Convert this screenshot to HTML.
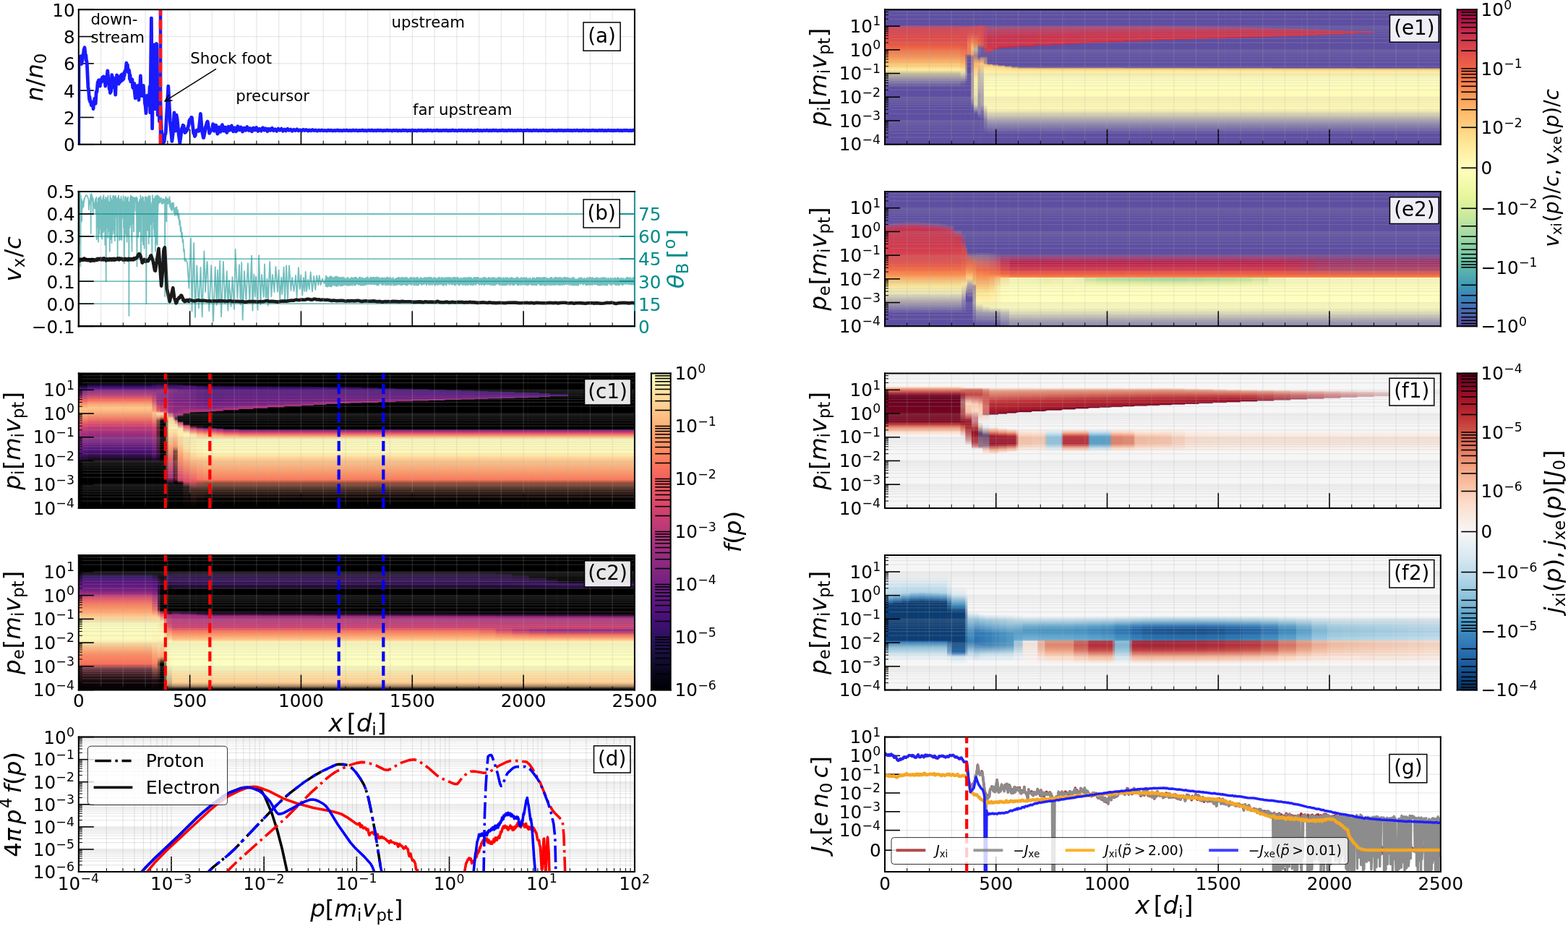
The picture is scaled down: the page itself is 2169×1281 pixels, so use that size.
<!DOCTYPE html>
<html><head><meta charset="utf-8"><title>figure</title>
<style>html,body{margin:0;padding:0;background:#fff;width:2169px;height:1281px;overflow:hidden}svg{display:block}</style>
</head><body>
<svg xmlns="http://www.w3.org/2000/svg" xmlns:xlink="http://www.w3.org/1999/xlink" width="2169" height="1281" viewBox="0 0 2169 1281"><defs><style>.s0{stroke:#000000}.s1{fill:none;stroke:#b0b0b0;stroke-opacity:0.2;stroke-width:1.3;stroke-linecap:square}.s2{stroke:#000000;stroke-width:1.6}.s3{fill:none;stroke:#b0b0b0;stroke-opacity:0.3;stroke-width:1.2;stroke-linecap:square}.s4{font-size:24.7px;font-family:'DejaVu Sans', 'Liberation Sans', sans-serif}.s5{font-size:17.29px;font-family:'DejaVu Sans', 'Liberation Sans', sans-serif}.s6{fill:none;stroke:#000000;stroke-width:2;stroke-linejoin:miter;stroke-linecap:square}.s7{font-style:oblique;font-size:32.5px;font-family:'DejaVu Sans', 'Liberation Sans', sans-serif}.s8{font-size:22.75px;font-family:'DejaVu Sans', 'Liberation Sans', sans-serif}.s9{font-size:32.5px;font-family:'DejaVu Sans', 'Liberation Sans', sans-serif}.s10{font-size:18.8px;font-family:'DejaVu Sans', 'Liberation Sans', sans-serif}.s11{fill:#ffffff}.s12{font-size:24.7px;font-family:'DejaVu Sans', 'Liberation Sans', sans-serif;text-anchor:end}.s13{font-size:24.7px;font-family:'DejaVu Sans', 'Liberation Sans', sans-serif;text-anchor:middle}.s14{fill:#ffffff;fill-opacity:0.9;stroke:#000000;stroke-width:1.5;stroke-linejoin:miter}.s15{font-size:27.8px;font-family:'DejaVu Sans', 'Liberation Sans', sans-serif;text-anchor:middle}.s16{font-size:13.16px;font-family:'DejaVu Sans', 'Liberation Sans', sans-serif}.s17{font-size:28px;font-family:'DejaVu Sans', 'Liberation Sans', sans-serif}.s18{font-size:21.3px;font-family:'DejaVu Sans', 'Liberation Sans', sans-serif;text-anchor:start}.s19{fill:none;stroke:#008b8b;stroke-opacity:0.75;stroke-width:1.3;stroke-linecap:square}.s20{fill:#008b8b;stroke:#008b8b;stroke-width:1.6}.s21{font-size:24.7px;font-family:'DejaVu Sans', 'Liberation Sans', sans-serif;text-anchor:start;fill:#008b8b}.s22{font-style:oblique;font-size:28px;font-family:'DejaVu Sans', 'Liberation Sans', sans-serif}.s23{font-style:oblique;font-size:18.8px;font-family:'DejaVu Sans', 'Liberation Sans', sans-serif}.s24{fill:none;stroke-dasharray:13.86,5.88;stroke-dashoffset:0;stroke:#ff0000;stroke-width:4.2}.s25{fill:none;stroke-dasharray:13.86,5.88;stroke-dashoffset:0;stroke:#0000ff;stroke-width:4.2}.s26{font-style:oblique;font-size:33.5px;font-family:'DejaVu Sans', 'Liberation Sans', sans-serif}.s27{font-size:33.5px;font-family:'DejaVu Sans', 'Liberation Sans', sans-serif}.s28{font-size:19.6px;font-family:'DejaVu Sans', 'Liberation Sans', sans-serif}.s29{fill:none;stroke:#000000;stroke-width:1.5;stroke-linecap:round}.s30{font-size:22.75px;font-family:'DejaVu Sans', 'Liberation Sans', sans-serif;fill:#008b8b}.s31{font-size:32.5px;font-family:'DejaVu Sans', 'Liberation Sans', sans-serif;fill:#008b8b}.s32{font-size:23.45px;font-family:'DejaVu Sans', 'Liberation Sans', sans-serif}.s33{fill:none;stroke:#ff0000;stroke-width:3.6;stroke-linecap:square}.s34{fill:none;stroke:#0000ff;stroke-width:3.6;stroke-linecap:square}.s35{fill:#ffffff;opacity:0.8;stroke:#000000;stroke-linejoin:miter}.s36{font-size:25.1px;font-family:'DejaVu Sans', 'Liberation Sans', sans-serif;text-anchor:start}</style><style type="text/css">*{stroke-linejoin: round; stroke-linecap: butt}</style></defs><path d="M 0 1281 
L 2169 1281 
L 2169 0 
L 0 0 
z
" class="s11"/><path d="M 108.8 199.7 
L 877.9 199.7 
L 877.9 13.3 
L 108.8 13.3 
z
" class="s11"/><path d="M 108.8 199.7 
L 108.8 13.3 
" class="s3"/><defs><path id="k0" d="M 0 0 
L 0 -21 
" class="s2"/></defs><use xlink:href="#k0" x="108.8" y="199.7" class="s2"/><path d="M 262.6 199.7 
L 262.6 13.3 
" class="s3"/><use xlink:href="#k0" x="262.62" y="199.7" class="s2"/><path d="M 416.4 199.7 
L 416.4 13.3 
" class="s3"/><use xlink:href="#k0" x="416.44" y="199.7" class="s2"/><path d="M 570.3 199.7 
L 570.3 13.3 
" class="s3"/><use xlink:href="#k0" x="570.26" y="199.7" class="s2"/><path d="M 724.1 199.7 
L 724.1 13.3 
" class="s3"/><use xlink:href="#k0" x="724.08" y="199.7" class="s2"/><path d="M 877.9 199.7 
L 877.9 13.3 
" class="s3"/><use xlink:href="#k0" x="877.9" y="199.7" class="s2"/><path d="M 139.6 199.7 
L 139.6 13.3 
" class="s3"/><defs><path id="k1" d="M 0 0 
L 0 -5 
" class="s0"/></defs><use xlink:href="#k1" x="139.564" y="199.7" class="s0"/><path d="M 170.3 199.7 
L 170.3 13.3 
" class="s3"/><use xlink:href="#k1" x="170.328" y="199.7" class="s0"/><path d="M 201.1 199.7 
L 201.1 13.3 
" class="s3"/><use xlink:href="#k1" x="201.092" y="199.7" class="s0"/><path d="M 231.9 199.7 
L 231.9 13.3 
" class="s3"/><use xlink:href="#k1" x="231.856" y="199.7" class="s0"/><path d="M 293.4 199.7 
L 293.4 13.3 
" class="s3"/><use xlink:href="#k1" x="293.384" y="199.7" class="s0"/><path d="M 324.1 199.7 
L 324.1 13.3 
" class="s3"/><use xlink:href="#k1" x="324.148" y="199.7" class="s0"/><path d="M 354.9 199.7 
L 354.9 13.3 
" class="s3"/><use xlink:href="#k1" x="354.912" y="199.7" class="s0"/><path d="M 385.7 199.7 
L 385.7 13.3 
" class="s3"/><use xlink:href="#k1" x="385.676" y="199.7" class="s0"/><path d="M 447.2 199.7 
L 447.2 13.3 
" class="s3"/><use xlink:href="#k1" x="447.204" y="199.7" class="s0"/><path d="M 478 199.7 
L 478 13.3 
" class="s3"/><use xlink:href="#k1" x="477.968" y="199.7" class="s0"/><path d="M 508.7 199.7 
L 508.7 13.3 
" class="s3"/><use xlink:href="#k1" x="508.732" y="199.7" class="s0"/><path d="M 539.5 199.7 
L 539.5 13.3 
" class="s3"/><use xlink:href="#k1" x="539.496" y="199.7" class="s0"/><path d="M 601 199.7 
L 601 13.3 
" class="s3"/><use xlink:href="#k1" x="601.024" y="199.7" class="s0"/><path d="M 631.8 199.7 
L 631.8 13.3 
" class="s3"/><use xlink:href="#k1" x="631.788" y="199.7" class="s0"/><path d="M 662.6 199.7 
L 662.6 13.3 
" class="s3"/><use xlink:href="#k1" x="662.552" y="199.7" class="s0"/><path d="M 693.3 199.7 
L 693.3 13.3 
" class="s3"/><use xlink:href="#k1" x="693.316" y="199.7" class="s0"/><path d="M 754.8 199.7 
L 754.8 13.3 
" class="s3"/><use xlink:href="#k1" x="754.844" y="199.7" class="s0"/><path d="M 785.6 199.7 
L 785.6 13.3 
" class="s3"/><use xlink:href="#k1" x="785.608" y="199.7" class="s0"/><path d="M 816.4 199.7 
L 816.4 13.3 
" class="s3"/><use xlink:href="#k1" x="816.372" y="199.7" class="s0"/><path d="M 847.1 199.7 
L 847.1 13.3 
" class="s3"/><use xlink:href="#k1" x="847.136" y="199.7" class="s0"/><path d="M 108.8 199.7 
L 877.9 199.7 
" class="s3"/><defs><path id="k2" d="M 0 0 
L 21 0 
" class="s2"/></defs><use xlink:href="#k2" x="108.8" y="199.7" class="s2"/><text class="s12" x="103.7" y="209.08407">0</text><path d="M 108.8 162.4 
L 877.9 162.4 
" class="s3"/><use xlink:href="#k2" x="108.8" y="162.42" class="s2"/><text class="s12" x="103.7" y="171.80407">2</text><path d="M 108.8 125.1 
L 877.9 125.1 
" class="s3"/><use xlink:href="#k2" x="108.8" y="125.14" class="s2"/><text class="s12" x="103.7" y="134.52407">4</text><path d="M 108.8 87.9 
L 877.9 87.9 
" class="s3"/><use xlink:href="#k2" x="108.8" y="87.86" class="s2"/><text class="s12" x="103.7" y="97.24407">6</text><path d="M 108.8 50.6 
L 877.9 50.6 
" class="s3"/><use xlink:href="#k2" x="108.8" y="50.58" class="s2"/><text class="s12" x="103.7" y="59.96407">8</text><path d="M 108.8 13.3 
L 877.9 13.3 
" class="s3"/><use xlink:href="#k2" x="108.8" y="13.3" class="s2"/><text class="s12" x="103.7" y="22.68407">10</text><g transform="translate(59.510266 140.3) rotate(-90)"><text><tspan x="0" y="-0.9375" class="s7">n</tspan><tspan x="31.547852" y="-0.9375" class="s7">n</tspan><tspan x="20.598145" y="-0.9375" class="s9">/</tspan><tspan x="52.145996" y="4.476562" class="s8">0</tspan></text></g><path d="M108.8 199.7l.2-112.1 .6 1.2 .6-7.5 .4 .8 .5-3.9 .2 1.4 .6-1.9 .8 10.8 .2-1.6 .2 1 .6-6.4 .4 2.4 .4-7.3 .5-.7 .2 1 .8-7.9 .6-2.1 .2 .5 .2-1.7 1.2 10.3 .7 .6 .6 7.8 .2-.3 .2 .3 .4 3.5 1.6 33.4 .5 1.1 1.2 15.5 .4-3.9 .6 6.7 .2-2.4 1.7 7.3 .4-3.8 .6 2.7 .2-1.3 .2 1.3 .2-1.6 1 7.7 .6-9.3 .5-1.4 .2 1.9 .4-5.2 .2-.3 .4 .4 .8 6.6 1-16.1 .4-1.2 .2 1.5 .3-.9 1-12.3 .2 2.7 .2-3.8 .4 2.3 .6-4.7 .6 6.7 .7-2.6 .6 4.3 .6-8.9 .8 3.7 .6-2.9 .4 1.8 .4-4.9 .5 2.2 .2-3.4 .8 4.7 .6-5.7 .2 2.2 .2-.9 .2 .9 .2-1.1 .4 6 .6-1.1 .7 7.2 1.4-12.9 .4 3.7 1.2-11.9 1.3 13.9 .2-1.5 .4 .4 .4 11.3 .4 1.8 .2-2.2 .2 .4 .6 6.6 .4-4.6 .7 2.6 1.2-22.9 .8 6.6 .2-.3 .2 .8 .2-.9 .2 .9 .2-3.3 1.3 13.3 .6-1.5 .2 2.5 .2-1 .2 1.1 .6 9.3 .8-16.7 .2-1 .3 1.6 .6-11.1 .4 1.6 .4-.6 .2 .5 .6 6.7 .2-2.6 .8 6.5 .7-8 .6 5 .4 .5 .2-4.7 .2 1.6 .4-.3 .2-4 .6-2.3 .6 8 .7-8.9 1.2 7.4 .6-4.5 .4 3.2 .6-8.2 .4 3.7 .7-5.6 .2-.7 .2 .9 .2-1.7 .2 1.2 .2-.8 .2 .6 1-11.4 .8 5.9 .7-3.1 .4 6.9 .6 3 .2-.6 .2 .4 .2-2.5 .2 .6 .2-.9 .6 3.7 .4 8.8 .6-5.5 .7 9 .6-2.6 1 2.8 .6-3.1 .8 11.1 .5-.4 .4-5.3 .6 7.6 .6-7.5 .4 11 1 9.5 .6-13 .3 .8 .2-.7 .2 .3 .2-1.8 .6 0 .6-2.8 .8 11.8 .2-1.6 .4 1.4 .7 8 1.2-21.1 .2 .5 .2-.8 .2 1.7 .6-13.6 .6 15.3 .9 3.3 .6 9 1-10.4 .8-3.8 .6 10.1 .7 5.1 .2-1.4 .6 10.5 .8 4 .8 10 .6-12.2 1.3-12.3 .6 8.3 .2 .8 .2-.9 .8 4.7 .2-4.8 .4-2.8 .2 .5 .6-18 .7 35.8 1.6-130.7 1.2 152.8 .9-77.1 1 42.4 .8-81.2 1 88.7 1.9-90 .2 .9 .2-1.1 .4 3.8 1.2 94.8 1.3-45.3 1 54.2 1-33.2 1.7 43.9 1.8 18.4 .4-1 .2 .9 .4-.5 .7 .3 .4-.8 1-8.7 .8-2.3 .4-3.6 3.5-62.2 2.5 48.7 2.6 27.5 1.3-10.1 1.8-29.4 1.7 25.2 1.4-21.9 1 5.2 2.1 21.8 1.6 11.6 2.7-19.9 1.2-2.6 .4-2 .9 .5 .4 3.9 1.4 5.8 .8-1.2 .2 .6 .9-4.3 .8 2.2 .4-1.7 .4-.7 .2 .5 .6-3.6 1-2.7 .7-5.7 .4 .2 .6-1.8 .2 .5 1-.8 .6-2.5 .2 .5 .5-.5 .2 .9 2.2 20.8 .6-.6 1.1 5 .8-1.3 1-6.5 .4 .4 .6-1 .7 .5 .4-1.1 .6 .5 .2-.4 .8 1.7 2.5-24.1 2.2 24.7 1.7 8.4 .4 .1 2-9.7 .6-5.4 .7-.7 .8-4.1 .2 .5 .4-1.9 .2-.5 .4 .3 .2-1 2.5 16.3 2.2-5 1.1 0 .2 .8 .2-.5 1.2-8 1.9 9.6 .4-.3 1.6-7.6 .3 .1 2 11.7 .4-.1 .4-1.5 1.5-7.6 1.6 5.7 .4 .6 .4-.6 1.9-9 2 8.4 .4 .2 .4-.8 1.1-4.3 .4-.1 2 7.5 .7-1.5 1.6-6.9 2 5 .3-.2 2-6 2.3 8 2-5.1 1.5 4.3 .4 .7 .4-.2 2-6.9 2.3 5.1 2-3.9 2.3 6.2 1.9-5 .4 .1 1.6 3.2 .4-.1 1.9-4.9 2.4 5.2 1.9-3.1 2.4 4.3 1.9-4.9 .8 .4 1.6 2.7 1.9-3.6 2.3 5 2-3.2 2.3 2.9 1.6-3.6 .8-.8 1.9 3.5 1.6-2.2 .8-.1 1.9 3.8 2-3.4 .7 .2 1.6 2 1.6-2.8 .7-.5 2 3.5 2.3-2 2 2.7 2.3-3.3 2 2.1 2.3-2.1 2 3.1 2.3-2.1 1.9 1.8 2.4-2.7 1.9 2.2 2.4-1.4 1.9 2.3 2.4-2.1 1.9 1.4 2.4-1.8 1.9 2 2.3-1.1 2 1.4 2.3-1.8 2.4 1.2 1.9-1.1 2.4 1.7 1.9-1.2 2.4 .9 1.9-1.3 2 1.1 2.3-.6 2.3 1.1 2-1.1 2.3 .7 2-.8 2.3 1 2-.6 2.3 .7 2.3-1 2 .7 2.3-.6 2 .9 2.3-.7 2 .5 2.3-.8 2 .8 2.3-.5 1.9 .7 2-.8 2.3 .5 2-.7 2.3 .9 2.4-.6 1.9 .6 2.4-.9 1.9 .7 2.3-.6 2.4 .9 1.9-.7 2.4 .4 1.9-.7 2 .8 2.3-.5 2 .7 2.3-.9 2.3 .6 2-.7 1.9 .9 2.4-.6 2.3 .6 2-.9 2.3 .7 2-.5 2.3 .8 1.9-.7 2.4 .4 1.9-.7 2.4 .8 1.9-.5 2.4 .7 1.9-.9 2.4 .6 2.3-.6 1.9 .9 2-.7 2.3 .6 2.4-.9 1.9 .7 2.4-.5 1.9 .8 2-.7 2.3 .4 2.3-.7 2 .8 2.3-.5 2 .7 2.3-.9 2 .6 2.3-.6 2.3 .9 2-.7 2.3 .5 2-.8 1.9 .7 2.4-.5 1.9 .8 2.4-.8 1.9 .5 2.4-.7 2.3 .9 1.9-.6 2.4 .6 1.9-.8 2.4 .6 1.9-.6 2.4 .9 1.9-.7 2.4 .5 1.9-.8 2.3 .8 2-.5 2.3 .7 2-.8 2.3 .5 2-.7 2.3 .9 2-.6 2.3 .6 2.3-.8 2 .6 2.3-.5 2 .8 2.3-.7 2 .5 2.3-.8 2 .8 2.3-.5 1.9 .7 2.4-.8 1.9 .5 2.4-.6 2.3 .8 2-.6 1.9 .6 2.4-.9 1.9 .7 2.3-.5 2 .8 2.3-.7 2.4 .4 1.9-.7 2 .8 2.3-.5 2 .6 2.3-.8 2.3 .6 2-.6 2.3 .8 2-.6 2.3 .5 2-.7 2.3 .6 2-.5 2.3 .8 1.9-.7 2.4 .4 1.9-.7 2.4 .8 1.9-.5 2.4 .6 2.3-.8 2 .6 2.3-.5 1.9 .7 2.4-.6 1.9 .5 2.4-.7 1.9 .6 2.4-.4 1.9 .7 2-.7 2.3 .4 2.3-.6 2 .7 2.3-.4 2 .5 2.3-.8 2 .5 2.3-.4 2.3 .7 2-.6 2.3 .4 2-.6 1.9 .6 2.4-.4 1.9 .6 2.4-.7 1.9 .5 2.4-.6 2.3 .8 1.9-.5 2.4 .4 1.9-.7 2.4 .6 1.9-.5 2.4 .7 1.9-.6 2.3 .4 2-.6 2.3 .6 2-.4 2.3 .6 2-.7 2.3 .5 2-.6 2.3 .8 2-.5 2.3 .4 2.3-.7 2 .6 2.3-.4 2 .6 1.9-.6 2.4 .4 2.3-.6 2 .7 2.3-.5 1.9 .6 2.4-.7 1.9 .4 2.4-.4 2.3 .7 2-.5 2.3 .4 2-.7 1.9 .6" clip-path="url(#k6)" style="fill: none; stroke: #1a1aff; stroke-width: 4.8; stroke-linecap: square"/><path d="M 222 199.7 
L 222 13.3 
" clip-path="url(#k6)" style="fill: none; stroke: #1a1aff; stroke-width: 4.5; stroke-linecap: square"/><path d="M 222 199.7 
L 222 13.3 
" clip-path="url(#k6)" style="fill: none; stroke-dasharray: 14.4,5.4; stroke-dashoffset: 0; stroke: #ff1a1a; stroke-width: 4.5"/><path d="M 108.8 199.7 
L 108.8 13.3 
" class="s6"/><path d="M 877.9 199.7 
L 877.9 13.3 
" class="s6"/><path d="M 108.8 199.7 
L 877.9 199.7 
" class="s6"/><path d="M 108.8 13.3 
L 877.9 13.3 
" class="s6"/><path d="M 298.5 95.6 
Q 262.6 118.2 228.2 139.9 
" class="s29"/><path d="M 238 138.9 
L 228.2 139.9 
L 233.3 131.5 
" class="s29"/><text class="s18" x="263.3" y="88.1">Shock foot</text><path d="M 807 70.2 
L 858.1 70.2 
L 858.1 30.9 
L 807 30.9 
z
" clip-path="url(#k6)" class="s14"/><text class="s15" x="832.6" y="58.671063">(a)</text><path d="M 108.8 451.3 
L 877.9 451.3 
" clip-path="url(#k7)" class="s19"/><defs><path id="k3" d="M 0 0 
L -21 0 
" style="stroke: #008b8b; stroke-width: 1.6"/></defs><use xlink:href="#k3" x="877.9" y="451.3" class="s20"/><text class="s21" x="883" y="460.68407">0</text><path d="M 108.8 420.2 
L 877.9 420.2 
" clip-path="url(#k7)" class="s19"/><use xlink:href="#k3" x="877.9" y="420.233333" class="s20"/><text class="s21" x="883" y="429.617404">15</text><path d="M 108.8 389.2 
L 877.9 389.2 
" clip-path="url(#k7)" class="s19"/><use xlink:href="#k3" x="877.9" y="389.166667" class="s20"/><text class="s21" x="883" y="398.550737">30</text><path d="M 108.8 358.1 
L 877.9 358.1 
" clip-path="url(#k7)" class="s19"/><use xlink:href="#k3" x="877.9" y="358.1" class="s20"/><text class="s21" x="883" y="367.48407">45</text><path d="M 108.8 327 
L 877.9 327 
" clip-path="url(#k7)" class="s19"/><use xlink:href="#k3" x="877.9" y="327.033333" class="s20"/><text class="s21" x="883" y="336.417404">60</text><path d="M 108.8 296 
L 877.9 296 
" clip-path="url(#k7)" class="s19"/><use xlink:href="#k3" x="877.9" y="295.966667" class="s20"/><text class="s21" x="883" y="305.350737">75</text><g style="fill: #008b8b" transform="translate(946.625672 399.2125) rotate(-90)"><text><tspan x="0" y="-0.428125" style="font-style: oblique; font-size: 32.5px; font-family: 'DejaVu Sans', 'Liberation Sans', sans-serif; fill: #008b8b">θ</tspan><tspan x="19.884033" y="4.985937" class="s30">B</tspan><tspan x="54.665535" y="-13.060938" class="s30">o</tspan><tspan x="41.670272" y="-0.428125" class="s31">[</tspan><tspan x="69.486702" y="-0.428125" class="s31">]</tspan></text></g><path d="M108.8 273.8l.2-4.6 .4 6 .2-3.8 .2 66 .2-65.4 .2-5 .2 8.5 .1-7.6 .2 3.4 .2-4.5 .2 4 .2 97.7 .4-97.8 .8 12.3 .4-6.8 .2 30.1 .4-28.5 .3 6.8 .4-5 .2 8.2 .2-8 .4 6.8 .2-7.7 .4 6.8 .6-10.3 .2 4.1 .2-3.5 1.5-4.5 1.2-1.4 1.3 .7 2 5.2 .2 14.2 .2-9.4 .1 4.6 .2-6.8 .4 4.1 .2-4.8 .2 3 .2-1 .2 1.1 1-12.1 .2 54 .2-51.3 .4-3.8 .1 4.5 .6-.1 .2 3.7 .2-5.2 .6 8.5 .2-2.7 .2 .9 .2 18.6 .2-21.9 .7 11 .4-2.9 .6 1.8 .2 4.3 .2-5.5 .2 5.6 .2-8.9 .2 2.6 .2-1 .4-5.8 .2 5.4 .3-2.2 .2 16.8 .5-22.5 .4 58.5 .5-49.4 .2 33 .5-34.1 .2 12.7 .2-13.5 .3 13 .2-18.5 .2 60.3 .3-43.9 .2 32.8 .2-49.8 .5 49.6 .2-50.6 .5 43.3 .2-34.1 .5 21.2 .7-31.9 .2 55.6 .2-52.6 .7 14.2 .3-6.2 .4 48.1 .3-53.5 .4 22.7 .7-27.3 .2 49.2 .3-43.4 .4-8 .3 48.9 .7-43 .2 32.7 .5-30.3 .2 60.2 .2-58.7 .5 54.7 .2-61.7 .5 116.2 .2-91.2 .5-18.7 .2 25.1 .5-30.4 .2 41 .2-39.4 .7 53.2 .3-57.8 .2 25.7 .4-18.2 .3 9.4 .2-8.8 .2 4.4 .3 36.8 .2-22.7 .2 8.7 .3 41.4 .2-65.3 .2 37 .3-48.9 .4 9.6 .5 50.7 .5-56.3 .4 6.3 .2 55.4 .5-47.7 .5 35.7 .2-46.4 .2 4.6 .3-11.5 .4 47.7 .3-40.3 .2-7.4 .2 4.2 .5 47.8 .4-50.5 .7 60.6 .5-61.9 .2 28.7 .3-28.9 .2 19.9 .2-18.2 .5 9.3 .2-7.3 .5 52.4 .2-37.4 .2-9.5 .3 8.4 .2-13 .2 82.6 .5-85.3 .5 15.9 .4-18.3 .3 10.7 .2-7.3 .2 4.4 .5 54.1 .4-56.1 .3 4.3 .2-4.7 .2 31.6 .3-31.3 .7 55.1 .2-59.4 .2 17.3 .3-14.3 .2 57.2 .2-50 .5 .1 .2 16.6 .2-20.2 .3 23.2 1.1-30.6 .3 44.1 .4-36.1 .5 85.2 .5-65.6 .2 24.2 .5-50.1 .4 35.5 .5-36.2 .4 53.3 .3-43.8 .2 6.6 .2-13.1 .5 59.7 .2-59.9 .3-.7 .2 .6 .2 40.9 .5-43.2 .4 54.6 .3-43.2 .4-4.5 .3 157.4 .2-156.6 .9 34.8 .5-41.7 .5 13.4 .2-16.4 .2 40.5 .2-31.4 .3 2.6 .2-10.3 .2 6.3 .3 55.2 .2-25.1 .2 39.6 .7-75.5 .5 36.5 .2-30.5 .3 4.5 .4-9.6 .5 47.2 .2-36.3 .5-2.2 .2 9.8 .2-18.1 .7 3 .5-3.1 .5 6.4 .2-4.3 .2 18.5 .5-21.4 .7 95.9 .4-94 .3 7.1 .2 .9 .2-.8 .3 31.8 .2-21.9 .2 36.2 .3-40.7 .2 10.5 .2-17.8 .3 31.8 .2-33.1 .2 7.4 .2 34.5 .3-43.9 .4 41.4 .7-47.5 .3 13.4 .2-10.1 .2 90.6 .3-80.6 .4-8.4 .5 19.3 .2-14.1 .2 6.5 .5-14.9 .2 61.7 .3-51.9 .4 56.7 .3-65.4 .2 44.1 .2-39.9 .3 34.5 .4-32.1 .3 63.8 .2-60.1 .2 17.3 .2-19.1 .3 44.8 .2-54.4 .2 9.9 .3-8.6 .2 41.4 .2-35 .3 23.7 .2-30.9 .2 147.6 .3-146.2 .2-.9 .2 1.6 .3 27.4 .2-19.6 .5-1.8 .2 37.9 .2-42.9 .2 31.3 .3-34 .2 8.9 .2-11 .3 66.5 .2-59.1 .5 34.4 .4-37.5 .3 7.8 .2-11.8 .2 56.3 .3-56.1 .4 27.2 .2-15.2 .5-3 .5 30.2 .4-25.8 .5 73.3 .7-87.9 .5 36.6 .2-25.5 .4-6.6 .3 26 .2-20.7 .2 36.8 .3-36.2 .4 45.5 .3-51.7 .4 7.4 .3 30.7 .2-41.3 .2 76.5 .5-74.7 .2 65.5 .5-53.9 .4 22.2 .3-36.2 .4 65.5 .3-42.8 .2 45.7 .5-68.8 .2 23.9 .5-22.8 .2 10.3 .5-9.7 .3 9 .7-8.2 .5 7.5 .5-4.8 .2 2 .2-2.8 .5 4 .7-4.7 .3 7.8 .2-4.5 .2 2.4 .7-2.6 .5 4.8 .5-6.6 .5 5.7 .9-5.2 .2 3 .3-2.4 .5 2.4 .2 131.2 .2-130.4 .1-2.3 .2 3.4 .4-1.3 .3-7.2 .5 8.4 .2-2.6 .2 28.4 .3-29 .5-2.6 .2 6.3 .2-3.7 .3 .1 .2-1.9 .3 4.3 .2-3.6 .2 6.1 .3-6.7 .7 3.4 .4-1.8 .1 2.9 .2-8 .5 5.3 0 8.6 .6-8.2 .9 11.7 .7-7.8 .6 9.9 .9-11.3 .6 8.7 .9-7.8 .6 12.8 .6-5.4 .3 .1 .6 9.4 .6-9.9 .3-1.1 .6 8.6 .6-9.6 .9 12 .6-7.8 1 12.3 .6-6.7 .9 15.3 .6-6.2 .9 15.2 .6-6.2 .9 14.1 .6-6.5 .6 12.6 .3 1.4 .6-3.9 .6 15.1 .3 1.6 .3-3.5 .3 .2 .6 15.2 .4 .9 0-3.1 .5 .3 2.5 4.6 .4 2.4 2.1 33.2 2.6-68.9 1.5 101 2.7-94.5 1.8 102.7 2.3-71.6 2.6 59.1 2.7-56.5 2.1 68.5 2.7-90.9 1.7 56.4 2.1-39.2 .4-2.8 .4 4.6 1.4 46.6 .9 17.1 2.9-63 2.9 77.4 2.6-75.3 2 52.6 1.4-48.2 1.4 44.4 1.7-57.4 1.9 77.3 2.8-76.2 2.3 58.5 2.6-45.1 1.5 54.4 1.5-42 2.8 36.4 1.9-40.8 2.5 44.6 1.6-83 2.8 68 2.6-46.6 1.7 55.4 1.5-58.7 1.4 79.6 2.4-67.4 2.3 40.6 2.6-51.6 2.5 54.4 2.7-64.9 1.3 76 1.9-50.1 1.5 30.8 1.1-26.1 .2-1.9 .4 3.1 2 43.3 1.6-75.5 2.4 67.9 1.5-41.3 2.7 31 1.3-45.3 1.5 43.6 .3 3.1 .3-1.7 1.4-24.7 1.2 36.7 2.5-60.3 2.2 48.1 1.6-30.4 2.5 24.3 1.9-35.4 2.5 34.8 1.7-30 1.7 40.5 1.9-30.4 1.2 23.4 2.2-37.7 1.5 47.2 2-49.2 1.9 48.6 2-48.5 2.5 34.5 1.7-18.2 2.4 19.2 2.4-22.1 1.6 30.2 2.4-41 1.4 27.7 .3 2 .3-1.3 1.4-18.2 1.9 28 1.6-24.2 1.5 18.9 1.3-27.2 1.4 27.2 2-16.3 1.7 13.6 1.9-23.9 2.3 27 2.2-21.3 2.1 18.9 1.8-19.7 2.2 13.1 1.4-13.3 1.9 13.3 2.3-8.8 2.4 6.4 1.8-5.2 .2-1.8 .3 11.2 .3-14.7 .4 11.7 .3-10.9 .3 13.5 .4-10.1 .3 11.1 .3-13.2 .3 10.1 .4-7.9 .3 10.3 .3-11.7 .4 10.4 .3-9.7 .3 10.1 .3-11 .4 11.8 .3-13 .3 12.6 .4-10.7 .3 7.6 .3-10.4 .4 14.4 .3-13.3 .3 13.2 .3-13.4 .4 11.9 .3-10.6 .3 9.4 .4-9.7 .3 9.1 .3-8.8 .3 10 .4-8.2 .3 7.7 .3-8.8 .4 9.8 .3-12 .3 11.8 .3-11.1 .4 11.1 .3-9.3 .3 8.3 .4-10.8 .3 13.1 .3-10.3 .4 6.4 .3-9.5 .3 12.9 .3-11.4 .4 11.2 .3-11.1 .3 11.4 .4-10 .3 8.1 .3-9.8 .3 8.9 .4-9 .3 9.1 .3-9 .4 11.1 .3-10 .3 10.7 .3-11.4 .4 10.4 .3-8 .3 5.5 .4-8.1 .3 11.2 .3-10.9 .4 10.7 .3-8.5 .3 8.4 .3-11.4 .4 10.4 .3-8.7 .3 8.9 .4-8.2 .3 8 .3-9.6 .3 9.1 .4-7.5 .3 5.6 .3-5.3 .4 8.2 .3-8.3 .3 5.6 .3-5.7 .4 7.3 .3-8.5 .3 9.7 .4-10.6 .3 11 .3-11.1 .4 9.3 .3-6.7 .3 8.4 .3-8.7 .4 7.5 .3-7.7 .3 8.4 .4-8.1 .3 6.7 .3-6.8 .3 8.4 .4-9.8 .3 9 .3-7.9 .4 6.3 .3-8.2 .3 10.2 .3-9.8 .4 10.6 .3-10 .3 7.2 .4-7.4 .3 7.8 .3-7.4 .4 8 .3-8.2 .3 9.8 .3-10.7 .4 8.9 .3-8.9 .3 10.5 .4-10.3 .3 9.2 .3-9.7 .3 9.5 .4-6.7 .3 5.9 .3-7.8 .4 8.2 .3-7.4 .3 7.5 .4-6.7 .3 5.6 .3-5.1 .3 7.1 .4-8.1 .3 7.4 .3-9.5 .4 10.1 .3-9.7 .3 10.1 .3-10.6 .4 8.2 .3-6.2 .3 9.3 .4-9.6 .3 9.6 .3-8.6 .3 5.5 .4-7.9 .3 9.1 .3-7.8 .4 9.6 .3-8.6 .3 8.7 .4-9.3 .3 6.8 .3-6.3 .3 7.3 .4-8.1 .3 9.3 .3-7.8 .4 4.9 .3-5.3 .3 7.3 .3-9.4 .4 8.9 .3-8.4 .3 9 .4-6.9 .3 5.5 .3-8.9 .3 9.2 .4-9 .3 9.6 .3-7.1 .4 5.4 .3-5.4 .3 6.5 .4-7.3 .3 7.7 .3-8 .3 8.1 .4-6.4 .3 5.7 .3-8.9 .4 8.1 .3-7.3 .3 8.8 .3-8.7 .4 8.2 .3-7 .3 7.7 .4-9.6 .3 8.9 .3-6 .3 5 .4-7.8 .3 8.8 .3-6.1 .4 7 .3-9.6 .3 9.6 .4-7.2 .3 6.6 .3-7 .3 5.6 .4-8 .3 9.6 .3-6.7 .4 8.1 .3-11 .3 10.8 .3-8.3 .4 6.1 .3-7 .3 8.4 .4-9.7 .3 11 .3-11.1 .3 8.9 .4-7.8 .3 7.1 .3-6.8 .4 6.6 .3-5.2 .3 5.4 .4-6.1 .3 6.7 .3-8.1 .3 7.3 .4-5.2 .3 7.2 .3-9.2 .4 9.4 .3-9.5 .3 9.4 .3-8.8 .4 9 .3-7.4 .3 5.6 .4-7.9 .3 7.8 .3-7.1 .3 7.4 .4-7 .3 8.9 .3-9.7 .4 8.4 .3-7.1 .3 8.3 .4-9.6 .3 8.4 .3-9.1 .3 9.9 .4-10.3 .3 10.2 .3-9.9 .4 9.6 .3-9 .3 10 .3-7.8 .4 6.5 .3-8.3 .3 6.9 .4-7.5 .3 9.7 .3-10.2 .3 9 .4-7.4 .3 9.3 .3-9.1 .4 8.8 .3-8.9 .3 7.2 .4-6.7 .3 6.3 .3-6.8 .3 6.6 .4-8 .3 10.8 .3-8.3 .4 5.1 .3-4.7 .3 7.8 .3-8.1 .4 7.2 .3-8 .3 6.3 .4-6.1 .3 7.8 .3-7 .4 7.6 .3-9.5 .3 7.4 .3-6.1 .4 7.5 .3-9 .3 7.8 .4-6.8 .3 7.3 .3-9.2 .3 9.5 .4-9.3 .3 9.7 .3-8.8 .4 8.2 .3-8.6 .3 8.6 .3-8.7 .4 7.7 .3-6.3 .3 8.7 .4-9 .3 8.8 .3-10.6 .4 9.7 .3-6.9 .3 7.6 .3-9.5 .4 7.9 .3-8.6 .3 9.2 .4-6.4 .3 5 .3-5.6 .3 7.4 .4-9.4 .3 7.7 .3-5 .4 6.8 .3-8.1 .3 7.5 .3-8.9 .4 10.5 .3-11 .3 10.5 .4-7.2 .3 5.1 .3-7.1 .4 9.8 .3-8.1 .3 6.6 .3-7.7 .4 7.3 .3-6.8 .3 6.4 .4-6.3 .3 5.7 .3-6.8 .3 8 .4-8.6 .3 9.2 .3-10 .4 9 .3-8.7 .3 8.9 .3-8.2 .4 9.6 .3-8.7 .3 7.5 .4-8.3 .3 7.1 .3-6.7 .4 6.7 .3-5.7 .3 7.5 .3-10 .4 11.3 .3-8.9 .3 5.9 .4-6.8 .3 7.9 .3-7.4 .3 8.5 .4-9.6 .3 8.9 .3-8.6 .4 8.6 .3-8.8 .3 10 .3-10.9 .4 11.1 .3-10.8 .3 7.8 .4-6.5 .3 8.8 .3-8.2 .4 7.6 .3-6.8 .3 5.4 .3-6.6 .4 6.2 .3-6.3 .3 6.8 .4-8.3 .3 8.6 .3-6.9 .3 8.6 .4-9.2 .3 6.6 .3-5.5 .4 7.4 .3-7.3 .3 6.1 .3-7.5 .4 8.3 .3-7.1 .3 7.3 .4-8.6 .3 6.9 .3-5.6 .4 6.5 .3-8.6 .3 7.7 .3-5.9 .4 6.4 .3-7.6 .3 9.7 .4-7.5 .3 7.7 .3-9.9 .3 7.7 .4-8.4 .3 8.6 .3-8.2 .4 7.5 .3-6.4 .3 7.9 .3-9.4 .4 10.5 .3-9.3 .3 6.6 .4-6.2 .3 7.3 .3-9.2 .4 10.3 .3-8.3 .3 7.2 .3-8.4 .4 7.5 .3-7.7 .3 9.6 .4-8.3 .3 8.5 .3-8.4 .3 6.4 .4-6.4 .3 6.1 .3-5 .4 6.3 .3-8.8 .3 8 .4-6.9 .3 9.6 .3-10.7 .3 10.4 .4-9.9 .3 8.8 .3-8.5 .4 8.6 .3-8.2 .3 7.4 .3-6.6 .4 5.6 .3-6.1 .3 8.5 .4-9.1 .3 7 .3-7.9 .3 7.5 .4-7.9 .3 9.9 .3-8.6 .4 7.8 .3-8.7 .3 7.4 .4-4.7 .3 6.4 .3-7.3 .3 6.9 .4-7.7 .3 6.5 .3-8 .4 10.1 .3-7.1 .3 7.3 .3-8.8 .4 8.7 .3-9.4 .3 10.4 .4-8.3 .3 8.3 .3-9.5 .3 6.8 .4-6.5 .3 7.1 .3-8.8 .4 9.3 .3-6.5 .3 7.2 .4-8.7 .3 9 .3-7.5 .3 7.7 .4-10.5 .3 7.6 .3-6.2 .4 6.5 .3-6.7 .3 6.6 .3-7.8 .4 8.1 .3-7.4 .3 9 .4-7.8 .3 6.4 .3-8.4 .3 7.8 .4-5.6 .3 6.5 .3-7.6 .4 7.8 .3-6.2 .3 6.9 .4-8.9 .3 9.3 .3-8.6 .3 7.3 .4-5.6 .3 6.3 .3-8.4 .4 8.1 .3-9.2 .3 8.4 .3-7.9 .4 9.7 .3-10 .3 10.7 .4-8.5 .3 8.4 .3-9 .3 8.2 .4-10 .3 9.7 .3-8.5 .4 6.8 .3-6.8 .3 7.3 .4-6.6 .3 7.1 .3-9.1 .3 10 .4-9.1 .3 7.5 .3-6.1 .4 8.5 .3-7.9 .3 8.1 .3-9.1 .4 7.2 .3-7.5 .3 7.7 .4-7.6 .3 7.6 .3-8.4 .3 7.9 .4-6 .3 6.5 .3-6.3 .4 6.3 .3-7.7 .3 8.9 .4-7.6 .3 6.3 .3-8.5 .3 8.3 .4-8.5 .3 9.7 .3-7 .4 5.9 .3-8.4 .3 8.9 .3-8.6 .4 10.2 .3-10.2 .3 8.7 .4-9.2 .3 8.8 .3-6 .3 5.4 .4-7.4 .3 9.7 .3-9.7 .4 7.5 .3-8.8 .3 9.2 .4-6.7 .3 7.2 .3-7.5 .3 6 .4-7.3 .3 9.2 .3-10.1 .4 8.3 .3-8.1 .3 10.3 .3-8 .4 6.9 .3-8.2 .3 7.7 .4-5.9 .3 7.6 .3-7.8 .3 6.7 .4-7.7 .3 9.1 .3-9.5 .4 7.8 .3-9.2 .3 9 .4-8.1 .3 7.7 .3-7.8 .3 9.5 .4-9.8 .3 8.9 .3-6.8 .4 7.3 .3-9.6 .3 8.6 .3-5.6 .4 5.1 .3-8.2 .3 7.6 .4-4.7 .3 5 .3-7.8 .4 8.8 .3-8.1 .3 9.2 .3-8.3 .4 8.4 .3-8.5 .3 7.8 .4-7.3 .3 5.5 .3-6.5 .3 7.4 .4-6.3 .3 8.4 .3-8.7 .4 6.1 .3-7 .3 8.4 .3-6.5 .4 5.9 .3-7.7 .3 7.4 .4-8.7 .3 10.5 .3-8.9 .4 9.3 .3-7.7 .3 5.4 .3-8.3 .4 9.2 .3-6.7 .3 6.9 .4-8.8 .3 8.9 .3-6.6 .3 4.7 .4-5.9 .3 5.9 .3-4.9 .4 7 .3-8.1 .3 6.2 .3-7.7 .4 8.6 .3-8.6 .3 9.4 .4-8.6 .3 8 .3-8.1 .4 7.5 .3-6.1 .3 8.2 .3-8.1 .4 6.5 .3-8.3 .3 8.1 .4-6.8 .3 8.8 .3-8.3 .3 6 .4-8.2 .3 8.3 .3-6.5 .4 8.6 .3-8.5 .3 8.8 .3-10.5 .4 10 .3-8 .3 5.9 .4-7.7 .3 9.8 .3-8 .4 5.9 .3-6 .3 5.8 .3-6.4 .4 7.6 .3-8.3 .3 6.8 .4-5.3 .3 5.5 .3-5.8 .3 6 .4-8.2 .3 8.8 .3-6.1 .4 7.1 .3-9.9 .3 10.4 .3-9.3 .4 7.9 .3-7.1 .3 6.8 .4-8.2 .3 9.9 .3-8.8 .4 9 .3-9.5 .3 8.9 .3-7.7 .4 6.2 .3-6 .3 8.2 .4-10.1 .3 10.1 .3-10.2 .3 9.9 .4-8.6 .3 8.5 .3-7.6 .4 7.2 .3-6.8 .3 7.8 .3-10.6 .4 7.9 .3-7.5 .3 9.7 .4-7.3 .3 6.5 .3-7.8 .4 8 .3-9.5 .3 9.8 .3-7.6 .4 7 .3-8.1 .3 6.3 .4-4.9 .3 6.1 .3-6.3 .3 5.9 .4-7.5 .3 9.9 .3-9.2 .4 8.1 .3-9.1 .3 9.2 .3-8.9 .4 6.7 .3-7.4 .3 7.9 .4-5.6 .3 6.8 .3-8.1 .4 8.9 .3-7.9 .3 8.5 .3-9.7 .4 9.4 .3-8.8 .3 6.2 .4-4.7 .3 6.6 .3-8 .3 7.4 .4-7 .3 6.1 .3-6.6 .4 6.8 .3-8.2 .3 8 .4-8.3 .3 10.6 .3-8.6 .3 8.3 .4-9 .3 7.9 .3-8.7 .4 10 .3-7.9 .3 8.1 .3-7.6 .4 4.6 .3-6.1 .3 7.1 .4-6.9 .3 7.5 .3-7.6 .3 9 .4-10.5 .3 8.6 .3-6.5 .4 7.6 .3-7.3 .3 6.4 .4-8.1 .3 6.8 .3-7 .3 9.4 .4-8.1 .3 6.5 .3-7 .4 7.2 .3-8.2 .3 9.1 .3-7.4 .4 8.2 .3-9.2 .3 6.9 .4-6.2 .3 7.4 .3-9.2 .3 8.6 .4-6.9 .3 9.1 .3-9.1 .4 8.6 .3-7.5 .3 6.1 .4-6.4 .3 8 .3-9.2 .3 7 .4-5.5 .3 6.2 .3-6.2 .4 6.4 .3-8.5 .3 7.9 .3-6 .4 6.2 .3-6.2 .3 7.8 .4-7.6 .3 7.2 .3-8 .3 8 .4-9.4 .3 7.4 .3-7.4 .4 10.1 .3-9.4 .3 8.4 .4-7.6 .3 6.1 .3-7.5 .3 9.6 .4-7.8 .3 5.5 .3-6 .4 7.7 .3-7.8 .3 8.9 .3-10.3 .4 10.1 .3-9.4 .3 8.9 .4-10.1 .3 7.7 .3-6.4 .3 6.9 .4-7.7 .3 7.8 .3-7.6 .4 8 .3-7.7 .3 8.8 .4-9.7 .3 10.4 .3-8.8 .3 8.2 .4-7.3 .3 5.3 .3-7.1 .4 9.8 .3-9.9 .3 8.6 .3-8.2 .4 8.9 .3-8.7 .3 7.5 .4-8.5 .3 8.5 .3-8.6 .3 10 .4-9.7 .3 9.8 .3-10.4 .4 10.9 .3-9.3 .3 7.3 .4-8.1 .3 10.1 .3-9.7 .3 6.6 .4-4.7 .3 6.1 .3-8.5 .4 9.9 .3-8.6 .3 7.4 .3-7.8 .4 6.4 .3-4.7 .3 6.1 .4-7.8 .3 8.9 .3-7.8 .3 7.8 .4-8.1 .3 7.1 .3-8.6 .4 7.2 .3-8 .3 10.7 .4-10.7 .3 7.6 .3-6.6 .3 8.8 .4-9.5 .3 7.9 .3-5.4 .4 7.4 .3-7.9 .3 5.5 .3-4.9 .4 6.8 .3-8.3 .3 8.6 .4-9.5 .3 7.1 .3-7.5 .4 10.4 .3-10.4 .3 10 .3-8.2 .4 6.5 .3-8.2 .3 8.8 .4-7.4 .3 8.3 .3-9 .3 9 .4-8.8 .3 8.1 .3-8.6 .4 8.3 .3-6.6 .3 8.3 .3-10.2 .4 9.5 .3-7.3 .3 5.1 .4-7.6 .3 10.6 .3-8.4 .4 7.3 .3-6.5 .3 5.8 .3-8 .4 7.9 .3-8.3 .3 10.1 .4-7.9 .3 7.1 .3-7.9 .3 6.2 .4-6.1 .3 7.1 .3-8.9 .4 9.9 .3-6.9 .3 4.5 .3-7.8 .4 9.5 .3-8.2 .3 7.5 .4-8.3 .3 9 .3-8.2 .4 7.2 .3-7.8 .3 7.7 .3-5.6 .4 6.8 .3-9.1 .3 8.1 .4-6.3 .3 5.8 .3-6.8 .3 8.9 .4-7.3 .3 6.5 .3-7.9 .4 6.5 .3-6.5 .3 7.1 .3-6 .4 8.3 .3-7.9 .3 5.8 .4-7.6 .3 7.8 .3-5.8 .4 7.3 .3-8 .3 6.5 .3-8.7 .4 10.5 .3-10.5 .3 8.7 .4-8.2 .3 9.6 .3-7.8 .3 8.2 .4-7.9 .3 6.9 .3-7.3 .4 5.9 .3-5.6 .3 7.9 .3-7.8 .4 7.7 .3-7.9 .3 6 .4-6.1 .3 8.3 .3-7.9 .4 7.5 .3-8.2 .3 8.5 .3-10 .4 7.7 .3-6.9 .3 6.6 .4-6.3 .3 5.8 .3-6.7 .3 8.6 .4-7.2 .3 5.3 .3-7.5 .4 7.9 .3-5.9 .3 5.5 .3-5.7 .4 7 .3-7.5 .3 7.2 .4-6.2 .3 7.7 .3-7.8 .4 6.3 .3-7 .3 6.8 .3-7.6 .4 7 .3-5.7 .3 6.8 .4-6.6 .3 8 .3-8.3 .3 6.9 .4-7.2 .3 8.6 .3-7.8 .4 7.8 .3-10.2 .3 8.3 .3-5.8 .4 7.5 .3-7.9 .3 6.1 .4-5.4 .3 6.7 .3-9.5 .4 10.3 .3-9.1 .3 7.7 .3-9 .4 9.7 .3-9.6 .3 9.7 .4-8.9 .3 8.9 .3-7 .3 5.6 .4-5.4 .3 7.6 .3-10.7 .4 9.6 .3-6.8 .3 5.3 .3-6.3 .4 7.1 .3-6.2 .3 5.2 .4-6.7 .3 9 .3-7.1 .4 5.6 .3-6.4 .3 7.1 .3-8.1 .4 7.7 .3-8.5 .3 8.4 .4-6.6 .3 7.8 .3-9.6 .3 10 .4-7.8 .3 5.6 .3-6.5 .4 9 .3-9.5 .3 8.4 .4-7.5 .3 8.7 .3-8.2 .3 6.8 .4-8.4 .3 9.2 .3-9.7 .4 8.3 .3-6.5 .3 8.4 .3-9.3 .4 7.1 .3-5.8 .3 7.5 .4-9.8 .3 9 .3-7.5 .3 7.8 .4-9.7 .3 9.4 .3-8.8 .4 9.8 .3-9.7 .3 8.4 .4-6.5 .3 7.2 .3-9.3 .3 10.2 .4-8 .3 5.2 .3-6.8 .4 9.1 .3-7.3 .3 6.6 .3-7.2 .4 8.5 .3-8.8 .3 5.8 .4-7.1 .3 7.8 .3-6.7 .3 6.2 .4-5.9 .3 5.9 .3-5.6 .4 7 .3-7.2 .3 7.5 .4-9.4 .3 9.1 .3-6.3 .3 7.6 .4-8.1 .3 6.1 .3-7.2 .4 8 .3-7.4 .3 6.9 .3-7.8 .4 7.8 .3-6.7 .3 6.6 .4-6.9 .3 6.5 .3-7.3 .3 8 .4-7.3 .3 7.9 .3-9.2 .4 9 .3-7.5 .3 8.5 .4-7.7 .3 7.2 .3-8.3 .3 7 .4-8.3 .3 9.2 .3-9.7 .4 10.4 .3-7.6 .3 6.4 .3-8.5 .4 7.1 .3-6.4 .3 9.4 .4-8.4 .3 5.5 .3-5.6 .3 6.3 .4-6.3 .3 6.6 .3-8.4 .4 8.7 .3-7.9 .3 6.6 .4-4.9 .3 7.6 .3-8.5 .3 8.5 .4-8.5 .3 7.5 .3-8.5 .4 6.7 .3-4.8 .3 6 .3-6.2 .4 5.7 .3-5.9 .3 5.9 .4-6.8 .3 6.8 .3-6.4 .3 7 .4-8.1 .3 6.7 .3-7.7 .4 8.9 .3-8.7 .3 7.3 .4-4.5 .3 4.8 .3-7.5 .3 8.6 .4-8.4 .3 9.3 .3-6.9 .4 5.8 .3-6.6 .3 6.9 .3-8.2 .4 7 .3-7.6 .3 8.9 .4-7.1 .3 7.8 .3-7.5 .3 7.5 .4-7.9 .3 7.2 .3-6.5 .4 5.6 .3-7.8 .3 9 .4-7.6 .3 8.2 .3-9.7 .3 7.7 .4-8 .3 7.6" clip-path="url(#k7)" style="fill: none; stroke: #008b8b; stroke-opacity: 0.55; stroke-width: 1.8; stroke-linecap: square"/><path d="M 108.8 451.3 
L 108.8 264.9 
" class="s6"/><path d="M 877.9 451.3 
L 877.9 264.9 
" style="fill: none; stroke: #008b8b; stroke-width: 2; stroke-linejoin: miter; stroke-linecap: square"/><path d="M 108.8 451.3 
L 877.9 451.3 
" class="s6"/><path d="M 108.8 264.9 
L 877.9 264.9 
" class="s6"/><path d="M108.8 360.4l.7-1.8 1.1 2.1 .6-1.5 .2 .5 .7-.8 .4 .8 .5-.4 .9 .3 1.1-1.4 .8 1.3 .7-2 1.3 1.9 .7-.5 .2 .8 .7-.8 .2 .8 .9-.6 .4 1.1 .9-.8 .9 .6 .2-1 1.3 1.6 .9-1.2 .4 1.7 .7-1.1 .4 .2 .7-1.4 .6 1.7 1.6-1.2 .9 1.3 .2-1.1 .4-.1 .2 .4 .3-.3 .6 .4 .5-.4 .6 .3 .9-1.5 .7 1.3 .6-1.8 .5 1.4 .6-1 1.3 .7 .9-1.1 .2 1.1 .3 .2 .4-.9 .7 1.3 .6-1.6 1.1 .7 .7-1 .6 1.8 .9-2 .9 1.7 .7-.5 .8 1.7 1.4-2.1 .9 .4 .8 1.3 1.6-1.7 .6 1.3 .9-.5 .5 .4 .6-1.2 .7 1.4 .9-1.3 .2 .8 .9-.8 .6 1.2 .2-1.3 .5-.3 .6 1.7 .7-1.4 1.5 1 1.8-1.7 .4 1.2 .9-.8 .7 1.5 .6-2 .7 1.4 .7-1.1 .6 .7 .9-.5 .7 .5 .4-.6 .4 1.3 .7-.7 .4 1.4 1.1-1.4 .7 .5 .7-.9 .4 1.5 1.1-1.1 .9 .8 .2-.6 .7 .6 .4-.2 .2 .7 .7-1.7 1.1 1.3 .6-1.2 1.4 1.3 .8-1.1 1.1 .8 .7-.7 .7 1 .8-2 1.1 1.3 1.6-1.7 .6 .4 .9-.7 .7-1.2 .4-.1 .9-3 1.5-1.3 .7 2 .4 .3 .3-.6 3 10.8 1.1-3.3 .7 .3 .9-1.8 1.3 3 1.3-1.8 .9 1.1 .4 .1 .7-.9 .7 .7 1.1-2.8 .4 .3 1.8-4.6 .2 .6 .6-1 2.5 7.6 2.4 12.7 .9 .9 4.6-31 3.7 51.9 1.8-20.5 1.3-27.8 .5-2.7 1.1-2.3 3 57 2.5 12.6 1.3 5.3 4.6-19 1.8 13.4 2.4 7.8 .9-1 1.5-4.6 .9-.5 .6-1.6 .7 .6 .4-1.4 1.1-.6 .7-1.7 .4 .9 .7-.3 .7 2 .6 .7 .7 3.4 .9-.5 1.1 2.4 1.1-1.5 .4 .9 1.3-1.3 .9 .9 .9-.9 1.3 1.6 1.1-2.2 4.2 1.4 2.5 .3 4.9-1.2 3.7 .8 4.9-.2 3.7 .7 3.7-.3 2.5 .6 3.7-.6 3.7 .4 3.7-.5 11.1 .7 3.7-.7 2.5 .8 8.6-.2 1.2 .5 4.9-.1 3.7 .8 5-.8 8.6 0 3.7 .5 3.7-.6 3.7 .2 4.9-1.2 3.7 1 3.7-.3 8.6 .9 5-1 7.4 0 6.1-1.1 2.5 .2 3.7-1.1 3.7 .7 3.7-.8 4.9 .3 2.5-.9 2.4-.2 3.7 1 2.5-.3 1.2-.8 2.5 .1 1.2 .8 3.7-.2 1.3 .7 3.7-.4 2.4 .4 3.7-.2 6.2 1.3 2.4-.6 3.7 .6 8.7-.4 4.9 1 2.5-.6 2.4 .3 3.7-.4 2.5 .4 4.9-.5 2.5 .1 1.2 .6 2.5 .3 4.9-.6 4.9 .5 7.4-.4 3.7 .9 3.7-.4 3.7 .9 3.7-.8 1.3 .4 3.7-.4 1.2 .5 4.9-.6 8.6 .5 5-.5 1.2 .4 8.6 0 5 .6 8.6-.5 4.9 .7 2.5-.8 3.7 .5 3.7-.3 4.9 .4 2.5-.1 1.2-.8 1.2-.1 2.5 1 4.9 .3 5-.6 3.7 .9 3.7-.7 4.9 .5 3.7-.6 2.4 .3 2.5-.3 3.7 .8 1.2-.5 3.7 .3 1.3-.5 2.4 .1 1.3 .4 2.4-.2 6.2 .8 7.4-.6 6.2 .7 2.4-.8 3.7 .7 6.2 .2 3.7-.4 8.6 .6 2.5-.5 11.1-.2 6.1 .7 9.9-.6 3.7 .5 2.4-.5 3.7 .7 3.7-.7 7.4 .6 6.2 0 3.7-.6 6.2 .5 2.4-.5 3.7 .7 4.9-.6 5 0 4.9 .7 3.7-.6 3.7 .9 2.5-.5 6.1-.2 7.4 .7 2.5-.6 6.1-.2 2.5 .6 3.7-.5 6.2 .6 4.9-.2 3.7-.8 3.7 .3 2.5-.4 6.1 1.5 4.9-1 6.2-.4 7.4 .7 3.7-.6 3.7 .5" clip-path="url(#k7)" style="fill: none; stroke: #1a1a1a; stroke-width: 4.6; stroke-linecap: square"/><path d="M 108.8 702.9 
L 877.9 702.9 
L 877.9 516.5 
L 108.8 516.5 
z
" class="s11"/><g id="HEAT_c1"><defs><linearGradient id="g1" gradientUnits="userSpaceOnUse" x1="0" y1="516.50" x2="0" y2="702.90"><stop offset="-0" stop-color="#000000"/><stop offset=".081" stop-color="#000000"/><stop offset=".095" stop-color="#0e0b2b"/><stop offset=".112" stop-color="#440f76"/><stop offset=".137" stop-color="#7c2382"/><stop offset=".168" stop-color="#b73779"/><stop offset=".2" stop-color="#ef5d5e"/><stop offset=".235" stop-color="#fe9f6d"/><stop offset=".263" stop-color="#fec68a"/><stop offset=".291" stop-color="#feb77e"/><stop offset=".33" stop-color="#fc8c63"/><stop offset=".37" stop-color="#ea5661"/><stop offset=".414" stop-color="#bf3a77"/><stop offset=".484" stop-color="#8c2981"/><stop offset=".581" stop-color="#51127c"/><stop offset=".633" stop-color="#2a0d3a"/><stop offset=".668" stop-color="#000000"/><stop offset="1" stop-color="#000000"/></linearGradient><linearGradient id="g2" gradientUnits="userSpaceOnUse" x1="0" y1="516.50" x2="0" y2="702.90"><stop offset="-0" stop-color="#000000"/><stop offset=".07" stop-color="#000000"/><stop offset=".084" stop-color="#0e0b2b"/><stop offset=".102" stop-color="#440f76"/><stop offset=".126" stop-color="#7c2382"/><stop offset=".158" stop-color="#b73779"/><stop offset=".189" stop-color="#ef5d5e"/><stop offset=".224" stop-color="#fe9f6d"/><stop offset=".252" stop-color="#fec68a"/><stop offset=".281" stop-color="#feb77e"/><stop offset=".319" stop-color="#fc8c63"/><stop offset=".36" stop-color="#ea5661"/><stop offset=".403" stop-color="#bf3a77"/><stop offset=".474" stop-color="#8c2981"/><stop offset=".57" stop-color="#51127c"/><stop offset=".623" stop-color="#2a0d3a"/><stop offset=".658" stop-color="#000000"/><stop offset="1" stop-color="#000000"/></linearGradient><linearGradient id="g3" gradientUnits="userSpaceOnUse" x1="0" y1="516.50" x2="0" y2="702.90"><stop offset="-0" stop-color="#000000"/><stop offset=".07" stop-color="#000000"/><stop offset=".088" stop-color="#2a0d55"/><stop offset=".102" stop-color="#4a1375"/><stop offset=".14" stop-color="#912b7f"/><stop offset=".189" stop-color="#c5456f"/><stop offset=".21" stop-color="#cd5a73"/><stop offset=".252" stop-color="#ed9178"/><stop offset=".272" stop-color="#fb966f"/><stop offset=".298" stop-color="#fdca92"/><stop offset=".333" stop-color="#fa9870"/><stop offset=".36" stop-color="#ee726b"/><stop offset=".403" stop-color="#ce426f"/><stop offset=".509" stop-color="#8c2880"/><stop offset=".57" stop-color="#671b7e"/><stop offset=".614" stop-color="#4a1462"/><stop offset=".658" stop-color="#08020b"/><stop offset=".667" stop-color="#000000"/><stop offset="1" stop-color="#000000"/></linearGradient><linearGradient id="g4" gradientUnits="userSpaceOnUse" x1="0" y1="516.50" x2="0" y2="702.90"><stop offset="-0" stop-color="#000000"/><stop offset=".07" stop-color="#000000"/><stop offset=".088" stop-color="#301062"/><stop offset=".123" stop-color="#7b237e"/><stop offset=".14" stop-color="#8a2881"/><stop offset=".21" stop-color="#9b2e7f"/><stop offset=".272" stop-color="#e65b64"/><stop offset=".281" stop-color="#eb7270"/><stop offset=".298" stop-color="#fcf0b2"/><stop offset=".324" stop-color="#fda776"/><stop offset=".351" stop-color="#7b4e3c"/><stop offset=".403" stop-color="#6f2534"/><stop offset=".509" stop-color="#51183f"/><stop offset=".614" stop-color="#320d40"/><stop offset=".667" stop-color="#000000"/><stop offset="1" stop-color="#000000"/></linearGradient><linearGradient id="g5" gradientUnits="userSpaceOnUse" x1="0" y1="516.50" x2="0" y2="702.90"><stop offset="-0" stop-color="#000000"/><stop offset=".07" stop-color="#000000"/><stop offset=".088" stop-color="#251255"/><stop offset=".123" stop-color="#842681"/><stop offset=".21" stop-color="#942c80"/><stop offset=".281" stop-color="#de4968"/><stop offset=".298" stop-color="#fcf0b2"/><stop offset=".324" stop-color="#fc8961"/><stop offset=".351" stop-color="#000000"/><stop offset="1" stop-color="#000000"/></linearGradient><linearGradient id="g6" gradientUnits="userSpaceOnUse" x1="0" y1="516.50" x2="0" y2="702.90"><stop offset="-0" stop-color="#000000"/><stop offset=".07" stop-color="#000000"/><stop offset=".074" stop-color="#040209"/><stop offset=".088" stop-color="#251255"/><stop offset=".123" stop-color="#802581"/><stop offset=".21" stop-color="#902a81"/><stop offset=".281" stop-color="#c83f71"/><stop offset=".289" stop-color="#d26a83"/><stop offset=".298" stop-color="#ebbc9e"/><stop offset=".307" stop-color="#fdd399"/><stop offset=".324" stop-color="#fcb380"/><stop offset=".351" stop-color="#7e7253"/><stop offset=".403" stop-color="#7e7859"/><stop offset=".561" stop-color="#7f5036"/><stop offset=".772" stop-color="#5b1b3d"/><stop offset=".825" stop-color="#000000"/><stop offset="1" stop-color="#000000"/></linearGradient><linearGradient id="g7" gradientUnits="userSpaceOnUse" x1="0" y1="516.50" x2="0" y2="702.90"><stop offset="-0" stop-color="#000000"/><stop offset=".074" stop-color="#000000"/><stop offset=".088" stop-color="#251255"/><stop offset=".123" stop-color="#792281"/><stop offset=".21" stop-color="#882881"/><stop offset=".289" stop-color="#a8327c"/><stop offset=".307" stop-color="#ce848d"/><stop offset=".316" stop-color="#cf858d"/><stop offset=".333" stop-color="#fed799"/><stop offset=".403" stop-color="#fcf0b2"/><stop offset=".526" stop-color="#feb47d"/><stop offset=".561" stop-color="#f99c72"/><stop offset=".649" stop-color="#df5f6d"/><stop offset=".772" stop-color="#ac337c"/><stop offset=".825" stop-color="#000000"/><stop offset="1" stop-color="#000000"/></linearGradient><linearGradient id="g8" gradientUnits="userSpaceOnUse" x1="0" y1="516.50" x2="0" y2="702.90"><stop offset="-0" stop-color="#000000"/><stop offset=".074" stop-color="#000000"/><stop offset=".088" stop-color="#251255"/><stop offset=".123" stop-color="#722081"/><stop offset=".21" stop-color="#802581"/><stop offset=".316" stop-color="#9e2f7f"/><stop offset=".333" stop-color="#cf7f88"/><stop offset=".337" stop-color="#d08089"/><stop offset=".351" stop-color="#fed89a"/><stop offset=".403" stop-color="#fcf0b2"/><stop offset=".544" stop-color="#f88c6b"/><stop offset=".579" stop-color="#78443a"/><stop offset=".649" stop-color="#6f2534"/><stop offset=".772" stop-color="#51183f"/><stop offset=".825" stop-color="#000000"/><stop offset="1" stop-color="#000000"/></linearGradient><linearGradient id="g9" gradientUnits="userSpaceOnUse" x1="0" y1="516.50" x2="0" y2="702.90"><stop offset="-0" stop-color="#000000"/><stop offset=".074" stop-color="#000000"/><stop offset=".088" stop-color="#251255"/><stop offset=".123" stop-color="#701f81"/><stop offset=".21" stop-color="#7c2382"/><stop offset=".316" stop-color="#9e2f7f"/><stop offset=".33" stop-color="#50183f"/><stop offset=".337" stop-color="#51183f"/><stop offset=".345" stop-color="#6d4d48"/><stop offset=".351" stop-color="#b67d72"/><stop offset=".354" stop-color="#da888b"/><stop offset=".386" stop-color="#fdecae"/><stop offset=".403" stop-color="#fceeb0"/><stop offset=".509" stop-color="#fbb082"/><stop offset=".544" stop-color="#fa9670"/><stop offset=".579" stop-color="#7e533b"/><stop offset=".632" stop-color="#7e4431"/><stop offset=".789" stop-color="#651f39"/><stop offset=".807" stop-color="#000000"/><stop offset="1" stop-color="#000000"/></linearGradient><linearGradient id="g10" gradientUnits="userSpaceOnUse" x1="0" y1="516.50" x2="0" y2="702.90"><stop offset="-0" stop-color="#000000"/><stop offset=".079" stop-color="#000000"/><stop offset=".092" stop-color="#3d1269"/><stop offset=".14" stop-color="#701f81"/><stop offset=".228" stop-color="#802581"/><stop offset=".307" stop-color="#a7327d"/><stop offset=".321" stop-color="#000000"/><stop offset=".355" stop-color="#000000"/><stop offset=".366" stop-color="#ca4071"/><stop offset=".412" stop-color="#fcf2b4"/><stop offset=".526" stop-color="#fed496"/><stop offset=".64" stop-color="#fc8f65"/><stop offset=".794" stop-color="#d4446d"/><stop offset=".816" stop-color="#000000"/><stop offset="1" stop-color="#000000"/></linearGradient><linearGradient id="g11" gradientUnits="userSpaceOnUse" x1="0" y1="516.50" x2="0" y2="702.90"><stop offset="-0" stop-color="#000000"/><stop offset=".084" stop-color="#000000"/><stop offset=".096" stop-color="#54137d"/><stop offset=".158" stop-color="#701f81"/><stop offset=".245" stop-color="#842681"/><stop offset=".293" stop-color="#b2357b"/><stop offset=".302" stop-color="#000000"/><stop offset=".375" stop-color="#000000"/><stop offset=".392" stop-color="#de4968"/><stop offset=".447" stop-color="#fcf4b6"/><stop offset=".561" stop-color="#fde0a2"/><stop offset=".667" stop-color="#fd9b6a"/><stop offset=".803" stop-color="#e14c66"/><stop offset=".842" stop-color="#20110d"/><stop offset="1" stop-color="#000000"/></linearGradient><linearGradient id="g12" gradientUnits="userSpaceOnUse" x1="0" y1="516.50" x2="0" y2="702.90"><stop offset="-0" stop-color="#000000"/><stop offset=".084" stop-color="#000000"/><stop offset=".088" stop-color="#12041b"/><stop offset=".096" stop-color="#48116e"/><stop offset=".103" stop-color="#52137b"/><stop offset=".158" stop-color="#6a1d80"/><stop offset=".245" stop-color="#812581"/><stop offset=".257" stop-color="#8c2980"/><stop offset=".274" stop-color="#a8327c"/><stop offset=".284" stop-color="#af347b"/><stop offset=".288" stop-color="#89295b"/><stop offset=".291" stop-color="#000000"/><stop offset=".386" stop-color="#000000"/><stop offset=".4" stop-color="#6f2534"/><stop offset=".407" stop-color="#bf3e68"/><stop offset=".409" stop-color="#c64471"/><stop offset=".426" stop-color="#e57a80"/><stop offset=".456" stop-color="#fde3a7"/><stop offset=".491" stop-color="#fcf3b5"/><stop offset=".579" stop-color="#fdebac"/><stop offset=".684" stop-color="#fea571"/><stop offset=".789" stop-color="#ec6263"/><stop offset=".807" stop-color="#d7525c"/><stop offset=".816" stop-color="#b9484f"/><stop offset=".86" stop-color="#40221a"/><stop offset=".947" stop-color="#120a07"/><stop offset="1" stop-color="#000000"/></linearGradient><linearGradient id="g13" gradientUnits="userSpaceOnUse" x1="0" y1="516.50" x2="0" y2="702.90"><stop offset="-0" stop-color="#000000"/><stop offset=".084" stop-color="#000000"/><stop offset=".088" stop-color="#060109"/><stop offset=".096" stop-color="#310b50"/><stop offset=".103" stop-color="#491178"/><stop offset=".257" stop-color="#822581"/><stop offset=".274" stop-color="#ab337c"/><stop offset=".284" stop-color="#a8327d"/><stop offset=".288" stop-color="#2e0e1e"/><stop offset=".291" stop-color="#000000"/><stop offset=".386" stop-color="#000000"/><stop offset=".4" stop-color="#250c11"/><stop offset=".409" stop-color="#952e7c"/><stop offset=".426" stop-color="#db5773"/><stop offset=".453" stop-color="#fdb882"/><stop offset=".491" stop-color="#fcfabc"/><stop offset=".596" stop-color="#fceeb0"/><stop offset=".632" stop-color="#fecc90"/><stop offset=".737" stop-color="#fa9068"/><stop offset=".789" stop-color="#f5725f"/><stop offset=".807" stop-color="#bc574b"/><stop offset=".816" stop-color="#9a493e"/><stop offset=".86" stop-color="#40221a"/><stop offset=".947" stop-color="#060302"/><stop offset="1" stop-color="#000000"/></linearGradient><linearGradient id="g14" gradientUnits="userSpaceOnUse" x1="0" y1="516.50" x2="0" y2="702.90"><stop offset="-0" stop-color="#000000"/><stop offset=".088" stop-color="#000000"/><stop offset=".103" stop-color="#440f76"/><stop offset=".257" stop-color="#7c2382"/><stop offset=".274" stop-color="#ad347c"/><stop offset=".284" stop-color="#a5317e"/><stop offset=".288" stop-color="#000000"/><stop offset=".4" stop-color="#000000"/><stop offset=".409" stop-color="#7c2382"/><stop offset=".426" stop-color="#d6456c"/><stop offset=".453" stop-color="#fea973"/><stop offset=".491" stop-color="#fcfdbf"/><stop offset=".596" stop-color="#fcf4b6"/><stop offset=".632" stop-color="#fecf92"/><stop offset=".684" stop-color="#feb77e"/><stop offset=".737" stop-color="#fd9668"/><stop offset=".789" stop-color="#f9795d"/><stop offset=".816" stop-color="#8a4a35"/><stop offset=".86" stop-color="#40221a"/><stop offset=".912" stop-color="#150a08"/><stop offset=".947" stop-color="#000000"/><stop offset="1" stop-color="#000000"/></linearGradient><linearGradient id="g15" gradientUnits="userSpaceOnUse" x1="0" y1="516.50" x2="0" y2="702.90"><stop offset="-0" stop-color="#000000"/><stop offset=".088" stop-color="#000000"/><stop offset=".103" stop-color="#440f76"/><stop offset=".255" stop-color="#7c2382"/><stop offset=".272" stop-color="#ad347c"/><stop offset=".282" stop-color="#a5317e"/><stop offset=".285" stop-color="#000000"/><stop offset=".402" stop-color="#000000"/><stop offset=".411" stop-color="#7c2382"/><stop offset=".428" stop-color="#d6456c"/><stop offset=".454" stop-color="#fea973"/><stop offset=".491" stop-color="#fcfdbf"/><stop offset=".596" stop-color="#fcf4b6"/><stop offset=".632" stop-color="#fecf92"/><stop offset=".684" stop-color="#feb77e"/><stop offset=".737" stop-color="#fd9668"/><stop offset=".789" stop-color="#f9795d"/><stop offset=".816" stop-color="#8a4a35"/><stop offset=".86" stop-color="#40221a"/><stop offset=".912" stop-color="#150a08"/><stop offset=".947" stop-color="#000000"/><stop offset="1" stop-color="#000000"/></linearGradient><linearGradient id="g16" gradientUnits="userSpaceOnUse" x1="0" y1="516.50" x2="0" y2="702.90"><stop offset="-0" stop-color="#000000"/><stop offset=".088" stop-color="#000000"/><stop offset=".104" stop-color="#440f76"/><stop offset=".251" stop-color="#7b2382"/><stop offset=".268" stop-color="#ad347c"/><stop offset=".278" stop-color="#a5317e"/><stop offset=".281" stop-color="#000000"/><stop offset=".406" stop-color="#000000"/><stop offset=".414" stop-color="#7c2382"/><stop offset=".432" stop-color="#d6456c"/><stop offset=".458" stop-color="#fea973"/><stop offset=".482" stop-color="#fdebac"/><stop offset=".491" stop-color="#fcfdbf"/><stop offset=".596" stop-color="#fcf4b6"/><stop offset=".632" stop-color="#fecf92"/><stop offset=".684" stop-color="#feb77e"/><stop offset=".737" stop-color="#fd9668"/><stop offset=".789" stop-color="#f9795d"/><stop offset=".816" stop-color="#8a4a35"/><stop offset=".86" stop-color="#40221a"/><stop offset=".912" stop-color="#150a08"/><stop offset=".947" stop-color="#000000"/><stop offset="1" stop-color="#000000"/></linearGradient><linearGradient id="g17" gradientUnits="userSpaceOnUse" x1="0" y1="516.50" x2="0" y2="702.90"><stop offset="-0" stop-color="#000000"/><stop offset=".089" stop-color="#000000"/><stop offset=".104" stop-color="#430f75"/><stop offset=".18" stop-color="#641a80"/><stop offset=".246" stop-color="#7b2382"/><stop offset=".262" stop-color="#ac337c"/><stop offset=".271" stop-color="#a4317e"/><stop offset=".275" stop-color="#000000"/><stop offset=".411" stop-color="#000000"/><stop offset=".42" stop-color="#7c2382"/><stop offset=".437" stop-color="#d6456c"/><stop offset=".463" stop-color="#fea973"/><stop offset=".482" stop-color="#fdebac"/><stop offset=".491" stop-color="#fcfdbf"/><stop offset=".596" stop-color="#fcf4b6"/><stop offset=".632" stop-color="#fecf92"/><stop offset=".684" stop-color="#feb77e"/><stop offset=".737" stop-color="#fd9668"/><stop offset=".789" stop-color="#f9795d"/><stop offset=".816" stop-color="#8a4a35"/><stop offset=".86" stop-color="#40221a"/><stop offset=".912" stop-color="#150a08"/><stop offset=".947" stop-color="#000000"/><stop offset="1" stop-color="#000000"/></linearGradient><linearGradient id="g18" gradientUnits="userSpaceOnUse" x1="0" y1="516.50" x2="0" y2="702.90"><stop offset="-0" stop-color="#000000"/><stop offset=".091" stop-color="#000000"/><stop offset=".104" stop-color="#420f75"/><stop offset=".177" stop-color="#631980"/><stop offset=".239" stop-color="#7a2382"/><stop offset=".255" stop-color="#ab337c"/><stop offset=".263" stop-color="#a3307e"/><stop offset=".267" stop-color="#000000"/><stop offset=".414" stop-color="#000000"/><stop offset=".423" stop-color="#7c2382"/><stop offset=".44" stop-color="#d6456c"/><stop offset=".467" stop-color="#fea973"/><stop offset=".482" stop-color="#fdebac"/><stop offset=".491" stop-color="#fcfdbf"/><stop offset=".596" stop-color="#fcf4b6"/><stop offset=".632" stop-color="#fecf92"/><stop offset=".684" stop-color="#feb77e"/><stop offset=".737" stop-color="#fd9668"/><stop offset=".789" stop-color="#f9795d"/><stop offset=".816" stop-color="#8a4a35"/><stop offset=".86" stop-color="#40221a"/><stop offset=".912" stop-color="#150a08"/><stop offset=".947" stop-color="#000000"/><stop offset="1" stop-color="#000000"/></linearGradient><linearGradient id="g19" gradientUnits="userSpaceOnUse" x1="0" y1="516.50" x2="0" y2="702.90"><stop offset="-0" stop-color="#000000"/><stop offset=".092" stop-color="#000000"/><stop offset=".105" stop-color="#420f75"/><stop offset=".174" stop-color="#621980"/><stop offset=".234" stop-color="#7a2282"/><stop offset=".249" stop-color="#aa337d"/><stop offset=".257" stop-color="#a2307e"/><stop offset=".261" stop-color="#000000"/><stop offset=".414" stop-color="#000000"/><stop offset=".423" stop-color="#7c2382"/><stop offset=".44" stop-color="#d6456c"/><stop offset=".467" stop-color="#fea973"/><stop offset=".482" stop-color="#fdebac"/><stop offset=".491" stop-color="#fcfdbf"/><stop offset=".596" stop-color="#fcf4b6"/><stop offset=".632" stop-color="#fecf92"/><stop offset=".684" stop-color="#feb77e"/><stop offset=".737" stop-color="#fd9668"/><stop offset=".789" stop-color="#f9795d"/><stop offset=".816" stop-color="#8a4a35"/><stop offset=".86" stop-color="#40221a"/><stop offset=".912" stop-color="#150a08"/><stop offset=".947" stop-color="#000000"/><stop offset="1" stop-color="#000000"/></linearGradient><linearGradient id="g20" gradientUnits="userSpaceOnUse" x1="0" y1="516.50" x2="0" y2="702.90"><stop offset="-0" stop-color="#000000"/><stop offset=".093" stop-color="#000000"/><stop offset=".105" stop-color="#420f74"/><stop offset=".172" stop-color="#621980"/><stop offset=".228" stop-color="#792282"/><stop offset=".242" stop-color="#a9327d"/><stop offset=".25" stop-color="#a1307e"/><stop offset=".254" stop-color="#000000"/><stop offset=".414" stop-color="#000000"/><stop offset=".423" stop-color="#7c2382"/><stop offset=".44" stop-color="#d6456c"/><stop offset=".467" stop-color="#fea973"/><stop offset=".482" stop-color="#fdebac"/><stop offset=".491" stop-color="#fcfdbf"/><stop offset=".596" stop-color="#fcf4b6"/><stop offset=".632" stop-color="#fecf92"/><stop offset=".684" stop-color="#feb77e"/><stop offset=".737" stop-color="#fd9668"/><stop offset=".789" stop-color="#f9795d"/><stop offset=".816" stop-color="#8a4a35"/><stop offset=".86" stop-color="#40221a"/><stop offset=".912" stop-color="#150a08"/><stop offset=".947" stop-color="#000000"/><stop offset="1" stop-color="#000000"/></linearGradient><linearGradient id="g21" gradientUnits="userSpaceOnUse" x1="0" y1="516.50" x2="0" y2="702.90"><stop offset="-0" stop-color="#000000"/><stop offset=".094" stop-color="#000000"/><stop offset=".106" stop-color="#410f74"/><stop offset=".169" stop-color="#611880"/><stop offset=".222" stop-color="#782281"/><stop offset=".235" stop-color="#a8327d"/><stop offset=".243" stop-color="#a0307f"/><stop offset=".246" stop-color="#000000"/><stop offset=".414" stop-color="#000000"/><stop offset=".423" stop-color="#7c2382"/><stop offset=".44" stop-color="#d6456c"/><stop offset=".467" stop-color="#fea973"/><stop offset=".482" stop-color="#fdebac"/><stop offset=".491" stop-color="#fcfdbf"/><stop offset=".596" stop-color="#fcf4b6"/><stop offset=".632" stop-color="#fecf92"/><stop offset=".684" stop-color="#feb77e"/><stop offset=".737" stop-color="#fd9668"/><stop offset=".789" stop-color="#f9795d"/><stop offset=".816" stop-color="#8a4a35"/><stop offset=".86" stop-color="#40221a"/><stop offset=".912" stop-color="#150a08"/><stop offset=".947" stop-color="#000000"/><stop offset="1" stop-color="#000000"/></linearGradient><linearGradient id="g22" gradientUnits="userSpaceOnUse" x1="0" y1="516.50" x2="0" y2="702.90"><stop offset="-0" stop-color="#000000"/><stop offset=".095" stop-color="#000000"/><stop offset=".107" stop-color="#400f74"/><stop offset=".166" stop-color="#60187f"/><stop offset=".217" stop-color="#772281"/><stop offset=".23" stop-color="#a7327d"/><stop offset=".237" stop-color="#9f2f7f"/><stop offset=".24" stop-color="#000000"/><stop offset=".414" stop-color="#000000"/><stop offset=".423" stop-color="#7c2382"/><stop offset=".44" stop-color="#d6456c"/><stop offset=".467" stop-color="#fea973"/><stop offset=".482" stop-color="#fdebac"/><stop offset=".491" stop-color="#fcfdbf"/><stop offset=".596" stop-color="#fcf4b6"/><stop offset=".632" stop-color="#fecf92"/><stop offset=".684" stop-color="#feb77e"/><stop offset=".737" stop-color="#fd9668"/><stop offset=".789" stop-color="#f9795d"/><stop offset=".816" stop-color="#8a4a35"/><stop offset=".86" stop-color="#40221a"/><stop offset=".912" stop-color="#150a08"/><stop offset=".947" stop-color="#000000"/><stop offset="1" stop-color="#000000"/></linearGradient><linearGradient id="g23" gradientUnits="userSpaceOnUse" x1="0" y1="516.50" x2="0" y2="702.90"><stop offset="-0" stop-color="#000000"/><stop offset=".097" stop-color="#000000"/><stop offset=".107" stop-color="#400f74"/><stop offset=".164" stop-color="#60187f"/><stop offset=".212" stop-color="#772181"/><stop offset=".224" stop-color="#a6317d"/><stop offset=".231" stop-color="#9e2f7f"/><stop offset=".234" stop-color="#000000"/><stop offset=".414" stop-color="#000000"/><stop offset=".423" stop-color="#7c2382"/><stop offset=".44" stop-color="#d6456c"/><stop offset=".467" stop-color="#fea973"/><stop offset=".482" stop-color="#fdebac"/><stop offset=".491" stop-color="#fcfdbf"/><stop offset=".596" stop-color="#fcf4b6"/><stop offset=".632" stop-color="#fecf92"/><stop offset=".684" stop-color="#feb77e"/><stop offset=".737" stop-color="#fd9668"/><stop offset=".789" stop-color="#f9795d"/><stop offset=".816" stop-color="#8a4a35"/><stop offset=".86" stop-color="#40221a"/><stop offset=".912" stop-color="#150a08"/><stop offset=".947" stop-color="#000000"/><stop offset="1" stop-color="#000000"/></linearGradient><linearGradient id="g24" gradientUnits="userSpaceOnUse" x1="0" y1="516.50" x2="0" y2="702.90"><stop offset="-0" stop-color="#000000"/><stop offset=".098" stop-color="#000000"/><stop offset=".108" stop-color="#400f74"/><stop offset=".161" stop-color="#5f187f"/><stop offset=".208" stop-color="#762181"/><stop offset=".219" stop-color="#a5317e"/><stop offset=".225" stop-color="#9d2f7f"/><stop offset=".229" stop-color="#000000"/><stop offset=".414" stop-color="#000000"/><stop offset=".423" stop-color="#7c2382"/><stop offset=".44" stop-color="#d6456c"/><stop offset=".467" stop-color="#fea973"/><stop offset=".482" stop-color="#fdebac"/><stop offset=".491" stop-color="#fcfdbf"/><stop offset=".596" stop-color="#fcf4b6"/><stop offset=".632" stop-color="#fecf92"/><stop offset=".684" stop-color="#feb77e"/><stop offset=".737" stop-color="#fd9668"/><stop offset=".789" stop-color="#f9795d"/><stop offset=".816" stop-color="#8a4a35"/><stop offset=".86" stop-color="#40221a"/><stop offset=".912" stop-color="#150a08"/><stop offset=".947" stop-color="#000000"/><stop offset="1" stop-color="#000000"/></linearGradient><linearGradient id="g25" gradientUnits="userSpaceOnUse" x1="0" y1="516.50" x2="0" y2="702.90"><stop offset="-0" stop-color="#000000"/><stop offset=".098" stop-color="#000000"/><stop offset=".108" stop-color="#400f73"/><stop offset=".16" stop-color="#5f187f"/><stop offset=".204" stop-color="#762181"/><stop offset=".215" stop-color="#a4317e"/><stop offset=".221" stop-color="#9c2e7f"/><stop offset=".225" stop-color="#000000"/><stop offset=".414" stop-color="#000000"/><stop offset=".423" stop-color="#7c2382"/><stop offset=".44" stop-color="#d6456c"/><stop offset=".467" stop-color="#fea973"/><stop offset=".482" stop-color="#fdebac"/><stop offset=".491" stop-color="#fcfdbf"/><stop offset=".596" stop-color="#fcf4b6"/><stop offset=".632" stop-color="#fecf92"/><stop offset=".684" stop-color="#feb77e"/><stop offset=".737" stop-color="#fd9668"/><stop offset=".789" stop-color="#f9795d"/><stop offset=".816" stop-color="#8a4a35"/><stop offset=".86" stop-color="#40221a"/><stop offset=".912" stop-color="#150a08"/><stop offset=".947" stop-color="#000000"/><stop offset="1" stop-color="#000000"/></linearGradient><linearGradient id="g26" gradientUnits="userSpaceOnUse" x1="0" y1="516.50" x2="0" y2="702.90"><stop offset="-0" stop-color="#000000"/><stop offset=".099" stop-color="#000000"/><stop offset=".109" stop-color="#3f0f73"/><stop offset=".159" stop-color="#5f187f"/><stop offset=".201" stop-color="#752181"/><stop offset=".212" stop-color="#a3317e"/><stop offset=".218" stop-color="#9c2e7f"/><stop offset=".222" stop-color="#000000"/><stop offset=".414" stop-color="#000000"/><stop offset=".423" stop-color="#7c2382"/><stop offset=".44" stop-color="#d6456c"/><stop offset=".467" stop-color="#fea973"/><stop offset=".482" stop-color="#fdebac"/><stop offset=".491" stop-color="#fcfdbf"/><stop offset=".596" stop-color="#fcf4b6"/><stop offset=".632" stop-color="#fecf92"/><stop offset=".684" stop-color="#feb77e"/><stop offset=".737" stop-color="#fd9668"/><stop offset=".789" stop-color="#f9795d"/><stop offset=".816" stop-color="#8a4a35"/><stop offset=".86" stop-color="#40221a"/><stop offset=".912" stop-color="#150a08"/><stop offset=".947" stop-color="#000000"/><stop offset="1" stop-color="#000000"/></linearGradient><linearGradient id="g27" gradientUnits="userSpaceOnUse" x1="0" y1="516.50" x2="0" y2="702.90"><stop offset="-0" stop-color="#000000"/><stop offset=".102" stop-color="#000000"/><stop offset=".111" stop-color="#3e0f72"/><stop offset=".158" stop-color="#5e177f"/><stop offset=".199" stop-color="#742081"/><stop offset=".209" stop-color="#a2307e"/><stop offset=".215" stop-color="#9c2e7f"/><stop offset=".218" stop-color="#000000"/><stop offset=".414" stop-color="#000000"/><stop offset=".423" stop-color="#7c2382"/><stop offset=".44" stop-color="#d6456c"/><stop offset=".467" stop-color="#fea973"/><stop offset=".482" stop-color="#fdebac"/><stop offset=".491" stop-color="#fcfdbf"/><stop offset=".596" stop-color="#fcf4b6"/><stop offset=".632" stop-color="#fecf92"/><stop offset=".684" stop-color="#feb77e"/><stop offset=".737" stop-color="#fd9668"/><stop offset=".789" stop-color="#f9795d"/><stop offset=".816" stop-color="#8a4a35"/><stop offset=".86" stop-color="#40221a"/><stop offset=".912" stop-color="#150a08"/><stop offset=".947" stop-color="#000000"/><stop offset="1" stop-color="#000000"/></linearGradient><linearGradient id="g28" gradientUnits="userSpaceOnUse" x1="0" y1="516.50" x2="0" y2="702.90"><stop offset="-0" stop-color="#000000"/><stop offset=".106" stop-color="#000000"/><stop offset=".114" stop-color="#3e0f72"/><stop offset=".158" stop-color="#5d177f"/><stop offset=".196" stop-color="#742081"/><stop offset=".205" stop-color="#a1307e"/><stop offset=".211" stop-color="#9b2e7f"/><stop offset=".214" stop-color="#000000"/><stop offset=".414" stop-color="#000000"/><stop offset=".423" stop-color="#7c2382"/><stop offset=".44" stop-color="#d6456c"/><stop offset=".467" stop-color="#fea973"/><stop offset=".482" stop-color="#fdebac"/><stop offset=".491" stop-color="#fcfdbf"/><stop offset=".596" stop-color="#fcf4b6"/><stop offset=".632" stop-color="#fecf92"/><stop offset=".684" stop-color="#feb77e"/><stop offset=".737" stop-color="#fd9668"/><stop offset=".789" stop-color="#f9795d"/><stop offset=".816" stop-color="#8a4a35"/><stop offset=".86" stop-color="#40221a"/><stop offset=".912" stop-color="#150a08"/><stop offset=".947" stop-color="#000000"/><stop offset="1" stop-color="#000000"/></linearGradient><linearGradient id="g29" gradientUnits="userSpaceOnUse" x1="0" y1="516.50" x2="0" y2="702.90"><stop offset="-0" stop-color="#000000"/><stop offset=".11" stop-color="#000000"/><stop offset=".118" stop-color="#3d0f71"/><stop offset=".158" stop-color="#5c177f"/><stop offset=".193" stop-color="#732081"/><stop offset=".202" stop-color="#a0307e"/><stop offset=".207" stop-color="#9a2d80"/><stop offset=".21" stop-color="#000000"/><stop offset=".414" stop-color="#000000"/><stop offset=".423" stop-color="#7c2382"/><stop offset=".44" stop-color="#d6456c"/><stop offset=".467" stop-color="#fea973"/><stop offset=".482" stop-color="#fdebac"/><stop offset=".491" stop-color="#fcfdbf"/><stop offset=".596" stop-color="#fcf4b6"/><stop offset=".632" stop-color="#fecf92"/><stop offset=".684" stop-color="#feb77e"/><stop offset=".737" stop-color="#fd9668"/><stop offset=".789" stop-color="#f9795d"/><stop offset=".816" stop-color="#8a4a35"/><stop offset=".86" stop-color="#40221a"/><stop offset=".912" stop-color="#150a08"/><stop offset=".947" stop-color="#000000"/><stop offset="1" stop-color="#000000"/></linearGradient><linearGradient id="g30" gradientUnits="userSpaceOnUse" x1="0" y1="516.50" x2="0" y2="702.90"><stop offset="-0" stop-color="#000000"/><stop offset=".114" stop-color="#000000"/><stop offset=".121" stop-color="#3d0f71"/><stop offset=".158" stop-color="#5c167f"/><stop offset=".19" stop-color="#732081"/><stop offset=".198" stop-color="#9f2f7f"/><stop offset=".202" stop-color="#992d80"/><stop offset=".206" stop-color="#000000"/><stop offset=".414" stop-color="#000000"/><stop offset=".423" stop-color="#7c2382"/><stop offset=".44" stop-color="#d6456c"/><stop offset=".467" stop-color="#fea973"/><stop offset=".482" stop-color="#fdebac"/><stop offset=".491" stop-color="#fcfdbf"/><stop offset=".596" stop-color="#fcf4b6"/><stop offset=".632" stop-color="#fecf92"/><stop offset=".684" stop-color="#feb77e"/><stop offset=".737" stop-color="#fd9668"/><stop offset=".789" stop-color="#f9795d"/><stop offset=".816" stop-color="#8a4a35"/><stop offset=".86" stop-color="#40221a"/><stop offset=".912" stop-color="#150a08"/><stop offset=".947" stop-color="#000000"/><stop offset="1" stop-color="#000000"/></linearGradient><linearGradient id="g31" gradientUnits="userSpaceOnUse" x1="0" y1="516.50" x2="0" y2="702.90"><stop offset="-0" stop-color="#000000"/><stop offset=".118" stop-color="#000000"/><stop offset=".125" stop-color="#3c0f70"/><stop offset=".158" stop-color="#5b167f"/><stop offset=".187" stop-color="#721f81"/><stop offset=".195" stop-color="#9f2f7f"/><stop offset=".199" stop-color="#982d80"/><stop offset=".202" stop-color="#000000"/><stop offset=".414" stop-color="#000000"/><stop offset=".423" stop-color="#7c2382"/><stop offset=".44" stop-color="#d6456c"/><stop offset=".467" stop-color="#fea973"/><stop offset=".482" stop-color="#fdebac"/><stop offset=".491" stop-color="#fcfdbf"/><stop offset=".596" stop-color="#fcf4b6"/><stop offset=".632" stop-color="#fecf92"/><stop offset=".684" stop-color="#feb77e"/><stop offset=".737" stop-color="#fd9668"/><stop offset=".789" stop-color="#f9795d"/><stop offset=".816" stop-color="#8a4a35"/><stop offset=".86" stop-color="#40221a"/><stop offset=".912" stop-color="#150a08"/><stop offset=".947" stop-color="#000000"/><stop offset="1" stop-color="#000000"/></linearGradient><linearGradient id="g32" gradientUnits="userSpaceOnUse" x1="0" y1="516.50" x2="0" y2="702.90"><stop offset="-0" stop-color="#000000"/><stop offset=".122" stop-color="#000000"/><stop offset=".128" stop-color="#3b0f70"/><stop offset=".159" stop-color="#5a167e"/><stop offset=".185" stop-color="#701f81"/><stop offset=".191" stop-color="#9e2f7f"/><stop offset=".195" stop-color="#972c80"/><stop offset=".198" stop-color="#000000"/><stop offset=".414" stop-color="#000000"/><stop offset=".423" stop-color="#7c2382"/><stop offset=".44" stop-color="#d6456c"/><stop offset=".467" stop-color="#fea973"/><stop offset=".482" stop-color="#fdebac"/><stop offset=".491" stop-color="#fcfdbf"/><stop offset=".596" stop-color="#fcf4b6"/><stop offset=".632" stop-color="#fecf92"/><stop offset=".684" stop-color="#feb77e"/><stop offset=".737" stop-color="#fd9668"/><stop offset=".789" stop-color="#f9795d"/><stop offset=".816" stop-color="#8a4a35"/><stop offset=".86" stop-color="#40221a"/><stop offset=".912" stop-color="#150a08"/><stop offset=".947" stop-color="#000000"/><stop offset="1" stop-color="#000000"/></linearGradient><linearGradient id="g33" gradientUnits="userSpaceOnUse" x1="0" y1="516.50" x2="0" y2="702.90"><stop offset="-0" stop-color="#000000"/><stop offset=".126" stop-color="#000000"/><stop offset=".131" stop-color="#3b0f70"/><stop offset=".159" stop-color="#5a167e"/><stop offset=".182" stop-color="#701f81"/><stop offset=".188" stop-color="#9e2f7f"/><stop offset=".191" stop-color="#952c80"/><stop offset=".195" stop-color="#000000"/><stop offset=".414" stop-color="#000000"/><stop offset=".423" stop-color="#7c2382"/><stop offset=".44" stop-color="#d6456c"/><stop offset=".467" stop-color="#fea973"/><stop offset=".482" stop-color="#fdebac"/><stop offset=".491" stop-color="#fcfdbf"/><stop offset=".596" stop-color="#fcf4b6"/><stop offset=".632" stop-color="#fecf92"/><stop offset=".684" stop-color="#feb77e"/><stop offset=".737" stop-color="#fd9668"/><stop offset=".789" stop-color="#f9795d"/><stop offset=".816" stop-color="#8a4a35"/><stop offset=".86" stop-color="#40221a"/><stop offset=".912" stop-color="#150a08"/><stop offset=".947" stop-color="#000000"/><stop offset="1" stop-color="#000000"/></linearGradient><linearGradient id="g34" gradientUnits="userSpaceOnUse" x1="0" y1="516.50" x2="0" y2="702.90"><stop offset="-0" stop-color="#000000"/><stop offset=".129" stop-color="#000000"/><stop offset=".134" stop-color="#3b0f70"/><stop offset=".159" stop-color="#59157e"/><stop offset=".18" stop-color="#6f1e81"/><stop offset=".186" stop-color="#9c2e7f"/><stop offset=".189" stop-color="#942c80"/><stop offset=".192" stop-color="#000000"/><stop offset=".414" stop-color="#000000"/><stop offset=".423" stop-color="#7c2382"/><stop offset=".44" stop-color="#d6456c"/><stop offset=".467" stop-color="#fea973"/><stop offset=".482" stop-color="#fdebac"/><stop offset=".491" stop-color="#fcfdbf"/><stop offset=".596" stop-color="#fcf4b6"/><stop offset=".632" stop-color="#fecf92"/><stop offset=".684" stop-color="#feb77e"/><stop offset=".737" stop-color="#fd9668"/><stop offset=".789" stop-color="#f9795d"/><stop offset=".816" stop-color="#8a4a35"/><stop offset=".86" stop-color="#40221a"/><stop offset=".912" stop-color="#150a08"/><stop offset=".947" stop-color="#000000"/><stop offset="1" stop-color="#000000"/></linearGradient><linearGradient id="g35" gradientUnits="userSpaceOnUse" x1="0" y1="516.50" x2="0" y2="702.90"><stop offset="-0" stop-color="#000000"/><stop offset=".132" stop-color="#000000"/><stop offset=".137" stop-color="#3b0f70"/><stop offset=".159" stop-color="#59157e"/><stop offset=".178" stop-color="#6f1e81"/><stop offset=".183" stop-color="#9b2e7f"/><stop offset=".186" stop-color="#932b80"/><stop offset=".189" stop-color="#000000"/><stop offset=".414" stop-color="#000000"/><stop offset=".423" stop-color="#7c2382"/><stop offset=".44" stop-color="#d6456c"/><stop offset=".467" stop-color="#fea973"/><stop offset=".482" stop-color="#fdebac"/><stop offset=".491" stop-color="#fcfdbf"/><stop offset=".596" stop-color="#fcf4b6"/><stop offset=".632" stop-color="#fecf92"/><stop offset=".684" stop-color="#feb77e"/><stop offset=".737" stop-color="#fd9668"/><stop offset=".789" stop-color="#f9795d"/><stop offset=".816" stop-color="#8a4a35"/><stop offset=".86" stop-color="#40221a"/><stop offset=".912" stop-color="#150a08"/><stop offset=".947" stop-color="#000000"/><stop offset="1" stop-color="#000000"/></linearGradient><linearGradient id="g36" gradientUnits="userSpaceOnUse" x1="0" y1="516.50" x2="0" y2="702.90"><stop offset="-0" stop-color="#000000"/><stop offset=".135" stop-color="#000000"/><stop offset=".139" stop-color="#3a0f6f"/><stop offset=".159" stop-color="#58157e"/><stop offset=".176" stop-color="#6e1e81"/><stop offset=".181" stop-color="#9a2d80"/><stop offset=".183" stop-color="#922b80"/><stop offset=".187" stop-color="#000000"/><stop offset=".414" stop-color="#000000"/><stop offset=".423" stop-color="#7c2382"/><stop offset=".44" stop-color="#d6456c"/><stop offset=".467" stop-color="#fea973"/><stop offset=".482" stop-color="#fdebac"/><stop offset=".491" stop-color="#fcfdbf"/><stop offset=".596" stop-color="#fcf4b6"/><stop offset=".632" stop-color="#fecf92"/><stop offset=".684" stop-color="#feb77e"/><stop offset=".737" stop-color="#fd9668"/><stop offset=".789" stop-color="#f9795d"/><stop offset=".816" stop-color="#8a4a35"/><stop offset=".86" stop-color="#40221a"/><stop offset=".912" stop-color="#150a08"/><stop offset=".947" stop-color="#000000"/><stop offset="1" stop-color="#000000"/></linearGradient><linearGradient id="g37" gradientUnits="userSpaceOnUse" x1="0" y1="516.50" x2="0" y2="702.90"><stop offset="-0" stop-color="#000000"/><stop offset=".139" stop-color="#000000"/><stop offset=".142" stop-color="#39106d"/><stop offset=".159" stop-color="#56147d"/><stop offset=".174" stop-color="#6c1d81"/><stop offset=".178" stop-color="#972d80"/><stop offset=".18" stop-color="#8f2a81"/><stop offset=".184" stop-color="#000000"/><stop offset=".414" stop-color="#000000"/><stop offset=".423" stop-color="#7c2382"/><stop offset=".44" stop-color="#d6456c"/><stop offset=".467" stop-color="#fea973"/><stop offset=".482" stop-color="#fdebac"/><stop offset=".491" stop-color="#fcfdbf"/><stop offset=".596" stop-color="#fcf4b6"/><stop offset=".632" stop-color="#fecf92"/><stop offset=".684" stop-color="#feb77e"/><stop offset=".737" stop-color="#fd9668"/><stop offset=".789" stop-color="#f9795d"/><stop offset=".816" stop-color="#8a4a35"/><stop offset=".86" stop-color="#40221a"/><stop offset=".912" stop-color="#150a08"/><stop offset=".947" stop-color="#000000"/><stop offset="1" stop-color="#000000"/></linearGradient><linearGradient id="g38" gradientUnits="userSpaceOnUse" x1="0" y1="516.50" x2="0" y2="702.90"><stop offset="-0" stop-color="#000000"/><stop offset=".143" stop-color="#000000"/><stop offset=".145" stop-color="#35106a"/><stop offset=".16" stop-color="#52137c"/><stop offset=".172" stop-color="#671b80"/><stop offset=".175" stop-color="#912b80"/><stop offset=".177" stop-color="#892881"/><stop offset=".18" stop-color="#000000"/><stop offset=".414" stop-color="#000000"/><stop offset=".423" stop-color="#7c2382"/><stop offset=".44" stop-color="#d6456c"/><stop offset=".467" stop-color="#fea973"/><stop offset=".482" stop-color="#fdebac"/><stop offset=".491" stop-color="#fcfdbf"/><stop offset=".596" stop-color="#fcf4b6"/><stop offset=".632" stop-color="#fecf92"/><stop offset=".684" stop-color="#feb77e"/><stop offset=".737" stop-color="#fd9668"/><stop offset=".789" stop-color="#f9795d"/><stop offset=".816" stop-color="#8a4a35"/><stop offset=".86" stop-color="#40221a"/><stop offset=".912" stop-color="#150a08"/><stop offset=".947" stop-color="#000000"/><stop offset="1" stop-color="#000000"/></linearGradient><linearGradient id="g39" gradientUnits="userSpaceOnUse" x1="0" y1="516.50" x2="0" y2="702.90"><stop offset="-0" stop-color="#000000"/><stop offset=".148" stop-color="#000000"/><stop offset=".149" stop-color="#301164"/><stop offset=".16" stop-color="#4c117a"/><stop offset=".169" stop-color="#60187f"/><stop offset=".171" stop-color="#862781"/><stop offset=".172" stop-color="#802581"/><stop offset=".176" stop-color="#000000"/><stop offset=".414" stop-color="#000000"/><stop offset=".423" stop-color="#7c2382"/><stop offset=".44" stop-color="#d6456c"/><stop offset=".467" stop-color="#fea973"/><stop offset=".482" stop-color="#fdebac"/><stop offset=".491" stop-color="#fcfdbf"/><stop offset=".596" stop-color="#fcf4b6"/><stop offset=".632" stop-color="#fecf92"/><stop offset=".684" stop-color="#feb77e"/><stop offset=".737" stop-color="#fd9668"/><stop offset=".789" stop-color="#f9795d"/><stop offset=".816" stop-color="#8a4a35"/><stop offset=".86" stop-color="#40221a"/><stop offset=".912" stop-color="#150a08"/><stop offset=".947" stop-color="#000000"/><stop offset="1" stop-color="#000000"/></linearGradient><linearGradient id="g40" gradientUnits="userSpaceOnUse" x1="0" y1="516.50" x2="0" y2="702.90"><stop offset="-0" stop-color="#000000"/><stop offset=".154" stop-color="#000000"/><stop offset=".155" stop-color="#261155"/><stop offset=".16" stop-color="#3e1070"/><stop offset=".165" stop-color="#4f137a"/><stop offset=".166" stop-color="#701e80"/><stop offset=".167" stop-color="#6b1c80"/><stop offset=".17" stop-color="#000000"/><stop offset=".414" stop-color="#000000"/><stop offset=".423" stop-color="#7c2382"/><stop offset=".44" stop-color="#d6456c"/><stop offset=".467" stop-color="#fea973"/><stop offset=".482" stop-color="#fdebac"/><stop offset=".491" stop-color="#fcfdbf"/><stop offset=".596" stop-color="#fcf4b6"/><stop offset=".632" stop-color="#fecf92"/><stop offset=".684" stop-color="#feb77e"/><stop offset=".737" stop-color="#fd9668"/><stop offset=".789" stop-color="#f9795d"/><stop offset=".816" stop-color="#8a4a35"/><stop offset=".86" stop-color="#40221a"/><stop offset=".912" stop-color="#150a08"/><stop offset=".947" stop-color="#000000"/><stop offset="1" stop-color="#000000"/></linearGradient><linearGradient id="g41" gradientUnits="userSpaceOnUse" x1="0" y1="516.50" x2="0" y2="702.90"><stop offset="-0" stop-color="#000000"/><stop offset=".159" stop-color="#000000"/><stop offset=".16" stop-color="#0f0825"/><stop offset=".162" stop-color="#21083a"/><stop offset=".162" stop-color="#2f0c40"/><stop offset=".166" stop-color="#000000"/><stop offset=".414" stop-color="#000000"/><stop offset=".423" stop-color="#7c2382"/><stop offset=".44" stop-color="#d6456c"/><stop offset=".467" stop-color="#fea973"/><stop offset=".482" stop-color="#fdebac"/><stop offset=".491" stop-color="#fcfdbf"/><stop offset=".596" stop-color="#fcf4b6"/><stop offset=".632" stop-color="#fecf92"/><stop offset=".684" stop-color="#feb77e"/><stop offset=".737" stop-color="#fd9668"/><stop offset=".789" stop-color="#f9795d"/><stop offset=".816" stop-color="#8a4a35"/><stop offset=".86" stop-color="#40221a"/><stop offset=".912" stop-color="#150a08"/><stop offset=".947" stop-color="#000000"/><stop offset="1" stop-color="#000000"/></linearGradient><linearGradient id="g42" gradientUnits="userSpaceOnUse" x1="0" y1="516.50" x2="0" y2="702.90"><stop offset="-0" stop-color="#000000"/><stop offset=".414" stop-color="#000000"/><stop offset=".423" stop-color="#7c2382"/><stop offset=".44" stop-color="#d6456c"/><stop offset=".467" stop-color="#fea973"/><stop offset=".482" stop-color="#fdebac"/><stop offset=".491" stop-color="#fcfdbf"/><stop offset=".596" stop-color="#fcf4b6"/><stop offset=".632" stop-color="#fecf92"/><stop offset=".684" stop-color="#feb77e"/><stop offset=".737" stop-color="#fd9668"/><stop offset=".789" stop-color="#f9795d"/><stop offset=".816" stop-color="#8a4a35"/><stop offset=".86" stop-color="#40221a"/><stop offset=".912" stop-color="#150a08"/><stop offset=".947" stop-color="#000000"/><stop offset="1" stop-color="#000000"/></linearGradient></defs><rect x="108.80" y="516.50" width="12.91" height="186.40" fill="url(#g1)"/><rect x="121.11" y="516.50" width="89.82" height="186.40" fill="url(#g2)"/><rect x="210.32" y="516.50" width="6.75" height="186.40" fill="url(#g3)"/><rect x="216.47" y="516.50" width="5.52" height="186.40" fill="url(#g4)"/><rect x="221.40" y="516.50" width="8.60" height="186.40" fill="url(#g5)"/><rect x="229.39" y="516.50" width="3.68" height="186.40" fill="url(#g6)"/><rect x="232.47" y="516.50" width="7.68" height="186.40" fill="url(#g7)"/><rect x="239.55" y="516.50" width="2.75" height="186.40" fill="url(#g8)"/><rect x="241.70" y="516.50" width="4.60" height="186.40" fill="url(#g9)"/><rect x="245.70" y="516.50" width="8.29" height="186.40" fill="url(#g10)"/><rect x="253.39" y="516.50" width="9.83" height="186.40" fill="url(#g11)"/><rect x="262.62" y="516.50" width="9.83" height="186.40" fill="url(#g12)"/><rect x="271.85" y="516.50" width="9.83" height="186.40" fill="url(#g13)"/><rect x="281.08" y="516.50" width="9.83" height="186.40" fill="url(#g14)"/><rect x="290.31" y="516.50" width="9.83" height="186.40" fill="url(#g15)"/><rect x="299.54" y="516.50" width="9.83" height="186.40" fill="url(#g16)"/><rect x="308.77" y="516.50" width="22.13" height="186.40" fill="url(#g17)"/><rect x="330.30" y="516.50" width="20.60" height="186.40" fill="url(#g18)"/><rect x="350.30" y="516.50" width="20.60" height="186.40" fill="url(#g19)"/><rect x="370.29" y="516.50" width="23.67" height="186.40" fill="url(#g20)"/><rect x="393.37" y="516.50" width="23.67" height="186.40" fill="url(#g21)"/><rect x="416.44" y="516.50" width="18.03" height="186.40" fill="url(#g22)"/><rect x="433.87" y="516.50" width="18.03" height="186.40" fill="url(#g23)"/><rect x="451.31" y="516.50" width="18.03" height="186.40" fill="url(#g24)"/><rect x="468.74" y="516.50" width="16.29" height="186.40" fill="url(#g25)"/><rect x="484.43" y="516.50" width="16.29" height="186.40" fill="url(#g26)"/><rect x="500.12" y="516.50" width="23.98" height="186.40" fill="url(#g27)"/><rect x="523.50" y="516.50" width="23.98" height="186.40" fill="url(#g28)"/><rect x="546.88" y="516.50" width="23.98" height="186.40" fill="url(#g29)"/><rect x="570.26" y="516.50" width="23.16" height="186.40" fill="url(#g30)"/><rect x="592.82" y="516.50" width="23.16" height="186.40" fill="url(#g31)"/><rect x="615.38" y="516.50" width="23.16" height="186.40" fill="url(#g32)"/><rect x="637.94" y="516.50" width="19.06" height="186.40" fill="url(#g33)"/><rect x="656.40" y="516.50" width="19.06" height="186.40" fill="url(#g34)"/><rect x="674.86" y="516.50" width="19.06" height="186.40" fill="url(#g35)"/><rect x="693.32" y="516.50" width="19.06" height="186.40" fill="url(#g36)"/><rect x="711.77" y="516.50" width="19.06" height="186.40" fill="url(#g37)"/><rect x="730.23" y="516.50" width="15.98" height="186.40" fill="url(#g38)"/><rect x="745.61" y="516.50" width="15.98" height="186.40" fill="url(#g39)"/><rect x="761.00" y="516.50" width="25.21" height="186.40" fill="url(#g40)"/><rect x="785.61" y="516.50" width="19.06" height="186.40" fill="url(#g41)"/><rect x="804.07" y="516.50" width="73.83" height="186.40" fill="url(#g42)"/></g><path d="M 108.8 702.9 
L 108.8 516.5 
" class="s1"/><use xlink:href="#k0" x="108.8" y="702.9" class="s2"/><path d="M 262.6 702.9 
L 262.6 516.5 
" class="s1"/><use xlink:href="#k0" x="262.62" y="702.9" class="s2"/><path d="M 416.4 702.9 
L 416.4 516.5 
" class="s1"/><use xlink:href="#k0" x="416.44" y="702.9" class="s2"/><path d="M 570.3 702.9 
L 570.3 516.5 
" class="s1"/><use xlink:href="#k0" x="570.26" y="702.9" class="s2"/><path d="M 724.1 702.9 
L 724.1 516.5 
" class="s1"/><use xlink:href="#k0" x="724.08" y="702.9" class="s2"/><path d="M 877.9 702.9 
L 877.9 516.5 
" class="s1"/><use xlink:href="#k0" x="877.9" y="702.9" class="s2"/><path d="M 139.6 702.9 
L 139.6 516.5 
" class="s1"/><use xlink:href="#k1" x="139.564" y="702.9" class="s0"/><path d="M 170.3 702.9 
L 170.3 516.5 
" class="s1"/><use xlink:href="#k1" x="170.328" y="702.9" class="s0"/><path d="M 201.1 702.9 
L 201.1 516.5 
" class="s1"/><use xlink:href="#k1" x="201.092" y="702.9" class="s0"/><path d="M 231.9 702.9 
L 231.9 516.5 
" class="s1"/><use xlink:href="#k1" x="231.856" y="702.9" class="s0"/><path d="M 293.4 702.9 
L 293.4 516.5 
" class="s1"/><use xlink:href="#k1" x="293.384" y="702.9" class="s0"/><path d="M 324.1 702.9 
L 324.1 516.5 
" class="s1"/><use xlink:href="#k1" x="324.148" y="702.9" class="s0"/><path d="M 354.9 702.9 
L 354.9 516.5 
" class="s1"/><use xlink:href="#k1" x="354.912" y="702.9" class="s0"/><path d="M 385.7 702.9 
L 385.7 516.5 
" class="s1"/><use xlink:href="#k1" x="385.676" y="702.9" class="s0"/><path d="M 447.2 702.9 
L 447.2 516.5 
" class="s1"/><use xlink:href="#k1" x="447.204" y="702.9" class="s0"/><path d="M 478 702.9 
L 478 516.5 
" class="s1"/><use xlink:href="#k1" x="477.968" y="702.9" class="s0"/><path d="M 508.7 702.9 
L 508.7 516.5 
" class="s1"/><use xlink:href="#k1" x="508.732" y="702.9" class="s0"/><path d="M 539.5 702.9 
L 539.5 516.5 
" class="s1"/><use xlink:href="#k1" x="539.496" y="702.9" class="s0"/><path d="M 601 702.9 
L 601 516.5 
" class="s1"/><use xlink:href="#k1" x="601.024" y="702.9" class="s0"/><path d="M 631.8 702.9 
L 631.8 516.5 
" class="s1"/><use xlink:href="#k1" x="631.788" y="702.9" class="s0"/><path d="M 662.6 702.9 
L 662.6 516.5 
" class="s1"/><use xlink:href="#k1" x="662.552" y="702.9" class="s0"/><path d="M 693.3 702.9 
L 693.3 516.5 
" class="s1"/><use xlink:href="#k1" x="693.316" y="702.9" class="s0"/><path d="M 754.8 702.9 
L 754.8 516.5 
" class="s1"/><use xlink:href="#k1" x="754.844" y="702.9" class="s0"/><path d="M 785.6 702.9 
L 785.6 516.5 
" class="s1"/><use xlink:href="#k1" x="785.608" y="702.9" class="s0"/><path d="M 816.4 702.9 
L 816.4 516.5 
" class="s1"/><use xlink:href="#k1" x="816.372" y="702.9" class="s0"/><path d="M 847.1 702.9 
L 847.1 516.5 
" class="s1"/><use xlink:href="#k1" x="847.136" y="702.9" class="s0"/><path d="M 108.8 702.9 
L 877.9 702.9 
" class="s1"/><use xlink:href="#k2" x="108.8" y="702.9" class="s2"/><g transform="translate(45.655 712.28407)"><text><tspan x="0" y="-0.676563" class="s4">1</tspan><tspan x="15.746704" y="-0.676563" class="s4">0</tspan><tspan x="31.732666" y="-10.246875" class="s5">−</tspan><tspan x="46.249121" y="-10.246875" class="s5">4</tspan></text></g><path d="M 108.8 670.2 
L 877.9 670.2 
" class="s1"/><use xlink:href="#k2" x="108.8" y="670.192335" class="s2"/><g transform="translate(45.655 679.576406)"><text><tspan x="0" y="-0.435938" class="s4">1</tspan><tspan x="15.746704" y="-0.435938" class="s4">0</tspan><tspan x="31.732666" y="-10.00625" class="s5">−</tspan><tspan x="46.249121" y="-10.00625" class="s5">3</tspan></text></g><path d="M 108.8 637.5 
L 877.9 637.5 
" class="s1"/><use xlink:href="#k2" x="108.8" y="637.484671" class="s2"/><g transform="translate(45.655 646.868741)"><text><tspan x="0" y="-0.435938" class="s4">1</tspan><tspan x="15.746704" y="-0.435938" class="s4">0</tspan><tspan x="31.732666" y="-10.00625" class="s5">−</tspan><tspan x="46.249121" y="-10.00625" class="s5">2</tspan></text></g><path d="M 108.8 604.8 
L 877.9 604.8 
" class="s1"/><use xlink:href="#k2" x="108.8" y="604.777006" class="s2"/><g transform="translate(45.655 614.161076)"><text><tspan x="0" y="-0.676563" class="s4">1</tspan><tspan x="15.746704" y="-0.676563" class="s4">0</tspan><tspan x="31.732666" y="-10.246875" class="s5">−</tspan><tspan x="46.249121" y="-10.246875" class="s5">1</tspan></text></g><path d="M 108.8 572.1 
L 877.9 572.1 
" class="s1"/><use xlink:href="#k2" x="108.8" y="572.069341" class="s2"/><g transform="translate(60.228 581.453412)"><text><tspan x="0" y="-0.435938" class="s4">1</tspan><tspan x="15.746704" y="-0.435938" class="s4">0</tspan><tspan x="31.732666" y="-10.00625" class="s5">0</tspan></text></g><path d="M 108.8 539.4 
L 877.9 539.4 
" class="s1"/><use xlink:href="#k2" x="108.8" y="539.361677" class="s2"/><g transform="translate(60.228 548.745747)"><text><tspan x="0" y="-0.676563" class="s4">1</tspan><tspan x="15.746704" y="-0.676563" class="s4">0</tspan><tspan x="31.732666" y="-10.246875" class="s5">1</tspan></text></g><path d="M 108.8 693.1 
L 877.9 693.1 
" class="s1"/><defs><path id="k4" d="M 0 0 
L 5 0 
" class="s0"/></defs><use xlink:href="#k4" x="108.8" y="693.054012" class="s0"/><path d="M 108.8 687.3 
L 877.9 687.3 
" class="s1"/><use xlink:href="#k4" x="108.8" y="687.294478" class="s0"/><path d="M 108.8 683.2 
L 877.9 683.2 
" class="s1"/><use xlink:href="#k4" x="108.8" y="683.208024" class="s0"/><path d="M 108.8 680 
L 877.9 680 
" class="s1"/><use xlink:href="#k4" x="108.8" y="680.038323" class="s0"/><path d="M 108.8 677.4 
L 877.9 677.4 
" class="s1"/><use xlink:href="#k4" x="108.8" y="677.44849" class="s0"/><path d="M 108.8 675.3 
L 877.9 675.3 
" class="s1"/><use xlink:href="#k4" x="108.8" y="675.258817" class="s0"/><path d="M 108.8 673.4 
L 877.9 673.4 
" class="s1"/><use xlink:href="#k4" x="108.8" y="673.362036" class="s0"/><path d="M 108.8 671.7 
L 877.9 671.7 
" class="s1"/><use xlink:href="#k4" x="108.8" y="671.688956" class="s0"/><path d="M 108.8 660.3 
L 877.9 660.3 
" class="s1"/><use xlink:href="#k4" x="108.8" y="660.346347" class="s0"/><path d="M 108.8 654.6 
L 877.9 654.6 
" class="s1"/><use xlink:href="#k4" x="108.8" y="654.586813" class="s0"/><path d="M 108.8 650.5 
L 877.9 650.5 
" class="s1"/><use xlink:href="#k4" x="108.8" y="650.500359" class="s0"/><path d="M 108.8 647.3 
L 877.9 647.3 
" class="s1"/><use xlink:href="#k4" x="108.8" y="647.330659" class="s0"/><path d="M 108.8 644.7 
L 877.9 644.7 
" class="s1"/><use xlink:href="#k4" x="108.8" y="644.740825" class="s0"/><path d="M 108.8 642.6 
L 877.9 642.6 
" class="s1"/><use xlink:href="#k4" x="108.8" y="642.551152" class="s0"/><path d="M 108.8 640.7 
L 877.9 640.7 
" class="s1"/><use xlink:href="#k4" x="108.8" y="640.654371" class="s0"/><path d="M 108.8 639 
L 877.9 639 
" class="s1"/><use xlink:href="#k4" x="108.8" y="638.981291" class="s0"/><path d="M 108.8 627.6 
L 877.9 627.6 
" class="s1"/><use xlink:href="#k4" x="108.8" y="627.638682" class="s0"/><path d="M 108.8 621.9 
L 877.9 621.9 
" class="s1"/><use xlink:href="#k4" x="108.8" y="621.879149" class="s0"/><path d="M 108.8 617.8 
L 877.9 617.8 
" class="s1"/><use xlink:href="#k4" x="108.8" y="617.792694" class="s0"/><path d="M 108.8 614.6 
L 877.9 614.6 
" class="s1"/><use xlink:href="#k4" x="108.8" y="614.622994" class="s0"/><path d="M 108.8 612 
L 877.9 612 
" class="s1"/><use xlink:href="#k4" x="108.8" y="612.03316" class="s0"/><path d="M 108.8 609.8 
L 877.9 609.8 
" class="s1"/><use xlink:href="#k4" x="108.8" y="609.843487" class="s0"/><path d="M 108.8 607.9 
L 877.9 607.9 
" class="s1"/><use xlink:href="#k4" x="108.8" y="607.946706" class="s0"/><path d="M 108.8 606.3 
L 877.9 606.3 
" class="s1"/><use xlink:href="#k4" x="108.8" y="606.273627" class="s0"/><path d="M 108.8 594.9 
L 877.9 594.9 
" class="s1"/><use xlink:href="#k4" x="108.8" y="594.931018" class="s0"/><path d="M 108.8 589.2 
L 877.9 589.2 
" class="s1"/><use xlink:href="#k4" x="108.8" y="589.171484" class="s0"/><path d="M 108.8 585.1 
L 877.9 585.1 
" class="s1"/><use xlink:href="#k4" x="108.8" y="585.08503" class="s0"/><path d="M 108.8 581.9 
L 877.9 581.9 
" class="s1"/><use xlink:href="#k4" x="108.8" y="581.915329" class="s0"/><path d="M 108.8 579.3 
L 877.9 579.3 
" class="s1"/><use xlink:href="#k4" x="108.8" y="579.325496" class="s0"/><path d="M 108.8 577.1 
L 877.9 577.1 
" class="s1"/><use xlink:href="#k4" x="108.8" y="577.135823" class="s0"/><path d="M 108.8 575.2 
L 877.9 575.2 
" class="s1"/><use xlink:href="#k4" x="108.8" y="575.239041" class="s0"/><path d="M 108.8 573.6 
L 877.9 573.6 
" class="s1"/><use xlink:href="#k4" x="108.8" y="573.565962" class="s0"/><path d="M 108.8 562.2 
L 877.9 562.2 
" class="s1"/><use xlink:href="#k4" x="108.8" y="562.223353" class="s0"/><path d="M 108.8 556.5 
L 877.9 556.5 
" class="s1"/><use xlink:href="#k4" x="108.8" y="556.463819" class="s0"/><path d="M 108.8 552.4 
L 877.9 552.4 
" class="s1"/><use xlink:href="#k4" x="108.8" y="552.377365" class="s0"/><path d="M 108.8 549.2 
L 877.9 549.2 
" class="s1"/><use xlink:href="#k4" x="108.8" y="549.207665" class="s0"/><path d="M 108.8 546.6 
L 877.9 546.6 
" class="s1"/><use xlink:href="#k4" x="108.8" y="546.617831" class="s0"/><path d="M 108.8 544.4 
L 877.9 544.4 
" class="s1"/><use xlink:href="#k4" x="108.8" y="544.428158" class="s0"/><path d="M 108.8 542.5 
L 877.9 542.5 
" class="s1"/><use xlink:href="#k4" x="108.8" y="542.531377" class="s0"/><path d="M 108.8 540.9 
L 877.9 540.9 
" class="s1"/><use xlink:href="#k4" x="108.8" y="540.858297" class="s0"/><path d="M 108.8 529.5 
L 877.9 529.5 
" class="s1"/><use xlink:href="#k4" x="108.8" y="529.515688" class="s0"/><path d="M 108.8 523.8 
L 877.9 523.8 
" class="s1"/><use xlink:href="#k4" x="108.8" y="523.756155" class="s0"/><path d="M 108.8 519.7 
L 877.9 519.7 
" class="s1"/><use xlink:href="#k4" x="108.8" y="519.6697" class="s0"/><path d="M 108.8 516.5 
L 877.9 516.5 
" class="s1"/><use xlink:href="#k4" x="108.8" y="516.5" class="s0"/><g transform="translate(28.48 677.625) rotate(-90)"><text><tspan x="0" y="-0.921875" class="s7">p</tspan><tspan x="40.532349" y="-0.921875" class="s7">m</tspan><tspan x="79.414307" y="-0.921875" class="s7">v</tspan><tspan x="20.629883" y="4.492188" class="s8">i</tspan><tspan x="72.191284" y="4.492188" class="s8">i</tspan><tspan x="98.647705" y="4.492188" class="s8">p</tspan><tspan x="113.088623" y="4.492188" class="s8">t</tspan><tspan x="27.852905" y="-0.921875" class="s9">[</tspan><tspan x="122.911011" y="-0.921875" class="s9">]</tspan></text></g><path d="M 108.8 702.9 
L 108.8 516.5 
" class="s6"/><path d="M 877.9 702.9 
L 877.9 516.5 
" class="s6"/><path d="M 108.8 702.9 
L 877.9 702.9 
" class="s6"/><path d="M 108.8 516.5 
L 877.9 516.5 
" class="s6"/><path d="M 228.8 702.9 
L 228.8 516.5 
" clip-path="url(#k8)" class="s24"/><path d="M 290.3 702.9 
L 290.3 516.5 
" clip-path="url(#k8)" class="s24"/><path d="M 468.7 702.9 
L 468.7 516.5 
" clip-path="url(#k8)" class="s25"/><path d="M 530.3 702.9 
L 530.3 516.5 
" clip-path="url(#k8)" class="s25"/><path d="M 808.5 560 
L 872.6 560 
L 872.6 524.6 
L 808.5 524.6 
z
" clip-path="url(#k8)" class="s14"/><text class="s15" x="840.55" y="550.521062">(c1)</text><path d="M 108.8 954.5 
L 877.9 954.5 
L 877.9 768.1 
L 108.8 768.1 
z
" class="s11"/><g id="HEAT_c2"><defs><linearGradient id="g43" gradientUnits="userSpaceOnUse" x1="0" y1="768.10" x2="0" y2="954.50"><stop offset="-0" stop-color="#000000"/><stop offset=".137" stop-color="#000000"/><stop offset=".158" stop-color="#331067"/><stop offset=".202" stop-color="#59157e"/><stop offset=".254" stop-color="#701f81"/><stop offset=".289" stop-color="#a1307e"/><stop offset=".316" stop-color="#de4968"/><stop offset=".36" stop-color="#f9795d"/><stop offset=".421" stop-color="#fea973"/><stop offset=".509" stop-color="#fcfdbf"/><stop offset=".623" stop-color="#fcf9bb"/><stop offset=".649" stop-color="#fde7a9"/><stop offset=".684" stop-color="#febd82"/><stop offset=".737" stop-color="#fc8c63"/><stop offset=".807" stop-color="#f7705c"/><stop offset=".842" stop-color="#6a2a3a"/><stop offset=".903" stop-color="#2a1218"/><stop offset=".956" stop-color="#0c0408"/><stop offset="1" stop-color="#000000"/></linearGradient><linearGradient id="g44" gradientUnits="userSpaceOnUse" x1="0" y1="768.10" x2="0" y2="954.50"><stop offset="-0" stop-color="#000000"/><stop offset=".137" stop-color="#000000"/><stop offset=".149" stop-color="#0f051e"/><stop offset=".158" stop-color="#200a3f"/><stop offset=".193" stop-color="#4a1278"/><stop offset=".254" stop-color="#681b80"/><stop offset=".289" stop-color="#8a277f"/><stop offset=".316" stop-color="#af3774"/><stop offset=".403" stop-color="#ed726b"/><stop offset=".456" stop-color="#fece91"/><stop offset=".509" stop-color="#fcfdbf"/><stop offset=".623" stop-color="#fcf4b6"/><stop offset=".649" stop-color="#fde9ab"/><stop offset=".737" stop-color="#fca878"/><stop offset=".807" stop-color="#f98263"/><stop offset=".825" stop-color="#d66b56"/><stop offset=".842" stop-color="#a14f48"/><stop offset=".903" stop-color="#442121"/><stop offset=".93" stop-color="#220e14"/><stop offset="1" stop-color="#000000"/></linearGradient><linearGradient id="g45" gradientUnits="userSpaceOnUse" x1="0" y1="768.10" x2="0" y2="954.50"><stop offset="-0" stop-color="#000000"/><stop offset=".149" stop-color="#000000"/><stop offset=".167" stop-color="#0e0318"/><stop offset=".193" stop-color="#2e0c4c"/><stop offset=".21" stop-color="#3b0f59"/><stop offset=".245" stop-color="#2e0c3f"/><stop offset=".351" stop-color="#4a1640"/><stop offset=".403" stop-color="#6f2534"/><stop offset=".43" stop-color="#e66b73"/><stop offset=".456" stop-color="#f7bc90"/><stop offset=".474" stop-color="#fde3a5"/><stop offset=".509" stop-color="#fcf5b7"/><stop offset=".614" stop-color="#fcf6b8"/><stop offset=".684" stop-color="#fdda9f"/><stop offset=".754" stop-color="#fdab79"/><stop offset=".807" stop-color="#7e4a35"/><stop offset=".825" stop-color="#7e4431"/><stop offset=".93" stop-color="#15090c"/><stop offset="1" stop-color="#000000"/></linearGradient><linearGradient id="g46" gradientUnits="userSpaceOnUse" x1="0" y1="768.10" x2="0" y2="954.50"><stop offset="-0" stop-color="#000000"/><stop offset=".167" stop-color="#000000"/><stop offset=".21" stop-color="#2a0d3a"/><stop offset=".245" stop-color="#000000"/><stop offset=".408" stop-color="#000000"/><stop offset=".434" stop-color="#de4968"/><stop offset=".491" stop-color="#fde7a9"/><stop offset=".614" stop-color="#fcfdbf"/><stop offset=".754" stop-color="#fe9f6d"/><stop offset=".807" stop-color="#000000"/><stop offset="1" stop-color="#000000"/></linearGradient><linearGradient id="g47" gradientUnits="userSpaceOnUse" x1="0" y1="768.10" x2="0" y2="954.50"><stop offset="-0" stop-color="#000000"/><stop offset=".131" stop-color="#000000"/><stop offset=".167" stop-color="#1d0a30"/><stop offset=".21" stop-color="#270d3a"/><stop offset=".228" stop-color="#190824"/><stop offset=".245" stop-color="#000000"/><stop offset=".412" stop-color="#000000"/><stop offset=".43" stop-color="#4a1823"/><stop offset=".438" stop-color="#9c3252"/><stop offset=".447" stop-color="#cc4a75"/><stop offset=".509" stop-color="#ed9889"/><stop offset=".579" stop-color="#fdd69b"/><stop offset=".614" stop-color="#fcf1b4"/><stop offset=".632" stop-color="#fcf7ba"/><stop offset=".754" stop-color="#fdcb93"/><stop offset=".807" stop-color="#7e7a5b"/><stop offset=".825" stop-color="#7e7a5b"/><stop offset=".965" stop-color="#453d30"/><stop offset="1" stop-color="#000000"/></linearGradient><linearGradient id="g48" gradientUnits="userSpaceOnUse" x1="0" y1="768.10" x2="0" y2="954.50"><stop offset="-0" stop-color="#000000"/><stop offset=".126" stop-color="#000000"/><stop offset=".135" stop-color="#11061a"/><stop offset=".167" stop-color="#341254"/><stop offset=".19" stop-color="#341256"/><stop offset=".228" stop-color="#210c33"/><stop offset=".245" stop-color="#0e0515"/><stop offset=".254" stop-color="#000000"/><stop offset=".409" stop-color="#000000"/><stop offset=".426" stop-color="#1d0820"/><stop offset=".43" stop-color="#2a0c28"/><stop offset=".44" stop-color="#872863"/><stop offset=".447" stop-color="#ae347b"/><stop offset=".509" stop-color="#d0436e"/><stop offset=".535" stop-color="#dc5a70"/><stop offset=".561" stop-color="#f6866a"/><stop offset=".579" stop-color="#fda071"/><stop offset=".628" stop-color="#fddfa2"/><stop offset=".646" stop-color="#fcfcbf"/><stop offset=".825" stop-color="#fcf8ba"/><stop offset=".842" stop-color="#f5f1b5"/><stop offset=".868" stop-color="#ebdaa2"/><stop offset=".947" stop-color="#cbac7e"/><stop offset=".965" stop-color="#a58a68"/><stop offset=".974" stop-color="#846e54"/><stop offset=".991" stop-color="#1e1914"/><stop offset="1" stop-color="#000000"/></linearGradient><linearGradient id="g49" gradientUnits="userSpaceOnUse" x1="0" y1="768.10" x2="0" y2="954.50"><stop offset="-0" stop-color="#000000"/><stop offset=".126" stop-color="#000000"/><stop offset=".135" stop-color="#1c0a2a"/><stop offset=".19" stop-color="#3a1460"/><stop offset=".245" stop-color="#1c0a2a"/><stop offset=".254" stop-color="#000000"/><stop offset=".41" stop-color="#000000"/><stop offset=".427" stop-color="#3a1040"/><stop offset=".441" stop-color="#a1307e"/><stop offset=".535" stop-color="#cf4070"/><stop offset=".561" stop-color="#f7705c"/><stop offset=".588" stop-color="#fd9668"/><stop offset=".628" stop-color="#fec68a"/><stop offset=".646" stop-color="#fcfdbf"/><stop offset=".842" stop-color="#fcfdbf"/><stop offset=".868" stop-color="#fde7a9"/><stop offset=".947" stop-color="#fecf92"/><stop offset=".974" stop-color="#a08060"/><stop offset=".991" stop-color="#1a1410"/><stop offset="1" stop-color="#000000"/></linearGradient><linearGradient id="g50" gradientUnits="userSpaceOnUse" x1="0" y1="768.10" x2="0" y2="954.50"><stop offset="-0" stop-color="#000000"/><stop offset=".126" stop-color="#000000"/><stop offset=".135" stop-color="#1c0a2a"/><stop offset=".19" stop-color="#3a1460"/><stop offset=".245" stop-color="#1c0a2a"/><stop offset=".254" stop-color="#000000"/><stop offset=".412" stop-color="#000000"/><stop offset=".43" stop-color="#3a1040"/><stop offset=".444" stop-color="#a1307e"/><stop offset=".535" stop-color="#cf4070"/><stop offset=".561" stop-color="#f7705c"/><stop offset=".588" stop-color="#fd9668"/><stop offset=".628" stop-color="#fec68a"/><stop offset=".646" stop-color="#fcfdbf"/><stop offset=".842" stop-color="#fcfdbf"/><stop offset=".868" stop-color="#fde7a9"/><stop offset=".947" stop-color="#fecf92"/><stop offset=".974" stop-color="#a08060"/><stop offset=".991" stop-color="#1a1410"/><stop offset="1" stop-color="#000000"/></linearGradient><linearGradient id="g51" gradientUnits="userSpaceOnUse" x1="0" y1="768.10" x2="0" y2="954.50"><stop offset="-0" stop-color="#000000"/><stop offset=".126" stop-color="#000000"/><stop offset=".135" stop-color="#1c0a2a"/><stop offset=".19" stop-color="#3a1460"/><stop offset=".245" stop-color="#1c0a2a"/><stop offset=".254" stop-color="#000000"/><stop offset=".415" stop-color="#000000"/><stop offset=".432" stop-color="#3a1040"/><stop offset=".446" stop-color="#a1307e"/><stop offset=".535" stop-color="#cf4070"/><stop offset=".561" stop-color="#f7705c"/><stop offset=".588" stop-color="#fd9668"/><stop offset=".628" stop-color="#fec68a"/><stop offset=".646" stop-color="#fcfdbf"/><stop offset=".842" stop-color="#fcfdbf"/><stop offset=".868" stop-color="#fde7a9"/><stop offset=".947" stop-color="#fecf92"/><stop offset=".974" stop-color="#a08060"/><stop offset=".991" stop-color="#1a1410"/><stop offset="1" stop-color="#000000"/></linearGradient><linearGradient id="g52" gradientUnits="userSpaceOnUse" x1="0" y1="768.10" x2="0" y2="954.50"><stop offset="-0" stop-color="#000000"/><stop offset=".126" stop-color="#000000"/><stop offset=".135" stop-color="#1c0a2a"/><stop offset=".19" stop-color="#3a1460"/><stop offset=".245" stop-color="#1c0a2a"/><stop offset=".254" stop-color="#000000"/><stop offset=".417" stop-color="#000000"/><stop offset=".435" stop-color="#3a1040"/><stop offset=".449" stop-color="#a1307e"/><stop offset=".535" stop-color="#cf4070"/><stop offset=".561" stop-color="#f7705c"/><stop offset=".588" stop-color="#fd9668"/><stop offset=".628" stop-color="#fec68a"/><stop offset=".646" stop-color="#fcfdbf"/><stop offset=".842" stop-color="#fcfdbf"/><stop offset=".868" stop-color="#fde7a9"/><stop offset=".947" stop-color="#fecf92"/><stop offset=".974" stop-color="#a08060"/><stop offset=".991" stop-color="#1a1410"/><stop offset="1" stop-color="#000000"/></linearGradient><linearGradient id="g53" gradientUnits="userSpaceOnUse" x1="0" y1="768.10" x2="0" y2="954.50"><stop offset="-0" stop-color="#000000"/><stop offset=".126" stop-color="#000000"/><stop offset=".135" stop-color="#1c0a2a"/><stop offset=".19" stop-color="#3a1460"/><stop offset=".245" stop-color="#1c0a2a"/><stop offset=".254" stop-color="#000000"/><stop offset=".42" stop-color="#000000"/><stop offset=".437" stop-color="#3a1040"/><stop offset=".451" stop-color="#a1307e"/><stop offset=".535" stop-color="#cf4070"/><stop offset=".561" stop-color="#f7705c"/><stop offset=".588" stop-color="#fd9668"/><stop offset=".628" stop-color="#fec68a"/><stop offset=".646" stop-color="#fcfdbf"/><stop offset=".842" stop-color="#fcfdbf"/><stop offset=".868" stop-color="#fde7a9"/><stop offset=".947" stop-color="#fecf92"/><stop offset=".974" stop-color="#a08060"/><stop offset=".991" stop-color="#1a1410"/><stop offset="1" stop-color="#000000"/></linearGradient><linearGradient id="g54" gradientUnits="userSpaceOnUse" x1="0" y1="768.10" x2="0" y2="954.50"><stop offset="-0" stop-color="#000000"/><stop offset=".126" stop-color="#000000"/><stop offset=".135" stop-color="#1c0a2a"/><stop offset=".19" stop-color="#3a1460"/><stop offset=".245" stop-color="#1c0a2a"/><stop offset=".254" stop-color="#000000"/><stop offset=".421" stop-color="#000000"/><stop offset=".439" stop-color="#3a1040"/><stop offset=".453" stop-color="#a1307e"/><stop offset=".535" stop-color="#cf4070"/><stop offset=".561" stop-color="#f7705c"/><stop offset=".588" stop-color="#fd9668"/><stop offset=".628" stop-color="#fec68a"/><stop offset=".646" stop-color="#fcfdbf"/><stop offset=".842" stop-color="#fcfdbf"/><stop offset=".868" stop-color="#fde7a9"/><stop offset=".947" stop-color="#fecf92"/><stop offset=".974" stop-color="#a08060"/><stop offset=".991" stop-color="#1a1410"/><stop offset="1" stop-color="#000000"/></linearGradient><linearGradient id="g55" gradientUnits="userSpaceOnUse" x1="0" y1="768.10" x2="0" y2="954.50"><stop offset="-0" stop-color="#000000"/><stop offset=".126" stop-color="#000000"/><stop offset=".135" stop-color="#1c0a2a"/><stop offset=".19" stop-color="#3a1460"/><stop offset=".245" stop-color="#1c0a2a"/><stop offset=".254" stop-color="#000000"/><stop offset=".421" stop-color="#000000"/><stop offset=".439" stop-color="#3a1040"/><stop offset=".453" stop-color="#a1307e"/><stop offset=".535" stop-color="#cf4070"/><stop offset=".561" stop-color="#f7705c"/><stop offset=".588" stop-color="#fd9668"/><stop offset=".628" stop-color="#fec68a"/><stop offset=".646" stop-color="#fcfdbf"/><stop offset=".842" stop-color="#fcfdbf"/><stop offset=".868" stop-color="#fde7a9"/><stop offset=".947" stop-color="#fecf92"/><stop offset=".974" stop-color="#a08060"/><stop offset=".991" stop-color="#1a1410"/><stop offset="1" stop-color="#000000"/></linearGradient><linearGradient id="g56" gradientUnits="userSpaceOnUse" x1="0" y1="768.10" x2="0" y2="954.50"><stop offset="-0" stop-color="#000000"/><stop offset=".126" stop-color="#000000"/><stop offset=".135" stop-color="#1c0a2a"/><stop offset=".19" stop-color="#3a1460"/><stop offset=".245" stop-color="#1c0a2a"/><stop offset=".254" stop-color="#000000"/><stop offset=".422" stop-color="#000000"/><stop offset=".439" stop-color="#3a1040"/><stop offset=".453" stop-color="#a1307e"/><stop offset=".535" stop-color="#cf4070"/><stop offset=".561" stop-color="#f7705c"/><stop offset=".588" stop-color="#fd9668"/><stop offset=".628" stop-color="#fec68a"/><stop offset=".646" stop-color="#fcfdbf"/><stop offset=".842" stop-color="#fcfdbf"/><stop offset=".868" stop-color="#fde7a9"/><stop offset=".947" stop-color="#fecf92"/><stop offset=".974" stop-color="#a08060"/><stop offset=".991" stop-color="#1a1410"/><stop offset="1" stop-color="#000000"/></linearGradient><linearGradient id="g57" gradientUnits="userSpaceOnUse" x1="0" y1="768.10" x2="0" y2="954.50"><stop offset="-0" stop-color="#000000"/><stop offset=".126" stop-color="#000000"/><stop offset=".135" stop-color="#1c0a2a"/><stop offset=".19" stop-color="#3a1460"/><stop offset=".245" stop-color="#1c0a2a"/><stop offset=".254" stop-color="#000000"/><stop offset=".422" stop-color="#000000"/><stop offset=".44" stop-color="#3a1040"/><stop offset=".454" stop-color="#a1307e"/><stop offset=".535" stop-color="#cf4070"/><stop offset=".561" stop-color="#f7705c"/><stop offset=".588" stop-color="#fd9668"/><stop offset=".628" stop-color="#fec68a"/><stop offset=".646" stop-color="#fcfdbf"/><stop offset=".842" stop-color="#fcfdbf"/><stop offset=".868" stop-color="#fde7a9"/><stop offset=".947" stop-color="#fecf92"/><stop offset=".974" stop-color="#a08060"/><stop offset=".991" stop-color="#1a1410"/><stop offset="1" stop-color="#000000"/></linearGradient><linearGradient id="g58" gradientUnits="userSpaceOnUse" x1="0" y1="768.10" x2="0" y2="954.50"><stop offset="-0" stop-color="#000000"/><stop offset=".126" stop-color="#000000"/><stop offset=".135" stop-color="#1c0a2a"/><stop offset=".19" stop-color="#3a1460"/><stop offset=".245" stop-color="#1c0a2a"/><stop offset=".254" stop-color="#000000"/><stop offset=".423" stop-color="#000000"/><stop offset=".44" stop-color="#3a1040"/><stop offset=".454" stop-color="#a1307e"/><stop offset=".535" stop-color="#cf4070"/><stop offset=".561" stop-color="#f7705c"/><stop offset=".588" stop-color="#fd9668"/><stop offset=".628" stop-color="#fec68a"/><stop offset=".646" stop-color="#fcfdbf"/><stop offset=".842" stop-color="#fcfdbf"/><stop offset=".868" stop-color="#fde7a9"/><stop offset=".947" stop-color="#fecf92"/><stop offset=".974" stop-color="#a08060"/><stop offset=".991" stop-color="#1a1410"/><stop offset="1" stop-color="#000000"/></linearGradient><linearGradient id="g59" gradientUnits="userSpaceOnUse" x1="0" y1="768.10" x2="0" y2="954.50"><stop offset="-0" stop-color="#000000"/><stop offset=".126" stop-color="#000000"/><stop offset=".135" stop-color="#1c0a2a"/><stop offset=".19" stop-color="#3a1460"/><stop offset=".245" stop-color="#1c0a2a"/><stop offset=".254" stop-color="#000000"/><stop offset=".423" stop-color="#000000"/><stop offset=".44" stop-color="#3a1040"/><stop offset=".454" stop-color="#a1307e"/><stop offset=".535" stop-color="#cf4070"/><stop offset=".561" stop-color="#f7705c"/><stop offset=".588" stop-color="#fd9668"/><stop offset=".628" stop-color="#fec68a"/><stop offset=".646" stop-color="#fcfdbf"/><stop offset=".842" stop-color="#fcfdbf"/><stop offset=".868" stop-color="#fde7a9"/><stop offset=".947" stop-color="#fecf92"/><stop offset=".974" stop-color="#a08060"/><stop offset=".991" stop-color="#1a1410"/><stop offset="1" stop-color="#000000"/></linearGradient><linearGradient id="g60" gradientUnits="userSpaceOnUse" x1="0" y1="768.10" x2="0" y2="954.50"><stop offset="-0" stop-color="#000000"/><stop offset=".126" stop-color="#000000"/><stop offset=".135" stop-color="#1c0a2a"/><stop offset=".19" stop-color="#3a1460"/><stop offset=".245" stop-color="#1c0a2a"/><stop offset=".254" stop-color="#000000"/><stop offset=".423" stop-color="#000000"/><stop offset=".441" stop-color="#3a1040"/><stop offset=".455" stop-color="#a1307e"/><stop offset=".535" stop-color="#cf4070"/><stop offset=".561" stop-color="#f7705c"/><stop offset=".588" stop-color="#fd9668"/><stop offset=".628" stop-color="#fec68a"/><stop offset=".646" stop-color="#fcfdbf"/><stop offset=".842" stop-color="#fcfdbf"/><stop offset=".868" stop-color="#fde7a9"/><stop offset=".947" stop-color="#fecf92"/><stop offset=".974" stop-color="#a08060"/><stop offset=".991" stop-color="#1a1410"/><stop offset="1" stop-color="#000000"/></linearGradient><linearGradient id="g61" gradientUnits="userSpaceOnUse" x1="0" y1="768.10" x2="0" y2="954.50"><stop offset="-0" stop-color="#000000"/><stop offset=".126" stop-color="#000000"/><stop offset=".135" stop-color="#1c0a2a"/><stop offset=".19" stop-color="#3a1460"/><stop offset=".245" stop-color="#1c0a2a"/><stop offset=".254" stop-color="#000000"/><stop offset=".424" stop-color="#000000"/><stop offset=".441" stop-color="#3a1040"/><stop offset=".455" stop-color="#a1307e"/><stop offset=".535" stop-color="#cf4070"/><stop offset=".561" stop-color="#f7705c"/><stop offset=".588" stop-color="#fd9668"/><stop offset=".628" stop-color="#fec68a"/><stop offset=".646" stop-color="#fcfdbf"/><stop offset=".842" stop-color="#fcfdbf"/><stop offset=".868" stop-color="#fde7a9"/><stop offset=".947" stop-color="#fecf92"/><stop offset=".974" stop-color="#a08060"/><stop offset=".991" stop-color="#1a1410"/><stop offset="1" stop-color="#000000"/></linearGradient><linearGradient id="g62" gradientUnits="userSpaceOnUse" x1="0" y1="768.10" x2="0" y2="954.50"><stop offset="-0" stop-color="#000000"/><stop offset=".126" stop-color="#000000"/><stop offset=".135" stop-color="#1c0a2a"/><stop offset=".19" stop-color="#3a1460"/><stop offset=".245" stop-color="#1c0a2a"/><stop offset=".254" stop-color="#000000"/><stop offset=".424" stop-color="#000000"/><stop offset=".441" stop-color="#3a1040"/><stop offset=".456" stop-color="#a1307e"/><stop offset=".535" stop-color="#cf4070"/><stop offset=".561" stop-color="#f7705c"/><stop offset=".588" stop-color="#fd9668"/><stop offset=".628" stop-color="#fec68a"/><stop offset=".646" stop-color="#fcfdbf"/><stop offset=".842" stop-color="#fcfdbf"/><stop offset=".868" stop-color="#fde7a9"/><stop offset=".947" stop-color="#fecf92"/><stop offset=".974" stop-color="#a08060"/><stop offset=".991" stop-color="#1a1410"/><stop offset="1" stop-color="#000000"/></linearGradient><linearGradient id="g63" gradientUnits="userSpaceOnUse" x1="0" y1="768.10" x2="0" y2="954.50"><stop offset="-0" stop-color="#000000"/><stop offset=".126" stop-color="#000000"/><stop offset=".135" stop-color="#1c0a2a"/><stop offset=".19" stop-color="#3a1460"/><stop offset=".245" stop-color="#1c0a2a"/><stop offset=".254" stop-color="#000000"/><stop offset=".424" stop-color="#000000"/><stop offset=".442" stop-color="#3a1040"/><stop offset=".456" stop-color="#a1307e"/><stop offset=".535" stop-color="#cf4070"/><stop offset=".561" stop-color="#f7705c"/><stop offset=".588" stop-color="#fd9668"/><stop offset=".628" stop-color="#fec68a"/><stop offset=".646" stop-color="#fcfdbf"/><stop offset=".842" stop-color="#fcfdbf"/><stop offset=".868" stop-color="#fde7a9"/><stop offset=".947" stop-color="#fecf92"/><stop offset=".974" stop-color="#a08060"/><stop offset=".991" stop-color="#1a1410"/><stop offset="1" stop-color="#000000"/></linearGradient><linearGradient id="g64" gradientUnits="userSpaceOnUse" x1="0" y1="768.10" x2="0" y2="954.50"><stop offset="-0" stop-color="#000000"/><stop offset=".126" stop-color="#000000"/><stop offset=".135" stop-color="#1c0a2a"/><stop offset=".19" stop-color="#3a1460"/><stop offset=".245" stop-color="#1c0a2a"/><stop offset=".254" stop-color="#000000"/><stop offset=".425" stop-color="#000000"/><stop offset=".442" stop-color="#3a1040"/><stop offset=".456" stop-color="#a1307e"/><stop offset=".535" stop-color="#cf4070"/><stop offset=".561" stop-color="#f7705c"/><stop offset=".588" stop-color="#fd9668"/><stop offset=".628" stop-color="#fec68a"/><stop offset=".646" stop-color="#fcfdbf"/><stop offset=".842" stop-color="#fcfdbf"/><stop offset=".868" stop-color="#fde7a9"/><stop offset=".947" stop-color="#fecf92"/><stop offset=".974" stop-color="#a08060"/><stop offset=".991" stop-color="#1a1410"/><stop offset="1" stop-color="#000000"/></linearGradient><linearGradient id="g65" gradientUnits="userSpaceOnUse" x1="0" y1="768.10" x2="0" y2="954.50"><stop offset="-0" stop-color="#000000"/><stop offset=".126" stop-color="#000000"/><stop offset=".135" stop-color="#1c0a2a"/><stop offset=".19" stop-color="#3a1460"/><stop offset=".245" stop-color="#1c0a2a"/><stop offset=".254" stop-color="#000000"/><stop offset=".425" stop-color="#000000"/><stop offset=".443" stop-color="#3a1040"/><stop offset=".457" stop-color="#a1307e"/><stop offset=".535" stop-color="#cf4070"/><stop offset=".561" stop-color="#f7705c"/><stop offset=".588" stop-color="#fd9668"/><stop offset=".628" stop-color="#fec68a"/><stop offset=".646" stop-color="#fcfdbf"/><stop offset=".842" stop-color="#fcfdbf"/><stop offset=".868" stop-color="#fde7a9"/><stop offset=".947" stop-color="#fecf92"/><stop offset=".974" stop-color="#a08060"/><stop offset=".991" stop-color="#1a1410"/><stop offset="1" stop-color="#000000"/></linearGradient><linearGradient id="g66" gradientUnits="userSpaceOnUse" x1="0" y1="768.10" x2="0" y2="954.50"><stop offset="-0" stop-color="#000000"/><stop offset=".126" stop-color="#000000"/><stop offset=".135" stop-color="#1c0a2a"/><stop offset=".19" stop-color="#3a1460"/><stop offset=".245" stop-color="#1c0a2a"/><stop offset=".254" stop-color="#000000"/><stop offset=".425" stop-color="#000000"/><stop offset=".443" stop-color="#3a1040"/><stop offset=".457" stop-color="#a1307e"/><stop offset=".535" stop-color="#cf4070"/><stop offset=".561" stop-color="#f7705c"/><stop offset=".588" stop-color="#fd9668"/><stop offset=".628" stop-color="#fec68a"/><stop offset=".646" stop-color="#fcfdbf"/><stop offset=".842" stop-color="#fcfdbf"/><stop offset=".868" stop-color="#fde7a9"/><stop offset=".947" stop-color="#fecf92"/><stop offset=".974" stop-color="#a08060"/><stop offset=".991" stop-color="#1a1410"/><stop offset="1" stop-color="#000000"/></linearGradient><linearGradient id="g67" gradientUnits="userSpaceOnUse" x1="0" y1="768.10" x2="0" y2="954.50"><stop offset="-0" stop-color="#000000"/><stop offset=".126" stop-color="#000000"/><stop offset=".135" stop-color="#1c0a2a"/><stop offset=".19" stop-color="#3a1460"/><stop offset=".245" stop-color="#1c0a2a"/><stop offset=".254" stop-color="#000000"/><stop offset=".426" stop-color="#000000"/><stop offset=".443" stop-color="#3a1040"/><stop offset=".457" stop-color="#a1307e"/><stop offset=".535" stop-color="#cf4070"/><stop offset=".561" stop-color="#f7705c"/><stop offset=".588" stop-color="#fd9668"/><stop offset=".628" stop-color="#fec68a"/><stop offset=".646" stop-color="#fcfdbf"/><stop offset=".842" stop-color="#fcfdbf"/><stop offset=".868" stop-color="#fde7a9"/><stop offset=".947" stop-color="#fecf92"/><stop offset=".974" stop-color="#a08060"/><stop offset=".991" stop-color="#1a1410"/><stop offset="1" stop-color="#000000"/></linearGradient><linearGradient id="g68" gradientUnits="userSpaceOnUse" x1="0" y1="768.10" x2="0" y2="954.50"><stop offset="-0" stop-color="#000000"/><stop offset=".126" stop-color="#000000"/><stop offset=".135" stop-color="#1c0a2a"/><stop offset=".19" stop-color="#3a1460"/><stop offset=".245" stop-color="#1c0a2a"/><stop offset=".254" stop-color="#000000"/><stop offset=".426" stop-color="#000000"/><stop offset=".444" stop-color="#3a1040"/><stop offset=".458" stop-color="#a1307e"/><stop offset=".535" stop-color="#cf4070"/><stop offset=".561" stop-color="#f7705c"/><stop offset=".588" stop-color="#fd9668"/><stop offset=".628" stop-color="#fec68a"/><stop offset=".646" stop-color="#fcfdbf"/><stop offset=".842" stop-color="#fcfdbf"/><stop offset=".868" stop-color="#fde7a9"/><stop offset=".947" stop-color="#fecf92"/><stop offset=".974" stop-color="#a08060"/><stop offset=".991" stop-color="#1a1410"/><stop offset="1" stop-color="#000000"/></linearGradient><linearGradient id="g69" gradientUnits="userSpaceOnUse" x1="0" y1="768.10" x2="0" y2="954.50"><stop offset="-0" stop-color="#000000"/><stop offset=".126" stop-color="#000000"/><stop offset=".135" stop-color="#1c0a2a"/><stop offset=".19" stop-color="#3a1460"/><stop offset=".245" stop-color="#1c0a2a"/><stop offset=".254" stop-color="#000000"/><stop offset=".426" stop-color="#000000"/><stop offset=".444" stop-color="#3a1040"/><stop offset=".458" stop-color="#a1307e"/><stop offset=".535" stop-color="#cf4070"/><stop offset=".561" stop-color="#f7705c"/><stop offset=".588" stop-color="#fd9668"/><stop offset=".628" stop-color="#fec68a"/><stop offset=".646" stop-color="#fcfdbf"/><stop offset=".842" stop-color="#fcfdbf"/><stop offset=".868" stop-color="#fde7a9"/><stop offset=".947" stop-color="#fecf92"/><stop offset=".974" stop-color="#a08060"/><stop offset=".991" stop-color="#1a1410"/><stop offset="1" stop-color="#000000"/></linearGradient><linearGradient id="g70" gradientUnits="userSpaceOnUse" x1="0" y1="768.10" x2="0" y2="954.50"><stop offset="-0" stop-color="#000000"/><stop offset=".129" stop-color="#000000"/><stop offset=".138" stop-color="#1c0a2a"/><stop offset=".192" stop-color="#3a1460"/><stop offset=".245" stop-color="#1c0a2a"/><stop offset=".254" stop-color="#000000"/><stop offset=".427" stop-color="#000000"/><stop offset=".444" stop-color="#3a1040"/><stop offset=".458" stop-color="#a1307e"/><stop offset=".535" stop-color="#cf4070"/><stop offset=".561" stop-color="#e96362"/><stop offset=".588" stop-color="#fc8f65"/><stop offset=".628" stop-color="#fec68a"/><stop offset=".646" stop-color="#fcfdbf"/><stop offset=".842" stop-color="#fcfdbf"/><stop offset=".868" stop-color="#fde7a9"/><stop offset=".947" stop-color="#fecf92"/><stop offset=".974" stop-color="#a08060"/><stop offset=".991" stop-color="#1a1410"/><stop offset="1" stop-color="#000000"/></linearGradient><linearGradient id="g71" gradientUnits="userSpaceOnUse" x1="0" y1="768.10" x2="0" y2="954.50"><stop offset="-0" stop-color="#000000"/><stop offset=".135" stop-color="#000000"/><stop offset=".143" stop-color="#1c0a2a"/><stop offset=".194" stop-color="#3a1460"/><stop offset=".245" stop-color="#1c0a2a"/><stop offset=".254" stop-color="#000000"/><stop offset=".427" stop-color="#000000"/><stop offset=".445" stop-color="#3a1040"/><stop offset=".459" stop-color="#a1307e"/><stop offset=".535" stop-color="#cf4070"/><stop offset=".561" stop-color="#cd4770"/><stop offset=".588" stop-color="#fa8160"/><stop offset=".628" stop-color="#fec68a"/><stop offset=".646" stop-color="#fcfdbf"/><stop offset=".842" stop-color="#fcfdbf"/><stop offset=".868" stop-color="#fde7a9"/><stop offset=".947" stop-color="#fecf92"/><stop offset=".974" stop-color="#a08060"/><stop offset=".991" stop-color="#1a1410"/><stop offset="1" stop-color="#000000"/></linearGradient><linearGradient id="g72" gradientUnits="userSpaceOnUse" x1="0" y1="768.10" x2="0" y2="954.50"><stop offset="-0" stop-color="#000000"/><stop offset=".146" stop-color="#000000"/><stop offset=".154" stop-color="#1c0a2a"/><stop offset=".2" stop-color="#3a1460"/><stop offset=".245" stop-color="#1c0a2a"/><stop offset=".254" stop-color="#000000"/><stop offset=".427" stop-color="#000000"/><stop offset=".445" stop-color="#3a1040"/><stop offset=".459" stop-color="#a1307e"/><stop offset=".535" stop-color="#cf4070"/><stop offset=".561" stop-color="#b23679"/><stop offset=".588" stop-color="#f8755d"/><stop offset=".628" stop-color="#fec68a"/><stop offset=".646" stop-color="#fcfdbf"/><stop offset=".842" stop-color="#fcfdbf"/><stop offset=".868" stop-color="#fde7a9"/><stop offset=".947" stop-color="#fecf92"/><stop offset=".974" stop-color="#a08060"/><stop offset=".991" stop-color="#1a1410"/><stop offset="1" stop-color="#000000"/></linearGradient><linearGradient id="g73" gradientUnits="userSpaceOnUse" x1="0" y1="768.10" x2="0" y2="954.50"><stop offset="-0" stop-color="#000000"/><stop offset=".162" stop-color="#000000"/><stop offset=".171" stop-color="#1c0a2a"/><stop offset=".208" stop-color="#3a1460"/><stop offset=".245" stop-color="#1c0a2a"/><stop offset=".254" stop-color="#000000"/><stop offset=".428" stop-color="#000000"/><stop offset=".445" stop-color="#3a1040"/><stop offset=".459" stop-color="#a1307e"/><stop offset=".535" stop-color="#cf4070"/><stop offset=".561" stop-color="#992d7e"/><stop offset=".588" stop-color="#f56c5c"/><stop offset=".628" stop-color="#fec68a"/><stop offset=".646" stop-color="#fcfdbf"/><stop offset=".842" stop-color="#fcfdbf"/><stop offset=".868" stop-color="#fde7a9"/><stop offset=".947" stop-color="#fecf92"/><stop offset=".974" stop-color="#a08060"/><stop offset=".991" stop-color="#1a1410"/><stop offset="1" stop-color="#000000"/></linearGradient><linearGradient id="g74" gradientUnits="userSpaceOnUse" x1="0" y1="768.10" x2="0" y2="954.50"><stop offset="-0" stop-color="#000000"/><stop offset=".176" stop-color="#000000"/><stop offset=".185" stop-color="#1c0a2a"/><stop offset=".215" stop-color="#3a1460"/><stop offset=".245" stop-color="#1c0a2a"/><stop offset=".254" stop-color="#000000"/><stop offset=".428" stop-color="#000000"/><stop offset=".446" stop-color="#3a1040"/><stop offset=".46" stop-color="#a1307e"/><stop offset=".535" stop-color="#cf4070"/><stop offset=".561" stop-color="#8c2981"/><stop offset=".588" stop-color="#f4675c"/><stop offset=".628" stop-color="#fec68a"/><stop offset=".646" stop-color="#fcfdbf"/><stop offset=".842" stop-color="#fcfdbf"/><stop offset=".868" stop-color="#fde7a9"/><stop offset=".947" stop-color="#fecf92"/><stop offset=".974" stop-color="#a08060"/><stop offset=".991" stop-color="#1a1410"/><stop offset="1" stop-color="#000000"/></linearGradient><linearGradient id="g75" gradientUnits="userSpaceOnUse" x1="0" y1="768.10" x2="0" y2="954.50"><stop offset="-0" stop-color="#000000"/><stop offset=".187" stop-color="#000000"/><stop offset=".196" stop-color="#1c0a2a"/><stop offset=".221" stop-color="#3a1460"/><stop offset=".245" stop-color="#1c0a2a"/><stop offset=".254" stop-color="#000000"/><stop offset=".428" stop-color="#000000"/><stop offset=".446" stop-color="#3a1040"/><stop offset=".46" stop-color="#a1307e"/><stop offset=".535" stop-color="#cf4070"/><stop offset=".561" stop-color="#8c2981"/><stop offset=".588" stop-color="#f4675c"/><stop offset=".628" stop-color="#fec68a"/><stop offset=".646" stop-color="#fcfdbf"/><stop offset=".842" stop-color="#fcfdbf"/><stop offset=".868" stop-color="#fde7a9"/><stop offset=".947" stop-color="#fecf92"/><stop offset=".974" stop-color="#a08060"/><stop offset=".991" stop-color="#1a1410"/><stop offset="1" stop-color="#000000"/></linearGradient><linearGradient id="g76" gradientUnits="userSpaceOnUse" x1="0" y1="768.10" x2="0" y2="954.50"><stop offset="-0" stop-color="#000000"/><stop offset=".193" stop-color="#000000"/><stop offset=".202" stop-color="#1c0a2a"/><stop offset=".223" stop-color="#3a1460"/><stop offset=".244" stop-color="#1c0a2a"/><stop offset=".253" stop-color="#000000"/><stop offset=".428" stop-color="#000000"/><stop offset=".446" stop-color="#3a1040"/><stop offset=".46" stop-color="#a1307e"/><stop offset=".535" stop-color="#cf4070"/><stop offset=".561" stop-color="#8c2981"/><stop offset=".588" stop-color="#f4675c"/><stop offset=".628" stop-color="#fec68a"/><stop offset=".646" stop-color="#fcfdbf"/><stop offset=".842" stop-color="#fcfdbf"/><stop offset=".868" stop-color="#fde7a9"/><stop offset=".947" stop-color="#fecf92"/><stop offset=".974" stop-color="#a08060"/><stop offset=".991" stop-color="#1a1410"/><stop offset="1" stop-color="#000000"/></linearGradient><linearGradient id="g77" gradientUnits="userSpaceOnUse" x1="0" y1="768.10" x2="0" y2="954.50"><stop offset="-0" stop-color="#000000"/><stop offset=".193" stop-color="#000000"/><stop offset=".202" stop-color="#1c0a2a"/><stop offset=".222" stop-color="#3a1460"/><stop offset=".242" stop-color="#1c0a2a"/><stop offset=".251" stop-color="#000000"/><stop offset=".429" stop-color="#000000"/><stop offset=".446" stop-color="#3a1040"/><stop offset=".46" stop-color="#a1307e"/><stop offset=".535" stop-color="#cf4070"/><stop offset=".561" stop-color="#8c2981"/><stop offset=".588" stop-color="#f4675c"/><stop offset=".628" stop-color="#fec68a"/><stop offset=".646" stop-color="#fcfdbf"/><stop offset=".842" stop-color="#fcfdbf"/><stop offset=".868" stop-color="#fde7a9"/><stop offset=".947" stop-color="#fecf92"/><stop offset=".974" stop-color="#a08060"/><stop offset=".991" stop-color="#1a1410"/><stop offset="1" stop-color="#000000"/></linearGradient><linearGradient id="g78" gradientUnits="userSpaceOnUse" x1="0" y1="768.10" x2="0" y2="954.50"><stop offset="-0" stop-color="#000000"/><stop offset=".193" stop-color="#000000"/><stop offset=".202" stop-color="#1c0a2a"/><stop offset=".221" stop-color="#3a1460"/><stop offset=".24" stop-color="#1c0a2a"/><stop offset=".249" stop-color="#000000"/><stop offset=".429" stop-color="#000000"/><stop offset=".447" stop-color="#3a1040"/><stop offset=".461" stop-color="#a1307e"/><stop offset=".535" stop-color="#cf4070"/><stop offset=".561" stop-color="#8c2981"/><stop offset=".588" stop-color="#f4675c"/><stop offset=".628" stop-color="#fec68a"/><stop offset=".646" stop-color="#fcfdbf"/><stop offset=".842" stop-color="#fcfdbf"/><stop offset=".868" stop-color="#fde7a9"/><stop offset=".947" stop-color="#fecf92"/><stop offset=".974" stop-color="#a08060"/><stop offset=".991" stop-color="#1a1410"/><stop offset="1" stop-color="#000000"/></linearGradient><linearGradient id="g79" gradientUnits="userSpaceOnUse" x1="0" y1="768.10" x2="0" y2="954.50"><stop offset="-0" stop-color="#000000"/><stop offset=".193" stop-color="#000000"/><stop offset=".202" stop-color="#1c0a2a"/><stop offset=".22" stop-color="#3a1460"/><stop offset=".238" stop-color="#1c0a2a"/><stop offset=".247" stop-color="#000000"/><stop offset=".43" stop-color="#000000"/><stop offset=".447" stop-color="#3a1040"/><stop offset=".461" stop-color="#a1307e"/><stop offset=".535" stop-color="#cf4070"/><stop offset=".561" stop-color="#8c2981"/><stop offset=".588" stop-color="#f4675c"/><stop offset=".628" stop-color="#fec68a"/><stop offset=".646" stop-color="#fcfdbf"/><stop offset=".842" stop-color="#fcfdbf"/><stop offset=".868" stop-color="#fde7a9"/><stop offset=".947" stop-color="#fecf92"/><stop offset=".974" stop-color="#a08060"/><stop offset=".991" stop-color="#1a1410"/><stop offset="1" stop-color="#000000"/></linearGradient></defs><rect x="108.80" y="768.10" width="102.12" height="186.40" fill="url(#g43)"/><rect x="210.32" y="768.10" width="8.29" height="186.40" fill="url(#g44)"/><rect x="218.01" y="768.10" width="3.98" height="186.40" fill="url(#g45)"/><rect x="221.40" y="768.10" width="6.14" height="186.40" fill="url(#g46)"/><rect x="226.93" y="768.10" width="3.98" height="186.40" fill="url(#g47)"/><rect x="230.32" y="768.10" width="8.29" height="186.40" fill="url(#g48)"/><rect x="238.01" y="768.10" width="11.68" height="186.40" fill="url(#g49)"/><rect x="249.08" y="768.10" width="11.68" height="186.40" fill="url(#g50)"/><rect x="260.16" y="768.10" width="11.68" height="186.40" fill="url(#g51)"/><rect x="271.23" y="768.10" width="11.68" height="186.40" fill="url(#g52)"/><rect x="282.31" y="768.10" width="11.68" height="186.40" fill="url(#g53)"/><rect x="293.38" y="768.10" width="23.67" height="186.40" fill="url(#g54)"/><rect x="316.46" y="768.10" width="23.67" height="186.40" fill="url(#g55)"/><rect x="339.53" y="768.10" width="23.67" height="186.40" fill="url(#g56)"/><rect x="362.60" y="768.10" width="23.67" height="186.40" fill="url(#g57)"/><rect x="385.68" y="768.10" width="25.21" height="186.40" fill="url(#g58)"/><rect x="410.29" y="768.10" width="25.21" height="186.40" fill="url(#g59)"/><rect x="434.90" y="768.10" width="25.21" height="186.40" fill="url(#g60)"/><rect x="459.51" y="768.10" width="25.21" height="186.40" fill="url(#g61)"/><rect x="484.12" y="768.10" width="25.21" height="186.40" fill="url(#g62)"/><rect x="508.73" y="768.10" width="22.57" height="186.40" fill="url(#g63)"/><rect x="530.71" y="768.10" width="22.57" height="186.40" fill="url(#g64)"/><rect x="552.68" y="768.10" width="22.57" height="186.40" fill="url(#g65)"/><rect x="574.65" y="768.10" width="22.57" height="186.40" fill="url(#g66)"/><rect x="596.63" y="768.10" width="22.57" height="186.40" fill="url(#g67)"/><rect x="618.60" y="768.10" width="22.57" height="186.40" fill="url(#g68)"/><rect x="640.58" y="768.10" width="22.57" height="186.40" fill="url(#g69)"/><rect x="662.55" y="768.10" width="23.67" height="186.40" fill="url(#g70)"/><rect x="685.62" y="768.10" width="23.67" height="186.40" fill="url(#g71)"/><rect x="708.70" y="768.10" width="23.67" height="186.40" fill="url(#g72)"/><rect x="731.77" y="768.10" width="23.67" height="186.40" fill="url(#g73)"/><rect x="754.84" y="768.10" width="15.98" height="186.40" fill="url(#g74)"/><rect x="770.23" y="768.10" width="15.98" height="186.40" fill="url(#g75)"/><rect x="785.61" y="768.10" width="23.67" height="186.40" fill="url(#g76)"/><rect x="808.68" y="768.10" width="23.67" height="186.40" fill="url(#g77)"/><rect x="831.75" y="768.10" width="23.67" height="186.40" fill="url(#g78)"/><rect x="854.83" y="768.10" width="23.07" height="186.40" fill="url(#g79)"/></g><path d="M 108.8 954.5 
L 108.8 768.1 
" class="s1"/><use xlink:href="#k0" x="108.8" y="954.5" class="s2"/><text class="s13" x="108.8" y="977.868141">0</text><path d="M 262.6 954.5 
L 262.6 768.1 
" class="s1"/><use xlink:href="#k0" x="262.62" y="954.5" class="s2"/><text class="s13" x="262.62" y="977.868141">500</text><path d="M 416.4 954.5 
L 416.4 768.1 
" class="s1"/><use xlink:href="#k0" x="416.44" y="954.5" class="s2"/><text class="s13" x="416.44" y="977.868141">1000</text><path d="M 570.3 954.5 
L 570.3 768.1 
" class="s1"/><use xlink:href="#k0" x="570.26" y="954.5" class="s2"/><text class="s13" x="570.26" y="977.868141">1500</text><path d="M 724.1 954.5 
L 724.1 768.1 
" class="s1"/><use xlink:href="#k0" x="724.08" y="954.5" class="s2"/><text class="s13" x="724.08" y="977.868141">2000</text><path d="M 877.9 954.5 
L 877.9 768.1 
" class="s1"/><use xlink:href="#k0" x="877.9" y="954.5" class="s2"/><text class="s13" x="877.9" y="977.868141">2500</text><path d="M 139.6 954.5 
L 139.6 768.1 
" class="s1"/><use xlink:href="#k1" x="139.564" y="954.5" class="s0"/><path d="M 170.3 954.5 
L 170.3 768.1 
" class="s1"/><use xlink:href="#k1" x="170.328" y="954.5" class="s0"/><path d="M 201.1 954.5 
L 201.1 768.1 
" class="s1"/><use xlink:href="#k1" x="201.092" y="954.5" class="s0"/><path d="M 231.9 954.5 
L 231.9 768.1 
" class="s1"/><use xlink:href="#k1" x="231.856" y="954.5" class="s0"/><path d="M 293.4 954.5 
L 293.4 768.1 
" class="s1"/><use xlink:href="#k1" x="293.384" y="954.5" class="s0"/><path d="M 324.1 954.5 
L 324.1 768.1 
" class="s1"/><use xlink:href="#k1" x="324.148" y="954.5" class="s0"/><path d="M 354.9 954.5 
L 354.9 768.1 
" class="s1"/><use xlink:href="#k1" x="354.912" y="954.5" class="s0"/><path d="M 385.7 954.5 
L 385.7 768.1 
" class="s1"/><use xlink:href="#k1" x="385.676" y="954.5" class="s0"/><path d="M 447.2 954.5 
L 447.2 768.1 
" class="s1"/><use xlink:href="#k1" x="447.204" y="954.5" class="s0"/><path d="M 478 954.5 
L 478 768.1 
" class="s1"/><use xlink:href="#k1" x="477.968" y="954.5" class="s0"/><path d="M 508.7 954.5 
L 508.7 768.1 
" class="s1"/><use xlink:href="#k1" x="508.732" y="954.5" class="s0"/><path d="M 539.5 954.5 
L 539.5 768.1 
" class="s1"/><use xlink:href="#k1" x="539.496" y="954.5" class="s0"/><path d="M 601 954.5 
L 601 768.1 
" class="s1"/><use xlink:href="#k1" x="601.024" y="954.5" class="s0"/><path d="M 631.8 954.5 
L 631.8 768.1 
" class="s1"/><use xlink:href="#k1" x="631.788" y="954.5" class="s0"/><path d="M 662.6 954.5 
L 662.6 768.1 
" class="s1"/><use xlink:href="#k1" x="662.552" y="954.5" class="s0"/><path d="M 693.3 954.5 
L 693.3 768.1 
" class="s1"/><use xlink:href="#k1" x="693.316" y="954.5" class="s0"/><path d="M 754.8 954.5 
L 754.8 768.1 
" class="s1"/><use xlink:href="#k1" x="754.844" y="954.5" class="s0"/><path d="M 785.6 954.5 
L 785.6 768.1 
" class="s1"/><use xlink:href="#k1" x="785.608" y="954.5" class="s0"/><path d="M 816.4 954.5 
L 816.4 768.1 
" class="s1"/><use xlink:href="#k1" x="816.372" y="954.5" class="s0"/><path d="M 847.1 954.5 
L 847.1 768.1 
" class="s1"/><use xlink:href="#k1" x="847.136" y="954.5" class="s0"/><g transform="translate(454.55 1011.759734)"><text><tspan x="0" y="-0.171875" class="s26">x</tspan><tspan x="38.333727" y="-0.171875" class="s26">d</tspan><tspan x="25.264147" y="-0.171875" class="s27">[</tspan><tspan x="67.043224" y="-0.171875" class="s27">]</tspan><tspan x="59.598375" y="5.40625" class="s32">i</tspan></text></g><path d="M 108.8 954.5 
L 877.9 954.5 
" class="s1"/><use xlink:href="#k2" x="108.8" y="954.5" class="s2"/><g transform="translate(45.655 963.88407)"><text><tspan x="0" y="-0.676563" class="s4">1</tspan><tspan x="15.746704" y="-0.676563" class="s4">0</tspan><tspan x="31.732666" y="-10.246875" class="s5">−</tspan><tspan x="46.249121" y="-10.246875" class="s5">4</tspan></text></g><path d="M 108.8 921.8 
L 877.9 921.8 
" class="s1"/><use xlink:href="#k2" x="108.8" y="921.792335" class="s2"/><g transform="translate(45.655 931.176406)"><text><tspan x="0" y="-0.435938" class="s4">1</tspan><tspan x="15.746704" y="-0.435938" class="s4">0</tspan><tspan x="31.732666" y="-10.00625" class="s5">−</tspan><tspan x="46.249121" y="-10.00625" class="s5">3</tspan></text></g><path d="M 108.8 889.1 
L 877.9 889.1 
" class="s1"/><use xlink:href="#k2" x="108.8" y="889.084671" class="s2"/><g transform="translate(45.655 898.468741)"><text><tspan x="0" y="-0.435938" class="s4">1</tspan><tspan x="15.746704" y="-0.435938" class="s4">0</tspan><tspan x="31.732666" y="-10.00625" class="s5">−</tspan><tspan x="46.249121" y="-10.00625" class="s5">2</tspan></text></g><path d="M 108.8 856.4 
L 877.9 856.4 
" class="s1"/><use xlink:href="#k2" x="108.8" y="856.377006" class="s2"/><g transform="translate(45.655 865.761076)"><text><tspan x="0" y="-0.676563" class="s4">1</tspan><tspan x="15.746704" y="-0.676563" class="s4">0</tspan><tspan x="31.732666" y="-10.246875" class="s5">−</tspan><tspan x="46.249121" y="-10.246875" class="s5">1</tspan></text></g><path d="M 108.8 823.7 
L 877.9 823.7 
" class="s1"/><use xlink:href="#k2" x="108.8" y="823.669341" class="s2"/><g transform="translate(60.228 833.053412)"><text><tspan x="0" y="-0.435938" class="s4">1</tspan><tspan x="15.746704" y="-0.435938" class="s4">0</tspan><tspan x="31.732666" y="-10.00625" class="s5">0</tspan></text></g><path d="M 108.8 791 
L 877.9 791 
" class="s1"/><use xlink:href="#k2" x="108.8" y="790.961677" class="s2"/><g transform="translate(60.228 800.345747)"><text><tspan x="0" y="-0.676563" class="s4">1</tspan><tspan x="15.746704" y="-0.676563" class="s4">0</tspan><tspan x="31.732666" y="-10.246875" class="s5">1</tspan></text></g><path d="M 108.8 944.7 
L 877.9 944.7 
" class="s1"/><use xlink:href="#k4" x="108.8" y="944.654012" class="s0"/><path d="M 108.8 938.9 
L 877.9 938.9 
" class="s1"/><use xlink:href="#k4" x="108.8" y="938.894478" class="s0"/><path d="M 108.8 934.8 
L 877.9 934.8 
" class="s1"/><use xlink:href="#k4" x="108.8" y="934.808024" class="s0"/><path d="M 108.8 931.6 
L 877.9 931.6 
" class="s1"/><use xlink:href="#k4" x="108.8" y="931.638323" class="s0"/><path d="M 108.8 929 
L 877.9 929 
" class="s1"/><use xlink:href="#k4" x="108.8" y="929.04849" class="s0"/><path d="M 108.8 926.9 
L 877.9 926.9 
" class="s1"/><use xlink:href="#k4" x="108.8" y="926.858817" class="s0"/><path d="M 108.8 925 
L 877.9 925 
" class="s1"/><use xlink:href="#k4" x="108.8" y="924.962036" class="s0"/><path d="M 108.8 923.3 
L 877.9 923.3 
" class="s1"/><use xlink:href="#k4" x="108.8" y="923.288956" class="s0"/><path d="M 108.8 911.9 
L 877.9 911.9 
" class="s1"/><use xlink:href="#k4" x="108.8" y="911.946347" class="s0"/><path d="M 108.8 906.2 
L 877.9 906.2 
" class="s1"/><use xlink:href="#k4" x="108.8" y="906.186813" class="s0"/><path d="M 108.8 902.1 
L 877.9 902.1 
" class="s1"/><use xlink:href="#k4" x="108.8" y="902.100359" class="s0"/><path d="M 108.8 898.9 
L 877.9 898.9 
" class="s1"/><use xlink:href="#k4" x="108.8" y="898.930659" class="s0"/><path d="M 108.8 896.3 
L 877.9 896.3 
" class="s1"/><use xlink:href="#k4" x="108.8" y="896.340825" class="s0"/><path d="M 108.8 894.2 
L 877.9 894.2 
" class="s1"/><use xlink:href="#k4" x="108.8" y="894.151152" class="s0"/><path d="M 108.8 892.3 
L 877.9 892.3 
" class="s1"/><use xlink:href="#k4" x="108.8" y="892.254371" class="s0"/><path d="M 108.8 890.6 
L 877.9 890.6 
" class="s1"/><use xlink:href="#k4" x="108.8" y="890.581291" class="s0"/><path d="M 108.8 879.2 
L 877.9 879.2 
" class="s1"/><use xlink:href="#k4" x="108.8" y="879.238682" class="s0"/><path d="M 108.8 873.5 
L 877.9 873.5 
" class="s1"/><use xlink:href="#k4" x="108.8" y="873.479149" class="s0"/><path d="M 108.8 869.4 
L 877.9 869.4 
" class="s1"/><use xlink:href="#k4" x="108.8" y="869.392694" class="s0"/><path d="M 108.8 866.2 
L 877.9 866.2 
" class="s1"/><use xlink:href="#k4" x="108.8" y="866.222994" class="s0"/><path d="M 108.8 863.6 
L 877.9 863.6 
" class="s1"/><use xlink:href="#k4" x="108.8" y="863.63316" class="s0"/><path d="M 108.8 861.4 
L 877.9 861.4 
" class="s1"/><use xlink:href="#k4" x="108.8" y="861.443487" class="s0"/><path d="M 108.8 859.5 
L 877.9 859.5 
" class="s1"/><use xlink:href="#k4" x="108.8" y="859.546706" class="s0"/><path d="M 108.8 857.9 
L 877.9 857.9 
" class="s1"/><use xlink:href="#k4" x="108.8" y="857.873627" class="s0"/><path d="M 108.8 846.5 
L 877.9 846.5 
" class="s1"/><use xlink:href="#k4" x="108.8" y="846.531018" class="s0"/><path d="M 108.8 840.8 
L 877.9 840.8 
" class="s1"/><use xlink:href="#k4" x="108.8" y="840.771484" class="s0"/><path d="M 108.8 836.7 
L 877.9 836.7 
" class="s1"/><use xlink:href="#k4" x="108.8" y="836.68503" class="s0"/><path d="M 108.8 833.5 
L 877.9 833.5 
" class="s1"/><use xlink:href="#k4" x="108.8" y="833.515329" class="s0"/><path d="M 108.8 830.9 
L 877.9 830.9 
" class="s1"/><use xlink:href="#k4" x="108.8" y="830.925496" class="s0"/><path d="M 108.8 828.7 
L 877.9 828.7 
" class="s1"/><use xlink:href="#k4" x="108.8" y="828.735823" class="s0"/><path d="M 108.8 826.8 
L 877.9 826.8 
" class="s1"/><use xlink:href="#k4" x="108.8" y="826.839041" class="s0"/><path d="M 108.8 825.2 
L 877.9 825.2 
" class="s1"/><use xlink:href="#k4" x="108.8" y="825.165962" class="s0"/><path d="M 108.8 813.8 
L 877.9 813.8 
" class="s1"/><use xlink:href="#k4" x="108.8" y="813.823353" class="s0"/><path d="M 108.8 808.1 
L 877.9 808.1 
" class="s1"/><use xlink:href="#k4" x="108.8" y="808.063819" class="s0"/><path d="M 108.8 804 
L 877.9 804 
" class="s1"/><use xlink:href="#k4" x="108.8" y="803.977365" class="s0"/><path d="M 108.8 800.8 
L 877.9 800.8 
" class="s1"/><use xlink:href="#k4" x="108.8" y="800.807665" class="s0"/><path d="M 108.8 798.2 
L 877.9 798.2 
" class="s1"/><use xlink:href="#k4" x="108.8" y="798.217831" class="s0"/><path d="M 108.8 796 
L 877.9 796 
" class="s1"/><use xlink:href="#k4" x="108.8" y="796.028158" class="s0"/><path d="M 108.8 794.1 
L 877.9 794.1 
" class="s1"/><use xlink:href="#k4" x="108.8" y="794.131377" class="s0"/><path d="M 108.8 792.5 
L 877.9 792.5 
" class="s1"/><use xlink:href="#k4" x="108.8" y="792.458297" class="s0"/><path d="M 108.8 781.1 
L 877.9 781.1 
" class="s1"/><use xlink:href="#k4" x="108.8" y="781.115688" class="s0"/><path d="M 108.8 775.4 
L 877.9 775.4 
" class="s1"/><use xlink:href="#k4" x="108.8" y="775.356155" class="s0"/><path d="M 108.8 771.3 
L 877.9 771.3 
" class="s1"/><use xlink:href="#k4" x="108.8" y="771.2697" class="s0"/><path d="M 108.8 768.1 
L 877.9 768.1 
" class="s1"/><use xlink:href="#k4" x="108.8" y="768.1" class="s0"/><g transform="translate(28.48 932.9625) rotate(-90)"><text><tspan x="0" y="-0.921875" class="s7">p</tspan><tspan x="48.208252" y="-0.921875" class="s7">m</tspan><tspan x="87.09021" y="-0.921875" class="s7">v</tspan><tspan x="20.629883" y="4.492188" class="s8">e</tspan><tspan x="79.867188" y="4.492188" class="s8">i</tspan><tspan x="106.323608" y="4.492188" class="s8">p</tspan><tspan x="120.764526" y="4.492188" class="s8">t</tspan><tspan x="35.528809" y="-0.921875" class="s9">[</tspan><tspan x="130.586914" y="-0.921875" class="s9">]</tspan></text></g><path d="M 108.8 954.5 
L 108.8 768.1 
" class="s6"/><path d="M 877.9 954.5 
L 877.9 768.1 
" class="s6"/><path d="M 108.8 954.5 
L 877.9 954.5 
" class="s6"/><path d="M 108.8 768.1 
L 877.9 768.1 
" class="s6"/><path d="M 228.8 954.5 
L 228.8 768.1 
" clip-path="url(#k9)" class="s24"/><path d="M 290.3 954.5 
L 290.3 768.1 
" clip-path="url(#k9)" class="s24"/><path d="M 468.7 954.5 
L 468.7 768.1 
" clip-path="url(#k9)" class="s25"/><path d="M 530.3 954.5 
L 530.3 768.1 
" clip-path="url(#k9)" class="s25"/><path d="M 808.5 812 
L 872.6 812 
L 872.6 775.8 
L 808.5 775.8 
z
" clip-path="url(#k9)" class="s14"/><text class="s15" x="840.55" y="802.071062">(c2)</text><path d="M 1224 199.7 
L 1992.8 199.7 
L 1992.8 13.3 
L 1224 13.3 
z
" class="s11"/><g id="HEAT_e1"><defs><linearGradient id="g80" gradientUnits="userSpaceOnUse" x1="0" y1="13.30" x2="0" y2="199.70"><stop offset="-0" stop-color="#5e4fa2"/><stop offset=".114" stop-color="#5e4fa2"/><stop offset=".126" stop-color="#b04070"/><stop offset=".14" stop-color="#d43d4f"/><stop offset=".254" stop-color="#e45549"/><stop offset=".298" stop-color="#f46d43"/><stop offset=".351" stop-color="#f99355"/><stop offset=".403" stop-color="#fdc372"/><stop offset=".447" stop-color="#feec9f"/><stop offset=".474" stop-color="#c8c09a"/><stop offset=".526" stop-color="#8b83a8"/><stop offset=".579" stop-color="#5e4fa2"/><stop offset="1" stop-color="#5e4fa2"/></linearGradient><linearGradient id="g81" gradientUnits="userSpaceOnUse" x1="0" y1="13.30" x2="0" y2="199.70"><stop offset="-0" stop-color="#5e4fa2"/><stop offset=".114" stop-color="#5e4fa2"/><stop offset=".119" stop-color="#704c97"/><stop offset=".126" stop-color="#a94271"/><stop offset=".131" stop-color="#c93e59"/><stop offset=".14" stop-color="#d53e4f"/><stop offset=".254" stop-color="#e35449"/><stop offset=".298" stop-color="#f06745"/><stop offset=".333" stop-color="#f67a49"/><stop offset=".403" stop-color="#fdb869"/><stop offset=".447" stop-color="#fee195"/><stop offset=".474" stop-color="#e3d8a0"/><stop offset=".544" stop-color="#6d60a4"/><stop offset=".579" stop-color="#5e4fa2"/><stop offset="1" stop-color="#5e4fa2"/></linearGradient><linearGradient id="g82" gradientUnits="userSpaceOnUse" x1="0" y1="13.30" x2="0" y2="199.70"><stop offset="-0" stop-color="#5e4fa2"/><stop offset=".119" stop-color="#5e4fa2"/><stop offset=".131" stop-color="#d43d4f"/><stop offset=".263" stop-color="#e2524a"/><stop offset=".324" stop-color="#f36c43"/><stop offset=".342" stop-color="#aa6274"/><stop offset=".403" stop-color="#ad7e81"/><stop offset=".474" stop-color="#ae9fa4"/><stop offset=".544" stop-color="#5e4fa2"/><stop offset="1" stop-color="#5e4fa2"/></linearGradient><linearGradient id="g83" gradientUnits="userSpaceOnUse" x1="0" y1="13.30" x2="0" y2="199.70"><stop offset="-0" stop-color="#5e4fa2"/><stop offset=".119" stop-color="#5e4fa2"/><stop offset=".131" stop-color="#d43d4f"/><stop offset=".175" stop-color="#de4b4c"/><stop offset=".263" stop-color="#ef7e55"/><stop offset=".329" stop-color="#f67c4a"/><stop offset=".346" stop-color="#5e4fa2"/><stop offset="1" stop-color="#5e4fa2"/></linearGradient><linearGradient id="g84" gradientUnits="userSpaceOnUse" x1="0" y1="13.30" x2="0" y2="199.70"><stop offset="-0" stop-color="#5e4fa2"/><stop offset=".116" stop-color="#5e4fa2"/><stop offset=".119" stop-color="#724c94"/><stop offset=".126" stop-color="#bb4161"/><stop offset=".131" stop-color="#d43d4f"/><stop offset=".175" stop-color="#de4b4c"/><stop offset=".254" stop-color="#f99758"/><stop offset=".263" stop-color="#fba661"/><stop offset=".298" stop-color="#fdc67f"/><stop offset=".333" stop-color="#fa9e5d"/><stop offset=".342" stop-color="#d3876a"/><stop offset=".351" stop-color="#ad797f"/><stop offset=".403" stop-color="#ae8385"/><stop offset=".474" stop-color="#ae9fa4"/><stop offset=".649" stop-color="#ae9fa4"/><stop offset=".737" stop-color="#5e4fa2"/><stop offset="1" stop-color="#5e4fa2"/></linearGradient><linearGradient id="g85" gradientUnits="userSpaceOnUse" x1="0" y1="13.30" x2="0" y2="199.70"><stop offset="-0" stop-color="#5e4fa2"/><stop offset=".116" stop-color="#5e4fa2"/><stop offset=".126" stop-color="#d43d4f"/><stop offset=".175" stop-color="#da464d"/><stop offset=".25" stop-color="#f67c4a"/><stop offset=".298" stop-color="#bfb8a3"/><stop offset=".346" stop-color="#ad777e"/><stop offset=".395" stop-color="#fdb264"/><stop offset=".517" stop-color="#fff4ad"/><stop offset=".702" stop-color="#e3dbab"/><stop offset=".772" stop-color="#5e4fa2"/><stop offset="1" stop-color="#5e4fa2"/></linearGradient><linearGradient id="g86" gradientUnits="userSpaceOnUse" x1="0" y1="13.30" x2="0" y2="199.70"><stop offset="-0" stop-color="#5e4fa2"/><stop offset=".116" stop-color="#5e4fa2"/><stop offset=".123" stop-color="#c0405d"/><stop offset=".126" stop-color="#d43d4f"/><stop offset=".21" stop-color="#e45549"/><stop offset=".245" stop-color="#df694e"/><stop offset=".263" stop-color="#c77261"/><stop offset=".281" stop-color="#826492"/><stop offset=".298" stop-color="#6f68a1"/><stop offset=".351" stop-color="#5e4fa2"/><stop offset=".386" stop-color="#e3a672"/><stop offset=".403" stop-color="#fdbd6f"/><stop offset=".474" stop-color="#cfb69d"/><stop offset=".561" stop-color="#bfb6ae"/><stop offset=".649" stop-color="#a298aa"/><stop offset=".754" stop-color="#938aa9"/><stop offset=".807" stop-color="#5e4fa2"/><stop offset="1" stop-color="#5e4fa2"/></linearGradient><linearGradient id="g87" gradientUnits="userSpaceOnUse" x1="0" y1="13.30" x2="0" y2="199.70"><stop offset="-0" stop-color="#5e4fa2"/><stop offset=".116" stop-color="#5e4fa2"/><stop offset=".123" stop-color="#d43d4f"/><stop offset=".21" stop-color="#de4b4c"/><stop offset=".263" stop-color="#d16155"/><stop offset=".281" stop-color="#a15276"/><stop offset=".298" stop-color="#5e4fa2"/><stop offset=".347" stop-color="#5e4fa2"/><stop offset=".36" stop-color="#bb887e"/><stop offset=".403" stop-color="#fec877"/><stop offset=".474" stop-color="#cfc9b2"/><stop offset=".649" stop-color="#aea4ab"/><stop offset=".702" stop-color="#aea4ab"/><stop offset=".754" stop-color="#7c72a9"/><stop offset=".825" stop-color="#5e4fa2"/><stop offset="1" stop-color="#5e4fa2"/></linearGradient><linearGradient id="g88" gradientUnits="userSpaceOnUse" x1="0" y1="13.30" x2="0" y2="199.70"><stop offset="-0" stop-color="#5e4fa2"/><stop offset=".116" stop-color="#5e4fa2"/><stop offset=".123" stop-color="#a24473"/><stop offset=".142" stop-color="#c33f5f"/><stop offset=".221" stop-color="#d33d4c"/><stop offset=".281" stop-color="#d9464b"/><stop offset=".298" stop-color="#974378"/><stop offset=".325" stop-color="#903c76"/><stop offset=".33" stop-color="#5e4fa2"/><stop offset=".347" stop-color="#5e4fa2"/><stop offset=".36" stop-color="#ad7e81"/><stop offset=".398" stop-color="#ae8b8c"/><stop offset=".405" stop-color="#dfb67d"/><stop offset=".414" stop-color="#fed481"/><stop offset=".474" stop-color="#fff6af"/><stop offset=".509" stop-color="#fffbb9"/><stop offset=".702" stop-color="#fff9b5"/><stop offset=".737" stop-color="#ddd7b3"/><stop offset=".754" stop-color="#c3beb1"/><stop offset=".825" stop-color="#8178a8"/><stop offset=".921" stop-color="#5e4fa2"/><stop offset="1" stop-color="#5e4fa2"/></linearGradient><linearGradient id="g89" gradientUnits="userSpaceOnUse" x1="0" y1="13.30" x2="0" y2="199.70"><stop offset="-0" stop-color="#5e4fa2"/><stop offset=".117" stop-color="#5e4fa2"/><stop offset=".141" stop-color="#b04070"/><stop offset=".216" stop-color="#c9314c"/><stop offset=".295" stop-color="#d0384e"/><stop offset=".315" stop-color="#c32a4b"/><stop offset=".32" stop-color="#5e4fa2"/><stop offset=".401" stop-color="#5e4fa2"/><stop offset=".408" stop-color="#c0a080"/><stop offset=".417" stop-color="#fed683"/><stop offset=".465" stop-color="#fff0a6"/><stop offset=".509" stop-color="#fffebe"/><stop offset=".737" stop-color="#fff8b4"/><stop offset=".851" stop-color="#8a84ae"/><stop offset=".921" stop-color="#5e4fa2"/><stop offset="1" stop-color="#5e4fa2"/></linearGradient><linearGradient id="g90" gradientUnits="userSpaceOnUse" x1="0" y1="13.30" x2="0" y2="199.70"><stop offset="-0" stop-color="#5e4fa2"/><stop offset=".117" stop-color="#5e4fa2"/><stop offset=".139" stop-color="#b04070"/><stop offset=".206" stop-color="#c9314c"/><stop offset=".277" stop-color="#d0384e"/><stop offset=".294" stop-color="#c32a4b"/><stop offset=".3" stop-color="#5e4fa2"/><stop offset=".406" stop-color="#5e4fa2"/><stop offset=".413" stop-color="#c0a080"/><stop offset=".422" stop-color="#fed683"/><stop offset=".465" stop-color="#fff0a6"/><stop offset=".509" stop-color="#fffebe"/><stop offset=".737" stop-color="#fff8b4"/><stop offset=".851" stop-color="#8a84ae"/><stop offset=".921" stop-color="#5e4fa2"/><stop offset="1" stop-color="#5e4fa2"/></linearGradient><linearGradient id="g91" gradientUnits="userSpaceOnUse" x1="0" y1="13.30" x2="0" y2="199.70"><stop offset="-0" stop-color="#5e4fa2"/><stop offset=".117" stop-color="#5e4fa2"/><stop offset=".137" stop-color="#b04070"/><stop offset=".2" stop-color="#c9314c"/><stop offset=".266" stop-color="#d0384e"/><stop offset=".283" stop-color="#c32a4b"/><stop offset=".288" stop-color="#5e4fa2"/><stop offset=".411" stop-color="#5e4fa2"/><stop offset=".418" stop-color="#c0a080"/><stop offset=".427" stop-color="#fed683"/><stop offset=".465" stop-color="#fff0a6"/><stop offset=".509" stop-color="#fffebe"/><stop offset=".737" stop-color="#fff8b4"/><stop offset=".851" stop-color="#8a84ae"/><stop offset=".921" stop-color="#5e4fa2"/><stop offset="1" stop-color="#5e4fa2"/></linearGradient><linearGradient id="g92" gradientUnits="userSpaceOnUse" x1="0" y1="13.30" x2="0" y2="199.70"><stop offset="-0" stop-color="#5e4fa2"/><stop offset=".117" stop-color="#5e4fa2"/><stop offset=".137" stop-color="#b04070"/><stop offset=".198" stop-color="#c9314c"/><stop offset=".263" stop-color="#d0384e"/><stop offset=".28" stop-color="#c32a4b"/><stop offset=".285" stop-color="#5e4fa2"/><stop offset=".417" stop-color="#5e4fa2"/><stop offset=".424" stop-color="#c0a080"/><stop offset=".433" stop-color="#fed683"/><stop offset=".465" stop-color="#fff0a6"/><stop offset=".509" stop-color="#fffebe"/><stop offset=".737" stop-color="#fff8b4"/><stop offset=".851" stop-color="#8a84ae"/><stop offset=".921" stop-color="#5e4fa2"/><stop offset="1" stop-color="#5e4fa2"/></linearGradient><linearGradient id="g93" gradientUnits="userSpaceOnUse" x1="0" y1="13.30" x2="0" y2="199.70"><stop offset="-0" stop-color="#5e4fa2"/><stop offset=".117" stop-color="#5e4fa2"/><stop offset=".137" stop-color="#b04070"/><stop offset=".197" stop-color="#c9314c"/><stop offset=".261" stop-color="#d0384e"/><stop offset=".277" stop-color="#c32a4b"/><stop offset=".282" stop-color="#5e4fa2"/><stop offset=".423" stop-color="#5e4fa2"/><stop offset=".43" stop-color="#c0a080"/><stop offset=".439" stop-color="#fed683"/><stop offset=".465" stop-color="#fff0a6"/><stop offset=".509" stop-color="#fffebe"/><stop offset=".737" stop-color="#fff8b4"/><stop offset=".851" stop-color="#8a84ae"/><stop offset=".921" stop-color="#5e4fa2"/><stop offset="1" stop-color="#5e4fa2"/></linearGradient><linearGradient id="g94" gradientUnits="userSpaceOnUse" x1="0" y1="13.30" x2="0" y2="199.70"><stop offset="-0" stop-color="#5e4fa2"/><stop offset=".117" stop-color="#5e4fa2"/><stop offset=".136" stop-color="#b04070"/><stop offset=".195" stop-color="#c9314c"/><stop offset=".256" stop-color="#d0384e"/><stop offset=".272" stop-color="#c32a4b"/><stop offset=".277" stop-color="#5e4fa2"/><stop offset=".426" stop-color="#5e4fa2"/><stop offset=".433" stop-color="#c0a080"/><stop offset=".442" stop-color="#fed683"/><stop offset=".465" stop-color="#fff0a6"/><stop offset=".509" stop-color="#fffebe"/><stop offset=".737" stop-color="#fff8b4"/><stop offset=".851" stop-color="#8a84ae"/><stop offset=".921" stop-color="#5e4fa2"/><stop offset="1" stop-color="#5e4fa2"/></linearGradient><linearGradient id="g95" gradientUnits="userSpaceOnUse" x1="0" y1="13.30" x2="0" y2="199.70"><stop offset="-0" stop-color="#5e4fa2"/><stop offset=".117" stop-color="#5e4fa2"/><stop offset=".135" stop-color="#b04070"/><stop offset=".191" stop-color="#c9314c"/><stop offset=".25" stop-color="#d0384e"/><stop offset=".265" stop-color="#c32a4b"/><stop offset=".27" stop-color="#5e4fa2"/><stop offset=".427" stop-color="#5e4fa2"/><stop offset=".434" stop-color="#c0a080"/><stop offset=".442" stop-color="#fed683"/><stop offset=".465" stop-color="#fff0a6"/><stop offset=".509" stop-color="#fffebe"/><stop offset=".737" stop-color="#fff8b4"/><stop offset=".851" stop-color="#8a84ae"/><stop offset=".921" stop-color="#5e4fa2"/><stop offset="1" stop-color="#5e4fa2"/></linearGradient><linearGradient id="g96" gradientUnits="userSpaceOnUse" x1="0" y1="13.30" x2="0" y2="199.70"><stop offset="-0" stop-color="#5e4fa2"/><stop offset=".117" stop-color="#5e4fa2"/><stop offset=".134" stop-color="#b04070"/><stop offset=".188" stop-color="#c9314c"/><stop offset=".244" stop-color="#d0384e"/><stop offset=".259" stop-color="#c32a4b"/><stop offset=".264" stop-color="#5e4fa2"/><stop offset=".427" stop-color="#5e4fa2"/><stop offset=".434" stop-color="#c0a080"/><stop offset=".443" stop-color="#fed683"/><stop offset=".465" stop-color="#fff0a6"/><stop offset=".509" stop-color="#fffebe"/><stop offset=".737" stop-color="#fff8b4"/><stop offset=".851" stop-color="#8a84ae"/><stop offset=".921" stop-color="#5e4fa2"/><stop offset="1" stop-color="#5e4fa2"/></linearGradient><linearGradient id="g97" gradientUnits="userSpaceOnUse" x1="0" y1="13.30" x2="0" y2="199.70"><stop offset="-0" stop-color="#5e4fa2"/><stop offset=".117" stop-color="#5e4fa2"/><stop offset=".134" stop-color="#b04070"/><stop offset=".185" stop-color="#c9314c"/><stop offset=".24" stop-color="#d0384e"/><stop offset=".253" stop-color="#c32a4b"/><stop offset=".259" stop-color="#5e4fa2"/><stop offset=".427" stop-color="#5e4fa2"/><stop offset=".434" stop-color="#c0a080"/><stop offset=".443" stop-color="#fed683"/><stop offset=".465" stop-color="#fff0a6"/><stop offset=".509" stop-color="#fffebe"/><stop offset=".737" stop-color="#fff8b4"/><stop offset=".851" stop-color="#8a84ae"/><stop offset=".921" stop-color="#5e4fa2"/><stop offset="1" stop-color="#5e4fa2"/></linearGradient><linearGradient id="g98" gradientUnits="userSpaceOnUse" x1="0" y1="13.30" x2="0" y2="199.70"><stop offset="-0" stop-color="#5e4fa2"/><stop offset=".117" stop-color="#5e4fa2"/><stop offset=".133" stop-color="#b04070"/><stop offset=".183" stop-color="#c9314c"/><stop offset=".235" stop-color="#d0384e"/><stop offset=".248" stop-color="#c32a4b"/><stop offset=".253" stop-color="#5e4fa2"/><stop offset=".427" stop-color="#5e4fa2"/><stop offset=".434" stop-color="#c0a080"/><stop offset=".443" stop-color="#fed683"/><stop offset=".465" stop-color="#fff0a6"/><stop offset=".509" stop-color="#fffebe"/><stop offset=".737" stop-color="#fff8b4"/><stop offset=".851" stop-color="#8a84ae"/><stop offset=".921" stop-color="#5e4fa2"/><stop offset="1" stop-color="#5e4fa2"/></linearGradient><linearGradient id="g99" gradientUnits="userSpaceOnUse" x1="0" y1="13.30" x2="0" y2="199.70"><stop offset="-0" stop-color="#5e4fa2"/><stop offset=".117" stop-color="#5e4fa2"/><stop offset=".132" stop-color="#b04070"/><stop offset=".18" stop-color="#c9314c"/><stop offset=".231" stop-color="#d0384e"/><stop offset=".243" stop-color="#c32a4b"/><stop offset=".248" stop-color="#5e4fa2"/><stop offset=".427" stop-color="#5e4fa2"/><stop offset=".434" stop-color="#c0a080"/><stop offset=".443" stop-color="#fed683"/><stop offset=".465" stop-color="#fff0a6"/><stop offset=".509" stop-color="#fffebe"/><stop offset=".737" stop-color="#fff8b4"/><stop offset=".851" stop-color="#8a84ae"/><stop offset=".921" stop-color="#5e4fa2"/><stop offset="1" stop-color="#5e4fa2"/></linearGradient><linearGradient id="g100" gradientUnits="userSpaceOnUse" x1="0" y1="13.30" x2="0" y2="199.70"><stop offset="-0" stop-color="#5e4fa2"/><stop offset=".117" stop-color="#5e4fa2"/><stop offset=".132" stop-color="#b04070"/><stop offset=".178" stop-color="#c9314c"/><stop offset=".226" stop-color="#d0384e"/><stop offset=".238" stop-color="#c32a4b"/><stop offset=".244" stop-color="#5e4fa2"/><stop offset=".427" stop-color="#5e4fa2"/><stop offset=".434" stop-color="#c0a080"/><stop offset=".443" stop-color="#fed683"/><stop offset=".465" stop-color="#fff0a6"/><stop offset=".509" stop-color="#fffebe"/><stop offset=".737" stop-color="#fff8b4"/><stop offset=".851" stop-color="#8a84ae"/><stop offset=".921" stop-color="#5e4fa2"/><stop offset="1" stop-color="#5e4fa2"/></linearGradient><linearGradient id="g101" gradientUnits="userSpaceOnUse" x1="0" y1="13.30" x2="0" y2="199.70"><stop offset="-0" stop-color="#5e4fa2"/><stop offset=".117" stop-color="#5e4fa2"/><stop offset=".131" stop-color="#b04070"/><stop offset=".175" stop-color="#c9314c"/><stop offset=".222" stop-color="#d0384e"/><stop offset=".233" stop-color="#c32a4b"/><stop offset=".239" stop-color="#5e4fa2"/><stop offset=".428" stop-color="#5e4fa2"/><stop offset=".435" stop-color="#c0a080"/><stop offset=".443" stop-color="#fed683"/><stop offset=".465" stop-color="#fff0a6"/><stop offset=".509" stop-color="#fffebe"/><stop offset=".737" stop-color="#fff8b4"/><stop offset=".851" stop-color="#8a84ae"/><stop offset=".921" stop-color="#5e4fa2"/><stop offset="1" stop-color="#5e4fa2"/></linearGradient><linearGradient id="g102" gradientUnits="userSpaceOnUse" x1="0" y1="13.30" x2="0" y2="199.70"><stop offset="-0" stop-color="#5e4fa2"/><stop offset=".117" stop-color="#5e4fa2"/><stop offset=".131" stop-color="#b04070"/><stop offset=".173" stop-color="#c9314c"/><stop offset=".217" stop-color="#d0384e"/><stop offset=".229" stop-color="#c32a4b"/><stop offset=".234" stop-color="#5e4fa2"/><stop offset=".428" stop-color="#5e4fa2"/><stop offset=".435" stop-color="#c0a080"/><stop offset=".444" stop-color="#fed683"/><stop offset=".465" stop-color="#fff0a6"/><stop offset=".509" stop-color="#fffebe"/><stop offset=".737" stop-color="#fff8b4"/><stop offset=".851" stop-color="#8a84ae"/><stop offset=".921" stop-color="#5e4fa2"/><stop offset="1" stop-color="#5e4fa2"/></linearGradient><linearGradient id="g103" gradientUnits="userSpaceOnUse" x1="0" y1="13.30" x2="0" y2="199.70"><stop offset="-0" stop-color="#5e4fa2"/><stop offset=".118" stop-color="#5e4fa2"/><stop offset=".131" stop-color="#b04070"/><stop offset=".171" stop-color="#c9314c"/><stop offset=".214" stop-color="#d0384e"/><stop offset=".224" stop-color="#c32a4b"/><stop offset=".23" stop-color="#5e4fa2"/><stop offset=".428" stop-color="#5e4fa2"/><stop offset=".435" stop-color="#c0a080"/><stop offset=".444" stop-color="#fed683"/><stop offset=".465" stop-color="#fff0a6"/><stop offset=".509" stop-color="#fffebe"/><stop offset=".737" stop-color="#fff8b4"/><stop offset=".851" stop-color="#8a84ae"/><stop offset=".921" stop-color="#5e4fa2"/><stop offset="1" stop-color="#5e4fa2"/></linearGradient><linearGradient id="g104" gradientUnits="userSpaceOnUse" x1="0" y1="13.30" x2="0" y2="199.70"><stop offset="-0" stop-color="#5e4fa2"/><stop offset=".12" stop-color="#5e4fa2"/><stop offset=".132" stop-color="#b04070"/><stop offset=".17" stop-color="#c9314c"/><stop offset=".21" stop-color="#d0384e"/><stop offset=".22" stop-color="#c32a4b"/><stop offset=".226" stop-color="#5e4fa2"/><stop offset=".428" stop-color="#5e4fa2"/><stop offset=".435" stop-color="#c0a080"/><stop offset=".444" stop-color="#fed683"/><stop offset=".465" stop-color="#fff0a6"/><stop offset=".509" stop-color="#fffebe"/><stop offset=".737" stop-color="#fff8b4"/><stop offset=".851" stop-color="#8a84ae"/><stop offset=".921" stop-color="#5e4fa2"/><stop offset="1" stop-color="#5e4fa2"/></linearGradient><linearGradient id="g105" gradientUnits="userSpaceOnUse" x1="0" y1="13.30" x2="0" y2="199.70"><stop offset="-0" stop-color="#5e4fa2"/><stop offset=".122" stop-color="#5e4fa2"/><stop offset=".133" stop-color="#b04070"/><stop offset=".169" stop-color="#c9314c"/><stop offset=".207" stop-color="#d0384e"/><stop offset=".217" stop-color="#c32a4b"/><stop offset=".222" stop-color="#5e4fa2"/><stop offset=".428" stop-color="#5e4fa2"/><stop offset=".436" stop-color="#c0a080"/><stop offset=".444" stop-color="#fed683"/><stop offset=".465" stop-color="#fff0a6"/><stop offset=".509" stop-color="#fffebe"/><stop offset=".737" stop-color="#fff8b4"/><stop offset=".851" stop-color="#8a84ae"/><stop offset=".921" stop-color="#5e4fa2"/><stop offset="1" stop-color="#5e4fa2"/></linearGradient><linearGradient id="g106" gradientUnits="userSpaceOnUse" x1="0" y1="13.30" x2="0" y2="199.70"><stop offset="-0" stop-color="#5e4fa2"/><stop offset=".124" stop-color="#5e4fa2"/><stop offset=".134" stop-color="#b04070"/><stop offset=".168" stop-color="#c9314c"/><stop offset=".204" stop-color="#d0384e"/><stop offset=".213" stop-color="#c32a4b"/><stop offset=".218" stop-color="#5e4fa2"/><stop offset=".429" stop-color="#5e4fa2"/><stop offset=".436" stop-color="#c0a080"/><stop offset=".444" stop-color="#fed683"/><stop offset=".465" stop-color="#fff0a6"/><stop offset=".509" stop-color="#fffebe"/><stop offset=".737" stop-color="#fff8b4"/><stop offset=".851" stop-color="#8a84ae"/><stop offset=".921" stop-color="#5e4fa2"/><stop offset="1" stop-color="#5e4fa2"/></linearGradient><linearGradient id="g107" gradientUnits="userSpaceOnUse" x1="0" y1="13.30" x2="0" y2="199.70"><stop offset="-0" stop-color="#5e4fa2"/><stop offset=".125" stop-color="#5e4fa2"/><stop offset=".135" stop-color="#b04070"/><stop offset=".167" stop-color="#c9314c"/><stop offset=".2" stop-color="#d0384e"/><stop offset=".209" stop-color="#c32a4b"/><stop offset=".214" stop-color="#5e4fa2"/><stop offset=".429" stop-color="#5e4fa2"/><stop offset=".436" stop-color="#c0a080"/><stop offset=".445" stop-color="#fed683"/><stop offset=".465" stop-color="#fff0a6"/><stop offset=".509" stop-color="#fffebe"/><stop offset=".737" stop-color="#fff8b4"/><stop offset=".851" stop-color="#8a84ae"/><stop offset=".921" stop-color="#5e4fa2"/><stop offset="1" stop-color="#5e4fa2"/></linearGradient><linearGradient id="g108" gradientUnits="userSpaceOnUse" x1="0" y1="13.30" x2="0" y2="199.70"><stop offset="-0" stop-color="#5e4fa2"/><stop offset=".128" stop-color="#5e4fa2"/><stop offset=".137" stop-color="#b04070"/><stop offset=".167" stop-color="#c9314c"/><stop offset=".197" stop-color="#d0384e"/><stop offset=".205" stop-color="#c32a4b"/><stop offset=".21" stop-color="#5e4fa2"/><stop offset=".429" stop-color="#5e4fa2"/><stop offset=".436" stop-color="#c0a080"/><stop offset=".445" stop-color="#fed683"/><stop offset=".465" stop-color="#fff0a6"/><stop offset=".509" stop-color="#fffebe"/><stop offset=".737" stop-color="#fff8b4"/><stop offset=".851" stop-color="#8a84ae"/><stop offset=".921" stop-color="#5e4fa2"/><stop offset="1" stop-color="#5e4fa2"/></linearGradient><linearGradient id="g109" gradientUnits="userSpaceOnUse" x1="0" y1="13.30" x2="0" y2="199.70"><stop offset="-0" stop-color="#5e4fa2"/><stop offset=".131" stop-color="#5e4fa2"/><stop offset=".14" stop-color="#b04070"/><stop offset=".167" stop-color="#c9314c"/><stop offset=".195" stop-color="#d0384e"/><stop offset=".202" stop-color="#c32a4b"/><stop offset=".207" stop-color="#5e4fa2"/><stop offset=".429" stop-color="#5e4fa2"/><stop offset=".436" stop-color="#c0a080"/><stop offset=".445" stop-color="#fed683"/><stop offset=".465" stop-color="#fff0a6"/><stop offset=".509" stop-color="#fffebe"/><stop offset=".737" stop-color="#fff8b4"/><stop offset=".851" stop-color="#8a84ae"/><stop offset=".921" stop-color="#5e4fa2"/><stop offset="1" stop-color="#5e4fa2"/></linearGradient><linearGradient id="g110" gradientUnits="userSpaceOnUse" x1="0" y1="13.30" x2="0" y2="199.70"><stop offset="-0" stop-color="#5e4fa2"/><stop offset=".135" stop-color="#5e4fa2"/><stop offset=".142" stop-color="#b04070"/><stop offset=".167" stop-color="#c9314c"/><stop offset=".192" stop-color="#d0384e"/><stop offset=".198" stop-color="#c32a4b"/><stop offset=".203" stop-color="#5e4fa2"/><stop offset=".43" stop-color="#5e4fa2"/><stop offset=".437" stop-color="#c0a080"/><stop offset=".445" stop-color="#fed683"/><stop offset=".465" stop-color="#fff0a6"/><stop offset=".509" stop-color="#fffebe"/><stop offset=".737" stop-color="#fff8b4"/><stop offset=".851" stop-color="#8a84ae"/><stop offset=".921" stop-color="#5e4fa2"/><stop offset="1" stop-color="#5e4fa2"/></linearGradient><linearGradient id="g111" gradientUnits="userSpaceOnUse" x1="0" y1="13.30" x2="0" y2="199.70"><stop offset="-0" stop-color="#5e4fa2"/><stop offset=".138" stop-color="#5e4fa2"/><stop offset=".145" stop-color="#b04070"/><stop offset=".167" stop-color="#c9314c"/><stop offset=".189" stop-color="#d0384e"/><stop offset=".195" stop-color="#c32a4b"/><stop offset=".2" stop-color="#5e4fa2"/><stop offset=".43" stop-color="#5e4fa2"/><stop offset=".437" stop-color="#c0a080"/><stop offset=".446" stop-color="#fed683"/><stop offset=".465" stop-color="#fff0a6"/><stop offset=".509" stop-color="#fffebe"/><stop offset=".737" stop-color="#fff8b4"/><stop offset=".851" stop-color="#8a84ae"/><stop offset=".921" stop-color="#5e4fa2"/><stop offset="1" stop-color="#5e4fa2"/></linearGradient><linearGradient id="g112" gradientUnits="userSpaceOnUse" x1="0" y1="13.30" x2="0" y2="199.70"><stop offset="-0" stop-color="#5e4fa2"/><stop offset=".142" stop-color="#5e4fa2"/><stop offset=".148" stop-color="#b04070"/><stop offset=".167" stop-color="#c9314c"/><stop offset=".186" stop-color="#d0384e"/><stop offset=".191" stop-color="#c32a4b"/><stop offset=".196" stop-color="#5e4fa2"/><stop offset=".43" stop-color="#5e4fa2"/><stop offset=".437" stop-color="#c0a080"/><stop offset=".446" stop-color="#fed683"/><stop offset=".465" stop-color="#fff0a6"/><stop offset=".509" stop-color="#fffebe"/><stop offset=".737" stop-color="#fff8b4"/><stop offset=".851" stop-color="#8a84ae"/><stop offset=".921" stop-color="#5e4fa2"/><stop offset="1" stop-color="#5e4fa2"/></linearGradient><linearGradient id="g113" gradientUnits="userSpaceOnUse" x1="0" y1="13.30" x2="0" y2="199.70"><stop offset="-0" stop-color="#5e4fa2"/><stop offset=".147" stop-color="#5e4fa2"/><stop offset=".151" stop-color="#b04070"/><stop offset=".167" stop-color="#c9314c"/><stop offset=".182" stop-color="#d0384e"/><stop offset=".186" stop-color="#c32a4b"/><stop offset=".192" stop-color="#5e4fa2"/><stop offset=".43" stop-color="#5e4fa2"/><stop offset=".437" stop-color="#c0a080"/><stop offset=".446" stop-color="#fed683"/><stop offset=".465" stop-color="#fff0a6"/><stop offset=".509" stop-color="#fffebe"/><stop offset=".737" stop-color="#fff8b4"/><stop offset=".851" stop-color="#8a84ae"/><stop offset=".921" stop-color="#5e4fa2"/><stop offset="1" stop-color="#5e4fa2"/></linearGradient><linearGradient id="g114" gradientUnits="userSpaceOnUse" x1="0" y1="13.30" x2="0" y2="199.70"><stop offset="-0" stop-color="#5e4fa2"/><stop offset=".151" stop-color="#5e4fa2"/><stop offset=".155" stop-color="#b04070"/><stop offset=".167" stop-color="#c9314c"/><stop offset=".179" stop-color="#d0384e"/><stop offset=".182" stop-color="#c32a4b"/><stop offset=".187" stop-color="#5e4fa2"/><stop offset=".43" stop-color="#5e4fa2"/><stop offset=".437" stop-color="#c0a080"/><stop offset=".446" stop-color="#fed683"/><stop offset=".465" stop-color="#fff0a6"/><stop offset=".509" stop-color="#fffebe"/><stop offset=".737" stop-color="#fff8b4"/><stop offset=".851" stop-color="#8a84ae"/><stop offset=".921" stop-color="#5e4fa2"/><stop offset="1" stop-color="#5e4fa2"/></linearGradient><linearGradient id="g115" gradientUnits="userSpaceOnUse" x1="0" y1="13.30" x2="0" y2="199.70"><stop offset="-0" stop-color="#5e4fa2"/><stop offset=".155" stop-color="#5e4fa2"/><stop offset=".158" stop-color="#b04070"/><stop offset=".167" stop-color="#c9314c"/><stop offset=".175" stop-color="#d0384e"/><stop offset=".178" stop-color="#c32a4b"/><stop offset=".183" stop-color="#5e4fa2"/><stop offset=".43" stop-color="#5e4fa2"/><stop offset=".437" stop-color="#c0a080"/><stop offset=".446" stop-color="#fed683"/><stop offset=".465" stop-color="#fff0a6"/><stop offset=".509" stop-color="#fffebe"/><stop offset=".737" stop-color="#fff8b4"/><stop offset=".851" stop-color="#8a84ae"/><stop offset=".921" stop-color="#5e4fa2"/><stop offset="1" stop-color="#5e4fa2"/></linearGradient><linearGradient id="g116" gradientUnits="userSpaceOnUse" x1="0" y1="13.30" x2="0" y2="199.70"><stop offset="-0" stop-color="#5e4fa2"/><stop offset=".161" stop-color="#5e4fa2"/><stop offset=".162" stop-color="#b04070"/><stop offset=".166" stop-color="#c9314c"/><stop offset=".17" stop-color="#d0384e"/><stop offset=".171" stop-color="#c32a4b"/><stop offset=".176" stop-color="#5e4fa2"/><stop offset=".431" stop-color="#5e4fa2"/><stop offset=".438" stop-color="#c0a080"/><stop offset=".446" stop-color="#fed683"/><stop offset=".465" stop-color="#fff0a6"/><stop offset=".509" stop-color="#fffebe"/><stop offset=".737" stop-color="#fff8b4"/><stop offset=".851" stop-color="#8a84ae"/><stop offset=".921" stop-color="#5e4fa2"/><stop offset="1" stop-color="#5e4fa2"/></linearGradient><linearGradient id="g117" gradientUnits="userSpaceOnUse" x1="0" y1="13.30" x2="0" y2="199.70"><stop offset="-0" stop-color="#5e4fa2"/><stop offset=".165" stop-color="#5e4fa2"/><stop offset=".165" stop-color="#874889"/><stop offset=".166" stop-color="#944077"/><stop offset=".166" stop-color="#974478"/><stop offset=".167" stop-color="#903c76"/><stop offset=".172" stop-color="#5e4fa2"/><stop offset=".431" stop-color="#5e4fa2"/><stop offset=".438" stop-color="#c0a080"/><stop offset=".446" stop-color="#fed683"/><stop offset=".465" stop-color="#fff0a6"/><stop offset=".509" stop-color="#fffebe"/><stop offset=".737" stop-color="#fff8b4"/><stop offset=".851" stop-color="#8a84ae"/><stop offset=".921" stop-color="#5e4fa2"/><stop offset="1" stop-color="#5e4fa2"/></linearGradient><linearGradient id="g118" gradientUnits="userSpaceOnUse" x1="0" y1="13.30" x2="0" y2="199.70"><stop offset="-0" stop-color="#5e4fa2"/><stop offset=".431" stop-color="#5e4fa2"/><stop offset=".438" stop-color="#c0a080"/><stop offset=".447" stop-color="#fed683"/><stop offset=".465" stop-color="#fff0a6"/><stop offset=".509" stop-color="#fffebe"/><stop offset=".737" stop-color="#fff8b4"/><stop offset=".851" stop-color="#8a84ae"/><stop offset=".921" stop-color="#5e4fa2"/><stop offset="1" stop-color="#5e4fa2"/></linearGradient><linearGradient id="g119" gradientUnits="userSpaceOnUse" x1="0" y1="13.30" x2="0" y2="199.70"><stop offset="-0" stop-color="#5e4fa2"/><stop offset=".431" stop-color="#5e4fa2"/><stop offset=".438" stop-color="#c0a080"/><stop offset=".447" stop-color="#fed683"/><stop offset=".465" stop-color="#fff0a6"/><stop offset=".509" stop-color="#fffebe"/><stop offset=".737" stop-color="#fff8b4"/><stop offset=".851" stop-color="#8a84ae"/><stop offset=".921" stop-color="#5e4fa2"/><stop offset="1" stop-color="#5e4fa2"/></linearGradient><linearGradient id="g120" gradientUnits="userSpaceOnUse" x1="0" y1="13.30" x2="0" y2="199.70"><stop offset="-0" stop-color="#5e4fa2"/><stop offset=".431" stop-color="#5e4fa2"/><stop offset=".438" stop-color="#c0a080"/><stop offset=".447" stop-color="#fed683"/><stop offset=".465" stop-color="#fff0a6"/><stop offset=".509" stop-color="#fffebe"/><stop offset=".737" stop-color="#fff8b4"/><stop offset=".851" stop-color="#8a84ae"/><stop offset=".921" stop-color="#5e4fa2"/><stop offset="1" stop-color="#5e4fa2"/></linearGradient><linearGradient id="g121" gradientUnits="userSpaceOnUse" x1="0" y1="13.30" x2="0" y2="199.70"><stop offset="-0" stop-color="#5e4fa2"/><stop offset=".431" stop-color="#5e4fa2"/><stop offset=".438" stop-color="#c0a080"/><stop offset=".447" stop-color="#fed683"/><stop offset=".465" stop-color="#fff0a6"/><stop offset=".509" stop-color="#fffebe"/><stop offset=".737" stop-color="#fff8b4"/><stop offset=".851" stop-color="#8a84ae"/><stop offset=".921" stop-color="#5e4fa2"/><stop offset="1" stop-color="#5e4fa2"/></linearGradient></defs><rect x="1224.00" y="13.30" width="105.16" height="186.40" fill="url(#g80)"/><rect x="1328.56" y="13.30" width="7.37" height="186.40" fill="url(#g81)"/><rect x="1335.32" y="13.30" width="3.06" height="186.40" fill="url(#g82)"/><rect x="1337.78" y="13.30" width="6.14" height="186.40" fill="url(#g83)"/><rect x="1343.32" y="13.30" width="4.29" height="186.40" fill="url(#g84)"/><rect x="1347.01" y="13.30" width="6.14" height="186.40" fill="url(#g85)"/><rect x="1352.54" y="13.30" width="4.29" height="186.40" fill="url(#g86)"/><rect x="1356.23" y="13.30" width="5.21" height="186.40" fill="url(#g87)"/><rect x="1360.85" y="13.30" width="5.21" height="186.40" fill="url(#g88)"/><rect x="1365.46" y="13.30" width="8.29" height="186.40" fill="url(#g89)"/><rect x="1373.15" y="13.30" width="8.29" height="186.40" fill="url(#g90)"/><rect x="1380.84" y="13.30" width="9.83" height="186.40" fill="url(#g91)"/><rect x="1390.06" y="13.30" width="9.83" height="186.40" fill="url(#g92)"/><rect x="1399.29" y="13.30" width="9.83" height="186.40" fill="url(#g93)"/><rect x="1408.51" y="13.30" width="23.66" height="186.40" fill="url(#g94)"/><rect x="1431.58" y="13.30" width="23.66" height="186.40" fill="url(#g95)"/><rect x="1454.64" y="13.30" width="19.05" height="186.40" fill="url(#g96)"/><rect x="1473.09" y="13.30" width="19.05" height="186.40" fill="url(#g97)"/><rect x="1491.54" y="13.30" width="19.05" height="186.40" fill="url(#g98)"/><rect x="1509.99" y="13.30" width="23.05" height="186.40" fill="url(#g99)"/><rect x="1532.44" y="13.30" width="23.05" height="186.40" fill="url(#g100)"/><rect x="1554.89" y="13.30" width="23.05" height="186.40" fill="url(#g101)"/><rect x="1577.34" y="13.30" width="23.05" height="186.40" fill="url(#g102)"/><rect x="1599.79" y="13.30" width="24.22" height="186.40" fill="url(#g103)"/><rect x="1623.41" y="13.30" width="24.22" height="186.40" fill="url(#g104)"/><rect x="1647.02" y="13.30" width="24.22" height="186.40" fill="url(#g105)"/><rect x="1670.64" y="13.30" width="24.22" height="186.40" fill="url(#g106)"/><rect x="1694.26" y="13.30" width="24.22" height="186.40" fill="url(#g107)"/><rect x="1717.88" y="13.30" width="21.43" height="186.40" fill="url(#g108)"/><rect x="1738.71" y="13.30" width="21.43" height="186.40" fill="url(#g109)"/><rect x="1759.55" y="13.30" width="21.43" height="186.40" fill="url(#g110)"/><rect x="1780.38" y="13.30" width="21.43" height="186.40" fill="url(#g111)"/><rect x="1801.22" y="13.30" width="19.44" height="186.40" fill="url(#g112)"/><rect x="1820.05" y="13.30" width="19.44" height="186.40" fill="url(#g113)"/><rect x="1838.89" y="13.30" width="19.44" height="186.40" fill="url(#g114)"/><rect x="1857.72" y="13.30" width="19.44" height="186.40" fill="url(#g115)"/><rect x="1876.56" y="13.30" width="22.74" height="186.40" fill="url(#g116)"/><rect x="1898.70" y="13.30" width="2.45" height="186.40" fill="url(#g117)"/><rect x="1900.54" y="13.30" width="23.66" height="186.40" fill="url(#g118)"/><rect x="1923.61" y="13.30" width="23.66" height="186.40" fill="url(#g119)"/><rect x="1946.67" y="13.30" width="23.66" height="186.40" fill="url(#g120)"/><rect x="1969.74" y="13.30" width="23.06" height="186.40" fill="url(#g121)"/></g><path d="M 1224 199.7 
L 1224 13.3 
" class="s1"/><use xlink:href="#k0" x="1224" y="199.7" class="s2"/><path d="M 1377.8 199.7 
L 1377.8 13.3 
" class="s1"/><use xlink:href="#k0" x="1377.76" y="199.7" class="s2"/><path d="M 1531.5 199.7 
L 1531.5 13.3 
" class="s1"/><use xlink:href="#k0" x="1531.52" y="199.7" class="s2"/><path d="M 1685.3 199.7 
L 1685.3 13.3 
" class="s1"/><use xlink:href="#k0" x="1685.28" y="199.7" class="s2"/><path d="M 1839 199.7 
L 1839 13.3 
" class="s1"/><use xlink:href="#k0" x="1839.04" y="199.7" class="s2"/><path d="M 1992.8 199.7 
L 1992.8 13.3 
" class="s1"/><use xlink:href="#k0" x="1992.8" y="199.7" class="s2"/><path d="M 1254.8 199.7 
L 1254.8 13.3 
" class="s1"/><use xlink:href="#k1" x="1254.752" y="199.7" class="s0"/><path d="M 1285.5 199.7 
L 1285.5 13.3 
" class="s1"/><use xlink:href="#k1" x="1285.504" y="199.7" class="s0"/><path d="M 1316.3 199.7 
L 1316.3 13.3 
" class="s1"/><use xlink:href="#k1" x="1316.256" y="199.7" class="s0"/><path d="M 1347 199.7 
L 1347 13.3 
" class="s1"/><use xlink:href="#k1" x="1347.008" y="199.7" class="s0"/><path d="M 1408.5 199.7 
L 1408.5 13.3 
" class="s1"/><use xlink:href="#k1" x="1408.512" y="199.7" class="s0"/><path d="M 1439.3 199.7 
L 1439.3 13.3 
" class="s1"/><use xlink:href="#k1" x="1439.264" y="199.7" class="s0"/><path d="M 1470 199.7 
L 1470 13.3 
" class="s1"/><use xlink:href="#k1" x="1470.016" y="199.7" class="s0"/><path d="M 1500.8 199.7 
L 1500.8 13.3 
" class="s1"/><use xlink:href="#k1" x="1500.768" y="199.7" class="s0"/><path d="M 1562.3 199.7 
L 1562.3 13.3 
" class="s1"/><use xlink:href="#k1" x="1562.272" y="199.7" class="s0"/><path d="M 1593 199.7 
L 1593 13.3 
" class="s1"/><use xlink:href="#k1" x="1593.024" y="199.7" class="s0"/><path d="M 1623.8 199.7 
L 1623.8 13.3 
" class="s1"/><use xlink:href="#k1" x="1623.776" y="199.7" class="s0"/><path d="M 1654.5 199.7 
L 1654.5 13.3 
" class="s1"/><use xlink:href="#k1" x="1654.528" y="199.7" class="s0"/><path d="M 1716 199.7 
L 1716 13.3 
" class="s1"/><use xlink:href="#k1" x="1716.032" y="199.7" class="s0"/><path d="M 1746.8 199.7 
L 1746.8 13.3 
" class="s1"/><use xlink:href="#k1" x="1746.784" y="199.7" class="s0"/><path d="M 1777.5 199.7 
L 1777.5 13.3 
" class="s1"/><use xlink:href="#k1" x="1777.536" y="199.7" class="s0"/><path d="M 1808.3 199.7 
L 1808.3 13.3 
" class="s1"/><use xlink:href="#k1" x="1808.288" y="199.7" class="s0"/><path d="M 1869.8 199.7 
L 1869.8 13.3 
" class="s1"/><use xlink:href="#k1" x="1869.792" y="199.7" class="s0"/><path d="M 1900.5 199.7 
L 1900.5 13.3 
" class="s1"/><use xlink:href="#k1" x="1900.544" y="199.7" class="s0"/><path d="M 1931.3 199.7 
L 1931.3 13.3 
" class="s1"/><use xlink:href="#k1" x="1931.296" y="199.7" class="s0"/><path d="M 1962 199.7 
L 1962 13.3 
" class="s1"/><use xlink:href="#k1" x="1962.048" y="199.7" class="s0"/><path d="M 1224 199.7 
L 1992.8 199.7 
" class="s1"/><use xlink:href="#k2" x="1224" y="199.7" class="s2"/><g transform="translate(1160.855 209.08407)"><text><tspan x="0" y="-0.676563" class="s4">1</tspan><tspan x="15.746704" y="-0.676563" class="s4">0</tspan><tspan x="31.732666" y="-10.246875" class="s5">−</tspan><tspan x="46.249121" y="-10.246875" class="s5">4</tspan></text></g><path d="M 1224 167 
L 1992.8 167 
" class="s1"/><use xlink:href="#k2" x="1224" y="166.992335" class="s2"/><g transform="translate(1160.855 176.376406)"><text><tspan x="0" y="-0.435938" class="s4">1</tspan><tspan x="15.746704" y="-0.435938" class="s4">0</tspan><tspan x="31.732666" y="-10.00625" class="s5">−</tspan><tspan x="46.249121" y="-10.00625" class="s5">3</tspan></text></g><path d="M 1224 134.3 
L 1992.8 134.3 
" class="s1"/><use xlink:href="#k2" x="1224" y="134.284671" class="s2"/><g transform="translate(1160.855 143.668741)"><text><tspan x="0" y="-0.435938" class="s4">1</tspan><tspan x="15.746704" y="-0.435938" class="s4">0</tspan><tspan x="31.732666" y="-10.00625" class="s5">−</tspan><tspan x="46.249121" y="-10.00625" class="s5">2</tspan></text></g><path d="M 1224 101.6 
L 1992.8 101.6 
" class="s1"/><use xlink:href="#k2" x="1224" y="101.577006" class="s2"/><g transform="translate(1160.855 110.961076)"><text><tspan x="0" y="-0.676563" class="s4">1</tspan><tspan x="15.746704" y="-0.676563" class="s4">0</tspan><tspan x="31.732666" y="-10.246875" class="s5">−</tspan><tspan x="46.249121" y="-10.246875" class="s5">1</tspan></text></g><path d="M 1224 68.9 
L 1992.8 68.9 
" class="s1"/><use xlink:href="#k2" x="1224" y="68.869341" class="s2"/><g transform="translate(1175.428 78.253412)"><text><tspan x="0" y="-0.435938" class="s4">1</tspan><tspan x="15.746704" y="-0.435938" class="s4">0</tspan><tspan x="31.732666" y="-10.00625" class="s5">0</tspan></text></g><path d="M 1224 36.2 
L 1992.8 36.2 
" class="s1"/><use xlink:href="#k2" x="1224" y="36.161677" class="s2"/><g transform="translate(1175.428 45.545747)"><text><tspan x="0" y="-0.676563" class="s4">1</tspan><tspan x="15.746704" y="-0.676563" class="s4">0</tspan><tspan x="31.732666" y="-10.246875" class="s5">1</tspan></text></g><path d="M 1224 189.9 
L 1992.8 189.9 
" class="s1"/><use xlink:href="#k4" x="1224" y="189.854012" class="s0"/><path d="M 1224 184.1 
L 1992.8 184.1 
" class="s1"/><use xlink:href="#k4" x="1224" y="184.094478" class="s0"/><path d="M 1224 180 
L 1992.8 180 
" class="s1"/><use xlink:href="#k4" x="1224" y="180.008024" class="s0"/><path d="M 1224 176.8 
L 1992.8 176.8 
" class="s1"/><use xlink:href="#k4" x="1224" y="176.838323" class="s0"/><path d="M 1224 174.2 
L 1992.8 174.2 
" class="s1"/><use xlink:href="#k4" x="1224" y="174.24849" class="s0"/><path d="M 1224 172.1 
L 1992.8 172.1 
" class="s1"/><use xlink:href="#k4" x="1224" y="172.058817" class="s0"/><path d="M 1224 170.2 
L 1992.8 170.2 
" class="s1"/><use xlink:href="#k4" x="1224" y="170.162036" class="s0"/><path d="M 1224 168.5 
L 1992.8 168.5 
" class="s1"/><use xlink:href="#k4" x="1224" y="168.488956" class="s0"/><path d="M 1224 157.1 
L 1992.8 157.1 
" class="s1"/><use xlink:href="#k4" x="1224" y="157.146347" class="s0"/><path d="M 1224 151.4 
L 1992.8 151.4 
" class="s1"/><use xlink:href="#k4" x="1224" y="151.386813" class="s0"/><path d="M 1224 147.3 
L 1992.8 147.3 
" class="s1"/><use xlink:href="#k4" x="1224" y="147.300359" class="s0"/><path d="M 1224 144.1 
L 1992.8 144.1 
" class="s1"/><use xlink:href="#k4" x="1224" y="144.130659" class="s0"/><path d="M 1224 141.5 
L 1992.8 141.5 
" class="s1"/><use xlink:href="#k4" x="1224" y="141.540825" class="s0"/><path d="M 1224 139.4 
L 1992.8 139.4 
" class="s1"/><use xlink:href="#k4" x="1224" y="139.351152" class="s0"/><path d="M 1224 137.5 
L 1992.8 137.5 
" class="s1"/><use xlink:href="#k4" x="1224" y="137.454371" class="s0"/><path d="M 1224 135.8 
L 1992.8 135.8 
" class="s1"/><use xlink:href="#k4" x="1224" y="135.781291" class="s0"/><path d="M 1224 124.4 
L 1992.8 124.4 
" class="s1"/><use xlink:href="#k4" x="1224" y="124.438682" class="s0"/><path d="M 1224 118.7 
L 1992.8 118.7 
" class="s1"/><use xlink:href="#k4" x="1224" y="118.679149" class="s0"/><path d="M 1224 114.6 
L 1992.8 114.6 
" class="s1"/><use xlink:href="#k4" x="1224" y="114.592694" class="s0"/><path d="M 1224 111.4 
L 1992.8 111.4 
" class="s1"/><use xlink:href="#k4" x="1224" y="111.422994" class="s0"/><path d="M 1224 108.8 
L 1992.8 108.8 
" class="s1"/><use xlink:href="#k4" x="1224" y="108.83316" class="s0"/><path d="M 1224 106.6 
L 1992.8 106.6 
" class="s1"/><use xlink:href="#k4" x="1224" y="106.643487" class="s0"/><path d="M 1224 104.7 
L 1992.8 104.7 
" class="s1"/><use xlink:href="#k4" x="1224" y="104.746706" class="s0"/><path d="M 1224 103.1 
L 1992.8 103.1 
" class="s1"/><use xlink:href="#k4" x="1224" y="103.073627" class="s0"/><path d="M 1224 91.7 
L 1992.8 91.7 
" class="s1"/><use xlink:href="#k4" x="1224" y="91.731018" class="s0"/><path d="M 1224 86 
L 1992.8 86 
" class="s1"/><use xlink:href="#k4" x="1224" y="85.971484" class="s0"/><path d="M 1224 81.9 
L 1992.8 81.9 
" class="s1"/><use xlink:href="#k4" x="1224" y="81.88503" class="s0"/><path d="M 1224 78.7 
L 1992.8 78.7 
" class="s1"/><use xlink:href="#k4" x="1224" y="78.715329" class="s0"/><path d="M 1224 76.1 
L 1992.8 76.1 
" class="s1"/><use xlink:href="#k4" x="1224" y="76.125496" class="s0"/><path d="M 1224 73.9 
L 1992.8 73.9 
" class="s1"/><use xlink:href="#k4" x="1224" y="73.935823" class="s0"/><path d="M 1224 72 
L 1992.8 72 
" class="s1"/><use xlink:href="#k4" x="1224" y="72.039041" class="s0"/><path d="M 1224 70.4 
L 1992.8 70.4 
" class="s1"/><use xlink:href="#k4" x="1224" y="70.365962" class="s0"/><path d="M 1224 59 
L 1992.8 59 
" class="s1"/><use xlink:href="#k4" x="1224" y="59.023353" class="s0"/><path d="M 1224 53.3 
L 1992.8 53.3 
" class="s1"/><use xlink:href="#k4" x="1224" y="53.263819" class="s0"/><path d="M 1224 49.2 
L 1992.8 49.2 
" class="s1"/><use xlink:href="#k4" x="1224" y="49.177365" class="s0"/><path d="M 1224 46 
L 1992.8 46 
" class="s1"/><use xlink:href="#k4" x="1224" y="46.007665" class="s0"/><path d="M 1224 43.4 
L 1992.8 43.4 
" class="s1"/><use xlink:href="#k4" x="1224" y="43.417831" class="s0"/><path d="M 1224 41.2 
L 1992.8 41.2 
" class="s1"/><use xlink:href="#k4" x="1224" y="41.228158" class="s0"/><path d="M 1224 39.3 
L 1992.8 39.3 
" class="s1"/><use xlink:href="#k4" x="1224" y="39.331377" class="s0"/><path d="M 1224 37.7 
L 1992.8 37.7 
" class="s1"/><use xlink:href="#k4" x="1224" y="37.658297" class="s0"/><path d="M 1224 26.3 
L 1992.8 26.3 
" class="s1"/><use xlink:href="#k4" x="1224" y="26.315688" class="s0"/><path d="M 1224 20.6 
L 1992.8 20.6 
" class="s1"/><use xlink:href="#k4" x="1224" y="20.556155" class="s0"/><path d="M 1224 16.5 
L 1992.8 16.5 
" class="s1"/><use xlink:href="#k4" x="1224" y="16.4697" class="s0"/><path d="M 1224 13.3 
L 1992.8 13.3 
" class="s1"/><use xlink:href="#k4" x="1224" y="13.3" class="s0"/><g transform="translate(1143.68 174.425) rotate(-90)"><text><tspan x="0" y="-0.921875" class="s7">p</tspan><tspan x="40.532349" y="-0.921875" class="s7">m</tspan><tspan x="79.414307" y="-0.921875" class="s7">v</tspan><tspan x="20.629883" y="4.492188" class="s8">i</tspan><tspan x="72.191284" y="4.492188" class="s8">i</tspan><tspan x="98.647705" y="4.492188" class="s8">p</tspan><tspan x="113.088623" y="4.492188" class="s8">t</tspan><tspan x="27.852905" y="-0.921875" class="s9">[</tspan><tspan x="122.911011" y="-0.921875" class="s9">]</tspan></text></g><path d="M 1224 199.7 
L 1224 13.3 
" class="s6"/><path d="M 1992.8 199.7 
L 1992.8 13.3 
" class="s6"/><path d="M 1224 199.7 
L 1992.8 199.7 
" class="s6"/><path d="M 1224 13.3 
L 1992.8 13.3 
" class="s6"/><path d="M 1922.5 58.2 
L 1990.2 58.2 
L 1990.2 20.8 
L 1922.5 20.8 
z
" clip-path="url(#k10)" class="s14"/><text class="s15" x="1956.4" y="47.671063">(e1)</text><path d="M 1224 451.3 
L 1992.8 451.3 
L 1992.8 264.9 
L 1224 264.9 
z
" class="s11"/><g id="HEAT_e2"><defs><linearGradient id="g122" gradientUnits="userSpaceOnUse" x1="0" y1="264.90" x2="0" y2="451.30"><stop offset="-0" stop-color="#5e4fa2"/><stop offset=".231" stop-color="#5e4fa2"/><stop offset=".243" stop-color="#7a5a98"/><stop offset=".266" stop-color="#b8406a"/><stop offset=".292" stop-color="#c9314c"/><stop offset=".438" stop-color="#d43d4f"/><stop offset=".526" stop-color="#e1504b"/><stop offset=".579" stop-color="#f46d43"/><stop offset=".623" stop-color="#f99355"/><stop offset=".658" stop-color="#fdc372"/><stop offset=".702" stop-color="#feea9b"/><stop offset=".754" stop-color="#e8e6b8"/><stop offset=".903" stop-color="#5e4fa2"/><stop offset="1" stop-color="#5e4fa2"/></linearGradient><linearGradient id="g123" gradientUnits="userSpaceOnUse" x1="0" y1="264.90" x2="0" y2="451.30"><stop offset="-0" stop-color="#5e4fa2"/><stop offset=".226" stop-color="#5e4fa2"/><stop offset=".238" stop-color="#7a5a98"/><stop offset=".261" stop-color="#b8406a"/><stop offset=".288" stop-color="#c9314c"/><stop offset=".438" stop-color="#d43d4f"/><stop offset=".526" stop-color="#e1504b"/><stop offset=".579" stop-color="#f46d43"/><stop offset=".623" stop-color="#f99355"/><stop offset=".658" stop-color="#fdc372"/><stop offset=".702" stop-color="#feea9b"/><stop offset=".754" stop-color="#e8e6b8"/><stop offset=".903" stop-color="#5e4fa2"/><stop offset="1" stop-color="#5e4fa2"/></linearGradient><linearGradient id="g124" gradientUnits="userSpaceOnUse" x1="0" y1="264.90" x2="0" y2="451.30"><stop offset="-0" stop-color="#5e4fa2"/><stop offset=".221" stop-color="#5e4fa2"/><stop offset=".234" stop-color="#7a5a98"/><stop offset=".257" stop-color="#b8406a"/><stop offset=".283" stop-color="#c9314c"/><stop offset=".438" stop-color="#d43d4f"/><stop offset=".526" stop-color="#e1504b"/><stop offset=".579" stop-color="#f46d43"/><stop offset=".623" stop-color="#f99355"/><stop offset=".658" stop-color="#fdc372"/><stop offset=".702" stop-color="#feea9b"/><stop offset=".754" stop-color="#e8e6b8"/><stop offset=".903" stop-color="#5e4fa2"/><stop offset="1" stop-color="#5e4fa2"/></linearGradient><linearGradient id="g125" gradientUnits="userSpaceOnUse" x1="0" y1="264.90" x2="0" y2="451.30"><stop offset="-0" stop-color="#5e4fa2"/><stop offset=".221" stop-color="#5e4fa2"/><stop offset=".233" stop-color="#7a5a98"/><stop offset=".256" stop-color="#b8406a"/><stop offset=".282" stop-color="#c9314c"/><stop offset=".438" stop-color="#d43d4f"/><stop offset=".526" stop-color="#e1504b"/><stop offset=".579" stop-color="#f46d43"/><stop offset=".623" stop-color="#f99355"/><stop offset=".658" stop-color="#fdc372"/><stop offset=".702" stop-color="#feea9b"/><stop offset=".754" stop-color="#e8e6b8"/><stop offset=".903" stop-color="#5e4fa2"/><stop offset="1" stop-color="#5e4fa2"/></linearGradient><linearGradient id="g126" gradientUnits="userSpaceOnUse" x1="0" y1="264.90" x2="0" y2="451.30"><stop offset="-0" stop-color="#5e4fa2"/><stop offset=".224" stop-color="#5e4fa2"/><stop offset=".237" stop-color="#7a5a98"/><stop offset=".26" stop-color="#b8406a"/><stop offset=".286" stop-color="#c9314c"/><stop offset=".438" stop-color="#d43d4f"/><stop offset=".526" stop-color="#e1504b"/><stop offset=".579" stop-color="#f46d43"/><stop offset=".623" stop-color="#f99355"/><stop offset=".658" stop-color="#fdc372"/><stop offset=".702" stop-color="#feea9b"/><stop offset=".754" stop-color="#e8e6b8"/><stop offset=".903" stop-color="#5e4fa2"/><stop offset="1" stop-color="#5e4fa2"/></linearGradient><linearGradient id="g127" gradientUnits="userSpaceOnUse" x1="0" y1="264.90" x2="0" y2="451.30"><stop offset="-0" stop-color="#5e4fa2"/><stop offset=".228" stop-color="#5e4fa2"/><stop offset=".24" stop-color="#7a5a98"/><stop offset=".263" stop-color="#b8406a"/><stop offset=".289" stop-color="#c9314c"/><stop offset=".438" stop-color="#d43d4f"/><stop offset=".526" stop-color="#e1504b"/><stop offset=".579" stop-color="#f46d43"/><stop offset=".623" stop-color="#f99355"/><stop offset=".658" stop-color="#fdc372"/><stop offset=".702" stop-color="#feea9b"/><stop offset=".754" stop-color="#e8e6b8"/><stop offset=".903" stop-color="#5e4fa2"/><stop offset="1" stop-color="#5e4fa2"/></linearGradient><linearGradient id="g128" gradientUnits="userSpaceOnUse" x1="0" y1="264.90" x2="0" y2="451.30"><stop offset="-0" stop-color="#5e4fa2"/><stop offset=".231" stop-color="#5e4fa2"/><stop offset=".244" stop-color="#7a5a98"/><stop offset=".267" stop-color="#b8406a"/><stop offset=".293" stop-color="#c9314c"/><stop offset=".438" stop-color="#d43d4f"/><stop offset=".526" stop-color="#e1504b"/><stop offset=".579" stop-color="#f46d43"/><stop offset=".623" stop-color="#f99355"/><stop offset=".658" stop-color="#fdc372"/><stop offset=".702" stop-color="#feea9b"/><stop offset=".754" stop-color="#e8e6b8"/><stop offset=".903" stop-color="#5e4fa2"/><stop offset="1" stop-color="#5e4fa2"/></linearGradient><linearGradient id="g129" gradientUnits="userSpaceOnUse" x1="0" y1="264.90" x2="0" y2="451.30"><stop offset="-0" stop-color="#5e4fa2"/><stop offset=".238" stop-color="#5e4fa2"/><stop offset=".251" stop-color="#7a5a98"/><stop offset=".274" stop-color="#b8406a"/><stop offset=".3" stop-color="#c9314c"/><stop offset=".438" stop-color="#d43d4f"/><stop offset=".526" stop-color="#e1504b"/><stop offset=".579" stop-color="#f46d43"/><stop offset=".623" stop-color="#f99355"/><stop offset=".658" stop-color="#fdc372"/><stop offset=".702" stop-color="#feea9b"/><stop offset=".754" stop-color="#e8e6b8"/><stop offset=".903" stop-color="#5e4fa2"/><stop offset="1" stop-color="#5e4fa2"/></linearGradient><linearGradient id="g130" gradientUnits="userSpaceOnUse" x1="0" y1="264.90" x2="0" y2="451.30"><stop offset="-0" stop-color="#5e4fa2"/><stop offset=".249" stop-color="#5e4fa2"/><stop offset=".261" stop-color="#7a5a98"/><stop offset=".284" stop-color="#b8406a"/><stop offset=".31" stop-color="#c9314c"/><stop offset=".438" stop-color="#d43d4f"/><stop offset=".526" stop-color="#e1504b"/><stop offset=".579" stop-color="#f46d43"/><stop offset=".623" stop-color="#f99355"/><stop offset=".658" stop-color="#fdc372"/><stop offset=".702" stop-color="#feea9b"/><stop offset=".754" stop-color="#e8e6b8"/><stop offset=".903" stop-color="#5e4fa2"/><stop offset="1" stop-color="#5e4fa2"/></linearGradient><linearGradient id="g131" gradientUnits="userSpaceOnUse" x1="0" y1="264.90" x2="0" y2="451.30"><stop offset="-0" stop-color="#5e4fa2"/><stop offset=".285" stop-color="#5e4fa2"/><stop offset=".297" stop-color="#7a5a98"/><stop offset=".32" stop-color="#b8406a"/><stop offset=".346" stop-color="#c9314c"/><stop offset=".526" stop-color="#e1504b"/><stop offset=".579" stop-color="#f46d43"/><stop offset=".623" stop-color="#f99355"/><stop offset=".658" stop-color="#fdc372"/><stop offset=".702" stop-color="#feea9b"/><stop offset=".754" stop-color="#e8e6b8"/><stop offset=".903" stop-color="#5e4fa2"/><stop offset="1" stop-color="#5e4fa2"/></linearGradient><linearGradient id="g132" gradientUnits="userSpaceOnUse" x1="0" y1="264.90" x2="0" y2="451.30"><stop offset="-0" stop-color="#5e4fa2"/><stop offset=".316" stop-color="#5e4fa2"/><stop offset=".328" stop-color="#6c549d"/><stop offset=".351" stop-color="#8b4886"/><stop offset=".368" stop-color="#91427c"/><stop offset=".395" stop-color="#a64a76"/><stop offset=".43" stop-color="#d9454c"/><stop offset=".509" stop-color="#e1504a"/><stop offset=".579" stop-color="#f37349"/><stop offset=".614" stop-color="#f88c51"/><stop offset=".684" stop-color="#fee598"/><stop offset=".702" stop-color="#f4e3a0"/><stop offset=".754" stop-color="#cbc3ae"/><stop offset=".825" stop-color="#8379a8"/><stop offset=".903" stop-color="#5e4fa2"/><stop offset="1" stop-color="#5e4fa2"/></linearGradient><linearGradient id="g133" gradientUnits="userSpaceOnUse" x1="0" y1="264.90" x2="0" y2="451.30"><stop offset="-0" stop-color="#5e4fa2"/><stop offset=".403" stop-color="#5e4fa2"/><stop offset=".434" stop-color="#8d6090"/><stop offset=".469" stop-color="#e45449"/><stop offset=".535" stop-color="#ec6146"/><stop offset=".614" stop-color="#fbb16a"/><stop offset=".684" stop-color="#fff0a6"/><stop offset=".772" stop-color="#5e4fa2"/><stop offset="1" stop-color="#5e4fa2"/></linearGradient><linearGradient id="g134" gradientUnits="userSpaceOnUse" x1="0" y1="264.90" x2="0" y2="451.30"><stop offset="-0" stop-color="#5e4fa2"/><stop offset=".447" stop-color="#5e4fa2"/><stop offset=".482" stop-color="#9d6880"/><stop offset=".526" stop-color="#ed6346"/><stop offset=".588" stop-color="#f88d52"/><stop offset=".649" stop-color="#fedb87"/><stop offset=".693" stop-color="#ae9fa4"/><stop offset=".798" stop-color="#5e4fa2"/><stop offset="1" stop-color="#5e4fa2"/></linearGradient><linearGradient id="g135" gradientUnits="userSpaceOnUse" x1="0" y1="264.90" x2="0" y2="451.30"><stop offset="-0" stop-color="#5e4fa2"/><stop offset=".447" stop-color="#5e4fa2"/><stop offset=".456" stop-color="#6554a0"/><stop offset=".474" stop-color="#846594"/><stop offset=".491" stop-color="#a16d82"/><stop offset=".517" stop-color="#c96c65"/><stop offset=".544" stop-color="#e76c4e"/><stop offset=".579" stop-color="#f67d4a"/><stop offset=".684" stop-color="#fdcd7c"/><stop offset=".702" stop-color="#ad8b8d"/><stop offset=".737" stop-color="#ae9896"/><stop offset=".825" stop-color="#aea4ab"/><stop offset=".895" stop-color="#7f76a9"/><stop offset="1" stop-color="#5e4fa2"/></linearGradient><linearGradient id="g136" gradientUnits="userSpaceOnUse" x1="0" y1="264.90" x2="0" y2="451.30"><stop offset="-0" stop-color="#5e4fa2"/><stop offset=".447" stop-color="#5e4fa2"/><stop offset=".474" stop-color="#866a98"/><stop offset=".52" stop-color="#c9686a"/><stop offset=".583" stop-color="#f46d43"/><stop offset=".653" stop-color="#fca35c"/><stop offset=".741" stop-color="#fee28e"/><stop offset=".833" stop-color="#fff8b4"/><stop offset=".897" stop-color="#a09cb0"/><stop offset="1" stop-color="#5e4fa2"/></linearGradient><linearGradient id="g137" gradientUnits="userSpaceOnUse" x1="0" y1="264.90" x2="0" y2="451.30"><stop offset="-0" stop-color="#5e4fa2"/><stop offset=".447" stop-color="#5e4fa2"/><stop offset=".474" stop-color="#7e6a98"/><stop offset=".524" stop-color="#cb626e"/><stop offset=".592" stop-color="#f46d43"/><stop offset=".662" stop-color="#fcaa5f"/><stop offset=".75" stop-color="#fee593"/><stop offset=".851" stop-color="#fff8b4"/><stop offset=".901" stop-color="#a09cb0"/><stop offset="1" stop-color="#5e4fa2"/></linearGradient><linearGradient id="g138" gradientUnits="userSpaceOnUse" x1="0" y1="264.90" x2="0" y2="451.30"><stop offset="-0" stop-color="#5e4fa2"/><stop offset=".447" stop-color="#5e4fa2"/><stop offset=".474" stop-color="#786397"/><stop offset=".526" stop-color="#ca596c"/><stop offset=".596" stop-color="#f26b44"/><stop offset=".614" stop-color="#f67949"/><stop offset=".649" stop-color="#fbab63"/><stop offset=".71" stop-color="#fed589"/><stop offset=".754" stop-color="#feeb9e"/><stop offset=".86" stop-color="#fffab6"/><stop offset=".903" stop-color="#a09cb0"/><stop offset="1" stop-color="#5e4fa2"/></linearGradient><linearGradient id="g139" gradientUnits="userSpaceOnUse" x1="0" y1="264.90" x2="0" y2="451.30"><stop offset="-0" stop-color="#5e4fa2"/><stop offset=".447" stop-color="#5e4fa2"/><stop offset=".47" stop-color="#6d5598"/><stop offset=".509" stop-color="#b6496f"/><stop offset=".561" stop-color="#e0554e"/><stop offset=".614" stop-color="#f57145"/><stop offset=".649" stop-color="#fdc878"/><stop offset=".71" stop-color="#feeda6"/><stop offset=".86" stop-color="#fffdbb"/><stop offset=".903" stop-color="#a09cb0"/><stop offset="1" stop-color="#5e4fa2"/></linearGradient><linearGradient id="g140" gradientUnits="userSpaceOnUse" x1="0" y1="264.90" x2="0" y2="451.30"><stop offset="-0" stop-color="#5e4fa2"/><stop offset=".447" stop-color="#5e4fa2"/><stop offset=".47" stop-color="#6a4f98"/><stop offset=".5" stop-color="#a73a6f"/><stop offset=".526" stop-color="#bf3154"/><stop offset=".579" stop-color="#dd4b4b"/><stop offset=".614" stop-color="#f16844"/><stop offset=".637" stop-color="#f99e5f"/><stop offset=".642" stop-color="#fde09a"/><stop offset=".649" stop-color="#feeaa0"/><stop offset=".71" stop-color="#fffbb9"/><stop offset=".86" stop-color="#fffebe"/><stop offset=".903" stop-color="#bebbb4"/><stop offset="1" stop-color="#746aa8"/></linearGradient><linearGradient id="g141" gradientUnits="userSpaceOnUse" x1="0" y1="264.90" x2="0" y2="451.30"><stop offset="-0" stop-color="#5e4fa2"/><stop offset=".447" stop-color="#5e4fa2"/><stop offset=".47" stop-color="#6a4f98"/><stop offset=".5" stop-color="#a8306a"/><stop offset=".526" stop-color="#b81e48"/><stop offset=".579" stop-color="#d43d4f"/><stop offset=".623" stop-color="#f46d43"/><stop offset=".637" stop-color="#f88c51"/><stop offset=".642" stop-color="#fdfebc"/><stop offset=".86" stop-color="#fffebe"/><stop offset=".903" stop-color="#dcdab8"/><stop offset=".956" stop-color="#a8a4b0"/><stop offset="1" stop-color="#8a84ae"/></linearGradient><linearGradient id="g142" gradientUnits="userSpaceOnUse" x1="0" y1="264.90" x2="0" y2="451.30"><stop offset="-0" stop-color="#5e4fa2"/><stop offset=".447" stop-color="#5e4fa2"/><stop offset=".47" stop-color="#6a4f98"/><stop offset=".5" stop-color="#a8306a"/><stop offset=".526" stop-color="#b81e48"/><stop offset=".579" stop-color="#d43d4f"/><stop offset=".623" stop-color="#f46d43"/><stop offset=".637" stop-color="#f88c51"/><stop offset=".642" stop-color="#fafdb7"/><stop offset=".71" stop-color="#fffebe"/><stop offset=".86" stop-color="#fffebe"/><stop offset=".903" stop-color="#dcdab8"/><stop offset=".956" stop-color="#a8a4b0"/><stop offset="1" stop-color="#8a84ae"/></linearGradient><linearGradient id="g143" gradientUnits="userSpaceOnUse" x1="0" y1="264.90" x2="0" y2="451.30"><stop offset="-0" stop-color="#5e4fa2"/><stop offset=".447" stop-color="#5e4fa2"/><stop offset=".47" stop-color="#6a4f98"/><stop offset=".5" stop-color="#a8306a"/><stop offset=".526" stop-color="#b81e48"/><stop offset=".579" stop-color="#d43d4f"/><stop offset=".623" stop-color="#f46d43"/><stop offset=".637" stop-color="#f88c51"/><stop offset=".642" stop-color="#f7fcb3"/><stop offset=".71" stop-color="#fffebe"/><stop offset=".86" stop-color="#fffebe"/><stop offset=".903" stop-color="#dcdab8"/><stop offset=".956" stop-color="#a8a4b0"/><stop offset="1" stop-color="#8a84ae"/></linearGradient><linearGradient id="g144" gradientUnits="userSpaceOnUse" x1="0" y1="264.90" x2="0" y2="451.30"><stop offset="-0" stop-color="#5e4fa2"/><stop offset=".447" stop-color="#5e4fa2"/><stop offset=".47" stop-color="#6a4f98"/><stop offset=".5" stop-color="#a8306a"/><stop offset=".526" stop-color="#b81e48"/><stop offset=".579" stop-color="#d43d4f"/><stop offset=".623" stop-color="#f46d43"/><stop offset=".637" stop-color="#f88c51"/><stop offset=".642" stop-color="#f4fbae"/><stop offset=".71" stop-color="#fffebe"/><stop offset=".86" stop-color="#fffebe"/><stop offset=".903" stop-color="#dcdab8"/><stop offset=".956" stop-color="#a8a4b0"/><stop offset="1" stop-color="#8a84ae"/></linearGradient><linearGradient id="g145" gradientUnits="userSpaceOnUse" x1="0" y1="264.90" x2="0" y2="451.30"><stop offset="-0" stop-color="#5e4fa2"/><stop offset=".447" stop-color="#5e4fa2"/><stop offset=".47" stop-color="#6a4f98"/><stop offset=".5" stop-color="#a8306a"/><stop offset=".526" stop-color="#b81e48"/><stop offset=".579" stop-color="#d43d4f"/><stop offset=".623" stop-color="#f46d43"/><stop offset=".637" stop-color="#f88c51"/><stop offset=".642" stop-color="#f1f9aa"/><stop offset=".658" stop-color="#f1f9aa"/><stop offset=".71" stop-color="#fffebe"/><stop offset=".86" stop-color="#fffebe"/><stop offset=".903" stop-color="#dcdab8"/><stop offset=".956" stop-color="#a8a4b0"/><stop offset="1" stop-color="#8a84ae"/></linearGradient><linearGradient id="g146" gradientUnits="userSpaceOnUse" x1="0" y1="264.90" x2="0" y2="451.30"><stop offset="-0" stop-color="#5e4fa2"/><stop offset=".447" stop-color="#5e4fa2"/><stop offset=".47" stop-color="#6a4f98"/><stop offset=".5" stop-color="#a8306a"/><stop offset=".526" stop-color="#b81e48"/><stop offset=".579" stop-color="#d43d4f"/><stop offset=".623" stop-color="#f46d43"/><stop offset=".637" stop-color="#f88c51"/><stop offset=".642" stop-color="#f4faad"/><stop offset=".71" stop-color="#fffebe"/><stop offset=".86" stop-color="#fffebe"/><stop offset=".903" stop-color="#dcdab8"/><stop offset=".956" stop-color="#a8a4b0"/><stop offset="1" stop-color="#8a84ae"/></linearGradient><linearGradient id="g147" gradientUnits="userSpaceOnUse" x1="0" y1="264.90" x2="0" y2="451.30"><stop offset="-0" stop-color="#5e4fa2"/><stop offset=".447" stop-color="#5e4fa2"/><stop offset=".47" stop-color="#6a4f98"/><stop offset=".5" stop-color="#a8306a"/><stop offset=".526" stop-color="#b81e48"/><stop offset=".579" stop-color="#d43d4f"/><stop offset=".623" stop-color="#f46d43"/><stop offset=".637" stop-color="#f88c51"/><stop offset=".642" stop-color="#fbfdb8"/><stop offset=".86" stop-color="#fffebe"/><stop offset=".903" stop-color="#dcdab8"/><stop offset=".956" stop-color="#a8a4b0"/><stop offset="1" stop-color="#8a84ae"/></linearGradient><linearGradient id="g148" gradientUnits="userSpaceOnUse" x1="0" y1="264.90" x2="0" y2="451.30"><stop offset="-0" stop-color="#5e4fa2"/><stop offset=".447" stop-color="#5e4fa2"/><stop offset=".47" stop-color="#6a4f98"/><stop offset=".5" stop-color="#a8306a"/><stop offset=".526" stop-color="#b81e48"/><stop offset=".579" stop-color="#d43d4f"/><stop offset=".623" stop-color="#f46d43"/><stop offset=".637" stop-color="#f88c51"/><stop offset=".642" stop-color="#f0f9b6"/><stop offset=".71" stop-color="#fffebe"/><stop offset=".86" stop-color="#fffebe"/><stop offset=".903" stop-color="#dcdab8"/><stop offset=".956" stop-color="#a8a4b0"/><stop offset="1" stop-color="#8a84ae"/></linearGradient><linearGradient id="g149" gradientUnits="userSpaceOnUse" x1="0" y1="264.90" x2="0" y2="451.30"><stop offset="-0" stop-color="#5e4fa2"/><stop offset=".447" stop-color="#5e4fa2"/><stop offset=".47" stop-color="#6a4f98"/><stop offset=".5" stop-color="#a8306a"/><stop offset=".526" stop-color="#b81e48"/><stop offset=".579" stop-color="#d43d4f"/><stop offset=".623" stop-color="#f46d43"/><stop offset=".637" stop-color="#f88c51"/><stop offset=".642" stop-color="#d2eda7"/><stop offset=".658" stop-color="#d2eda7"/><stop offset=".675" stop-color="#edf8a3"/><stop offset=".71" stop-color="#fffebe"/><stop offset=".86" stop-color="#fffebe"/><stop offset=".903" stop-color="#dcdab8"/><stop offset=".956" stop-color="#a8a4b0"/><stop offset="1" stop-color="#8a84ae"/></linearGradient><linearGradient id="g150" gradientUnits="userSpaceOnUse" x1="0" y1="264.90" x2="0" y2="451.30"><stop offset="-0" stop-color="#5e4fa2"/><stop offset=".447" stop-color="#5e4fa2"/><stop offset=".47" stop-color="#6a4f98"/><stop offset=".5" stop-color="#a8306a"/><stop offset=".526" stop-color="#b81e48"/><stop offset=".579" stop-color="#d43d4f"/><stop offset=".623" stop-color="#f46d43"/><stop offset=".637" stop-color="#f88c51"/><stop offset=".642" stop-color="#c1e6a0"/><stop offset=".658" stop-color="#c1e6a0"/><stop offset=".675" stop-color="#e6f59a"/><stop offset=".71" stop-color="#fffebe"/><stop offset=".86" stop-color="#fffebe"/><stop offset=".903" stop-color="#dcdab8"/><stop offset=".956" stop-color="#a8a4b0"/><stop offset="1" stop-color="#8a84ae"/></linearGradient><linearGradient id="g151" gradientUnits="userSpaceOnUse" x1="0" y1="264.90" x2="0" y2="451.30"><stop offset="-0" stop-color="#5e4fa2"/><stop offset=".447" stop-color="#5e4fa2"/><stop offset=".47" stop-color="#6a4f98"/><stop offset=".5" stop-color="#a8306a"/><stop offset=".526" stop-color="#b81e48"/><stop offset=".579" stop-color="#d43d4f"/><stop offset=".623" stop-color="#f46d43"/><stop offset=".637" stop-color="#f88c51"/><stop offset=".642" stop-color="#bce4a1"/><stop offset=".658" stop-color="#bce4a1"/><stop offset=".675" stop-color="#e3f49a"/><stop offset=".71" stop-color="#fffebe"/><stop offset=".86" stop-color="#fffebe"/><stop offset=".903" stop-color="#dcdab8"/><stop offset=".956" stop-color="#a8a4b0"/><stop offset="1" stop-color="#8a84ae"/></linearGradient><linearGradient id="g152" gradientUnits="userSpaceOnUse" x1="0" y1="264.90" x2="0" y2="451.30"><stop offset="-0" stop-color="#5e4fa2"/><stop offset=".447" stop-color="#5e4fa2"/><stop offset=".47" stop-color="#6a4f98"/><stop offset=".5" stop-color="#a8306a"/><stop offset=".526" stop-color="#b81e48"/><stop offset=".579" stop-color="#d43d4f"/><stop offset=".623" stop-color="#f46d43"/><stop offset=".637" stop-color="#f88c51"/><stop offset=".642" stop-color="#b6e2a2"/><stop offset=".658" stop-color="#b6e2a2"/><stop offset=".675" stop-color="#e1f39a"/><stop offset=".71" stop-color="#fffebe"/><stop offset=".86" stop-color="#fffebe"/><stop offset=".903" stop-color="#dcdab8"/><stop offset=".956" stop-color="#a8a4b0"/><stop offset="1" stop-color="#8a84ae"/></linearGradient><linearGradient id="g153" gradientUnits="userSpaceOnUse" x1="0" y1="264.90" x2="0" y2="451.30"><stop offset="-0" stop-color="#5e4fa2"/><stop offset=".447" stop-color="#5e4fa2"/><stop offset=".47" stop-color="#6a4f98"/><stop offset=".5" stop-color="#a8306a"/><stop offset=".526" stop-color="#b81e48"/><stop offset=".579" stop-color="#d43d4f"/><stop offset=".623" stop-color="#f46d43"/><stop offset=".637" stop-color="#f88c51"/><stop offset=".642" stop-color="#b1e0a3"/><stop offset=".658" stop-color="#b1e0a3"/><stop offset=".675" stop-color="#def29a"/><stop offset=".71" stop-color="#fffebe"/><stop offset=".86" stop-color="#fffebe"/><stop offset=".903" stop-color="#dcdab8"/><stop offset=".956" stop-color="#a8a4b0"/><stop offset="1" stop-color="#8a84ae"/></linearGradient><linearGradient id="g154" gradientUnits="userSpaceOnUse" x1="0" y1="264.90" x2="0" y2="451.30"><stop offset="-0" stop-color="#5e4fa2"/><stop offset=".447" stop-color="#5e4fa2"/><stop offset=".47" stop-color="#6a4f98"/><stop offset=".5" stop-color="#a8306a"/><stop offset=".526" stop-color="#b81e48"/><stop offset=".579" stop-color="#d43d4f"/><stop offset=".623" stop-color="#f46d43"/><stop offset=".637" stop-color="#f88c51"/><stop offset=".642" stop-color="#acdea4"/><stop offset=".658" stop-color="#acdea4"/><stop offset=".675" stop-color="#dcf19a"/><stop offset=".71" stop-color="#fffebe"/><stop offset=".86" stop-color="#fffebe"/><stop offset=".903" stop-color="#dcdab8"/><stop offset=".956" stop-color="#a8a4b0"/><stop offset="1" stop-color="#8a84ae"/></linearGradient><linearGradient id="g155" gradientUnits="userSpaceOnUse" x1="0" y1="264.90" x2="0" y2="451.30"><stop offset="-0" stop-color="#5e4fa2"/><stop offset=".447" stop-color="#5e4fa2"/><stop offset=".47" stop-color="#6a4f98"/><stop offset=".5" stop-color="#a8306a"/><stop offset=".526" stop-color="#b81e48"/><stop offset=".579" stop-color="#d43d4f"/><stop offset=".623" stop-color="#f46d43"/><stop offset=".637" stop-color="#f88c51"/><stop offset=".642" stop-color="#addea3"/><stop offset=".658" stop-color="#addea3"/><stop offset=".675" stop-color="#dcf19b"/><stop offset=".71" stop-color="#fffebe"/><stop offset=".86" stop-color="#fffebe"/><stop offset=".903" stop-color="#dcdab8"/><stop offset=".956" stop-color="#a8a4b0"/><stop offset="1" stop-color="#8a84ae"/></linearGradient><linearGradient id="g156" gradientUnits="userSpaceOnUse" x1="0" y1="264.90" x2="0" y2="451.30"><stop offset="-0" stop-color="#5e4fa2"/><stop offset=".447" stop-color="#5e4fa2"/><stop offset=".47" stop-color="#6a4f98"/><stop offset=".5" stop-color="#a8306a"/><stop offset=".526" stop-color="#b81e48"/><stop offset=".579" stop-color="#d43d4f"/><stop offset=".623" stop-color="#f46d43"/><stop offset=".637" stop-color="#f88c51"/><stop offset=".642" stop-color="#b5e1a2"/><stop offset=".658" stop-color="#b5e1a2"/><stop offset=".675" stop-color="#dff29b"/><stop offset=".71" stop-color="#fffebe"/><stop offset=".86" stop-color="#fffebe"/><stop offset=".903" stop-color="#dcdab8"/><stop offset=".956" stop-color="#a8a4b0"/><stop offset="1" stop-color="#8a84ae"/></linearGradient><linearGradient id="g157" gradientUnits="userSpaceOnUse" x1="0" y1="264.90" x2="0" y2="451.30"><stop offset="-0" stop-color="#5e4fa2"/><stop offset=".447" stop-color="#5e4fa2"/><stop offset=".47" stop-color="#6a4f98"/><stop offset=".5" stop-color="#a8306a"/><stop offset=".526" stop-color="#b81e48"/><stop offset=".579" stop-color="#d43d4f"/><stop offset=".623" stop-color="#f46d43"/><stop offset=".637" stop-color="#f88c51"/><stop offset=".642" stop-color="#bce4a0"/><stop offset=".658" stop-color="#bce4a0"/><stop offset=".675" stop-color="#e2f39c"/><stop offset=".71" stop-color="#fffebe"/><stop offset=".86" stop-color="#fffebe"/><stop offset=".903" stop-color="#dcdab8"/><stop offset=".956" stop-color="#a8a4b0"/><stop offset="1" stop-color="#8a84ae"/></linearGradient><linearGradient id="g158" gradientUnits="userSpaceOnUse" x1="0" y1="264.90" x2="0" y2="451.30"><stop offset="-0" stop-color="#5e4fa2"/><stop offset=".447" stop-color="#5e4fa2"/><stop offset=".47" stop-color="#6a4f98"/><stop offset=".5" stop-color="#a8306a"/><stop offset=".526" stop-color="#b81e48"/><stop offset=".579" stop-color="#d43d4f"/><stop offset=".623" stop-color="#f46d43"/><stop offset=".637" stop-color="#f88c51"/><stop offset=".642" stop-color="#c4e79f"/><stop offset=".658" stop-color="#c4e79f"/><stop offset=".675" stop-color="#e5f59d"/><stop offset=".71" stop-color="#fffebe"/><stop offset=".86" stop-color="#fffebe"/><stop offset=".903" stop-color="#dcdab8"/><stop offset=".956" stop-color="#a8a4b0"/><stop offset="1" stop-color="#8a84ae"/></linearGradient><linearGradient id="g159" gradientUnits="userSpaceOnUse" x1="0" y1="264.90" x2="0" y2="451.30"><stop offset="-0" stop-color="#5e4fa2"/><stop offset=".447" stop-color="#5e4fa2"/><stop offset=".47" stop-color="#6a4f98"/><stop offset=".5" stop-color="#a8306a"/><stop offset=".526" stop-color="#b81e48"/><stop offset=".579" stop-color="#d43d4f"/><stop offset=".623" stop-color="#f46d43"/><stop offset=".637" stop-color="#f88c51"/><stop offset=".642" stop-color="#cbea9d"/><stop offset=".658" stop-color="#cbea9d"/><stop offset=".675" stop-color="#e8f69e"/><stop offset=".71" stop-color="#fffebe"/><stop offset=".86" stop-color="#fffebe"/><stop offset=".903" stop-color="#dcdab8"/><stop offset=".956" stop-color="#a8a4b0"/><stop offset="1" stop-color="#8a84ae"/></linearGradient><linearGradient id="g160" gradientUnits="userSpaceOnUse" x1="0" y1="264.90" x2="0" y2="451.30"><stop offset="-0" stop-color="#5e4fa2"/><stop offset=".447" stop-color="#5e4fa2"/><stop offset=".47" stop-color="#6a4f98"/><stop offset=".5" stop-color="#a8306a"/><stop offset=".526" stop-color="#b81e48"/><stop offset=".579" stop-color="#d43d4f"/><stop offset=".623" stop-color="#f46d43"/><stop offset=".637" stop-color="#f88c51"/><stop offset=".642" stop-color="#dbf0a5"/><stop offset=".658" stop-color="#dbf0a5"/><stop offset=".675" stop-color="#eff9a6"/><stop offset=".71" stop-color="#fffebe"/><stop offset=".86" stop-color="#fffebe"/><stop offset=".903" stop-color="#dcdab8"/><stop offset=".956" stop-color="#a8a4b0"/><stop offset="1" stop-color="#8a84ae"/></linearGradient><linearGradient id="g161" gradientUnits="userSpaceOnUse" x1="0" y1="264.90" x2="0" y2="451.30"><stop offset="-0" stop-color="#5e4fa2"/><stop offset=".447" stop-color="#5e4fa2"/><stop offset=".47" stop-color="#6a4f98"/><stop offset=".5" stop-color="#a8306a"/><stop offset=".526" stop-color="#b81e48"/><stop offset=".579" stop-color="#d43d4f"/><stop offset=".623" stop-color="#f46d43"/><stop offset=".637" stop-color="#f88c51"/><stop offset=".642" stop-color="#f3fab6"/><stop offset=".71" stop-color="#fffebe"/><stop offset=".86" stop-color="#fffebe"/><stop offset=".903" stop-color="#dcdab8"/><stop offset=".956" stop-color="#a8a4b0"/><stop offset="1" stop-color="#8a84ae"/></linearGradient><linearGradient id="g162" gradientUnits="userSpaceOnUse" x1="0" y1="264.90" x2="0" y2="451.30"><stop offset="-0" stop-color="#5e4fa2"/><stop offset=".447" stop-color="#5e4fa2"/><stop offset=".47" stop-color="#6a4f98"/><stop offset=".5" stop-color="#a3326c"/><stop offset=".526" stop-color="#b4214d"/><stop offset=".579" stop-color="#ce3f53"/><stop offset=".623" stop-color="#f46d43"/><stop offset=".637" stop-color="#f88c51"/><stop offset=".642" stop-color="#fffebe"/><stop offset=".86" stop-color="#fffebe"/><stop offset=".903" stop-color="#dcdab8"/><stop offset=".956" stop-color="#a8a4b0"/><stop offset="1" stop-color="#8a84ae"/></linearGradient><linearGradient id="g163" gradientUnits="userSpaceOnUse" x1="0" y1="264.90" x2="0" y2="451.30"><stop offset="-0" stop-color="#5e4fa2"/><stop offset=".447" stop-color="#5e4fa2"/><stop offset=".47" stop-color="#6a4f98"/><stop offset=".5" stop-color="#993571"/><stop offset=".526" stop-color="#ac2758"/><stop offset=".579" stop-color="#c2435c"/><stop offset=".623" stop-color="#f46d43"/><stop offset=".637" stop-color="#f88c51"/><stop offset=".642" stop-color="#fffebe"/><stop offset=".86" stop-color="#fffebe"/><stop offset=".903" stop-color="#dcdab8"/><stop offset=".956" stop-color="#a8a4b0"/><stop offset="1" stop-color="#8a84ae"/></linearGradient><linearGradient id="g164" gradientUnits="userSpaceOnUse" x1="0" y1="264.90" x2="0" y2="451.30"><stop offset="-0" stop-color="#5e4fa2"/><stop offset=".447" stop-color="#5e4fa2"/><stop offset=".47" stop-color="#6a4f98"/><stop offset=".5" stop-color="#8f3876"/><stop offset=".526" stop-color="#a42d63"/><stop offset=".579" stop-color="#b64865"/><stop offset=".623" stop-color="#f46d43"/><stop offset=".637" stop-color="#f88c51"/><stop offset=".642" stop-color="#fffebe"/><stop offset=".86" stop-color="#fffebe"/><stop offset=".903" stop-color="#dcdab8"/><stop offset=".956" stop-color="#a8a4b0"/><stop offset="1" stop-color="#8a84ae"/></linearGradient><linearGradient id="g165" gradientUnits="userSpaceOnUse" x1="0" y1="264.90" x2="0" y2="451.30"><stop offset="-0" stop-color="#5e4fa2"/><stop offset=".447" stop-color="#5e4fa2"/><stop offset=".47" stop-color="#6a4f98"/><stop offset=".5" stop-color="#8a3a78"/><stop offset=".526" stop-color="#a03068"/><stop offset=".579" stop-color="#b04a6a"/><stop offset=".623" stop-color="#f46d43"/><stop offset=".637" stop-color="#f88c51"/><stop offset=".642" stop-color="#fffebe"/><stop offset=".86" stop-color="#fffebe"/><stop offset=".903" stop-color="#dcdab8"/><stop offset=".956" stop-color="#a8a4b0"/><stop offset="1" stop-color="#8a84ae"/></linearGradient></defs><rect x="1224.00" y="264.90" width="12.90" height="186.40" fill="url(#g122)"/><rect x="1236.30" y="264.90" width="12.90" height="186.40" fill="url(#g123)"/><rect x="1248.60" y="264.90" width="12.90" height="186.40" fill="url(#g124)"/><rect x="1260.90" y="264.90" width="10.59" height="186.40" fill="url(#g125)"/><rect x="1270.90" y="264.90" width="10.59" height="186.40" fill="url(#g126)"/><rect x="1280.89" y="264.90" width="10.59" height="186.40" fill="url(#g127)"/><rect x="1290.89" y="264.90" width="10.59" height="186.40" fill="url(#g128)"/><rect x="1300.88" y="264.90" width="9.83" height="186.40" fill="url(#g129)"/><rect x="1310.11" y="264.90" width="9.83" height="186.40" fill="url(#g130)"/><rect x="1319.33" y="264.90" width="11.36" height="186.40" fill="url(#g131)"/><rect x="1330.09" y="264.90" width="6.44" height="186.40" fill="url(#g132)"/><rect x="1335.94" y="264.90" width="2.45" height="186.40" fill="url(#g133)"/><rect x="1337.78" y="264.90" width="8.29" height="186.40" fill="url(#g134)"/><rect x="1345.47" y="264.90" width="5.21" height="186.40" fill="url(#g135)"/><rect x="1350.08" y="264.90" width="9.83" height="186.40" fill="url(#g136)"/><rect x="1359.31" y="264.90" width="9.83" height="186.40" fill="url(#g137)"/><rect x="1368.53" y="264.90" width="8.29" height="186.40" fill="url(#g138)"/><rect x="1376.22" y="264.90" width="8.29" height="186.40" fill="url(#g139)"/><rect x="1383.91" y="264.90" width="12.90" height="186.40" fill="url(#g140)"/><rect x="1396.21" y="264.90" width="12.29" height="186.40" fill="url(#g141)"/><rect x="1407.90" y="264.90" width="12.29" height="186.40" fill="url(#g142)"/><rect x="1419.58" y="264.90" width="12.29" height="186.40" fill="url(#g143)"/><rect x="1431.27" y="264.90" width="12.29" height="186.40" fill="url(#g144)"/><rect x="1442.95" y="264.90" width="12.29" height="186.40" fill="url(#g145)"/><rect x="1454.64" y="264.90" width="15.98" height="186.40" fill="url(#g146)"/><rect x="1470.02" y="264.90" width="15.98" height="186.40" fill="url(#g147)"/><rect x="1485.39" y="264.90" width="15.98" height="186.40" fill="url(#g148)"/><rect x="1500.77" y="264.90" width="15.98" height="186.40" fill="url(#g149)"/><rect x="1516.14" y="264.90" width="22.13" height="186.40" fill="url(#g150)"/><rect x="1537.67" y="264.90" width="22.13" height="186.40" fill="url(#g151)"/><rect x="1559.20" y="264.90" width="22.13" height="186.40" fill="url(#g152)"/><rect x="1580.72" y="264.90" width="22.13" height="186.40" fill="url(#g153)"/><rect x="1602.25" y="264.90" width="22.13" height="186.40" fill="url(#g154)"/><rect x="1623.78" y="264.90" width="22.13" height="186.40" fill="url(#g155)"/><rect x="1645.30" y="264.90" width="22.13" height="186.40" fill="url(#g156)"/><rect x="1666.83" y="264.90" width="22.13" height="186.40" fill="url(#g157)"/><rect x="1688.36" y="264.90" width="22.13" height="186.40" fill="url(#g158)"/><rect x="1709.88" y="264.90" width="22.13" height="186.40" fill="url(#g159)"/><rect x="1731.41" y="264.90" width="23.66" height="186.40" fill="url(#g160)"/><rect x="1754.47" y="264.90" width="23.66" height="186.40" fill="url(#g161)"/><rect x="1777.54" y="264.90" width="21.10" height="186.40" fill="url(#g162)"/><rect x="1798.04" y="264.90" width="21.10" height="186.40" fill="url(#g163)"/><rect x="1818.54" y="264.90" width="21.10" height="186.40" fill="url(#g164)"/><rect x="1839.04" y="264.90" width="153.76" height="186.40" fill="url(#g165)"/></g><path d="M 1224 451.3 
L 1224 264.9 
" class="s1"/><use xlink:href="#k0" x="1224" y="451.3" class="s2"/><path d="M 1377.8 451.3 
L 1377.8 264.9 
" class="s1"/><use xlink:href="#k0" x="1377.76" y="451.3" class="s2"/><path d="M 1531.5 451.3 
L 1531.5 264.9 
" class="s1"/><use xlink:href="#k0" x="1531.52" y="451.3" class="s2"/><path d="M 1685.3 451.3 
L 1685.3 264.9 
" class="s1"/><use xlink:href="#k0" x="1685.28" y="451.3" class="s2"/><path d="M 1839 451.3 
L 1839 264.9 
" class="s1"/><use xlink:href="#k0" x="1839.04" y="451.3" class="s2"/><path d="M 1992.8 451.3 
L 1992.8 264.9 
" class="s1"/><use xlink:href="#k0" x="1992.8" y="451.3" class="s2"/><path d="M 1254.8 451.3 
L 1254.8 264.9 
" class="s1"/><use xlink:href="#k1" x="1254.752" y="451.3" class="s0"/><path d="M 1285.5 451.3 
L 1285.5 264.9 
" class="s1"/><use xlink:href="#k1" x="1285.504" y="451.3" class="s0"/><path d="M 1316.3 451.3 
L 1316.3 264.9 
" class="s1"/><use xlink:href="#k1" x="1316.256" y="451.3" class="s0"/><path d="M 1347 451.3 
L 1347 264.9 
" class="s1"/><use xlink:href="#k1" x="1347.008" y="451.3" class="s0"/><path d="M 1408.5 451.3 
L 1408.5 264.9 
" class="s1"/><use xlink:href="#k1" x="1408.512" y="451.3" class="s0"/><path d="M 1439.3 451.3 
L 1439.3 264.9 
" class="s1"/><use xlink:href="#k1" x="1439.264" y="451.3" class="s0"/><path d="M 1470 451.3 
L 1470 264.9 
" class="s1"/><use xlink:href="#k1" x="1470.016" y="451.3" class="s0"/><path d="M 1500.8 451.3 
L 1500.8 264.9 
" class="s1"/><use xlink:href="#k1" x="1500.768" y="451.3" class="s0"/><path d="M 1562.3 451.3 
L 1562.3 264.9 
" class="s1"/><use xlink:href="#k1" x="1562.272" y="451.3" class="s0"/><path d="M 1593 451.3 
L 1593 264.9 
" class="s1"/><use xlink:href="#k1" x="1593.024" y="451.3" class="s0"/><path d="M 1623.8 451.3 
L 1623.8 264.9 
" class="s1"/><use xlink:href="#k1" x="1623.776" y="451.3" class="s0"/><path d="M 1654.5 451.3 
L 1654.5 264.9 
" class="s1"/><use xlink:href="#k1" x="1654.528" y="451.3" class="s0"/><path d="M 1716 451.3 
L 1716 264.9 
" class="s1"/><use xlink:href="#k1" x="1716.032" y="451.3" class="s0"/><path d="M 1746.8 451.3 
L 1746.8 264.9 
" class="s1"/><use xlink:href="#k1" x="1746.784" y="451.3" class="s0"/><path d="M 1777.5 451.3 
L 1777.5 264.9 
" class="s1"/><use xlink:href="#k1" x="1777.536" y="451.3" class="s0"/><path d="M 1808.3 451.3 
L 1808.3 264.9 
" class="s1"/><use xlink:href="#k1" x="1808.288" y="451.3" class="s0"/><path d="M 1869.8 451.3 
L 1869.8 264.9 
" class="s1"/><use xlink:href="#k1" x="1869.792" y="451.3" class="s0"/><path d="M 1900.5 451.3 
L 1900.5 264.9 
" class="s1"/><use xlink:href="#k1" x="1900.544" y="451.3" class="s0"/><path d="M 1931.3 451.3 
L 1931.3 264.9 
" class="s1"/><use xlink:href="#k1" x="1931.296" y="451.3" class="s0"/><path d="M 1962 451.3 
L 1962 264.9 
" class="s1"/><use xlink:href="#k1" x="1962.048" y="451.3" class="s0"/><path d="M 1224 451.3 
L 1992.8 451.3 
" class="s1"/><use xlink:href="#k2" x="1224" y="451.3" class="s2"/><g transform="translate(1160.855 460.68407)"><text><tspan x="0" y="-0.676563" class="s4">1</tspan><tspan x="15.746704" y="-0.676563" class="s4">0</tspan><tspan x="31.732666" y="-10.246875" class="s5">−</tspan><tspan x="46.249121" y="-10.246875" class="s5">4</tspan></text></g><path d="M 1224 418.6 
L 1992.8 418.6 
" class="s1"/><use xlink:href="#k2" x="1224" y="418.592335" class="s2"/><g transform="translate(1160.855 427.976406)"><text><tspan x="0" y="-0.435938" class="s4">1</tspan><tspan x="15.746704" y="-0.435938" class="s4">0</tspan><tspan x="31.732666" y="-10.00625" class="s5">−</tspan><tspan x="46.249121" y="-10.00625" class="s5">3</tspan></text></g><path d="M 1224 385.9 
L 1992.8 385.9 
" class="s1"/><use xlink:href="#k2" x="1224" y="385.884671" class="s2"/><g transform="translate(1160.855 395.268741)"><text><tspan x="0" y="-0.435938" class="s4">1</tspan><tspan x="15.746704" y="-0.435938" class="s4">0</tspan><tspan x="31.732666" y="-10.00625" class="s5">−</tspan><tspan x="46.249121" y="-10.00625" class="s5">2</tspan></text></g><path d="M 1224 353.2 
L 1992.8 353.2 
" class="s1"/><use xlink:href="#k2" x="1224" y="353.177006" class="s2"/><g transform="translate(1160.855 362.561076)"><text><tspan x="0" y="-0.676563" class="s4">1</tspan><tspan x="15.746704" y="-0.676563" class="s4">0</tspan><tspan x="31.732666" y="-10.246875" class="s5">−</tspan><tspan x="46.249121" y="-10.246875" class="s5">1</tspan></text></g><path d="M 1224 320.5 
L 1992.8 320.5 
" class="s1"/><use xlink:href="#k2" x="1224" y="320.469341" class="s2"/><g transform="translate(1175.428 329.853412)"><text><tspan x="0" y="-0.435938" class="s4">1</tspan><tspan x="15.746704" y="-0.435938" class="s4">0</tspan><tspan x="31.732666" y="-10.00625" class="s5">0</tspan></text></g><path d="M 1224 287.8 
L 1992.8 287.8 
" class="s1"/><use xlink:href="#k2" x="1224" y="287.761677" class="s2"/><g transform="translate(1175.428 297.145747)"><text><tspan x="0" y="-0.676563" class="s4">1</tspan><tspan x="15.746704" y="-0.676563" class="s4">0</tspan><tspan x="31.732666" y="-10.246875" class="s5">1</tspan></text></g><path d="M 1224 441.5 
L 1992.8 441.5 
" class="s1"/><use xlink:href="#k4" x="1224" y="441.454012" class="s0"/><path d="M 1224 435.7 
L 1992.8 435.7 
" class="s1"/><use xlink:href="#k4" x="1224" y="435.694478" class="s0"/><path d="M 1224 431.6 
L 1992.8 431.6 
" class="s1"/><use xlink:href="#k4" x="1224" y="431.608024" class="s0"/><path d="M 1224 428.4 
L 1992.8 428.4 
" class="s1"/><use xlink:href="#k4" x="1224" y="428.438323" class="s0"/><path d="M 1224 425.8 
L 1992.8 425.8 
" class="s1"/><use xlink:href="#k4" x="1224" y="425.84849" class="s0"/><path d="M 1224 423.7 
L 1992.8 423.7 
" class="s1"/><use xlink:href="#k4" x="1224" y="423.658817" class="s0"/><path d="M 1224 421.8 
L 1992.8 421.8 
" class="s1"/><use xlink:href="#k4" x="1224" y="421.762036" class="s0"/><path d="M 1224 420.1 
L 1992.8 420.1 
" class="s1"/><use xlink:href="#k4" x="1224" y="420.088956" class="s0"/><path d="M 1224 408.7 
L 1992.8 408.7 
" class="s1"/><use xlink:href="#k4" x="1224" y="408.746347" class="s0"/><path d="M 1224 403 
L 1992.8 403 
" class="s1"/><use xlink:href="#k4" x="1224" y="402.986813" class="s0"/><path d="M 1224 398.9 
L 1992.8 398.9 
" class="s1"/><use xlink:href="#k4" x="1224" y="398.900359" class="s0"/><path d="M 1224 395.7 
L 1992.8 395.7 
" class="s1"/><use xlink:href="#k4" x="1224" y="395.730659" class="s0"/><path d="M 1224 393.1 
L 1992.8 393.1 
" class="s1"/><use xlink:href="#k4" x="1224" y="393.140825" class="s0"/><path d="M 1224 391 
L 1992.8 391 
" class="s1"/><use xlink:href="#k4" x="1224" y="390.951152" class="s0"/><path d="M 1224 389.1 
L 1992.8 389.1 
" class="s1"/><use xlink:href="#k4" x="1224" y="389.054371" class="s0"/><path d="M 1224 387.4 
L 1992.8 387.4 
" class="s1"/><use xlink:href="#k4" x="1224" y="387.381291" class="s0"/><path d="M 1224 376 
L 1992.8 376 
" class="s1"/><use xlink:href="#k4" x="1224" y="376.038682" class="s0"/><path d="M 1224 370.3 
L 1992.8 370.3 
" class="s1"/><use xlink:href="#k4" x="1224" y="370.279149" class="s0"/><path d="M 1224 366.2 
L 1992.8 366.2 
" class="s1"/><use xlink:href="#k4" x="1224" y="366.192694" class="s0"/><path d="M 1224 363 
L 1992.8 363 
" class="s1"/><use xlink:href="#k4" x="1224" y="363.022994" class="s0"/><path d="M 1224 360.4 
L 1992.8 360.4 
" class="s1"/><use xlink:href="#k4" x="1224" y="360.43316" class="s0"/><path d="M 1224 358.2 
L 1992.8 358.2 
" class="s1"/><use xlink:href="#k4" x="1224" y="358.243487" class="s0"/><path d="M 1224 356.3 
L 1992.8 356.3 
" class="s1"/><use xlink:href="#k4" x="1224" y="356.346706" class="s0"/><path d="M 1224 354.7 
L 1992.8 354.7 
" class="s1"/><use xlink:href="#k4" x="1224" y="354.673627" class="s0"/><path d="M 1224 343.3 
L 1992.8 343.3 
" class="s1"/><use xlink:href="#k4" x="1224" y="343.331018" class="s0"/><path d="M 1224 337.6 
L 1992.8 337.6 
" class="s1"/><use xlink:href="#k4" x="1224" y="337.571484" class="s0"/><path d="M 1224 333.5 
L 1992.8 333.5 
" class="s1"/><use xlink:href="#k4" x="1224" y="333.48503" class="s0"/><path d="M 1224 330.3 
L 1992.8 330.3 
" class="s1"/><use xlink:href="#k4" x="1224" y="330.315329" class="s0"/><path d="M 1224 327.7 
L 1992.8 327.7 
" class="s1"/><use xlink:href="#k4" x="1224" y="327.725496" class="s0"/><path d="M 1224 325.5 
L 1992.8 325.5 
" class="s1"/><use xlink:href="#k4" x="1224" y="325.535823" class="s0"/><path d="M 1224 323.6 
L 1992.8 323.6 
" class="s1"/><use xlink:href="#k4" x="1224" y="323.639041" class="s0"/><path d="M 1224 322 
L 1992.8 322 
" class="s1"/><use xlink:href="#k4" x="1224" y="321.965962" class="s0"/><path d="M 1224 310.6 
L 1992.8 310.6 
" class="s1"/><use xlink:href="#k4" x="1224" y="310.623353" class="s0"/><path d="M 1224 304.9 
L 1992.8 304.9 
" class="s1"/><use xlink:href="#k4" x="1224" y="304.863819" class="s0"/><path d="M 1224 300.8 
L 1992.8 300.8 
" class="s1"/><use xlink:href="#k4" x="1224" y="300.777365" class="s0"/><path d="M 1224 297.6 
L 1992.8 297.6 
" class="s1"/><use xlink:href="#k4" x="1224" y="297.607665" class="s0"/><path d="M 1224 295 
L 1992.8 295 
" class="s1"/><use xlink:href="#k4" x="1224" y="295.017831" class="s0"/><path d="M 1224 292.8 
L 1992.8 292.8 
" class="s1"/><use xlink:href="#k4" x="1224" y="292.828158" class="s0"/><path d="M 1224 290.9 
L 1992.8 290.9 
" class="s1"/><use xlink:href="#k4" x="1224" y="290.931377" class="s0"/><path d="M 1224 289.3 
L 1992.8 289.3 
" class="s1"/><use xlink:href="#k4" x="1224" y="289.258297" class="s0"/><path d="M 1224 277.9 
L 1992.8 277.9 
" class="s1"/><use xlink:href="#k4" x="1224" y="277.915688" class="s0"/><path d="M 1224 272.2 
L 1992.8 272.2 
" class="s1"/><use xlink:href="#k4" x="1224" y="272.156155" class="s0"/><path d="M 1224 268.1 
L 1992.8 268.1 
" class="s1"/><use xlink:href="#k4" x="1224" y="268.0697" class="s0"/><path d="M 1224 264.9 
L 1992.8 264.9 
" class="s1"/><use xlink:href="#k4" x="1224" y="264.9" class="s0"/><g transform="translate(1143.68 429.7625) rotate(-90)"><text><tspan x="0" y="-0.921875" class="s7">p</tspan><tspan x="48.208252" y="-0.921875" class="s7">m</tspan><tspan x="87.09021" y="-0.921875" class="s7">v</tspan><tspan x="20.629883" y="4.492188" class="s8">e</tspan><tspan x="79.867188" y="4.492188" class="s8">i</tspan><tspan x="106.323608" y="4.492188" class="s8">p</tspan><tspan x="120.764526" y="4.492188" class="s8">t</tspan><tspan x="35.528809" y="-0.921875" class="s9">[</tspan><tspan x="130.586914" y="-0.921875" class="s9">]</tspan></text></g><path d="M 1224 451.3 
L 1224 264.9 
" class="s6"/><path d="M 1992.8 451.3 
L 1992.8 264.9 
" class="s6"/><path d="M 1224 451.3 
L 1992.8 451.3 
" class="s6"/><path d="M 1224 264.9 
L 1992.8 264.9 
" class="s6"/><path d="M 1922.5 309.6 
L 1990.2 309.6 
L 1990.2 272.8 
L 1922.5 272.8 
z
" clip-path="url(#k11)" class="s14"/><text class="s15" x="1956.4" y="299.321062">(e2)</text><path d="M 1224 702.9 
L 1992.8 702.9 
L 1992.8 516.5 
L 1224 516.5 
z
" class="s11"/><g id="HEAT_f1"><defs><linearGradient id="g166" gradientUnits="userSpaceOnUse" x1="0" y1="516.50" x2="0" y2="702.90"><stop offset="-0" stop-color="#f7f6f6"/><stop offset=".095" stop-color="#f7f6f6"/><stop offset=".105" stop-color="#fbd0b9"/><stop offset=".123" stop-color="#e27b62"/><stop offset=".149" stop-color="#b1182b"/><stop offset=".167" stop-color="#67001f"/><stop offset=".36" stop-color="#7c0722"/><stop offset=".377" stop-color="#bf3338"/><stop offset=".403" stop-color="#ee9677"/><stop offset=".438" stop-color="#fce0d0"/><stop offset=".465" stop-color="#f7f6f6"/><stop offset="1" stop-color="#f7f6f6"/></linearGradient><linearGradient id="g167" gradientUnits="userSpaceOnUse" x1="0" y1="516.50" x2="0" y2="702.90"><stop offset="-0" stop-color="#f7f6f6"/><stop offset=".095" stop-color="#f7f6f6"/><stop offset=".105" stop-color="#f9e3d8"/><stop offset=".123" stop-color="#dc6e57"/><stop offset=".149" stop-color="#bc2e35"/><stop offset=".158" stop-color="#a82430"/><stop offset=".167" stop-color="#9a2b39"/><stop offset=".21" stop-color="#b46e73"/><stop offset=".298" stop-color="#b45451"/><stop offset=".36" stop-color="#8a1229"/><stop offset=".368" stop-color="#941429"/><stop offset=".377" stop-color="#ab2632"/><stop offset=".403" stop-color="#d56d5b"/><stop offset=".421" stop-color="#e58e78"/><stop offset=".438" stop-color="#ebb8aa"/><stop offset=".465" stop-color="#ede6e7"/><stop offset=".474" stop-color="#eef2f5"/><stop offset=".526" stop-color="#f7f6f6"/><stop offset="1" stop-color="#f7f6f6"/></linearGradient><linearGradient id="g168" gradientUnits="userSpaceOnUse" x1="0" y1="516.50" x2="0" y2="702.90"><stop offset="-0" stop-color="#f7f6f6"/><stop offset=".105" stop-color="#f7f6f6"/><stop offset=".123" stop-color="#d6604d"/><stop offset=".158" stop-color="#c43b3c"/><stop offset=".219" stop-color="#fcd6c0"/><stop offset=".289" stop-color="#f8bfa4"/><stop offset=".351" stop-color="#9d1128"/><stop offset=".412" stop-color="#b03639"/><stop offset=".491" stop-color="#d49598"/><stop offset=".535" stop-color="#f7f6f6"/><stop offset="1" stop-color="#f7f6f6"/></linearGradient><linearGradient id="g169" gradientUnits="userSpaceOnUse" x1="0" y1="516.50" x2="0" y2="702.90"><stop offset="-0" stop-color="#f7f6f6"/><stop offset=".105" stop-color="#f7f6f6"/><stop offset=".123" stop-color="#d6604d"/><stop offset=".158" stop-color="#c43b3c"/><stop offset=".228" stop-color="#fbd0b9"/><stop offset=".281" stop-color="#fddac5"/><stop offset=".298" stop-color="#f0baad"/><stop offset=".333" stop-color="#d58289"/><stop offset=".351" stop-color="#cf8590"/><stop offset=".386" stop-color="#c45954"/><stop offset=".403" stop-color="#ad3e43"/><stop offset=".438" stop-color="#941328"/><stop offset=".509" stop-color="#b62c34"/><stop offset=".544" stop-color="#d88e94"/><stop offset=".561" stop-color="#f7f6f6"/><stop offset="1" stop-color="#f7f6f6"/></linearGradient><linearGradient id="g170" gradientUnits="userSpaceOnUse" x1="0" y1="516.50" x2="0" y2="702.90"><stop offset="-0" stop-color="#f7f6f6"/><stop offset=".105" stop-color="#f7f6f6"/><stop offset=".123" stop-color="#d6604d"/><stop offset=".158" stop-color="#c43b3c"/><stop offset=".237" stop-color="#f9c6ac"/><stop offset=".307" stop-color="#fcd6c0"/><stop offset=".36" stop-color="#f7f6f6"/><stop offset=".395" stop-color="#e2c4b8"/><stop offset=".447" stop-color="#5e446e"/><stop offset=".544" stop-color="#a47487"/><stop offset=".561" stop-color="#f7f6f6"/><stop offset="1" stop-color="#f7f6f6"/></linearGradient><linearGradient id="g171" gradientUnits="userSpaceOnUse" x1="0" y1="516.50" x2="0" y2="702.90"><stop offset="-0" stop-color="#f7f6f6"/><stop offset=".105" stop-color="#f7f6f6"/><stop offset=".123" stop-color="#e48f7c"/><stop offset=".135" stop-color="#de745f"/><stop offset=".158" stop-color="#d25b50"/><stop offset=".216" stop-color="#d3615a"/><stop offset=".245" stop-color="#d67168"/><stop offset=".294" stop-color="#ce6e6d"/><stop offset=".306" stop-color="#b1676a"/><stop offset=".313" stop-color="#f9e3d7"/><stop offset=".368" stop-color="#f7f6f6"/><stop offset=".396" stop-color="#e8f0f4"/><stop offset=".403" stop-color="#e3e3e5"/><stop offset=".429" stop-color="#b9a6a7"/><stop offset=".456" stop-color="#735b7c"/><stop offset=".468" stop-color="#6c4b72"/><stop offset=".528" stop-color="#8c637f"/><stop offset=".544" stop-color="#a68896"/><stop offset=".561" stop-color="#ecc2b8"/><stop offset=".572" stop-color="#f7d5c5"/><stop offset=".604" stop-color="#f7f6f6"/><stop offset="1" stop-color="#f7f6f6"/></linearGradient><linearGradient id="g172" gradientUnits="userSpaceOnUse" x1="0" y1="516.50" x2="0" y2="702.90"><stop offset="-0" stop-color="#f7f6f6"/><stop offset=".105" stop-color="#f7f6f6"/><stop offset=".135" stop-color="#ee9677"/><stop offset=".214" stop-color="#bf3338"/><stop offset=".291" stop-color="#a21328"/><stop offset=".303" stop-color="#67001f"/><stop offset=".31" stop-color="#f7f6f6"/><stop offset=".399" stop-color="#f7f6f6"/><stop offset=".431" stop-color="#ef9a79"/><stop offset=".469" stop-color="#9a1027"/><stop offset=".526" stop-color="#9a1027"/><stop offset=".569" stop-color="#f6b394"/><stop offset=".601" stop-color="#f7f6f6"/><stop offset="1" stop-color="#f7f6f6"/></linearGradient><linearGradient id="g173" gradientUnits="userSpaceOnUse" x1="0" y1="516.50" x2="0" y2="702.90"><stop offset="-0" stop-color="#f7f6f6"/><stop offset=".105" stop-color="#f7f6f6"/><stop offset=".134" stop-color="#ee9677"/><stop offset=".211" stop-color="#bf3338"/><stop offset=".286" stop-color="#a21328"/><stop offset=".298" stop-color="#67001f"/><stop offset=".305" stop-color="#f7f6f6"/><stop offset=".406" stop-color="#f7f6f6"/><stop offset=".436" stop-color="#f09c7b"/><stop offset=".471" stop-color="#9d1128"/><stop offset=".524" stop-color="#9d1128"/><stop offset=".564" stop-color="#f6b495"/><stop offset=".593" stop-color="#f7f6f6"/><stop offset="1" stop-color="#f7f6f6"/></linearGradient><linearGradient id="g174" gradientUnits="userSpaceOnUse" x1="0" y1="516.50" x2="0" y2="702.90"><stop offset="-0" stop-color="#f7f6f6"/><stop offset=".105" stop-color="#f7f6f6"/><stop offset=".133" stop-color="#ee9677"/><stop offset=".208" stop-color="#bf3338"/><stop offset=".281" stop-color="#a21328"/><stop offset=".292" stop-color="#67001f"/><stop offset=".299" stop-color="#f7f6f6"/><stop offset=".412" stop-color="#f7f6f6"/><stop offset=".44" stop-color="#f19d7c"/><stop offset=".473" stop-color="#a01228"/><stop offset=".522" stop-color="#a01228"/><stop offset=".559" stop-color="#f7b596"/><stop offset=".586" stop-color="#f7f6f6"/><stop offset="1" stop-color="#f7f6f6"/></linearGradient><linearGradient id="g175" gradientUnits="userSpaceOnUse" x1="0" y1="516.50" x2="0" y2="702.90"><stop offset="-0" stop-color="#f7f6f6"/><stop offset=".105" stop-color="#f7f6f6"/><stop offset=".133" stop-color="#ee9677"/><stop offset=".206" stop-color="#bf3338"/><stop offset=".277" stop-color="#a21328"/><stop offset=".288" stop-color="#67001f"/><stop offset=".295" stop-color="#f7f6f6"/><stop offset=".416" stop-color="#f7f6f6"/><stop offset=".442" stop-color="#f7bea4"/><stop offset=".474" stop-color="#cc615b"/><stop offset=".521" stop-color="#cc615b"/><stop offset=".556" stop-color="#f9ccb5"/><stop offset=".582" stop-color="#f7f6f6"/><stop offset="1" stop-color="#f7f6f6"/></linearGradient><linearGradient id="g176" gradientUnits="userSpaceOnUse" x1="0" y1="516.50" x2="0" y2="702.90"><stop offset="-0" stop-color="#f7f6f6"/><stop offset=".105" stop-color="#f7f6f6"/><stop offset=".132" stop-color="#ee9677"/><stop offset=".204" stop-color="#bf3338"/><stop offset=".274" stop-color="#a21328"/><stop offset=".284" stop-color="#67001f"/><stop offset=".291" stop-color="#f7f6f6"/><stop offset=".416" stop-color="#f7f6f6"/><stop offset=".474" stop-color="#f9c5ab"/><stop offset=".521" stop-color="#f9c5ab"/><stop offset=".556" stop-color="#fae7dc"/><stop offset=".582" stop-color="#f7f6f6"/><stop offset="1" stop-color="#f7f6f6"/></linearGradient><linearGradient id="g177" gradientUnits="userSpaceOnUse" x1="0" y1="516.50" x2="0" y2="702.90"><stop offset="-0" stop-color="#f7f6f6"/><stop offset=".106" stop-color="#f7f6f6"/><stop offset=".131" stop-color="#ee9677"/><stop offset=".201" stop-color="#bf3338"/><stop offset=".268" stop-color="#a21328"/><stop offset=".278" stop-color="#67001f"/><stop offset=".285" stop-color="#f7f6f6"/><stop offset=".416" stop-color="#f7f6f6"/><stop offset=".474" stop-color="#facbb3"/><stop offset=".521" stop-color="#facbb3"/><stop offset=".556" stop-color="#fae8de"/><stop offset=".582" stop-color="#f7f6f6"/><stop offset="1" stop-color="#f7f6f6"/></linearGradient><linearGradient id="g178" gradientUnits="userSpaceOnUse" x1="0" y1="516.50" x2="0" y2="702.90"><stop offset="-0" stop-color="#f7f6f6"/><stop offset=".106" stop-color="#f7f6f6"/><stop offset=".131" stop-color="#ee9677"/><stop offset=".198" stop-color="#bf3338"/><stop offset=".264" stop-color="#a21328"/><stop offset=".275" stop-color="#67001f"/><stop offset=".282" stop-color="#f7f6f6"/><stop offset=".416" stop-color="#f7f6f6"/><stop offset=".442" stop-color="#e6e3e0"/><stop offset=".474" stop-color="#c4c0be"/><stop offset=".521" stop-color="#c4c0be"/><stop offset=".556" stop-color="#eae7e5"/><stop offset=".582" stop-color="#f7f6f6"/><stop offset="1" stop-color="#f7f6f6"/></linearGradient><linearGradient id="g179" gradientUnits="userSpaceOnUse" x1="0" y1="516.50" x2="0" y2="702.90"><stop offset="-0" stop-color="#f7f6f6"/><stop offset=".106" stop-color="#f7f6f6"/><stop offset=".13" stop-color="#ee9677"/><stop offset=".196" stop-color="#bf3338"/><stop offset=".261" stop-color="#a21328"/><stop offset=".271" stop-color="#67001f"/><stop offset=".278" stop-color="#f7f6f6"/><stop offset=".416" stop-color="#f7f6f6"/><stop offset=".442" stop-color="#d1e5f0"/><stop offset=".474" stop-color="#90c4dd"/><stop offset=".521" stop-color="#90c4dd"/><stop offset=".556" stop-color="#d8e9f1"/><stop offset=".582" stop-color="#f7f6f6"/><stop offset="1" stop-color="#f7f6f6"/></linearGradient><linearGradient id="g180" gradientUnits="userSpaceOnUse" x1="0" y1="516.50" x2="0" y2="702.90"><stop offset="-0" stop-color="#f7f6f6"/><stop offset=".106" stop-color="#f7f6f6"/><stop offset=".13" stop-color="#ee9677"/><stop offset=".194" stop-color="#bf3338"/><stop offset=".257" stop-color="#a21328"/><stop offset=".267" stop-color="#67001f"/><stop offset=".274" stop-color="#f7f6f6"/><stop offset=".416" stop-color="#f7f6f6"/><stop offset=".442" stop-color="#e3c8bc"/><stop offset=".474" stop-color="#a47487"/><stop offset=".521" stop-color="#a47487"/><stop offset=".556" stop-color="#e8d4cb"/><stop offset=".582" stop-color="#f7f6f6"/><stop offset="1" stop-color="#f7f6f6"/></linearGradient><linearGradient id="g181" gradientUnits="userSpaceOnUse" x1="0" y1="516.50" x2="0" y2="702.90"><stop offset="-0" stop-color="#f7f6f6"/><stop offset=".106" stop-color="#f7f6f6"/><stop offset=".129" stop-color="#ee9677"/><stop offset=".193" stop-color="#bf3338"/><stop offset=".254" stop-color="#a21328"/><stop offset=".264" stop-color="#67001f"/><stop offset=".271" stop-color="#f7f6f6"/><stop offset=".416" stop-color="#f7f6f6"/><stop offset=".442" stop-color="#f5aa89"/><stop offset=".474" stop-color="#b82531"/><stop offset=".521" stop-color="#b82531"/><stop offset=".556" stop-color="#f8bfa4"/><stop offset=".582" stop-color="#f7f6f6"/><stop offset="1" stop-color="#f7f6f6"/></linearGradient><linearGradient id="g182" gradientUnits="userSpaceOnUse" x1="0" y1="516.50" x2="0" y2="702.90"><stop offset="-0" stop-color="#f7f6f6"/><stop offset=".106" stop-color="#f7f6f6"/><stop offset=".129" stop-color="#ee9677"/><stop offset=".19" stop-color="#bf3338"/><stop offset=".249" stop-color="#a21328"/><stop offset=".258" stop-color="#67001f"/><stop offset=".265" stop-color="#f7f6f6"/><stop offset=".416" stop-color="#f7f6f6"/><stop offset=".442" stop-color="#f5aa89"/><stop offset=".474" stop-color="#b82531"/><stop offset=".521" stop-color="#b82531"/><stop offset=".556" stop-color="#f8bfa4"/><stop offset=".582" stop-color="#f7f6f6"/><stop offset="1" stop-color="#f7f6f6"/></linearGradient><linearGradient id="g183" gradientUnits="userSpaceOnUse" x1="0" y1="516.50" x2="0" y2="702.90"><stop offset="-0" stop-color="#f7f6f6"/><stop offset=".106" stop-color="#f7f6f6"/><stop offset=".128" stop-color="#ee9677"/><stop offset=".188" stop-color="#bf3338"/><stop offset=".246" stop-color="#a21328"/><stop offset=".255" stop-color="#67001f"/><stop offset=".262" stop-color="#f7f6f6"/><stop offset=".416" stop-color="#f7f6f6"/><stop offset=".442" stop-color="#d7c1b9"/><stop offset=".474" stop-color="#85617d"/><stop offset=".521" stop-color="#85617d"/><stop offset=".556" stop-color="#e1d0c9"/><stop offset=".582" stop-color="#f7f6f6"/><stop offset="1" stop-color="#f7f6f6"/></linearGradient><linearGradient id="g184" gradientUnits="userSpaceOnUse" x1="0" y1="516.50" x2="0" y2="702.90"><stop offset="-0" stop-color="#f7f6f6"/><stop offset=".106" stop-color="#f7f6f6"/><stop offset=".128" stop-color="#ee9677"/><stop offset=".187" stop-color="#bf3338"/><stop offset=".244" stop-color="#a21328"/><stop offset=".253" stop-color="#67001f"/><stop offset=".26" stop-color="#f7f6f6"/><stop offset=".416" stop-color="#f7f6f6"/><stop offset=".442" stop-color="#b8d8e9"/><stop offset=".474" stop-color="#529dc8"/><stop offset=".521" stop-color="#529dc8"/><stop offset=".556" stop-color="#cae1ee"/><stop offset=".582" stop-color="#f7f6f6"/><stop offset="1" stop-color="#f7f6f6"/></linearGradient><linearGradient id="g185" gradientUnits="userSpaceOnUse" x1="0" y1="516.50" x2="0" y2="702.90"><stop offset="-0" stop-color="#f7f6f6"/><stop offset=".106" stop-color="#f7f6f6"/><stop offset=".128" stop-color="#ee9677"/><stop offset=".185" stop-color="#bf3338"/><stop offset=".241" stop-color="#a21328"/><stop offset=".25" stop-color="#67001f"/><stop offset=".257" stop-color="#f7f6f6"/><stop offset=".416" stop-color="#f7f6f6"/><stop offset=".442" stop-color="#b8d8e9"/><stop offset=".474" stop-color="#529dc8"/><stop offset=".521" stop-color="#529dc8"/><stop offset=".556" stop-color="#cae1ee"/><stop offset=".582" stop-color="#f7f6f6"/><stop offset="1" stop-color="#f7f6f6"/></linearGradient><linearGradient id="g186" gradientUnits="userSpaceOnUse" x1="0" y1="516.50" x2="0" y2="702.90"><stop offset="-0" stop-color="#f7f6f6"/><stop offset=".106" stop-color="#f7f6f6"/><stop offset=".128" stop-color="#ee9677"/><stop offset=".184" stop-color="#bf3338"/><stop offset=".239" stop-color="#a21328"/><stop offset=".248" stop-color="#67001f"/><stop offset=".255" stop-color="#f7f6f6"/><stop offset=".416" stop-color="#f7f6f6"/><stop offset=".442" stop-color="#d9d1cd"/><stop offset=".474" stop-color="#9a8c95"/><stop offset=".521" stop-color="#9a8c95"/><stop offset=".556" stop-color="#e3ddd9"/><stop offset=".582" stop-color="#f7f6f6"/><stop offset="1" stop-color="#f7f6f6"/></linearGradient><linearGradient id="g187" gradientUnits="userSpaceOnUse" x1="0" y1="516.50" x2="0" y2="702.90"><stop offset="-0" stop-color="#f7f6f6"/><stop offset=".106" stop-color="#f7f6f6"/><stop offset=".127" stop-color="#ee9677"/><stop offset=".183" stop-color="#bf3338"/><stop offset=".237" stop-color="#a21328"/><stop offset=".246" stop-color="#67001f"/><stop offset=".253" stop-color="#f7f6f6"/><stop offset=".416" stop-color="#f7f6f6"/><stop offset=".442" stop-color="#faccb3"/><stop offset=".474" stop-color="#e37e64"/><stop offset=".521" stop-color="#e37e64"/><stop offset=".556" stop-color="#fddac5"/><stop offset=".582" stop-color="#f7f6f6"/><stop offset="1" stop-color="#f7f6f6"/></linearGradient><linearGradient id="g188" gradientUnits="userSpaceOnUse" x1="0" y1="516.50" x2="0" y2="702.90"><stop offset="-0" stop-color="#f7f6f6"/><stop offset=".107" stop-color="#f7f6f6"/><stop offset=".127" stop-color="#ee9677"/><stop offset=".181" stop-color="#bf3338"/><stop offset=".234" stop-color="#a21328"/><stop offset=".242" stop-color="#67001f"/><stop offset=".249" stop-color="#f7f6f6"/><stop offset=".416" stop-color="#f7f6f6"/><stop offset=".442" stop-color="#fbcfb7"/><stop offset=".474" stop-color="#e6856a"/><stop offset=".521" stop-color="#e6856a"/><stop offset=".556" stop-color="#fddbc8"/><stop offset=".582" stop-color="#f7f6f6"/><stop offset="1" stop-color="#f7f6f6"/></linearGradient><linearGradient id="g189" gradientUnits="userSpaceOnUse" x1="0" y1="516.50" x2="0" y2="702.90"><stop offset="-0" stop-color="#f7f6f6"/><stop offset=".107" stop-color="#f7f6f6"/><stop offset=".127" stop-color="#ee9677"/><stop offset=".18" stop-color="#bf3338"/><stop offset=".232" stop-color="#a21328"/><stop offset=".24" stop-color="#67001f"/><stop offset=".247" stop-color="#f7f6f6"/><stop offset=".416" stop-color="#f7f6f6"/><stop offset=".442" stop-color="#fcd8c5"/><stop offset=".474" stop-color="#f0a285"/><stop offset=".521" stop-color="#f0a285"/><stop offset=".556" stop-color="#fce0d0"/><stop offset=".582" stop-color="#f7f6f6"/><stop offset="1" stop-color="#f7f6f6"/></linearGradient><linearGradient id="g190" gradientUnits="userSpaceOnUse" x1="0" y1="516.50" x2="0" y2="702.90"><stop offset="-0" stop-color="#f7f6f6"/><stop offset=".107" stop-color="#f7f6f6"/><stop offset=".126" stop-color="#ee9677"/><stop offset=".179" stop-color="#bf3338"/><stop offset=".231" stop-color="#a21328"/><stop offset=".238" stop-color="#67001f"/><stop offset=".245" stop-color="#f7f6f6"/><stop offset=".416" stop-color="#f7f6f6"/><stop offset=".442" stop-color="#fce1d1"/><stop offset=".474" stop-color="#f8bda1"/><stop offset=".521" stop-color="#f8bda1"/><stop offset=".556" stop-color="#fbe5d9"/><stop offset=".582" stop-color="#f7f6f6"/><stop offset="1" stop-color="#f7f6f6"/></linearGradient><linearGradient id="g191" gradientUnits="userSpaceOnUse" x1="0" y1="516.50" x2="0" y2="702.90"><stop offset="-0" stop-color="#f7f6f6"/><stop offset=".107" stop-color="#f7f6f6"/><stop offset=".126" stop-color="#ee9677"/><stop offset=".177" stop-color="#bf3338"/><stop offset=".227" stop-color="#a21328"/><stop offset=".235" stop-color="#67001f"/><stop offset=".242" stop-color="#f7f6f6"/><stop offset=".416" stop-color="#f7f6f6"/><stop offset=".442" stop-color="#fbe2d3"/><stop offset=".474" stop-color="#f9c1a5"/><stop offset=".521" stop-color="#f9c1a5"/><stop offset=".556" stop-color="#fbe6da"/><stop offset=".582" stop-color="#f7f6f6"/><stop offset="1" stop-color="#f7f6f6"/></linearGradient><linearGradient id="g192" gradientUnits="userSpaceOnUse" x1="0" y1="516.50" x2="0" y2="702.90"><stop offset="-0" stop-color="#f7f6f6"/><stop offset=".107" stop-color="#f7f6f6"/><stop offset=".125" stop-color="#ee9677"/><stop offset=".175" stop-color="#bf3338"/><stop offset=".224" stop-color="#a21328"/><stop offset=".231" stop-color="#67001f"/><stop offset=".238" stop-color="#f7f6f6"/><stop offset=".416" stop-color="#f7f6f6"/><stop offset=".474" stop-color="#f9c4aa"/><stop offset=".521" stop-color="#f9c4aa"/><stop offset=".556" stop-color="#fae7db"/><stop offset=".582" stop-color="#f7f6f6"/><stop offset="1" stop-color="#f7f6f6"/></linearGradient><linearGradient id="g193" gradientUnits="userSpaceOnUse" x1="0" y1="516.50" x2="0" y2="702.90"><stop offset="-0" stop-color="#f7f6f6"/><stop offset=".108" stop-color="#f7f6f6"/><stop offset=".126" stop-color="#ee9677"/><stop offset=".174" stop-color="#bf3338"/><stop offset=".221" stop-color="#a21328"/><stop offset=".228" stop-color="#67001f"/><stop offset=".235" stop-color="#f7f6f6"/><stop offset=".416" stop-color="#f7f6f6"/><stop offset=".474" stop-color="#fbd3be"/><stop offset=".521" stop-color="#fbd3be"/><stop offset=".582" stop-color="#f7f6f6"/><stop offset="1" stop-color="#f7f6f6"/></linearGradient><linearGradient id="g194" gradientUnits="userSpaceOnUse" x1="0" y1="516.50" x2="0" y2="702.90"><stop offset="-0" stop-color="#f7f6f6"/><stop offset=".111" stop-color="#f7f6f6"/><stop offset=".128" stop-color="#ee9677"/><stop offset=".173" stop-color="#bf3338"/><stop offset=".217" stop-color="#a21328"/><stop offset=".224" stop-color="#67001f"/><stop offset=".231" stop-color="#f7f6f6"/><stop offset=".416" stop-color="#f7f6f6"/><stop offset=".474" stop-color="#fce1d2"/><stop offset=".521" stop-color="#fce1d2"/><stop offset=".582" stop-color="#f7f6f6"/><stop offset="1" stop-color="#f7f6f6"/></linearGradient><linearGradient id="g195" gradientUnits="userSpaceOnUse" x1="0" y1="516.50" x2="0" y2="702.90"><stop offset="-0" stop-color="#f7f6f6"/><stop offset=".113" stop-color="#f7f6f6"/><stop offset=".129" stop-color="#ee9677"/><stop offset=".172" stop-color="#bf3338"/><stop offset=".213" stop-color="#a21328"/><stop offset=".219" stop-color="#67001f"/><stop offset=".226" stop-color="#f7f6f6"/><stop offset=".416" stop-color="#f7f6f6"/><stop offset=".474" stop-color="#fbe3d4"/><stop offset=".521" stop-color="#fbe3d4"/><stop offset=".582" stop-color="#f7f6f6"/><stop offset="1" stop-color="#f7f6f6"/></linearGradient><linearGradient id="g196" gradientUnits="userSpaceOnUse" x1="0" y1="516.50" x2="0" y2="702.90"><stop offset="-0" stop-color="#f7f6f6"/><stop offset=".116" stop-color="#f7f6f6"/><stop offset=".131" stop-color="#ee9677"/><stop offset=".17" stop-color="#bf3338"/><stop offset=".209" stop-color="#a21328"/><stop offset=".214" stop-color="#67001f"/><stop offset=".221" stop-color="#f7f6f6"/><stop offset=".416" stop-color="#f7f6f6"/><stop offset=".474" stop-color="#fbe4d6"/><stop offset=".521" stop-color="#fbe4d6"/><stop offset=".582" stop-color="#f7f6f6"/><stop offset="1" stop-color="#f7f6f6"/></linearGradient><linearGradient id="g197" gradientUnits="userSpaceOnUse" x1="0" y1="516.50" x2="0" y2="702.90"><stop offset="-0" stop-color="#f7f6f6"/><stop offset=".119" stop-color="#f7f6f6"/><stop offset=".132" stop-color="#ee9677"/><stop offset=".169" stop-color="#bf3338"/><stop offset=".204" stop-color="#a21328"/><stop offset=".21" stop-color="#67001f"/><stop offset=".217" stop-color="#f7f6f6"/><stop offset=".416" stop-color="#f7f6f6"/><stop offset=".474" stop-color="#fbe5d9"/><stop offset=".521" stop-color="#fbe5d9"/><stop offset=".582" stop-color="#f7f6f6"/><stop offset="1" stop-color="#f7f6f6"/></linearGradient><linearGradient id="g198" gradientUnits="userSpaceOnUse" x1="0" y1="516.50" x2="0" y2="702.90"><stop offset="-0" stop-color="#f7f6f6"/><stop offset=".121" stop-color="#f7f6f6"/><stop offset=".134" stop-color="#ee9a7c"/><stop offset=".167" stop-color="#c23b40"/><stop offset=".2" stop-color="#a51c31"/><stop offset=".205" stop-color="#6d0a28"/><stop offset=".212" stop-color="#f7f6f6"/><stop offset=".416" stop-color="#f7f6f6"/><stop offset=".474" stop-color="#fbe6da"/><stop offset=".521" stop-color="#fbe6da"/><stop offset=".582" stop-color="#f7f6f6"/><stop offset="1" stop-color="#f7f6f6"/></linearGradient><linearGradient id="g199" gradientUnits="userSpaceOnUse" x1="0" y1="516.50" x2="0" y2="702.90"><stop offset="-0" stop-color="#f7f6f6"/><stop offset=".123" stop-color="#f7f6f6"/><stop offset=".134" stop-color="#efa287"/><stop offset=".165" stop-color="#c64b4f"/><stop offset=".195" stop-color="#ac2f42"/><stop offset=".2" stop-color="#791f3a"/><stop offset=".207" stop-color="#f7f6f6"/><stop offset=".416" stop-color="#f7f6f6"/><stop offset=".474" stop-color="#fbe6db"/><stop offset=".521" stop-color="#fbe6db"/><stop offset=".582" stop-color="#f7f6f6"/><stop offset="1" stop-color="#f7f6f6"/></linearGradient><linearGradient id="g200" gradientUnits="userSpaceOnUse" x1="0" y1="516.50" x2="0" y2="702.90"><stop offset="-0" stop-color="#f7f6f6"/><stop offset=".124" stop-color="#f7f6f6"/><stop offset=".135" stop-color="#f0aa91"/><stop offset=".163" stop-color="#cb5c5f"/><stop offset=".191" stop-color="#b44253"/><stop offset=".195" stop-color="#85334c"/><stop offset=".202" stop-color="#f7f6f6"/><stop offset=".416" stop-color="#f7f6f6"/><stop offset=".474" stop-color="#fae7db"/><stop offset=".521" stop-color="#fae7db"/><stop offset=".582" stop-color="#f7f6f6"/><stop offset="1" stop-color="#f7f6f6"/></linearGradient><linearGradient id="g201" gradientUnits="userSpaceOnUse" x1="0" y1="516.50" x2="0" y2="702.90"><stop offset="-0" stop-color="#f7f6f6"/><stop offset=".126" stop-color="#f7f6f6"/><stop offset=".136" stop-color="#f0b29c"/><stop offset=".161" stop-color="#d06c6f"/><stop offset=".186" stop-color="#bb5564"/><stop offset=".19" stop-color="#91485e"/><stop offset=".197" stop-color="#f7f6f6"/><stop offset=".416" stop-color="#f7f6f6"/><stop offset=".474" stop-color="#fae7db"/><stop offset=".521" stop-color="#fae7db"/><stop offset=".582" stop-color="#f7f6f6"/><stop offset="1" stop-color="#f7f6f6"/></linearGradient><linearGradient id="g202" gradientUnits="userSpaceOnUse" x1="0" y1="516.50" x2="0" y2="702.90"><stop offset="-0" stop-color="#f7f6f6"/><stop offset=".128" stop-color="#f7f6f6"/><stop offset=".136" stop-color="#f1baa6"/><stop offset=".159" stop-color="#d47c7f"/><stop offset=".181" stop-color="#c26876"/><stop offset=".185" stop-color="#9d5c70"/><stop offset=".192" stop-color="#f7f6f6"/><stop offset=".416" stop-color="#f7f6f6"/><stop offset=".474" stop-color="#fae7dc"/><stop offset=".521" stop-color="#fae7dc"/><stop offset=".582" stop-color="#f7f6f6"/><stop offset="1" stop-color="#f7f6f6"/></linearGradient><linearGradient id="g203" gradientUnits="userSpaceOnUse" x1="0" y1="516.50" x2="0" y2="702.90"><stop offset="-0" stop-color="#f7f6f6"/><stop offset=".129" stop-color="#f7f6f6"/><stop offset=".137" stop-color="#f2c2b1"/><stop offset=".157" stop-color="#d98c8f"/><stop offset=".177" stop-color="#c97b87"/><stop offset=".18" stop-color="#a97182"/><stop offset=".187" stop-color="#f7f6f6"/><stop offset=".416" stop-color="#f7f6f6"/><stop offset=".474" stop-color="#fae7dc"/><stop offset=".521" stop-color="#fae7dc"/><stop offset=".582" stop-color="#f7f6f6"/><stop offset="1" stop-color="#f7f6f6"/></linearGradient><linearGradient id="g204" gradientUnits="userSpaceOnUse" x1="0" y1="516.50" x2="0" y2="702.90"><stop offset="-0" stop-color="#f7f6f6"/><stop offset=".131" stop-color="#f7f6f6"/><stop offset=".138" stop-color="#f3cabc"/><stop offset=".155" stop-color="#de9d9f"/><stop offset=".172" stop-color="#d08e98"/><stop offset=".175" stop-color="#b58593"/><stop offset=".182" stop-color="#f7f6f6"/><stop offset=".416" stop-color="#f7f6f6"/><stop offset=".474" stop-color="#fae8dd"/><stop offset=".521" stop-color="#fae8dd"/><stop offset=".582" stop-color="#f7f6f6"/><stop offset="1" stop-color="#f7f6f6"/></linearGradient><linearGradient id="g205" gradientUnits="userSpaceOnUse" x1="0" y1="516.50" x2="0" y2="702.90"><stop offset="-0" stop-color="#f7f6f6"/><stop offset=".133" stop-color="#f7f6f6"/><stop offset=".138" stop-color="#f4d2c6"/><stop offset=".153" stop-color="#e2adaf"/><stop offset=".168" stop-color="#d7a1a9"/><stop offset=".17" stop-color="#c19aa5"/><stop offset=".177" stop-color="#f7f6f6"/><stop offset=".416" stop-color="#f7f6f6"/><stop offset=".474" stop-color="#fae8dd"/><stop offset=".521" stop-color="#fae8dd"/><stop offset=".582" stop-color="#f7f6f6"/><stop offset="1" stop-color="#f7f6f6"/></linearGradient><linearGradient id="g206" gradientUnits="userSpaceOnUse" x1="0" y1="516.50" x2="0" y2="702.90"><stop offset="-0" stop-color="#f7f6f6"/><stop offset=".134" stop-color="#f7f6f6"/><stop offset=".139" stop-color="#f4dad1"/><stop offset=".151" stop-color="#e7bdbf"/><stop offset=".163" stop-color="#deb4ba"/><stop offset=".165" stop-color="#cdafb7"/><stop offset=".172" stop-color="#f7f6f6"/><stop offset=".416" stop-color="#f7f6f6"/><stop offset=".474" stop-color="#fae8de"/><stop offset=".521" stop-color="#fae8de"/><stop offset=".582" stop-color="#f7f6f6"/><stop offset="1" stop-color="#f7f6f6"/></linearGradient><linearGradient id="g207" gradientUnits="userSpaceOnUse" x1="0" y1="516.50" x2="0" y2="702.90"><stop offset="-0" stop-color="#f7f6f6"/><stop offset=".136" stop-color="#f7f6f6"/><stop offset=".14" stop-color="#f5e2db"/><stop offset=".149" stop-color="#eccece"/><stop offset=".158" stop-color="#e5c7cb"/><stop offset=".16" stop-color="#d9c3c9"/><stop offset=".167" stop-color="#f7f6f6"/><stop offset=".416" stop-color="#f7f6f6"/><stop offset=".474" stop-color="#fae9de"/><stop offset=".521" stop-color="#fae9de"/><stop offset=".582" stop-color="#f7f6f6"/><stop offset="1" stop-color="#f7f6f6"/></linearGradient><linearGradient id="g208" gradientUnits="userSpaceOnUse" x1="0" y1="516.50" x2="0" y2="702.90"><stop offset="-0" stop-color="#f7f6f6"/><stop offset=".138" stop-color="#f7f6f6"/><stop offset=".14" stop-color="#f6eae6"/><stop offset=".147" stop-color="#f0dede"/><stop offset=".154" stop-color="#ecdadc"/><stop offset=".155" stop-color="#e5d8db"/><stop offset=".162" stop-color="#f7f6f6"/><stop offset=".416" stop-color="#f7f6f6"/><stop offset=".474" stop-color="#fae9df"/><stop offset=".521" stop-color="#fae9df"/><stop offset=".582" stop-color="#f7f6f6"/><stop offset="1" stop-color="#f7f6f6"/></linearGradient><linearGradient id="g209" gradientUnits="userSpaceOnUse" x1="0" y1="516.50" x2="0" y2="702.90"><stop offset="-0" stop-color="#f7f6f6"/><stop offset=".139" stop-color="#f7f6f6"/><stop offset=".15" stop-color="#f1eced"/><stop offset=".157" stop-color="#f7f6f6"/><stop offset=".416" stop-color="#f7f6f6"/><stop offset=".474" stop-color="#fae9df"/><stop offset=".521" stop-color="#fae9df"/><stop offset=".582" stop-color="#f7f6f6"/><stop offset="1" stop-color="#f7f6f6"/></linearGradient></defs><rect x="1224.00" y="516.50" width="105.16" height="186.40" fill="url(#g166)"/><rect x="1328.56" y="516.50" width="7.37" height="186.40" fill="url(#g167)"/><rect x="1335.32" y="516.50" width="9.21" height="186.40" fill="url(#g168)"/><rect x="1343.93" y="516.50" width="9.83" height="186.40" fill="url(#g169)"/><rect x="1353.16" y="516.50" width="6.75" height="186.40" fill="url(#g170)"/><rect x="1359.31" y="516.50" width="9.83" height="186.40" fill="url(#g171)"/><rect x="1368.53" y="516.50" width="12.90" height="186.40" fill="url(#g172)"/><rect x="1380.84" y="516.50" width="12.90" height="186.40" fill="url(#g173)"/><rect x="1393.14" y="516.50" width="12.90" height="186.40" fill="url(#g174)"/><rect x="1405.44" y="516.50" width="3.68" height="186.40" fill="url(#g175)"/><rect x="1408.51" y="516.50" width="19.05" height="186.40" fill="url(#g176)"/><rect x="1426.96" y="516.50" width="19.05" height="186.40" fill="url(#g177)"/><rect x="1445.41" y="516.50" width="3.06" height="186.40" fill="url(#g178)"/><rect x="1447.87" y="516.50" width="21.20" height="186.40" fill="url(#g179)"/><rect x="1468.48" y="516.50" width="2.14" height="186.40" fill="url(#g180)"/><rect x="1470.02" y="516.50" width="18.28" height="186.40" fill="url(#g181)"/><rect x="1487.70" y="516.50" width="18.28" height="186.40" fill="url(#g182)"/><rect x="1505.38" y="516.50" width="2.14" height="186.40" fill="url(#g183)"/><rect x="1506.92" y="516.50" width="14.75" height="186.40" fill="url(#g184)"/><rect x="1521.06" y="516.50" width="14.75" height="186.40" fill="url(#g185)"/><rect x="1535.21" y="516.50" width="3.06" height="186.40" fill="url(#g186)"/><rect x="1537.67" y="516.50" width="15.98" height="186.40" fill="url(#g187)"/><rect x="1553.05" y="516.50" width="15.98" height="186.40" fill="url(#g188)"/><rect x="1568.42" y="516.50" width="2.14" height="186.40" fill="url(#g189)"/><rect x="1569.96" y="516.50" width="17.51" height="186.40" fill="url(#g190)"/><rect x="1586.87" y="516.50" width="17.51" height="186.40" fill="url(#g191)"/><rect x="1603.79" y="516.50" width="17.51" height="186.40" fill="url(#g192)"/><rect x="1620.70" y="516.50" width="19.05" height="186.40" fill="url(#g193)"/><rect x="1639.15" y="516.50" width="19.82" height="186.40" fill="url(#g194)"/><rect x="1658.37" y="516.50" width="19.82" height="186.40" fill="url(#g195)"/><rect x="1677.59" y="516.50" width="19.82" height="186.40" fill="url(#g196)"/><rect x="1696.81" y="516.50" width="19.82" height="186.40" fill="url(#g197)"/><rect x="1716.03" y="516.50" width="23.66" height="186.40" fill="url(#g198)"/><rect x="1739.10" y="516.50" width="23.66" height="186.40" fill="url(#g199)"/><rect x="1762.16" y="516.50" width="23.66" height="186.40" fill="url(#g200)"/><rect x="1785.22" y="516.50" width="23.66" height="186.40" fill="url(#g201)"/><rect x="1808.29" y="516.50" width="23.66" height="186.40" fill="url(#g202)"/><rect x="1831.35" y="516.50" width="23.66" height="186.40" fill="url(#g203)"/><rect x="1854.42" y="516.50" width="23.66" height="186.40" fill="url(#g204)"/><rect x="1877.48" y="516.50" width="23.66" height="186.40" fill="url(#g205)"/><rect x="1900.54" y="516.50" width="23.66" height="186.40" fill="url(#g206)"/><rect x="1923.61" y="516.50" width="23.66" height="186.40" fill="url(#g207)"/><rect x="1946.67" y="516.50" width="23.66" height="186.40" fill="url(#g208)"/><rect x="1969.74" y="516.50" width="23.06" height="186.40" fill="url(#g209)"/></g><path d="M 1224 702.9 
L 1224 516.5 
" class="s1"/><use xlink:href="#k0" x="1224" y="702.9" class="s2"/><path d="M 1377.8 702.9 
L 1377.8 516.5 
" class="s1"/><use xlink:href="#k0" x="1377.76" y="702.9" class="s2"/><path d="M 1531.5 702.9 
L 1531.5 516.5 
" class="s1"/><use xlink:href="#k0" x="1531.52" y="702.9" class="s2"/><path d="M 1685.3 702.9 
L 1685.3 516.5 
" class="s1"/><use xlink:href="#k0" x="1685.28" y="702.9" class="s2"/><path d="M 1839 702.9 
L 1839 516.5 
" class="s1"/><use xlink:href="#k0" x="1839.04" y="702.9" class="s2"/><path d="M 1992.8 702.9 
L 1992.8 516.5 
" class="s1"/><use xlink:href="#k0" x="1992.8" y="702.9" class="s2"/><path d="M 1254.8 702.9 
L 1254.8 516.5 
" class="s1"/><use xlink:href="#k1" x="1254.752" y="702.9" class="s0"/><path d="M 1285.5 702.9 
L 1285.5 516.5 
" class="s1"/><use xlink:href="#k1" x="1285.504" y="702.9" class="s0"/><path d="M 1316.3 702.9 
L 1316.3 516.5 
" class="s1"/><use xlink:href="#k1" x="1316.256" y="702.9" class="s0"/><path d="M 1347 702.9 
L 1347 516.5 
" class="s1"/><use xlink:href="#k1" x="1347.008" y="702.9" class="s0"/><path d="M 1408.5 702.9 
L 1408.5 516.5 
" class="s1"/><use xlink:href="#k1" x="1408.512" y="702.9" class="s0"/><path d="M 1439.3 702.9 
L 1439.3 516.5 
" class="s1"/><use xlink:href="#k1" x="1439.264" y="702.9" class="s0"/><path d="M 1470 702.9 
L 1470 516.5 
" class="s1"/><use xlink:href="#k1" x="1470.016" y="702.9" class="s0"/><path d="M 1500.8 702.9 
L 1500.8 516.5 
" class="s1"/><use xlink:href="#k1" x="1500.768" y="702.9" class="s0"/><path d="M 1562.3 702.9 
L 1562.3 516.5 
" class="s1"/><use xlink:href="#k1" x="1562.272" y="702.9" class="s0"/><path d="M 1593 702.9 
L 1593 516.5 
" class="s1"/><use xlink:href="#k1" x="1593.024" y="702.9" class="s0"/><path d="M 1623.8 702.9 
L 1623.8 516.5 
" class="s1"/><use xlink:href="#k1" x="1623.776" y="702.9" class="s0"/><path d="M 1654.5 702.9 
L 1654.5 516.5 
" class="s1"/><use xlink:href="#k1" x="1654.528" y="702.9" class="s0"/><path d="M 1716 702.9 
L 1716 516.5 
" class="s1"/><use xlink:href="#k1" x="1716.032" y="702.9" class="s0"/><path d="M 1746.8 702.9 
L 1746.8 516.5 
" class="s1"/><use xlink:href="#k1" x="1746.784" y="702.9" class="s0"/><path d="M 1777.5 702.9 
L 1777.5 516.5 
" class="s1"/><use xlink:href="#k1" x="1777.536" y="702.9" class="s0"/><path d="M 1808.3 702.9 
L 1808.3 516.5 
" class="s1"/><use xlink:href="#k1" x="1808.288" y="702.9" class="s0"/><path d="M 1869.8 702.9 
L 1869.8 516.5 
" class="s1"/><use xlink:href="#k1" x="1869.792" y="702.9" class="s0"/><path d="M 1900.5 702.9 
L 1900.5 516.5 
" class="s1"/><use xlink:href="#k1" x="1900.544" y="702.9" class="s0"/><path d="M 1931.3 702.9 
L 1931.3 516.5 
" class="s1"/><use xlink:href="#k1" x="1931.296" y="702.9" class="s0"/><path d="M 1962 702.9 
L 1962 516.5 
" class="s1"/><use xlink:href="#k1" x="1962.048" y="702.9" class="s0"/><path d="M 1224 702.9 
L 1992.8 702.9 
" class="s1"/><use xlink:href="#k2" x="1224" y="702.9" class="s2"/><g transform="translate(1160.855 712.28407)"><text><tspan x="0" y="-0.676563" class="s4">1</tspan><tspan x="15.746704" y="-0.676563" class="s4">0</tspan><tspan x="31.732666" y="-10.246875" class="s5">−</tspan><tspan x="46.249121" y="-10.246875" class="s5">4</tspan></text></g><path d="M 1224 670.2 
L 1992.8 670.2 
" class="s1"/><use xlink:href="#k2" x="1224" y="670.192335" class="s2"/><g transform="translate(1160.855 679.576406)"><text><tspan x="0" y="-0.435938" class="s4">1</tspan><tspan x="15.746704" y="-0.435938" class="s4">0</tspan><tspan x="31.732666" y="-10.00625" class="s5">−</tspan><tspan x="46.249121" y="-10.00625" class="s5">3</tspan></text></g><path d="M 1224 637.5 
L 1992.8 637.5 
" class="s1"/><use xlink:href="#k2" x="1224" y="637.484671" class="s2"/><g transform="translate(1160.855 646.868741)"><text><tspan x="0" y="-0.435938" class="s4">1</tspan><tspan x="15.746704" y="-0.435938" class="s4">0</tspan><tspan x="31.732666" y="-10.00625" class="s5">−</tspan><tspan x="46.249121" y="-10.00625" class="s5">2</tspan></text></g><path d="M 1224 604.8 
L 1992.8 604.8 
" class="s1"/><use xlink:href="#k2" x="1224" y="604.777006" class="s2"/><g transform="translate(1160.855 614.161076)"><text><tspan x="0" y="-0.676563" class="s4">1</tspan><tspan x="15.746704" y="-0.676563" class="s4">0</tspan><tspan x="31.732666" y="-10.246875" class="s5">−</tspan><tspan x="46.249121" y="-10.246875" class="s5">1</tspan></text></g><path d="M 1224 572.1 
L 1992.8 572.1 
" class="s1"/><use xlink:href="#k2" x="1224" y="572.069341" class="s2"/><g transform="translate(1175.428 581.453412)"><text><tspan x="0" y="-0.435938" class="s4">1</tspan><tspan x="15.746704" y="-0.435938" class="s4">0</tspan><tspan x="31.732666" y="-10.00625" class="s5">0</tspan></text></g><path d="M 1224 539.4 
L 1992.8 539.4 
" class="s1"/><use xlink:href="#k2" x="1224" y="539.361677" class="s2"/><g transform="translate(1175.428 548.745747)"><text><tspan x="0" y="-0.676563" class="s4">1</tspan><tspan x="15.746704" y="-0.676563" class="s4">0</tspan><tspan x="31.732666" y="-10.246875" class="s5">1</tspan></text></g><path d="M 1224 693.1 
L 1992.8 693.1 
" class="s1"/><use xlink:href="#k4" x="1224" y="693.054012" class="s0"/><path d="M 1224 687.3 
L 1992.8 687.3 
" class="s1"/><use xlink:href="#k4" x="1224" y="687.294478" class="s0"/><path d="M 1224 683.2 
L 1992.8 683.2 
" class="s1"/><use xlink:href="#k4" x="1224" y="683.208024" class="s0"/><path d="M 1224 680 
L 1992.8 680 
" class="s1"/><use xlink:href="#k4" x="1224" y="680.038323" class="s0"/><path d="M 1224 677.4 
L 1992.8 677.4 
" class="s1"/><use xlink:href="#k4" x="1224" y="677.44849" class="s0"/><path d="M 1224 675.3 
L 1992.8 675.3 
" class="s1"/><use xlink:href="#k4" x="1224" y="675.258817" class="s0"/><path d="M 1224 673.4 
L 1992.8 673.4 
" class="s1"/><use xlink:href="#k4" x="1224" y="673.362036" class="s0"/><path d="M 1224 671.7 
L 1992.8 671.7 
" class="s1"/><use xlink:href="#k4" x="1224" y="671.688956" class="s0"/><path d="M 1224 660.3 
L 1992.8 660.3 
" class="s1"/><use xlink:href="#k4" x="1224" y="660.346347" class="s0"/><path d="M 1224 654.6 
L 1992.8 654.6 
" class="s1"/><use xlink:href="#k4" x="1224" y="654.586813" class="s0"/><path d="M 1224 650.5 
L 1992.8 650.5 
" class="s1"/><use xlink:href="#k4" x="1224" y="650.500359" class="s0"/><path d="M 1224 647.3 
L 1992.8 647.3 
" class="s1"/><use xlink:href="#k4" x="1224" y="647.330659" class="s0"/><path d="M 1224 644.7 
L 1992.8 644.7 
" class="s1"/><use xlink:href="#k4" x="1224" y="644.740825" class="s0"/><path d="M 1224 642.6 
L 1992.8 642.6 
" class="s1"/><use xlink:href="#k4" x="1224" y="642.551152" class="s0"/><path d="M 1224 640.7 
L 1992.8 640.7 
" class="s1"/><use xlink:href="#k4" x="1224" y="640.654371" class="s0"/><path d="M 1224 639 
L 1992.8 639 
" class="s1"/><use xlink:href="#k4" x="1224" y="638.981291" class="s0"/><path d="M 1224 627.6 
L 1992.8 627.6 
" class="s1"/><use xlink:href="#k4" x="1224" y="627.638682" class="s0"/><path d="M 1224 621.9 
L 1992.8 621.9 
" class="s1"/><use xlink:href="#k4" x="1224" y="621.879149" class="s0"/><path d="M 1224 617.8 
L 1992.8 617.8 
" class="s1"/><use xlink:href="#k4" x="1224" y="617.792694" class="s0"/><path d="M 1224 614.6 
L 1992.8 614.6 
" class="s1"/><use xlink:href="#k4" x="1224" y="614.622994" class="s0"/><path d="M 1224 612 
L 1992.8 612 
" class="s1"/><use xlink:href="#k4" x="1224" y="612.03316" class="s0"/><path d="M 1224 609.8 
L 1992.8 609.8 
" class="s1"/><use xlink:href="#k4" x="1224" y="609.843487" class="s0"/><path d="M 1224 607.9 
L 1992.8 607.9 
" class="s1"/><use xlink:href="#k4" x="1224" y="607.946706" class="s0"/><path d="M 1224 606.3 
L 1992.8 606.3 
" class="s1"/><use xlink:href="#k4" x="1224" y="606.273627" class="s0"/><path d="M 1224 594.9 
L 1992.8 594.9 
" class="s1"/><use xlink:href="#k4" x="1224" y="594.931018" class="s0"/><path d="M 1224 589.2 
L 1992.8 589.2 
" class="s1"/><use xlink:href="#k4" x="1224" y="589.171484" class="s0"/><path d="M 1224 585.1 
L 1992.8 585.1 
" class="s1"/><use xlink:href="#k4" x="1224" y="585.08503" class="s0"/><path d="M 1224 581.9 
L 1992.8 581.9 
" class="s1"/><use xlink:href="#k4" x="1224" y="581.915329" class="s0"/><path d="M 1224 579.3 
L 1992.8 579.3 
" class="s1"/><use xlink:href="#k4" x="1224" y="579.325496" class="s0"/><path d="M 1224 577.1 
L 1992.8 577.1 
" class="s1"/><use xlink:href="#k4" x="1224" y="577.135823" class="s0"/><path d="M 1224 575.2 
L 1992.8 575.2 
" class="s1"/><use xlink:href="#k4" x="1224" y="575.239041" class="s0"/><path d="M 1224 573.6 
L 1992.8 573.6 
" class="s1"/><use xlink:href="#k4" x="1224" y="573.565962" class="s0"/><path d="M 1224 562.2 
L 1992.8 562.2 
" class="s1"/><use xlink:href="#k4" x="1224" y="562.223353" class="s0"/><path d="M 1224 556.5 
L 1992.8 556.5 
" class="s1"/><use xlink:href="#k4" x="1224" y="556.463819" class="s0"/><path d="M 1224 552.4 
L 1992.8 552.4 
" class="s1"/><use xlink:href="#k4" x="1224" y="552.377365" class="s0"/><path d="M 1224 549.2 
L 1992.8 549.2 
" class="s1"/><use xlink:href="#k4" x="1224" y="549.207665" class="s0"/><path d="M 1224 546.6 
L 1992.8 546.6 
" class="s1"/><use xlink:href="#k4" x="1224" y="546.617831" class="s0"/><path d="M 1224 544.4 
L 1992.8 544.4 
" class="s1"/><use xlink:href="#k4" x="1224" y="544.428158" class="s0"/><path d="M 1224 542.5 
L 1992.8 542.5 
" class="s1"/><use xlink:href="#k4" x="1224" y="542.531377" class="s0"/><path d="M 1224 540.9 
L 1992.8 540.9 
" class="s1"/><use xlink:href="#k4" x="1224" y="540.858297" class="s0"/><path d="M 1224 529.5 
L 1992.8 529.5 
" class="s1"/><use xlink:href="#k4" x="1224" y="529.515688" class="s0"/><path d="M 1224 523.8 
L 1992.8 523.8 
" class="s1"/><use xlink:href="#k4" x="1224" y="523.756155" class="s0"/><path d="M 1224 519.7 
L 1992.8 519.7 
" class="s1"/><use xlink:href="#k4" x="1224" y="519.6697" class="s0"/><path d="M 1224 516.5 
L 1992.8 516.5 
" class="s1"/><use xlink:href="#k4" x="1224" y="516.5" class="s0"/><g transform="translate(1143.68 677.625) rotate(-90)"><text><tspan x="0" y="-0.921875" class="s7">p</tspan><tspan x="40.532349" y="-0.921875" class="s7">m</tspan><tspan x="79.414307" y="-0.921875" class="s7">v</tspan><tspan x="20.629883" y="4.492188" class="s8">i</tspan><tspan x="72.191284" y="4.492188" class="s8">i</tspan><tspan x="98.647705" y="4.492188" class="s8">p</tspan><tspan x="113.088623" y="4.492188" class="s8">t</tspan><tspan x="27.852905" y="-0.921875" class="s9">[</tspan><tspan x="122.911011" y="-0.921875" class="s9">]</tspan></text></g><path d="M 1224 702.9 
L 1224 516.5 
" class="s6"/><path d="M 1992.8 702.9 
L 1992.8 516.5 
" class="s6"/><path d="M 1224 702.9 
L 1992.8 702.9 
" class="s6"/><path d="M 1224 516.5 
L 1992.8 516.5 
" class="s6"/><path d="M 1922 561 
L 1983.8 561 
L 1983.8 523.2 
L 1922 523.2 
z
" clip-path="url(#k12)" class="s14"/><text class="s15" x="1952.85" y="550.321062">(f1)</text><path d="M 1224 954.5 
L 1992.8 954.5 
L 1992.8 768.1 
L 1224 768.1 
z
" class="s11"/><g id="HEAT_f2"><defs><linearGradient id="g210" gradientUnits="userSpaceOnUse" x1="0" y1="768.10" x2="0" y2="954.50"><stop offset="-0" stop-color="#f7f6f6"/><stop offset=".14" stop-color="#f7f6f6"/><stop offset=".193" stop-color="#e4eef4"/><stop offset=".295" stop-color="#b1d5e7"/><stop offset=".339" stop-color="#327cb7"/><stop offset=".365" stop-color="#0a3b70"/><stop offset=".632" stop-color="#0d3f76"/><stop offset=".64" stop-color="#276eb0"/><stop offset=".684" stop-color="#90c4dd"/><stop offset=".737" stop-color="#d8e9f1"/><stop offset=".781" stop-color="#f7f6f6"/><stop offset="1" stop-color="#f7f6f6"/></linearGradient><linearGradient id="g211" gradientUnits="userSpaceOnUse" x1="0" y1="768.10" x2="0" y2="954.50"><stop offset="-0" stop-color="#f7f6f6"/><stop offset=".14" stop-color="#f7f6f6"/><stop offset=".193" stop-color="#e4eef4"/><stop offset=".288" stop-color="#b1d5e7"/><stop offset=".332" stop-color="#327cb7"/><stop offset=".358" stop-color="#0a3b70"/><stop offset=".632" stop-color="#0d3f76"/><stop offset=".64" stop-color="#276eb0"/><stop offset=".684" stop-color="#90c4dd"/><stop offset=".737" stop-color="#d8e9f1"/><stop offset=".781" stop-color="#f7f6f6"/><stop offset="1" stop-color="#f7f6f6"/></linearGradient><linearGradient id="g212" gradientUnits="userSpaceOnUse" x1="0" y1="768.10" x2="0" y2="954.50"><stop offset="-0" stop-color="#f7f6f6"/><stop offset=".14" stop-color="#f7f6f6"/><stop offset=".193" stop-color="#e4eef4"/><stop offset=".282" stop-color="#b1d5e7"/><stop offset=".325" stop-color="#327cb7"/><stop offset=".352" stop-color="#0a3b70"/><stop offset=".632" stop-color="#0d3f76"/><stop offset=".64" stop-color="#276eb0"/><stop offset=".684" stop-color="#90c4dd"/><stop offset=".737" stop-color="#d8e9f1"/><stop offset=".781" stop-color="#f7f6f6"/><stop offset="1" stop-color="#f7f6f6"/></linearGradient><linearGradient id="g213" gradientUnits="userSpaceOnUse" x1="0" y1="768.10" x2="0" y2="954.50"><stop offset="-0" stop-color="#f7f6f6"/><stop offset=".14" stop-color="#f7f6f6"/><stop offset=".193" stop-color="#e4eef4"/><stop offset=".275" stop-color="#b1d5e7"/><stop offset=".319" stop-color="#327cb7"/><stop offset=".345" stop-color="#0a3b70"/><stop offset=".632" stop-color="#0d3f76"/><stop offset=".64" stop-color="#276eb0"/><stop offset=".684" stop-color="#90c4dd"/><stop offset=".737" stop-color="#d8e9f1"/><stop offset=".781" stop-color="#f7f6f6"/><stop offset="1" stop-color="#f7f6f6"/></linearGradient><linearGradient id="g214" gradientUnits="userSpaceOnUse" x1="0" y1="768.10" x2="0" y2="954.50"><stop offset="-0" stop-color="#f7f6f6"/><stop offset=".14" stop-color="#f7f6f6"/><stop offset=".193" stop-color="#e4eef4"/><stop offset=".273" stop-color="#b1d5e7"/><stop offset=".317" stop-color="#327cb7"/><stop offset=".343" stop-color="#0a3b70"/><stop offset=".632" stop-color="#0d3f76"/><stop offset=".64" stop-color="#276eb0"/><stop offset=".684" stop-color="#90c4dd"/><stop offset=".737" stop-color="#d8e9f1"/><stop offset=".781" stop-color="#f7f6f6"/><stop offset="1" stop-color="#f7f6f6"/></linearGradient><linearGradient id="g215" gradientUnits="userSpaceOnUse" x1="0" y1="768.10" x2="0" y2="954.50"><stop offset="-0" stop-color="#f7f6f6"/><stop offset=".14" stop-color="#f7f6f6"/><stop offset=".193" stop-color="#e4eef4"/><stop offset=".277" stop-color="#b1d5e7"/><stop offset=".321" stop-color="#327cb7"/><stop offset=".347" stop-color="#0a3b70"/><stop offset=".632" stop-color="#0d3f76"/><stop offset=".64" stop-color="#276eb0"/><stop offset=".684" stop-color="#90c4dd"/><stop offset=".737" stop-color="#d8e9f1"/><stop offset=".781" stop-color="#f7f6f6"/><stop offset="1" stop-color="#f7f6f6"/></linearGradient><linearGradient id="g216" gradientUnits="userSpaceOnUse" x1="0" y1="768.10" x2="0" y2="954.50"><stop offset="-0" stop-color="#f7f6f6"/><stop offset=".14" stop-color="#f7f6f6"/><stop offset=".193" stop-color="#e4eef4"/><stop offset=".28" stop-color="#b1d5e7"/><stop offset=".323" stop-color="#327cb7"/><stop offset=".35" stop-color="#0a3b70"/><stop offset=".632" stop-color="#0d3f76"/><stop offset=".64" stop-color="#276eb0"/><stop offset=".684" stop-color="#90c4dd"/><stop offset=".737" stop-color="#d8e9f1"/><stop offset=".781" stop-color="#f7f6f6"/><stop offset="1" stop-color="#f7f6f6"/></linearGradient><linearGradient id="g217" gradientUnits="userSpaceOnUse" x1="0" y1="768.10" x2="0" y2="954.50"><stop offset="-0" stop-color="#f7f6f6"/><stop offset=".14" stop-color="#f7f6f6"/><stop offset=".228" stop-color="#e3edf2"/><stop offset=".281" stop-color="#c9e0ed"/><stop offset=".298" stop-color="#abcde3"/><stop offset=".324" stop-color="#69a2cc"/><stop offset=".351" stop-color="#39719f"/><stop offset=".368" stop-color="#27679a"/><stop offset=".421" stop-color="#0c3d73"/><stop offset=".632" stop-color="#0d3f76"/><stop offset=".64" stop-color="#1b5895"/><stop offset=".684" stop-color="#548db9"/><stop offset=".719" stop-color="#70a1cb"/><stop offset=".754" stop-color="#dbeaf2"/><stop offset=".781" stop-color="#eef2f5"/><stop offset=".807" stop-color="#f7f6f6"/><stop offset="1" stop-color="#f7f6f6"/></linearGradient><linearGradient id="g218" gradientUnits="userSpaceOnUse" x1="0" y1="768.10" x2="0" y2="954.50"><stop offset="-0" stop-color="#f7f6f6"/><stop offset=".228" stop-color="#f7f6f6"/><stop offset=".298" stop-color="#d8e9f1"/><stop offset=".368" stop-color="#4393c3"/><stop offset=".421" stop-color="#0d3f76"/><stop offset=".632" stop-color="#0d3f76"/><stop offset=".719" stop-color="#2065ab"/><stop offset=".754" stop-color="#d1e5f0"/><stop offset=".807" stop-color="#f7f6f6"/><stop offset="1" stop-color="#f7f6f6"/></linearGradient><linearGradient id="g219" gradientUnits="userSpaceOnUse" x1="0" y1="768.10" x2="0" y2="954.50"><stop offset="-0" stop-color="#f7f6f6"/><stop offset=".228" stop-color="#f7f6f6"/><stop offset=".298" stop-color="#e8eff4"/><stop offset=".368" stop-color="#9dc5dd"/><stop offset=".421" stop-color="#829bb6"/><stop offset=".474" stop-color="#5f8aae"/><stop offset=".561" stop-color="#3c76a3"/><stop offset=".632" stop-color="#2c6b9e"/><stop offset=".649" stop-color="#2a6da2"/><stop offset=".719" stop-color="#79a5cd"/><stop offset=".754" stop-color="#deebf2"/><stop offset=".772" stop-color="#eaf1f4"/><stop offset=".807" stop-color="#f7f6f6"/><stop offset="1" stop-color="#f7f6f6"/></linearGradient><linearGradient id="g220" gradientUnits="userSpaceOnUse" x1="0" y1="768.10" x2="0" y2="954.50"><stop offset="-0" stop-color="#f7f6f6"/><stop offset=".421" stop-color="#f7f6f6"/><stop offset=".474" stop-color="#a1cce2"/><stop offset=".561" stop-color="#4e94c4"/><stop offset=".649" stop-color="#3580ba"/><stop offset=".728" stop-color="#c1ddeb"/><stop offset=".781" stop-color="#f7f6f6"/><stop offset="1" stop-color="#f7f6f6"/></linearGradient><linearGradient id="g221" gradientUnits="userSpaceOnUse" x1="0" y1="768.10" x2="0" y2="954.50"><stop offset="-0" stop-color="#f7f6f6"/><stop offset=".425" stop-color="#f7f6f6"/><stop offset=".478" stop-color="#90c4dd"/><stop offset=".566" stop-color="#327cb7"/><stop offset=".653" stop-color="#2a71b2"/><stop offset=".737" stop-color="#b9d9e9"/><stop offset=".789" stop-color="#f7f6f6"/><stop offset="1" stop-color="#f7f6f6"/></linearGradient><linearGradient id="g222" gradientUnits="userSpaceOnUse" x1="0" y1="768.10" x2="0" y2="954.50"><stop offset="-0" stop-color="#f7f6f6"/><stop offset=".434" stop-color="#f7f6f6"/><stop offset=".487" stop-color="#90c4dd"/><stop offset=".574" stop-color="#327cb7"/><stop offset=".662" stop-color="#2f79b5"/><stop offset=".737" stop-color="#c9e1ee"/><stop offset=".789" stop-color="#f7f6f6"/><stop offset="1" stop-color="#f7f6f6"/></linearGradient><linearGradient id="g223" gradientUnits="userSpaceOnUse" x1="0" y1="768.10" x2="0" y2="954.50"><stop offset="-0" stop-color="#f7f6f6"/><stop offset=".438" stop-color="#f7f6f6"/><stop offset=".491" stop-color="#95c6df"/><stop offset=".579" stop-color="#3680b9"/><stop offset=".667" stop-color="#3680b9"/><stop offset=".737" stop-color="#d1e5f0"/><stop offset=".789" stop-color="#f7f6f6"/><stop offset="1" stop-color="#f7f6f6"/></linearGradient><linearGradient id="g224" gradientUnits="userSpaceOnUse" x1="0" y1="768.10" x2="0" y2="954.50"><stop offset="-0" stop-color="#f7f6f6"/><stop offset=".438" stop-color="#f7f6f6"/><stop offset=".491" stop-color="#9dcae1"/><stop offset=".579" stop-color="#3e88be"/><stop offset=".667" stop-color="#3e88be"/><stop offset=".737" stop-color="#d1e5f0"/><stop offset=".789" stop-color="#f7f6f6"/><stop offset="1" stop-color="#f7f6f6"/></linearGradient><linearGradient id="g225" gradientUnits="userSpaceOnUse" x1="0" y1="768.10" x2="0" y2="954.50"><stop offset="-0" stop-color="#f7f6f6"/><stop offset=".438" stop-color="#f7f6f6"/><stop offset=".491" stop-color="#a5cee3"/><stop offset=".579" stop-color="#4691c2"/><stop offset=".667" stop-color="#4691c2"/><stop offset=".737" stop-color="#d1e5f0"/><stop offset=".789" stop-color="#f7f6f6"/><stop offset="1" stop-color="#f7f6f6"/></linearGradient><linearGradient id="g226" gradientUnits="userSpaceOnUse" x1="0" y1="768.10" x2="0" y2="954.50"><stop offset="-0" stop-color="#f7f6f6"/><stop offset=".438" stop-color="#f7f6f6"/><stop offset=".491" stop-color="#add3e6"/><stop offset=".579" stop-color="#4e99c6"/><stop offset=".667" stop-color="#4e99c6"/><stop offset=".737" stop-color="#d1e5f0"/><stop offset=".789" stop-color="#f7f6f6"/><stop offset="1" stop-color="#f7f6f6"/></linearGradient><linearGradient id="g227" gradientUnits="userSpaceOnUse" x1="0" y1="768.10" x2="0" y2="954.50"><stop offset="-0" stop-color="#f7f6f6"/><stop offset=".438" stop-color="#f7f6f6"/><stop offset=".447" stop-color="#f1f4f5"/><stop offset=".482" stop-color="#c3deec"/><stop offset=".526" stop-color="#80b8d7"/><stop offset=".561" stop-color="#5ca2cb"/><stop offset=".579" stop-color="#58a0ca"/><stop offset=".628" stop-color="#68abd0"/><stop offset=".64" stop-color="#a5cadf"/><stop offset=".667" stop-color="#a5cadf"/><stop offset=".737" stop-color="#e4eef3"/><stop offset=".789" stop-color="#f7f6f6"/><stop offset="1" stop-color="#f7f6f6"/></linearGradient><linearGradient id="g228" gradientUnits="userSpaceOnUse" x1="0" y1="768.10" x2="0" y2="954.50"><stop offset="-0" stop-color="#f7f6f6"/><stop offset=".447" stop-color="#f7f6f6"/><stop offset=".482" stop-color="#c7e0ed"/><stop offset=".526" stop-color="#6dadd1"/><stop offset=".561" stop-color="#4b98c6"/><stop offset=".628" stop-color="#78b4d5"/><stop offset=".64" stop-color="#f9ede5"/><stop offset=".667" stop-color="#f9ebe3"/><stop offset=".807" stop-color="#f7f6f6"/><stop offset="1" stop-color="#f7f6f6"/></linearGradient><linearGradient id="g229" gradientUnits="userSpaceOnUse" x1="0" y1="768.10" x2="0" y2="954.50"><stop offset="-0" stop-color="#f7f6f6"/><stop offset=".447" stop-color="#f7f6f6"/><stop offset=".482" stop-color="#c5dfec"/><stop offset=".526" stop-color="#65a9cf"/><stop offset=".561" stop-color="#4393c3"/><stop offset=".628" stop-color="#71b0d3"/><stop offset=".64" stop-color="#f4bba4"/><stop offset=".667" stop-color="#f0b09b"/><stop offset=".702" stop-color="#f6c0a8"/><stop offset=".754" stop-color="#fbe4d7"/><stop offset=".807" stop-color="#f7f6f6"/><stop offset="1" stop-color="#f7f6f6"/></linearGradient><linearGradient id="g230" gradientUnits="userSpaceOnUse" x1="0" y1="768.10" x2="0" y2="954.50"><stop offset="-0" stop-color="#f7f6f6"/><stop offset=".447" stop-color="#f7f6f6"/><stop offset=".482" stop-color="#c5dfec"/><stop offset=".526" stop-color="#65a9cf"/><stop offset=".561" stop-color="#4393c3"/><stop offset=".628" stop-color="#71b0d3"/><stop offset=".64" stop-color="#ec9374"/><stop offset=".667" stop-color="#e48066"/><stop offset=".702" stop-color="#f09c7b"/><stop offset=".754" stop-color="#fddbc7"/><stop offset=".807" stop-color="#f7f6f6"/><stop offset="1" stop-color="#f7f6f6"/></linearGradient><linearGradient id="g231" gradientUnits="userSpaceOnUse" x1="0" y1="768.10" x2="0" y2="954.50"><stop offset="-0" stop-color="#f7f6f6"/><stop offset=".447" stop-color="#f7f6f6"/><stop offset=".482" stop-color="#c2ddec"/><stop offset=".526" stop-color="#5fa5cd"/><stop offset=".561" stop-color="#408fc1"/><stop offset=".628" stop-color="#6bacd1"/><stop offset=".64" stop-color="#d66356"/><stop offset=".667" stop-color="#ca4c48"/><stop offset=".702" stop-color="#db6e5d"/><stop offset=".754" stop-color="#facbb3"/><stop offset=".807" stop-color="#f7f6f6"/><stop offset="1" stop-color="#f7f6f6"/></linearGradient><linearGradient id="g232" gradientUnits="userSpaceOnUse" x1="0" y1="768.10" x2="0" y2="954.50"><stop offset="-0" stop-color="#f7f6f6"/><stop offset=".447" stop-color="#f7f6f6"/><stop offset=".482" stop-color="#bedceb"/><stop offset=".526" stop-color="#569fc9"/><stop offset=".561" stop-color="#3a88bd"/><stop offset=".628" stop-color="#62a7ce"/><stop offset=".64" stop-color="#bf3338"/><stop offset=".667" stop-color="#b1182b"/><stop offset=".702" stop-color="#c6413e"/><stop offset=".754" stop-color="#f8bb9e"/><stop offset=".807" stop-color="#f7f6f6"/><stop offset="1" stop-color="#f7f6f6"/></linearGradient><linearGradient id="g233" gradientUnits="userSpaceOnUse" x1="0" y1="768.10" x2="0" y2="954.50"><stop offset="-0" stop-color="#f7f6f6"/><stop offset=".447" stop-color="#f7f6f6"/><stop offset=".482" stop-color="#bcdaea"/><stop offset=".526" stop-color="#4f9bc7"/><stop offset=".561" stop-color="#3682ba"/><stop offset=".628" stop-color="#5ca3cb"/><stop offset=".64" stop-color="#bf3338"/><stop offset=".667" stop-color="#b1182b"/><stop offset=".702" stop-color="#c6413e"/><stop offset=".754" stop-color="#f8bb9e"/><stop offset=".807" stop-color="#f7f6f6"/><stop offset="1" stop-color="#f7f6f6"/></linearGradient><linearGradient id="g234" gradientUnits="userSpaceOnUse" x1="0" y1="768.10" x2="0" y2="954.50"><stop offset="-0" stop-color="#f7f6f6"/><stop offset=".447" stop-color="#f7f6f6"/><stop offset=".482" stop-color="#b8d8e9"/><stop offset=".526" stop-color="#4694c4"/><stop offset=".561" stop-color="#317bb7"/><stop offset=".628" stop-color="#529dc8"/><stop offset=".64" stop-color="#a67a8a"/><stop offset=".667" stop-color="#966780"/><stop offset=".702" stop-color="#ad838e"/><stop offset=".754" stop-color="#e6d1c7"/><stop offset=".807" stop-color="#f7f6f6"/><stop offset="1" stop-color="#f7f6f6"/></linearGradient><linearGradient id="g235" gradientUnits="userSpaceOnUse" x1="0" y1="768.10" x2="0" y2="954.50"><stop offset="-0" stop-color="#f7f6f6"/><stop offset=".447" stop-color="#f7f6f6"/><stop offset=".482" stop-color="#b3d6e8"/><stop offset=".526" stop-color="#3e8cbf"/><stop offset=".561" stop-color="#2a72b2"/><stop offset=".628" stop-color="#4795c4"/><stop offset=".64" stop-color="#8dc2dc"/><stop offset=".667" stop-color="#7bb6d6"/><stop offset=".702" stop-color="#93c6de"/><stop offset=".754" stop-color="#d4e6f1"/><stop offset=".807" stop-color="#f7f6f6"/><stop offset="1" stop-color="#f7f6f6"/></linearGradient><linearGradient id="g236" gradientUnits="userSpaceOnUse" x1="0" y1="768.10" x2="0" y2="954.50"><stop offset="-0" stop-color="#f7f6f6"/><stop offset=".447" stop-color="#f7f6f6"/><stop offset=".482" stop-color="#aed3e6"/><stop offset=".526" stop-color="#3884bb"/><stop offset=".561" stop-color="#2469ad"/><stop offset=".628" stop-color="#3f8ec0"/><stop offset=".64" stop-color="#a47587"/><stop offset=".667" stop-color="#8e657f"/><stop offset=".702" stop-color="#aa7e8c"/><stop offset=".754" stop-color="#e5cec3"/><stop offset=".807" stop-color="#f7f6f6"/><stop offset="1" stop-color="#f7f6f6"/></linearGradient><linearGradient id="g237" gradientUnits="userSpaceOnUse" x1="0" y1="768.10" x2="0" y2="954.50"><stop offset="-0" stop-color="#f7f6f6"/><stop offset=".447" stop-color="#f7f6f6"/><stop offset=".482" stop-color="#a9d1e5"/><stop offset=".526" stop-color="#327cb7"/><stop offset=".561" stop-color="#1e60a3"/><stop offset=".628" stop-color="#3986bc"/><stop offset=".64" stop-color="#b92531"/><stop offset=".667" stop-color="#a01228"/><stop offset=".702" stop-color="#c03438"/><stop offset=".754" stop-color="#f7b496"/><stop offset=".807" stop-color="#f7f6f6"/><stop offset="1" stop-color="#f7f6f6"/></linearGradient><linearGradient id="g238" gradientUnits="userSpaceOnUse" x1="0" y1="768.10" x2="0" y2="954.50"><stop offset="-0" stop-color="#f7f6f6"/><stop offset=".447" stop-color="#f7f6f6"/><stop offset=".482" stop-color="#a3cde3"/><stop offset=".526" stop-color="#2c75b4"/><stop offset=".561" stop-color="#185594"/><stop offset=".628" stop-color="#337eb8"/><stop offset=".64" stop-color="#b7212f"/><stop offset=".667" stop-color="#9b1127"/><stop offset=".702" stop-color="#bf3137"/><stop offset=".754" stop-color="#f6b394"/><stop offset=".807" stop-color="#f7f6f6"/><stop offset="1" stop-color="#f7f6f6"/></linearGradient><linearGradient id="g239" gradientUnits="userSpaceOnUse" x1="0" y1="768.10" x2="0" y2="954.50"><stop offset="-0" stop-color="#f7f6f6"/><stop offset=".447" stop-color="#f7f6f6"/><stop offset=".482" stop-color="#9fcce2"/><stop offset=".526" stop-color="#2971b2"/><stop offset=".561" stop-color="#154f8c"/><stop offset=".628" stop-color="#307ab6"/><stop offset=".64" stop-color="#b6202f"/><stop offset=".667" stop-color="#9a1027"/><stop offset=".702" stop-color="#be3137"/><stop offset=".754" stop-color="#f6b394"/><stop offset=".807" stop-color="#f7f6f6"/><stop offset="1" stop-color="#f7f6f6"/></linearGradient><linearGradient id="g240" gradientUnits="userSpaceOnUse" x1="0" y1="768.10" x2="0" y2="954.50"><stop offset="-0" stop-color="#f7f6f6"/><stop offset=".447" stop-color="#f7f6f6"/><stop offset=".482" stop-color="#9fcbe2"/><stop offset=".526" stop-color="#2970b1"/><stop offset=".561" stop-color="#144d8a"/><stop offset=".628" stop-color="#2f79b6"/><stop offset=".64" stop-color="#b72230"/><stop offset=".667" stop-color="#9c1128"/><stop offset=".702" stop-color="#bf3237"/><stop offset=".754" stop-color="#f6b495"/><stop offset=".807" stop-color="#f7f6f6"/><stop offset="1" stop-color="#f7f6f6"/></linearGradient><linearGradient id="g241" gradientUnits="userSpaceOnUse" x1="0" y1="768.10" x2="0" y2="954.50"><stop offset="-0" stop-color="#f7f6f6"/><stop offset=".447" stop-color="#f7f6f6"/><stop offset=".482" stop-color="#9ecbe1"/><stop offset=".526" stop-color="#286fb1"/><stop offset=".561" stop-color="#134c88"/><stop offset=".628" stop-color="#2f78b5"/><stop offset=".64" stop-color="#b82431"/><stop offset=".667" stop-color="#9f1228"/><stop offset=".702" stop-color="#c03438"/><stop offset=".754" stop-color="#f7b495"/><stop offset=".807" stop-color="#f7f6f6"/><stop offset="1" stop-color="#f7f6f6"/></linearGradient><linearGradient id="g242" gradientUnits="userSpaceOnUse" x1="0" y1="768.10" x2="0" y2="954.50"><stop offset="-0" stop-color="#f7f6f6"/><stop offset=".447" stop-color="#f7f6f6"/><stop offset=".482" stop-color="#9dcbe1"/><stop offset=".526" stop-color="#276eb0"/><stop offset=".561" stop-color="#134a85"/><stop offset=".628" stop-color="#2e77b5"/><stop offset=".64" stop-color="#b92632"/><stop offset=".667" stop-color="#a11228"/><stop offset=".702" stop-color="#c03539"/><stop offset=".754" stop-color="#f7b596"/><stop offset=".807" stop-color="#f7f6f6"/><stop offset="1" stop-color="#f7f6f6"/></linearGradient><linearGradient id="g243" gradientUnits="userSpaceOnUse" x1="0" y1="768.10" x2="0" y2="954.50"><stop offset="-0" stop-color="#f7f6f6"/><stop offset=".447" stop-color="#f7f6f6"/><stop offset=".482" stop-color="#a0cce2"/><stop offset=".526" stop-color="#2971b2"/><stop offset=".561" stop-color="#154e8b"/><stop offset=".628" stop-color="#307ab6"/><stop offset=".64" stop-color="#bc2c34"/><stop offset=".667" stop-color="#a6162a"/><stop offset=".702" stop-color="#c33a3b"/><stop offset=".754" stop-color="#f7b799"/><stop offset=".807" stop-color="#f7f6f6"/><stop offset="1" stop-color="#f7f6f6"/></linearGradient><linearGradient id="g244" gradientUnits="userSpaceOnUse" x1="0" y1="768.10" x2="0" y2="954.50"><stop offset="-0" stop-color="#f7f6f6"/><stop offset=".447" stop-color="#f7f6f6"/><stop offset=".482" stop-color="#a5cee3"/><stop offset=".526" stop-color="#2e77b5"/><stop offset=".561" stop-color="#195797"/><stop offset=".628" stop-color="#3580ba"/><stop offset=".64" stop-color="#c03438"/><stop offset=".667" stop-color="#ad1c2d"/><stop offset=".702" stop-color="#c7423f"/><stop offset=".754" stop-color="#f8ba9d"/><stop offset=".807" stop-color="#f7f6f6"/><stop offset="1" stop-color="#f7f6f6"/></linearGradient><linearGradient id="g245" gradientUnits="userSpaceOnUse" x1="0" y1="768.10" x2="0" y2="954.50"><stop offset="-0" stop-color="#f7f6f6"/><stop offset=".447" stop-color="#f7f6f6"/><stop offset=".482" stop-color="#a9d1e5"/><stop offset=".526" stop-color="#327db8"/><stop offset=".561" stop-color="#1e60a4"/><stop offset=".628" stop-color="#3a87bd"/><stop offset=".64" stop-color="#c43d3c"/><stop offset=".667" stop-color="#b52230"/><stop offset=".702" stop-color="#cb4b43"/><stop offset=".754" stop-color="#f8bea2"/><stop offset=".807" stop-color="#f7f6f6"/><stop offset="1" stop-color="#f7f6f6"/></linearGradient><linearGradient id="g246" gradientUnits="userSpaceOnUse" x1="0" y1="768.10" x2="0" y2="954.50"><stop offset="-0" stop-color="#f7f6f6"/><stop offset=".447" stop-color="#f7f6f6"/><stop offset=".482" stop-color="#b2d5e7"/><stop offset=".526" stop-color="#418abe"/><stop offset=".561" stop-color="#2970b1"/><stop offset=".628" stop-color="#4a94c4"/><stop offset=".64" stop-color="#d0564c"/><stop offset=".667" stop-color="#c33c3e"/><stop offset=".702" stop-color="#d66252"/><stop offset=".754" stop-color="#fac6ad"/><stop offset=".807" stop-color="#f7f6f6"/><stop offset="1" stop-color="#f7f6f6"/></linearGradient><linearGradient id="g247" gradientUnits="userSpaceOnUse" x1="0" y1="768.10" x2="0" y2="954.50"><stop offset="-0" stop-color="#f7f6f6"/><stop offset=".447" stop-color="#f7f6f6"/><stop offset=".482" stop-color="#bedceb"/><stop offset=".526" stop-color="#599ec9"/><stop offset=".561" stop-color="#3a87bd"/><stop offset=".628" stop-color="#64a7ce"/><stop offset=".64" stop-color="#e37f67"/><stop offset=".667" stop-color="#d96a59"/><stop offset=".702" stop-color="#e7886d"/><stop offset=".754" stop-color="#fcd4be"/><stop offset=".807" stop-color="#f7f6f6"/><stop offset="1" stop-color="#f7f6f6"/></linearGradient><linearGradient id="g248" gradientUnits="userSpaceOnUse" x1="0" y1="768.10" x2="0" y2="954.50"><stop offset="-0" stop-color="#f7f6f6"/><stop offset=".447" stop-color="#f7f6f6"/><stop offset=".482" stop-color="#cae1ee"/><stop offset=".526" stop-color="#75b2d4"/><stop offset=".561" stop-color="#569fca"/><stop offset=".628" stop-color="#80b9d8"/><stop offset=".64" stop-color="#f09f82"/><stop offset=".667" stop-color="#e98f74"/><stop offset=".702" stop-color="#f2a788"/><stop offset=".754" stop-color="#fcddcb"/><stop offset=".807" stop-color="#f7f6f6"/><stop offset="1" stop-color="#f7f6f6"/></linearGradient><linearGradient id="g249" gradientUnits="userSpaceOnUse" x1="0" y1="768.10" x2="0" y2="954.50"><stop offset="-0" stop-color="#f7f6f6"/><stop offset=".447" stop-color="#f7f6f6"/><stop offset=".482" stop-color="#d4e6f0"/><stop offset=".526" stop-color="#95c5de"/><stop offset=".561" stop-color="#7db8d7"/><stop offset=".628" stop-color="#9dcae1"/><stop offset=".64" stop-color="#f6b89c"/><stop offset=".667" stop-color="#f3ad90"/><stop offset=".702" stop-color="#f7bda2"/><stop offset=".754" stop-color="#fbe2d4"/><stop offset=".807" stop-color="#f7f6f6"/><stop offset="1" stop-color="#f7f6f6"/></linearGradient><linearGradient id="g250" gradientUnits="userSpaceOnUse" x1="0" y1="768.10" x2="0" y2="954.50"><stop offset="-0" stop-color="#f7f6f6"/><stop offset=".447" stop-color="#f7f6f6"/><stop offset=".482" stop-color="#d9e9f1"/><stop offset=".526" stop-color="#a6cfe4"/><stop offset=".561" stop-color="#93c5de"/><stop offset=".628" stop-color="#aed3e6"/><stop offset=".64" stop-color="#f9c6ac"/><stop offset=".667" stop-color="#f8bea1"/><stop offset=".702" stop-color="#facab1"/><stop offset=".754" stop-color="#fbe5d9"/><stop offset=".807" stop-color="#f7f6f6"/><stop offset="1" stop-color="#f7f6f6"/></linearGradient><linearGradient id="g251" gradientUnits="userSpaceOnUse" x1="0" y1="768.10" x2="0" y2="954.50"><stop offset="-0" stop-color="#f7f6f6"/><stop offset=".447" stop-color="#f7f6f6"/><stop offset=".482" stop-color="#dae9f2"/><stop offset=".526" stop-color="#aad1e5"/><stop offset=".561" stop-color="#97c8df"/><stop offset=".628" stop-color="#b1d5e7"/><stop offset=".64" stop-color="#fac9b0"/><stop offset=".667" stop-color="#f9c2a7"/><stop offset=".702" stop-color="#facdb5"/><stop offset=".754" stop-color="#fbe6da"/><stop offset=".807" stop-color="#f7f6f6"/><stop offset="1" stop-color="#f7f6f6"/></linearGradient><linearGradient id="g252" gradientUnits="userSpaceOnUse" x1="0" y1="768.10" x2="0" y2="954.50"><stop offset="-0" stop-color="#f7f6f6"/><stop offset=".447" stop-color="#f7f6f6"/><stop offset=".482" stop-color="#dbeaf2"/><stop offset=".526" stop-color="#aed3e6"/><stop offset=".561" stop-color="#9ccae1"/><stop offset=".628" stop-color="#b5d7e8"/><stop offset=".64" stop-color="#facdb5"/><stop offset=".667" stop-color="#fac7ad"/><stop offset=".702" stop-color="#fbd0ba"/><stop offset=".807" stop-color="#f7f6f6"/><stop offset="1" stop-color="#f7f6f6"/></linearGradient><linearGradient id="g253" gradientUnits="userSpaceOnUse" x1="0" y1="768.10" x2="0" y2="954.50"><stop offset="-0" stop-color="#f7f6f6"/><stop offset=".447" stop-color="#f7f6f6"/><stop offset=".526" stop-color="#b2d5e7"/><stop offset=".561" stop-color="#a1cce2"/><stop offset=".628" stop-color="#b8d8e9"/><stop offset=".64" stop-color="#fbd0ba"/><stop offset=".667" stop-color="#facbb3"/><stop offset=".702" stop-color="#fbd4bf"/><stop offset=".807" stop-color="#f7f6f6"/><stop offset="1" stop-color="#f7f6f6"/></linearGradient><linearGradient id="g254" gradientUnits="userSpaceOnUse" x1="0" y1="768.10" x2="0" y2="954.50"><stop offset="-0" stop-color="#f7f6f6"/><stop offset=".447" stop-color="#f7f6f6"/><stop offset=".526" stop-color="#b6d7e8"/><stop offset=".561" stop-color="#a5cfe3"/><stop offset=".628" stop-color="#bcdaea"/><stop offset=".64" stop-color="#fbd4bf"/><stop offset=".667" stop-color="#fbd0b9"/><stop offset=".702" stop-color="#fbd7c3"/><stop offset=".807" stop-color="#f7f6f6"/><stop offset="1" stop-color="#f7f6f6"/></linearGradient><linearGradient id="g255" gradientUnits="userSpaceOnUse" x1="0" y1="768.10" x2="0" y2="954.50"><stop offset="-0" stop-color="#f7f6f6"/><stop offset=".447" stop-color="#f7f6f6"/><stop offset=".526" stop-color="#bad9e9"/><stop offset=".561" stop-color="#aad1e5"/><stop offset=".628" stop-color="#bfdceb"/><stop offset=".64" stop-color="#fcd8c4"/><stop offset=".667" stop-color="#fcd4be"/><stop offset=".702" stop-color="#fcdac8"/><stop offset=".807" stop-color="#f7f6f6"/><stop offset="1" stop-color="#f7f6f6"/></linearGradient><linearGradient id="g256" gradientUnits="userSpaceOnUse" x1="0" y1="768.10" x2="0" y2="954.50"><stop offset="-0" stop-color="#f7f6f6"/><stop offset=".447" stop-color="#f7f6f6"/><stop offset=".526" stop-color="#bedbeb"/><stop offset=".561" stop-color="#afd3e6"/><stop offset=".628" stop-color="#c3deec"/><stop offset=".64" stop-color="#fcdbc8"/><stop offset=".667" stop-color="#fdd9c4"/><stop offset=".702" stop-color="#fcdecc"/><stop offset=".807" stop-color="#f7f6f6"/><stop offset="1" stop-color="#f7f6f6"/></linearGradient></defs><rect x="1224.00" y="768.10" width="12.13" height="186.40" fill="url(#g210)"/><rect x="1235.53" y="768.10" width="12.13" height="186.40" fill="url(#g211)"/><rect x="1247.06" y="768.10" width="12.13" height="186.40" fill="url(#g212)"/><rect x="1258.60" y="768.10" width="12.13" height="186.40" fill="url(#g213)"/><rect x="1270.13" y="768.10" width="10.59" height="186.40" fill="url(#g214)"/><rect x="1280.12" y="768.10" width="10.59" height="186.40" fill="url(#g213)"/><rect x="1290.12" y="768.10" width="10.59" height="186.40" fill="url(#g215)"/><rect x="1300.11" y="768.10" width="10.59" height="186.40" fill="url(#g216)"/><rect x="1310.11" y="768.10" width="6.75" height="186.40" fill="url(#g217)"/><rect x="1316.26" y="768.10" width="19.67" height="186.40" fill="url(#g218)"/><rect x="1335.32" y="768.10" width="3.68" height="186.40" fill="url(#g219)"/><rect x="1338.40" y="768.10" width="9.21" height="186.40" fill="url(#g220)"/><rect x="1347.01" y="768.10" width="8.29" height="186.40" fill="url(#g221)"/><rect x="1354.70" y="768.10" width="8.29" height="186.40" fill="url(#g222)"/><rect x="1362.38" y="768.10" width="10.59" height="186.40" fill="url(#g223)"/><rect x="1372.38" y="768.10" width="10.59" height="186.40" fill="url(#g224)"/><rect x="1382.37" y="768.10" width="10.59" height="186.40" fill="url(#g225)"/><rect x="1392.37" y="768.10" width="10.59" height="186.40" fill="url(#g226)"/><rect x="1402.36" y="768.10" width="12.90" height="186.40" fill="url(#g227)"/><rect x="1414.66" y="768.10" width="21.20" height="186.40" fill="url(#g228)"/><rect x="1435.27" y="768.10" width="10.75" height="186.40" fill="url(#g229)"/><rect x="1445.41" y="768.10" width="40.58" height="186.40" fill="url(#g230)"/><rect x="1485.39" y="768.10" width="20.59" height="186.40" fill="url(#g231)"/><rect x="1505.38" y="768.10" width="17.51" height="186.40" fill="url(#g232)"/><rect x="1522.29" y="768.10" width="17.51" height="186.40" fill="url(#g233)"/><rect x="1539.21" y="768.10" width="3.68" height="186.40" fill="url(#g234)"/><rect x="1542.28" y="768.10" width="20.59" height="186.40" fill="url(#g235)"/><rect x="1562.27" y="768.10" width="4.29" height="186.40" fill="url(#g236)"/><rect x="1565.96" y="768.10" width="14.13" height="186.40" fill="url(#g237)"/><rect x="1579.49" y="768.10" width="14.13" height="186.40" fill="url(#g238)"/><rect x="1593.02" y="768.10" width="19.82" height="186.40" fill="url(#g239)"/><rect x="1612.24" y="768.10" width="19.82" height="186.40" fill="url(#g240)"/><rect x="1631.46" y="768.10" width="19.82" height="186.40" fill="url(#g241)"/><rect x="1650.68" y="768.10" width="19.82" height="186.40" fill="url(#g242)"/><rect x="1669.90" y="768.10" width="25.20" height="186.40" fill="url(#g243)"/><rect x="1694.51" y="768.10" width="25.20" height="186.40" fill="url(#g244)"/><rect x="1719.11" y="768.10" width="25.20" height="186.40" fill="url(#g245)"/><rect x="1743.71" y="768.10" width="25.20" height="186.40" fill="url(#g246)"/><rect x="1768.31" y="768.10" width="25.20" height="186.40" fill="url(#g247)"/><rect x="1792.91" y="768.10" width="22.13" height="186.40" fill="url(#g248)"/><rect x="1814.44" y="768.10" width="22.13" height="186.40" fill="url(#g249)"/><rect x="1835.96" y="768.10" width="23.01" height="186.40" fill="url(#g250)"/><rect x="1858.37" y="768.10" width="23.01" height="186.40" fill="url(#g251)"/><rect x="1880.77" y="768.10" width="23.01" height="186.40" fill="url(#g252)"/><rect x="1903.18" y="768.10" width="23.01" height="186.40" fill="url(#g253)"/><rect x="1925.58" y="768.10" width="23.01" height="186.40" fill="url(#g254)"/><rect x="1947.99" y="768.10" width="23.01" height="186.40" fill="url(#g255)"/><rect x="1970.39" y="768.10" width="22.41" height="186.40" fill="url(#g256)"/></g><path d="M 1224 954.5 
L 1224 768.1 
" class="s1"/><use xlink:href="#k0" x="1224" y="954.5" class="s2"/><path d="M 1377.8 954.5 
L 1377.8 768.1 
" class="s1"/><use xlink:href="#k0" x="1377.76" y="954.5" class="s2"/><path d="M 1531.5 954.5 
L 1531.5 768.1 
" class="s1"/><use xlink:href="#k0" x="1531.52" y="954.5" class="s2"/><path d="M 1685.3 954.5 
L 1685.3 768.1 
" class="s1"/><use xlink:href="#k0" x="1685.28" y="954.5" class="s2"/><path d="M 1839 954.5 
L 1839 768.1 
" class="s1"/><use xlink:href="#k0" x="1839.04" y="954.5" class="s2"/><path d="M 1992.8 954.5 
L 1992.8 768.1 
" class="s1"/><use xlink:href="#k0" x="1992.8" y="954.5" class="s2"/><path d="M 1254.8 954.5 
L 1254.8 768.1 
" class="s1"/><use xlink:href="#k1" x="1254.752" y="954.5" class="s0"/><path d="M 1285.5 954.5 
L 1285.5 768.1 
" class="s1"/><use xlink:href="#k1" x="1285.504" y="954.5" class="s0"/><path d="M 1316.3 954.5 
L 1316.3 768.1 
" class="s1"/><use xlink:href="#k1" x="1316.256" y="954.5" class="s0"/><path d="M 1347 954.5 
L 1347 768.1 
" class="s1"/><use xlink:href="#k1" x="1347.008" y="954.5" class="s0"/><path d="M 1408.5 954.5 
L 1408.5 768.1 
" class="s1"/><use xlink:href="#k1" x="1408.512" y="954.5" class="s0"/><path d="M 1439.3 954.5 
L 1439.3 768.1 
" class="s1"/><use xlink:href="#k1" x="1439.264" y="954.5" class="s0"/><path d="M 1470 954.5 
L 1470 768.1 
" class="s1"/><use xlink:href="#k1" x="1470.016" y="954.5" class="s0"/><path d="M 1500.8 954.5 
L 1500.8 768.1 
" class="s1"/><use xlink:href="#k1" x="1500.768" y="954.5" class="s0"/><path d="M 1562.3 954.5 
L 1562.3 768.1 
" class="s1"/><use xlink:href="#k1" x="1562.272" y="954.5" class="s0"/><path d="M 1593 954.5 
L 1593 768.1 
" class="s1"/><use xlink:href="#k1" x="1593.024" y="954.5" class="s0"/><path d="M 1623.8 954.5 
L 1623.8 768.1 
" class="s1"/><use xlink:href="#k1" x="1623.776" y="954.5" class="s0"/><path d="M 1654.5 954.5 
L 1654.5 768.1 
" class="s1"/><use xlink:href="#k1" x="1654.528" y="954.5" class="s0"/><path d="M 1716 954.5 
L 1716 768.1 
" class="s1"/><use xlink:href="#k1" x="1716.032" y="954.5" class="s0"/><path d="M 1746.8 954.5 
L 1746.8 768.1 
" class="s1"/><use xlink:href="#k1" x="1746.784" y="954.5" class="s0"/><path d="M 1777.5 954.5 
L 1777.5 768.1 
" class="s1"/><use xlink:href="#k1" x="1777.536" y="954.5" class="s0"/><path d="M 1808.3 954.5 
L 1808.3 768.1 
" class="s1"/><use xlink:href="#k1" x="1808.288" y="954.5" class="s0"/><path d="M 1869.8 954.5 
L 1869.8 768.1 
" class="s1"/><use xlink:href="#k1" x="1869.792" y="954.5" class="s0"/><path d="M 1900.5 954.5 
L 1900.5 768.1 
" class="s1"/><use xlink:href="#k1" x="1900.544" y="954.5" class="s0"/><path d="M 1931.3 954.5 
L 1931.3 768.1 
" class="s1"/><use xlink:href="#k1" x="1931.296" y="954.5" class="s0"/><path d="M 1962 954.5 
L 1962 768.1 
" class="s1"/><use xlink:href="#k1" x="1962.048" y="954.5" class="s0"/><path d="M 1224 954.5 
L 1992.8 954.5 
" class="s1"/><use xlink:href="#k2" x="1224" y="954.5" class="s2"/><g transform="translate(1160.855 963.88407)"><text><tspan x="0" y="-0.676563" class="s4">1</tspan><tspan x="15.746704" y="-0.676563" class="s4">0</tspan><tspan x="31.732666" y="-10.246875" class="s5">−</tspan><tspan x="46.249121" y="-10.246875" class="s5">4</tspan></text></g><path d="M 1224 921.8 
L 1992.8 921.8 
" class="s1"/><use xlink:href="#k2" x="1224" y="921.792335" class="s2"/><g transform="translate(1160.855 931.176406)"><text><tspan x="0" y="-0.435938" class="s4">1</tspan><tspan x="15.746704" y="-0.435938" class="s4">0</tspan><tspan x="31.732666" y="-10.00625" class="s5">−</tspan><tspan x="46.249121" y="-10.00625" class="s5">3</tspan></text></g><path d="M 1224 889.1 
L 1992.8 889.1 
" class="s1"/><use xlink:href="#k2" x="1224" y="889.084671" class="s2"/><g transform="translate(1160.855 898.468741)"><text><tspan x="0" y="-0.435938" class="s4">1</tspan><tspan x="15.746704" y="-0.435938" class="s4">0</tspan><tspan x="31.732666" y="-10.00625" class="s5">−</tspan><tspan x="46.249121" y="-10.00625" class="s5">2</tspan></text></g><path d="M 1224 856.4 
L 1992.8 856.4 
" class="s1"/><use xlink:href="#k2" x="1224" y="856.377006" class="s2"/><g transform="translate(1160.855 865.761076)"><text><tspan x="0" y="-0.676563" class="s4">1</tspan><tspan x="15.746704" y="-0.676563" class="s4">0</tspan><tspan x="31.732666" y="-10.246875" class="s5">−</tspan><tspan x="46.249121" y="-10.246875" class="s5">1</tspan></text></g><path d="M 1224 823.7 
L 1992.8 823.7 
" class="s1"/><use xlink:href="#k2" x="1224" y="823.669341" class="s2"/><g transform="translate(1175.428 833.053412)"><text><tspan x="0" y="-0.435938" class="s4">1</tspan><tspan x="15.746704" y="-0.435938" class="s4">0</tspan><tspan x="31.732666" y="-10.00625" class="s5">0</tspan></text></g><path d="M 1224 791 
L 1992.8 791 
" class="s1"/><use xlink:href="#k2" x="1224" y="790.961677" class="s2"/><g transform="translate(1175.428 800.345747)"><text><tspan x="0" y="-0.676563" class="s4">1</tspan><tspan x="15.746704" y="-0.676563" class="s4">0</tspan><tspan x="31.732666" y="-10.246875" class="s5">1</tspan></text></g><path d="M 1224 944.7 
L 1992.8 944.7 
" class="s1"/><use xlink:href="#k4" x="1224" y="944.654012" class="s0"/><path d="M 1224 938.9 
L 1992.8 938.9 
" class="s1"/><use xlink:href="#k4" x="1224" y="938.894478" class="s0"/><path d="M 1224 934.8 
L 1992.8 934.8 
" class="s1"/><use xlink:href="#k4" x="1224" y="934.808024" class="s0"/><path d="M 1224 931.6 
L 1992.8 931.6 
" class="s1"/><use xlink:href="#k4" x="1224" y="931.638323" class="s0"/><path d="M 1224 929 
L 1992.8 929 
" class="s1"/><use xlink:href="#k4" x="1224" y="929.04849" class="s0"/><path d="M 1224 926.9 
L 1992.8 926.9 
" class="s1"/><use xlink:href="#k4" x="1224" y="926.858817" class="s0"/><path d="M 1224 925 
L 1992.8 925 
" class="s1"/><use xlink:href="#k4" x="1224" y="924.962036" class="s0"/><path d="M 1224 923.3 
L 1992.8 923.3 
" class="s1"/><use xlink:href="#k4" x="1224" y="923.288956" class="s0"/><path d="M 1224 911.9 
L 1992.8 911.9 
" class="s1"/><use xlink:href="#k4" x="1224" y="911.946347" class="s0"/><path d="M 1224 906.2 
L 1992.8 906.2 
" class="s1"/><use xlink:href="#k4" x="1224" y="906.186813" class="s0"/><path d="M 1224 902.1 
L 1992.8 902.1 
" class="s1"/><use xlink:href="#k4" x="1224" y="902.100359" class="s0"/><path d="M 1224 898.9 
L 1992.8 898.9 
" class="s1"/><use xlink:href="#k4" x="1224" y="898.930659" class="s0"/><path d="M 1224 896.3 
L 1992.8 896.3 
" class="s1"/><use xlink:href="#k4" x="1224" y="896.340825" class="s0"/><path d="M 1224 894.2 
L 1992.8 894.2 
" class="s1"/><use xlink:href="#k4" x="1224" y="894.151152" class="s0"/><path d="M 1224 892.3 
L 1992.8 892.3 
" class="s1"/><use xlink:href="#k4" x="1224" y="892.254371" class="s0"/><path d="M 1224 890.6 
L 1992.8 890.6 
" class="s1"/><use xlink:href="#k4" x="1224" y="890.581291" class="s0"/><path d="M 1224 879.2 
L 1992.8 879.2 
" class="s1"/><use xlink:href="#k4" x="1224" y="879.238682" class="s0"/><path d="M 1224 873.5 
L 1992.8 873.5 
" class="s1"/><use xlink:href="#k4" x="1224" y="873.479149" class="s0"/><path d="M 1224 869.4 
L 1992.8 869.4 
" class="s1"/><use xlink:href="#k4" x="1224" y="869.392694" class="s0"/><path d="M 1224 866.2 
L 1992.8 866.2 
" class="s1"/><use xlink:href="#k4" x="1224" y="866.222994" class="s0"/><path d="M 1224 863.6 
L 1992.8 863.6 
" class="s1"/><use xlink:href="#k4" x="1224" y="863.63316" class="s0"/><path d="M 1224 861.4 
L 1992.8 861.4 
" class="s1"/><use xlink:href="#k4" x="1224" y="861.443487" class="s0"/><path d="M 1224 859.5 
L 1992.8 859.5 
" class="s1"/><use xlink:href="#k4" x="1224" y="859.546706" class="s0"/><path d="M 1224 857.9 
L 1992.8 857.9 
" class="s1"/><use xlink:href="#k4" x="1224" y="857.873627" class="s0"/><path d="M 1224 846.5 
L 1992.8 846.5 
" class="s1"/><use xlink:href="#k4" x="1224" y="846.531018" class="s0"/><path d="M 1224 840.8 
L 1992.8 840.8 
" class="s1"/><use xlink:href="#k4" x="1224" y="840.771484" class="s0"/><path d="M 1224 836.7 
L 1992.8 836.7 
" class="s1"/><use xlink:href="#k4" x="1224" y="836.68503" class="s0"/><path d="M 1224 833.5 
L 1992.8 833.5 
" class="s1"/><use xlink:href="#k4" x="1224" y="833.515329" class="s0"/><path d="M 1224 830.9 
L 1992.8 830.9 
" class="s1"/><use xlink:href="#k4" x="1224" y="830.925496" class="s0"/><path d="M 1224 828.7 
L 1992.8 828.7 
" class="s1"/><use xlink:href="#k4" x="1224" y="828.735823" class="s0"/><path d="M 1224 826.8 
L 1992.8 826.8 
" class="s1"/><use xlink:href="#k4" x="1224" y="826.839041" class="s0"/><path d="M 1224 825.2 
L 1992.8 825.2 
" class="s1"/><use xlink:href="#k4" x="1224" y="825.165962" class="s0"/><path d="M 1224 813.8 
L 1992.8 813.8 
" class="s1"/><use xlink:href="#k4" x="1224" y="813.823353" class="s0"/><path d="M 1224 808.1 
L 1992.8 808.1 
" class="s1"/><use xlink:href="#k4" x="1224" y="808.063819" class="s0"/><path d="M 1224 804 
L 1992.8 804 
" class="s1"/><use xlink:href="#k4" x="1224" y="803.977365" class="s0"/><path d="M 1224 800.8 
L 1992.8 800.8 
" class="s1"/><use xlink:href="#k4" x="1224" y="800.807665" class="s0"/><path d="M 1224 798.2 
L 1992.8 798.2 
" class="s1"/><use xlink:href="#k4" x="1224" y="798.217831" class="s0"/><path d="M 1224 796 
L 1992.8 796 
" class="s1"/><use xlink:href="#k4" x="1224" y="796.028158" class="s0"/><path d="M 1224 794.1 
L 1992.8 794.1 
" class="s1"/><use xlink:href="#k4" x="1224" y="794.131377" class="s0"/><path d="M 1224 792.5 
L 1992.8 792.5 
" class="s1"/><use xlink:href="#k4" x="1224" y="792.458297" class="s0"/><path d="M 1224 781.1 
L 1992.8 781.1 
" class="s1"/><use xlink:href="#k4" x="1224" y="781.115688" class="s0"/><path d="M 1224 775.4 
L 1992.8 775.4 
" class="s1"/><use xlink:href="#k4" x="1224" y="775.356155" class="s0"/><path d="M 1224 771.3 
L 1992.8 771.3 
" class="s1"/><use xlink:href="#k4" x="1224" y="771.2697" class="s0"/><path d="M 1224 768.1 
L 1992.8 768.1 
" class="s1"/><use xlink:href="#k4" x="1224" y="768.1" class="s0"/><g transform="translate(1143.68 932.9625) rotate(-90)"><text><tspan x="0" y="-0.921875" class="s7">p</tspan><tspan x="48.208252" y="-0.921875" class="s7">m</tspan><tspan x="87.09021" y="-0.921875" class="s7">v</tspan><tspan x="20.629883" y="4.492188" class="s8">e</tspan><tspan x="79.867188" y="4.492188" class="s8">i</tspan><tspan x="106.323608" y="4.492188" class="s8">p</tspan><tspan x="120.764526" y="4.492188" class="s8">t</tspan><tspan x="35.528809" y="-0.921875" class="s9">[</tspan><tspan x="130.586914" y="-0.921875" class="s9">]</tspan></text></g><path d="M 1224 954.5 
L 1224 768.1 
" class="s6"/><path d="M 1992.8 954.5 
L 1992.8 768.1 
" class="s6"/><path d="M 1224 954.5 
L 1992.8 954.5 
" class="s6"/><path d="M 1224 768.1 
L 1992.8 768.1 
" class="s6"/><path d="M 1922 813 
L 1983.8 813 
L 1983.8 774.4 
L 1922 774.4 
z
" clip-path="url(#k13)" class="s14"/><text class="s15" x="1952.85" y="801.871063">(f2)</text><path d="M 900.9 954.5 
L 927.7 954.5 
L 927.7 516.5 
L 900.9 516.5 
z
" class="s11"/><g id="HEAT_cbc"><defs><linearGradient id="cb_cbc" gradientUnits="userSpaceOnUse" x1="0" y1="516.50" x2="0" y2="954.50"><stop offset="0.0000" stop-color="#fcfdbf"/><stop offset="0.0417" stop-color="#fdebac"/><stop offset="0.0833" stop-color="#fed799"/><stop offset="0.1250" stop-color="#fec488"/><stop offset="0.1667" stop-color="#feb078"/><stop offset="0.2083" stop-color="#fd9b6b"/><stop offset="0.2500" stop-color="#fc8961"/><stop offset="0.2917" stop-color="#f8745c"/><stop offset="0.3333" stop-color="#f1605d"/><stop offset="0.3750" stop-color="#e75263"/><stop offset="0.4167" stop-color="#d8456c"/><stop offset="0.4583" stop-color="#c73d73"/><stop offset="0.5000" stop-color="#b73779"/><stop offset="0.5417" stop-color="#a5317e"/><stop offset="0.5833" stop-color="#932b80"/><stop offset="0.6250" stop-color="#832681"/><stop offset="0.6667" stop-color="#721f81"/><stop offset="0.7083" stop-color="#601880"/><stop offset="0.7500" stop-color="#51127c"/><stop offset="0.7917" stop-color="#3f0f72"/><stop offset="0.8333" stop-color="#2c115f"/><stop offset="0.8750" stop-color="#1d1147"/><stop offset="0.9167" stop-color="#100b2d"/><stop offset="0.9583" stop-color="#050416"/><stop offset="1.0000" stop-color="#000004"/></linearGradient></defs><rect x="900.90" y="516.50" width="26.80" height="438.00" fill="url(#cb_cbc)"/></g><g id="matplotlib.axis_16"/><defs><path id="k5" d="M 0 0 
L -21.5 0 
" class="s2"/></defs><use xlink:href="#k5" x="927.7" y="954.5" class="s2"/><g transform="translate(933.5 963.88407)"><text><tspan x="0" y="-0.435938" class="s4">1</tspan><tspan x="15.746704" y="-0.435938" class="s4">0</tspan><tspan x="31.732666" y="-10.00625" class="s5">−</tspan><tspan x="46.249121" y="-10.00625" class="s5">6</tspan></text></g><use xlink:href="#k5" x="927.7" y="881.5" class="s2"/><g transform="translate(933.5 890.88407)"><text><tspan x="0" y="-0.676563" class="s4">1</tspan><tspan x="15.746704" y="-0.676563" class="s4">0</tspan><tspan x="31.732666" y="-10.246875" class="s5">−</tspan><tspan x="46.249121" y="-10.246875" class="s5">5</tspan></text></g><use xlink:href="#k5" x="927.7" y="808.5" class="s2"/><g transform="translate(933.5 817.88407)"><text><tspan x="0" y="-0.676563" class="s4">1</tspan><tspan x="15.746704" y="-0.676563" class="s4">0</tspan><tspan x="31.732666" y="-10.246875" class="s5">−</tspan><tspan x="46.249121" y="-10.246875" class="s5">4</tspan></text></g><use xlink:href="#k5" x="927.7" y="735.5" class="s2"/><g transform="translate(933.5 744.88407)"><text><tspan x="0" y="-0.435938" class="s4">1</tspan><tspan x="15.746704" y="-0.435938" class="s4">0</tspan><tspan x="31.732666" y="-10.00625" class="s5">−</tspan><tspan x="46.249121" y="-10.00625" class="s5">3</tspan></text></g><use xlink:href="#k5" x="927.7" y="662.5" class="s2"/><g transform="translate(933.5 671.88407)"><text><tspan x="0" y="-0.435938" class="s4">1</tspan><tspan x="15.746704" y="-0.435938" class="s4">0</tspan><tspan x="31.732666" y="-10.00625" class="s5">−</tspan><tspan x="46.249121" y="-10.00625" class="s5">2</tspan></text></g><use xlink:href="#k5" x="927.7" y="589.5" class="s2"/><g transform="translate(933.5 598.88407)"><text><tspan x="0" y="-0.676563" class="s4">1</tspan><tspan x="15.746704" y="-0.676563" class="s4">0</tspan><tspan x="31.732666" y="-10.246875" class="s5">−</tspan><tspan x="46.249121" y="-10.246875" class="s5">1</tspan></text></g><use xlink:href="#k5" x="927.7" y="516.5" class="s2"/><g transform="translate(933.5 525.88407)"><text><tspan x="0" y="-0.435938" class="s4">1</tspan><tspan x="15.746704" y="-0.435938" class="s4">0</tspan><tspan x="31.732666" y="-10.00625" class="s5">0</tspan></text></g><use xlink:href="#k5" x="927.7" y="932.52481" class="s2"/><use xlink:href="#k5" x="927.7" y="919.670148" class="s2"/><use xlink:href="#k5" x="927.7" y="910.549621" class="s2"/><use xlink:href="#k5" x="927.7" y="903.47519" class="s2"/><use xlink:href="#k5" x="927.7" y="897.694959" class="s2"/><use xlink:href="#k5" x="927.7" y="892.807843" class="s2"/><use xlink:href="#k5" x="927.7" y="888.574431" class="s2"/><use xlink:href="#k5" x="927.7" y="884.840297" class="s2"/><use xlink:href="#k5" x="927.7" y="859.52481" class="s2"/><use xlink:href="#k5" x="927.7" y="846.670148" class="s2"/><use xlink:href="#k5" x="927.7" y="837.549621" class="s2"/><use xlink:href="#k5" x="927.7" y="830.47519" class="s2"/><use xlink:href="#k5" x="927.7" y="824.694959" class="s2"/><use xlink:href="#k5" x="927.7" y="819.807843" class="s2"/><use xlink:href="#k5" x="927.7" y="815.574431" class="s2"/><use xlink:href="#k5" x="927.7" y="811.840297" class="s2"/><use xlink:href="#k5" x="927.7" y="786.52481" class="s2"/><use xlink:href="#k5" x="927.7" y="773.670148" class="s2"/><use xlink:href="#k5" x="927.7" y="764.549621" class="s2"/><use xlink:href="#k5" x="927.7" y="757.47519" class="s2"/><use xlink:href="#k5" x="927.7" y="751.694959" class="s2"/><use xlink:href="#k5" x="927.7" y="746.807843" class="s2"/><use xlink:href="#k5" x="927.7" y="742.574431" class="s2"/><use xlink:href="#k5" x="927.7" y="738.840297" class="s2"/><use xlink:href="#k5" x="927.7" y="713.52481" class="s2"/><use xlink:href="#k5" x="927.7" y="700.670148" class="s2"/><use xlink:href="#k5" x="927.7" y="691.549621" class="s2"/><use xlink:href="#k5" x="927.7" y="684.47519" class="s2"/><use xlink:href="#k5" x="927.7" y="678.694959" class="s2"/><use xlink:href="#k5" x="927.7" y="673.807843" class="s2"/><use xlink:href="#k5" x="927.7" y="669.574431" class="s2"/><use xlink:href="#k5" x="927.7" y="665.840297" class="s2"/><use xlink:href="#k5" x="927.7" y="640.52481" class="s2"/><use xlink:href="#k5" x="927.7" y="627.670148" class="s2"/><use xlink:href="#k5" x="927.7" y="618.549621" class="s2"/><use xlink:href="#k5" x="927.7" y="611.47519" class="s2"/><use xlink:href="#k5" x="927.7" y="605.694959" class="s2"/><use xlink:href="#k5" x="927.7" y="600.807843" class="s2"/><use xlink:href="#k5" x="927.7" y="596.574431" class="s2"/><use xlink:href="#k5" x="927.7" y="592.840297" class="s2"/><use xlink:href="#k5" x="927.7" y="567.52481" class="s2"/><use xlink:href="#k5" x="927.7" y="554.670148" class="s2"/><use xlink:href="#k5" x="927.7" y="545.549621" class="s2"/><use xlink:href="#k5" x="927.7" y="538.47519" class="s2"/><use xlink:href="#k5" x="927.7" y="532.694959" class="s2"/><use xlink:href="#k5" x="927.7" y="527.807843" class="s2"/><use xlink:href="#k5" x="927.7" y="523.574431" class="s2"/><use xlink:href="#k5" x="927.7" y="519.840297" class="s2"/><g transform="translate(1025.445 764.2625) rotate(-90)"><text><tspan x="0" y="-0.921875" class="s7">f</tspan><tspan x="24.121094" y="-0.921875" class="s7">p</tspan><tspan x="11.44165" y="-0.921875" class="s9">(</tspan><tspan x="44.750977" y="-0.921875" class="s9">)</tspan></text></g><path d="M 900.9 954.5 
L 900.9 516.5 
" class="s6"/><path d="M 927.7 954.5 
L 927.7 516.5 
" class="s6"/><path d="M 900.9 954.5 
L 927.7 954.5 
" class="s6"/><path d="M 900.9 516.5 
L 927.7 516.5 
" class="s6"/></g><path d="M 2015.8 451.3 
L 2042.8 451.3 
L 2042.8 13.3 
L 2015.8 13.3 
z
" class="s11"/><g id="HEAT_cbe"><defs><linearGradient id="cb_cbe" gradientUnits="userSpaceOnUse" x1="0" y1="13.30" x2="0" y2="451.30"><stop offset="0.0000" stop-color="#9e0142"/><stop offset="0.0417" stop-color="#b41947"/><stop offset="0.0833" stop-color="#cb334d"/><stop offset="0.1250" stop-color="#dc484c"/><stop offset="0.1667" stop-color="#e95c47"/><stop offset="0.2083" stop-color="#f57245"/><stop offset="0.2500" stop-color="#f88c51"/><stop offset="0.2917" stop-color="#fca85e"/><stop offset="0.3333" stop-color="#fdbf6f"/><stop offset="0.3750" stop-color="#fed27f"/><stop offset="0.4167" stop-color="#fee593"/><stop offset="0.4583" stop-color="#fff2aa"/><stop offset="0.5000" stop-color="#fffebe"/><stop offset="0.5417" stop-color="#f5fbaf"/><stop offset="0.5833" stop-color="#eaf79e"/><stop offset="0.6250" stop-color="#d8ef9b"/><stop offset="0.6667" stop-color="#bfe5a0"/><stop offset="0.7083" stop-color="#a4daa4"/><stop offset="0.7500" stop-color="#89d0a4"/><stop offset="0.7917" stop-color="#6bc4a5"/><stop offset="0.8333" stop-color="#54aead"/><stop offset="0.8750" stop-color="#3f97b7"/><stop offset="0.9167" stop-color="#3a7eb8"/><stop offset="0.9583" stop-color="#4d65ad"/><stop offset="1.0000" stop-color="#5e4fa2"/></linearGradient></defs><rect x="2015.75" y="13.30" width="27.05" height="438.00" fill="url(#cb_cbe)"/></g><g id="matplotlib.axis_18"/><use xlink:href="#k5" x="2042.8" y="13.3" class="s2"/><g transform="translate(2048.6 22.68407)"><text><tspan x="0" y="-0.435938" class="s4">1</tspan><tspan x="15.746704" y="-0.435938" class="s4">0</tspan><tspan x="31.732666" y="-10.00625" class="s5">0</tspan></text></g><use xlink:href="#k5" x="2042.8" y="94.803536" class="s2"/><g transform="translate(2048.6 104.187606)"><text><tspan x="0" y="-0.676563" class="s4">1</tspan><tspan x="15.746704" y="-0.676563" class="s4">0</tspan><tspan x="31.732666" y="-10.246875" class="s5">−</tspan><tspan x="46.249121" y="-10.246875" class="s5">1</tspan></text></g><use xlink:href="#k5" x="2042.8" y="176.307071" class="s2"/><g transform="translate(2048.6 185.691141)"><text><tspan x="0" y="-0.435938" class="s4">1</tspan><tspan x="15.746704" y="-0.435938" class="s4">0</tspan><tspan x="31.732666" y="-10.00625" class="s5">−</tspan><tspan x="46.249121" y="-10.00625" class="s5">2</tspan></text></g><use xlink:href="#k5" x="2042.8" y="232.3" class="s2"/><g transform="translate(2048.6 241.68407)"><text><tspan x="0" y="-0.4375" class="s4">0</tspan></text></g><use xlink:href="#k5" x="2042.8" y="288.292929" class="s2"/><g transform="translate(2048.6 297.676999)"><text><tspan x="0" y="-0.435938" class="s4">−</tspan><tspan x="20.737793" y="-0.435938" class="s4">1</tspan><tspan x="36.484497" y="-0.435938" class="s4">0</tspan><tspan x="52.470459" y="-10.00625" class="s5">−</tspan><tspan x="66.986914" y="-10.00625" class="s5">2</tspan></text></g><use xlink:href="#k5" x="2042.8" y="369.796464" class="s2"/><g transform="translate(2048.6 379.180535)"><text><tspan x="0" y="-0.676563" class="s4">−</tspan><tspan x="20.737793" y="-0.676563" class="s4">1</tspan><tspan x="36.484497" y="-0.676563" class="s4">0</tspan><tspan x="52.470459" y="-10.246875" class="s5">−</tspan><tspan x="66.986914" y="-10.246875" class="s5">1</tspan></text></g><use xlink:href="#k5" x="2042.8" y="451.3" class="s2"/><g transform="translate(2048.6 460.68407)"><text><tspan x="0" y="-0.435938" class="s4">−</tspan><tspan x="20.737793" y="-0.435938" class="s4">1</tspan><tspan x="36.484497" y="-0.435938" class="s4">0</tspan><tspan x="52.470459" y="-10.00625" class="s5">0</tspan></text></g><use xlink:href="#k5" x="2042.8" y="151.772062" class="s2"/><use xlink:href="#k5" x="2042.8" y="312.827938" class="s2"/><use xlink:href="#k5" x="2042.8" y="137.420002" class="s2"/><use xlink:href="#k5" x="2042.8" y="327.179998" class="s2"/><use xlink:href="#k5" x="2042.8" y="127.237053" class="s2"/><use xlink:href="#k5" x="2042.8" y="337.362947" class="s2"/><use xlink:href="#k5" x="2042.8" y="119.338544" class="s2"/><use xlink:href="#k5" x="2042.8" y="345.261456" class="s2"/><use xlink:href="#k5" x="2042.8" y="112.884993" class="s2"/><use xlink:href="#k5" x="2042.8" y="351.715007" class="s2"/><use xlink:href="#k5" x="2042.8" y="107.428593" class="s2"/><use xlink:href="#k5" x="2042.8" y="357.171407" class="s2"/><use xlink:href="#k5" x="2042.8" y="102.702044" class="s2"/><use xlink:href="#k5" x="2042.8" y="361.897956" class="s2"/><use xlink:href="#k5" x="2042.8" y="98.532933" class="s2"/><use xlink:href="#k5" x="2042.8" y="366.067067" class="s2"/><use xlink:href="#k5" x="2042.8" y="70.268527" class="s2"/><use xlink:href="#k5" x="2042.8" y="394.331473" class="s2"/><use xlink:href="#k5" x="2042.8" y="55.916466" class="s2"/><use xlink:href="#k5" x="2042.8" y="408.683534" class="s2"/><use xlink:href="#k5" x="2042.8" y="45.733518" class="s2"/><use xlink:href="#k5" x="2042.8" y="418.866482" class="s2"/><use xlink:href="#k5" x="2042.8" y="37.835009" class="s2"/><use xlink:href="#k5" x="2042.8" y="426.764991" class="s2"/><use xlink:href="#k5" x="2042.8" y="31.381457" class="s2"/><use xlink:href="#k5" x="2042.8" y="433.218543" class="s2"/><use xlink:href="#k5" x="2042.8" y="25.925057" class="s2"/><use xlink:href="#k5" x="2042.8" y="438.674943" class="s2"/><use xlink:href="#k5" x="2042.8" y="21.198509" class="s2"/><use xlink:href="#k5" x="2042.8" y="443.401491" class="s2"/><use xlink:href="#k5" x="2042.8" y="17.029397" class="s2"/><use xlink:href="#k5" x="2042.8" y="447.570603" class="s2"/><g transform="translate(2156.626 341.64) rotate(-90)"><text><tspan x="0" y="-0.75" class="s22">v</tspan><tspan x="45.304492" y="-0.75" class="s22">p</tspan><tspan x="83.435352" y="-0.75" class="s22">c</tspan><tspan x="113.185352" y="-0.75" class="s22">v</tspan><tspan x="165.10293" y="-0.75" class="s22">p</tspan><tspan x="203.233789" y="-0.75" class="s22">c</tspan><tspan x="16.570312" y="3.84375" class="s28">x</tspan><tspan x="28.169531" y="3.84375" class="s28">i</tspan><tspan x="129.755664" y="3.84375" class="s28">x</tspan><tspan x="141.354883" y="3.84375" class="s28">e</tspan><tspan x="34.380664" y="-0.75" class="s17">(</tspan><tspan x="63.07793" y="-0.75" class="s17">)</tspan><tspan x="74.001758" y="-0.75" class="s17">/</tspan><tspan x="98.829883" y="-0.75" class="s17">,</tspan><tspan x="154.179102" y="-0.75" class="s17">(</tspan><tspan x="182.876367" y="-0.75" class="s17">)</tspan><tspan x="193.800195" y="-0.75" class="s17">/</tspan></text></g><path d="M 2015.8 451.3 
L 2015.8 13.3 
" class="s6"/><path d="M 2042.8 451.3 
L 2042.8 13.3 
" class="s6"/><path d="M 2015.8 451.3 
L 2042.8 451.3 
" class="s6"/><path d="M 2015.8 13.3 
L 2042.8 13.3 
" class="s6"/></g><path d="M 2015.8 954.5 
L 2042.8 954.5 
L 2042.8 516.5 
L 2015.8 516.5 
z
" class="s11"/><g id="HEAT_cbf"><defs><linearGradient id="cb_cbf" gradientUnits="userSpaceOnUse" x1="0" y1="516.50" x2="0" y2="954.50"><stop offset="0.0000" stop-color="#67001f"/><stop offset="0.0417" stop-color="#840924"/><stop offset="0.0833" stop-color="#a51429"/><stop offset="0.1250" stop-color="#ba2832"/><stop offset="0.1667" stop-color="#c94741"/><stop offset="0.2083" stop-color="#d86551"/><stop offset="0.2500" stop-color="#e48066"/><stop offset="0.2917" stop-color="#f19e7d"/><stop offset="0.3333" stop-color="#f7b799"/><stop offset="0.3750" stop-color="#fbccb4"/><stop offset="0.4167" stop-color="#fcdfcf"/><stop offset="0.4583" stop-color="#f9ebe3"/><stop offset="0.5000" stop-color="#f7f6f6"/><stop offset="0.5417" stop-color="#e7f0f4"/><stop offset="0.5833" stop-color="#d7e8f1"/><stop offset="0.6250" stop-color="#c2ddec"/><stop offset="0.6667" stop-color="#a7d0e4"/><stop offset="0.7083" stop-color="#8ac0db"/><stop offset="0.7500" stop-color="#6bacd1"/><stop offset="0.7917" stop-color="#4997c5"/><stop offset="0.8333" stop-color="#3783bb"/><stop offset="0.8750" stop-color="#2a71b2"/><stop offset="0.9167" stop-color="#1c5c9f"/><stop offset="0.9583" stop-color="#10457e"/><stop offset="1.0000" stop-color="#053061"/></linearGradient></defs><rect x="2015.75" y="516.50" width="27.05" height="438.00" fill="url(#cb_cbf)"/></g><g id="matplotlib.axis_20"/><use xlink:href="#k5" x="2042.8" y="516.5" class="s2"/><g transform="translate(2048.6 525.88407)"><text><tspan x="0" y="-0.676563" class="s4">1</tspan><tspan x="15.746704" y="-0.676563" class="s4">0</tspan><tspan x="31.732666" y="-10.246875" class="s5">−</tspan><tspan x="46.249121" y="-10.246875" class="s5">4</tspan></text></g><use xlink:href="#k5" x="2042.8" y="598.003536" class="s2"/><g transform="translate(2048.6 607.387606)"><text><tspan x="0" y="-0.676563" class="s4">1</tspan><tspan x="15.746704" y="-0.676563" class="s4">0</tspan><tspan x="31.732666" y="-10.246875" class="s5">−</tspan><tspan x="46.249121" y="-10.246875" class="s5">5</tspan></text></g><use xlink:href="#k5" x="2042.8" y="679.507071" class="s2"/><g transform="translate(2048.6 688.891141)"><text><tspan x="0" y="-0.435938" class="s4">1</tspan><tspan x="15.746704" y="-0.435938" class="s4">0</tspan><tspan x="31.732666" y="-10.00625" class="s5">−</tspan><tspan x="46.249121" y="-10.00625" class="s5">6</tspan></text></g><use xlink:href="#k5" x="2042.8" y="735.5" class="s2"/><g transform="translate(2048.6 744.88407)"><text><tspan x="0" y="-0.4375" class="s4">0</tspan></text></g><use xlink:href="#k5" x="2042.8" y="791.492929" class="s2"/><g transform="translate(2048.6 800.876999)"><text><tspan x="0" y="-0.435938" class="s4">−</tspan><tspan x="20.737793" y="-0.435938" class="s4">1</tspan><tspan x="36.484497" y="-0.435938" class="s4">0</tspan><tspan x="52.470459" y="-10.00625" class="s5">−</tspan><tspan x="66.986914" y="-10.00625" class="s5">6</tspan></text></g><use xlink:href="#k5" x="2042.8" y="872.996464" class="s2"/><g transform="translate(2048.6 882.380535)"><text><tspan x="0" y="-0.676563" class="s4">−</tspan><tspan x="20.737793" y="-0.676563" class="s4">1</tspan><tspan x="36.484497" y="-0.676563" class="s4">0</tspan><tspan x="52.470459" y="-10.246875" class="s5">−</tspan><tspan x="66.986914" y="-10.246875" class="s5">5</tspan></text></g><use xlink:href="#k5" x="2042.8" y="954.5" class="s2"/><g transform="translate(2048.6 963.88407)"><text><tspan x="0" y="-0.676563" class="s4">−</tspan><tspan x="20.737793" y="-0.676563" class="s4">1</tspan><tspan x="36.484497" y="-0.676563" class="s4">0</tspan><tspan x="52.470459" y="-10.246875" class="s5">−</tspan><tspan x="66.986914" y="-10.246875" class="s5">4</tspan></text></g><use xlink:href="#k5" x="2042.8" y="654.972062" class="s2"/><use xlink:href="#k5" x="2042.8" y="816.027938" class="s2"/><use xlink:href="#k5" x="2042.8" y="640.620002" class="s2"/><use xlink:href="#k5" x="2042.8" y="830.379998" class="s2"/><use xlink:href="#k5" x="2042.8" y="630.437053" class="s2"/><use xlink:href="#k5" x="2042.8" y="840.562947" class="s2"/><use xlink:href="#k5" x="2042.8" y="622.538544" class="s2"/><use xlink:href="#k5" x="2042.8" y="848.461456" class="s2"/><use xlink:href="#k5" x="2042.8" y="616.084993" class="s2"/><use xlink:href="#k5" x="2042.8" y="854.915007" class="s2"/><use xlink:href="#k5" x="2042.8" y="610.628593" class="s2"/><use xlink:href="#k5" x="2042.8" y="860.371407" class="s2"/><use xlink:href="#k5" x="2042.8" y="605.902044" class="s2"/><use xlink:href="#k5" x="2042.8" y="865.097956" class="s2"/><use xlink:href="#k5" x="2042.8" y="601.732933" class="s2"/><use xlink:href="#k5" x="2042.8" y="869.267067" class="s2"/><use xlink:href="#k5" x="2042.8" y="573.468527" class="s2"/><use xlink:href="#k5" x="2042.8" y="897.531473" class="s2"/><use xlink:href="#k5" x="2042.8" y="559.116466" class="s2"/><use xlink:href="#k5" x="2042.8" y="911.883534" class="s2"/><use xlink:href="#k5" x="2042.8" y="548.933518" class="s2"/><use xlink:href="#k5" x="2042.8" y="922.066482" class="s2"/><use xlink:href="#k5" x="2042.8" y="541.035009" class="s2"/><use xlink:href="#k5" x="2042.8" y="929.964991" class="s2"/><use xlink:href="#k5" x="2042.8" y="534.581457" class="s2"/><use xlink:href="#k5" x="2042.8" y="936.418543" class="s2"/><use xlink:href="#k5" x="2042.8" y="529.125057" class="s2"/><use xlink:href="#k5" x="2042.8" y="941.874943" class="s2"/><use xlink:href="#k5" x="2042.8" y="524.398509" class="s2"/><use xlink:href="#k5" x="2042.8" y="946.601491" class="s2"/><use xlink:href="#k5" x="2042.8" y="520.229397" class="s2"/><use xlink:href="#k5" x="2042.8" y="950.770603" class="s2"/><g transform="translate(2160.046 848.6) rotate(-90)"><text><tspan x="0" y="-0.921875" class="s7">j</tspan><tspan x="42.395386" y="-0.921875" class="s7">p</tspan><tspan x="92.36731" y="-0.921875" class="s7">j</tspan><tspan x="142.438599" y="-0.921875" class="s7">p</tspan><tspan x="188.427368" y="-0.921875" class="s7">J</tspan><tspan x="9.029541" y="4.492188" class="s8">x</tspan><tspan x="22.49292" y="4.492188" class="s8">i</tspan><tspan x="101.396851" y="4.492188" class="s8">x</tspan><tspan x="114.860229" y="4.492188" class="s8">e</tspan><tspan x="198.012329" y="4.492188" class="s8">0</tspan><tspan x="29.715942" y="-0.921875" class="s9">(</tspan><tspan x="63.025269" y="-0.921875" class="s9">)</tspan><tspan x="75.704712" y="-0.921875" class="s9">,</tspan><tspan x="129.759155" y="-0.921875" class="s9">(</tspan><tspan x="163.068481" y="-0.921875" class="s9">)</tspan><tspan x="175.747925" y="-0.921875" class="s9">[</tspan><tspan x="213.388916" y="-0.921875" class="s9">]</tspan></text></g><path d="M 2015.8 954.5 
L 2015.8 516.5 
" class="s6"/><path d="M 2042.8 954.5 
L 2042.8 516.5 
" class="s6"/><path d="M 2015.8 954.5 
L 2042.8 954.5 
" class="s6"/><path d="M 2015.8 516.5 
L 2042.8 516.5 
" class="s6"/></g><path d="M 108.8 1206 
L 877.9 1206 
L 877.9 1019.6 
L 108.8 1019.6 
z
" class="s11"/><path d="M 108.8 1206 
L 108.8 1019.6 
" class="s3"/><use xlink:href="#k0" x="108.8" y="1206" class="s2"/><g transform="translate(79.7775 1231.668141)"><text><tspan x="0" y="-0.676563" class="s4">1</tspan><tspan x="15.746704" y="-0.676563" class="s4">0</tspan><tspan x="31.732666" y="-10.246875" class="s5">−</tspan><tspan x="46.249121" y="-10.246875" class="s5">4</tspan></text></g><path d="M 237 1206 
L 237 1019.6 
" class="s3"/><use xlink:href="#k0" x="236.983333" y="1206" class="s2"/><g transform="translate(207.960833 1231.668141)"><text><tspan x="0" y="-0.435938" class="s4">1</tspan><tspan x="15.746704" y="-0.435938" class="s4">0</tspan><tspan x="31.732666" y="-10.00625" class="s5">−</tspan><tspan x="46.249121" y="-10.00625" class="s5">3</tspan></text></g><path d="M 365.2 1206 
L 365.2 1019.6 
" class="s3"/><use xlink:href="#k0" x="365.166667" y="1206" class="s2"/><g transform="translate(336.144167 1231.668141)"><text><tspan x="0" y="-0.435938" class="s4">1</tspan><tspan x="15.746704" y="-0.435938" class="s4">0</tspan><tspan x="31.732666" y="-10.00625" class="s5">−</tspan><tspan x="46.249121" y="-10.00625" class="s5">2</tspan></text></g><path d="M 493.4 1206 
L 493.4 1019.6 
" class="s3"/><use xlink:href="#k0" x="493.35" y="1206" class="s2"/><g transform="translate(464.3275 1231.668141)"><text><tspan x="0" y="-0.676563" class="s4">1</tspan><tspan x="15.746704" y="-0.676563" class="s4">0</tspan><tspan x="31.732666" y="-10.246875" class="s5">−</tspan><tspan x="46.249121" y="-10.246875" class="s5">1</tspan></text></g><path d="M 621.5 1206 
L 621.5 1019.6 
" class="s3"/><use xlink:href="#k0" x="621.533333" y="1206" class="s2"/><g transform="translate(599.797333 1231.668141)"><text><tspan x="0" y="-0.435938" class="s4">1</tspan><tspan x="15.746704" y="-0.435938" class="s4">0</tspan><tspan x="31.732666" y="-10.00625" class="s5">0</tspan></text></g><path d="M 749.7 1206 
L 749.7 1019.6 
" class="s3"/><use xlink:href="#k0" x="749.716667" y="1206" class="s2"/><g transform="translate(727.980667 1231.668141)"><text><tspan x="0" y="-0.676563" class="s4">1</tspan><tspan x="15.746704" y="-0.676563" class="s4">0</tspan><tspan x="31.732666" y="-10.246875" class="s5">1</tspan></text></g><path d="M 877.9 1206 
L 877.9 1019.6 
" class="s3"/><use xlink:href="#k0" x="877.9" y="1206" class="s2"/><g transform="translate(856.164 1231.668141)"><text><tspan x="0" y="-0.435938" class="s4">1</tspan><tspan x="15.746704" y="-0.435938" class="s4">0</tspan><tspan x="31.732666" y="-10.00625" class="s5">2</tspan></text></g><path d="M 147.4 1206 
L 147.4 1019.6 
" class="s3"/><use xlink:href="#k1" x="147.387028" y="1206" class="s0"/><path d="M 170 1206 
L 170 1019.6 
" class="s3"/><use xlink:href="#k1" x="169.958993" y="1206" class="s0"/><path d="M 186 1206 
L 186 1019.6 
" class="s3"/><use xlink:href="#k1" x="185.974057" y="1206" class="s0"/><path d="M 198.4 1206 
L 198.4 1019.6 
" class="s3"/><use xlink:href="#k1" x="198.396305" y="1206" class="s0"/><path d="M 208.5 1206 
L 208.5 1019.6 
" class="s3"/><use xlink:href="#k1" x="208.546021" y="1206" class="s0"/><path d="M 217.1 1206 
L 217.1 1019.6 
" class="s3"/><use xlink:href="#k1" x="217.127484" y="1206" class="s0"/><path d="M 224.6 1206 
L 224.6 1019.6 
" class="s3"/><use xlink:href="#k1" x="224.561085" y="1206" class="s0"/><path d="M 231.1 1206 
L 231.1 1019.6 
" class="s3"/><use xlink:href="#k1" x="231.117986" y="1206" class="s0"/><path d="M 275.6 1206 
L 275.6 1019.6 
" class="s3"/><use xlink:href="#k1" x="275.570362" y="1206" class="s0"/><path d="M 298.1 1206 
L 298.1 1019.6 
" class="s3"/><use xlink:href="#k1" x="298.142326" y="1206" class="s0"/><path d="M 314.2 1206 
L 314.2 1019.6 
" class="s3"/><use xlink:href="#k1" x="314.15739" y="1206" class="s0"/><path d="M 326.6 1206 
L 326.6 1019.6 
" class="s3"/><use xlink:href="#k1" x="326.579638" y="1206" class="s0"/><path d="M 336.7 1206 
L 336.7 1019.6 
" class="s3"/><use xlink:href="#k1" x="336.729354" y="1206" class="s0"/><path d="M 345.3 1206 
L 345.3 1019.6 
" class="s3"/><use xlink:href="#k1" x="345.310817" y="1206" class="s0"/><path d="M 352.7 1206 
L 352.7 1019.6 
" class="s3"/><use xlink:href="#k1" x="352.744418" y="1206" class="s0"/><path d="M 359.3 1206 
L 359.3 1019.6 
" class="s3"/><use xlink:href="#k1" x="359.301319" y="1206" class="s0"/><path d="M 403.8 1206 
L 403.8 1019.6 
" class="s3"/><use xlink:href="#k1" x="403.753695" y="1206" class="s0"/><path d="M 426.3 1206 
L 426.3 1019.6 
" class="s3"/><use xlink:href="#k1" x="426.32566" y="1206" class="s0"/><path d="M 442.3 1206 
L 442.3 1019.6 
" class="s3"/><use xlink:href="#k1" x="442.340723" y="1206" class="s0"/><path d="M 454.8 1206 
L 454.8 1019.6 
" class="s3"/><use xlink:href="#k1" x="454.762972" y="1206" class="s0"/><path d="M 464.9 1206 
L 464.9 1019.6 
" class="s3"/><use xlink:href="#k1" x="464.912688" y="1206" class="s0"/><path d="M 473.5 1206 
L 473.5 1019.6 
" class="s3"/><use xlink:href="#k1" x="473.49415" y="1206" class="s0"/><path d="M 480.9 1206 
L 480.9 1019.6 
" class="s3"/><use xlink:href="#k1" x="480.927751" y="1206" class="s0"/><path d="M 487.5 1206 
L 487.5 1019.6 
" class="s3"/><use xlink:href="#k1" x="487.484652" y="1206" class="s0"/><path d="M 531.9 1206 
L 531.9 1019.6 
" class="s3"/><use xlink:href="#k1" x="531.937028" y="1206" class="s0"/><path d="M 554.5 1206 
L 554.5 1019.6 
" class="s3"/><use xlink:href="#k1" x="554.508993" y="1206" class="s0"/><path d="M 570.5 1206 
L 570.5 1019.6 
" class="s3"/><use xlink:href="#k1" x="570.524057" y="1206" class="s0"/><path d="M 582.9 1206 
L 582.9 1019.6 
" class="s3"/><use xlink:href="#k1" x="582.946305" y="1206" class="s0"/><path d="M 593.1 1206 
L 593.1 1019.6 
" class="s3"/><use xlink:href="#k1" x="593.096021" y="1206" class="s0"/><path d="M 601.7 1206 
L 601.7 1019.6 
" class="s3"/><use xlink:href="#k1" x="601.677484" y="1206" class="s0"/><path d="M 609.1 1206 
L 609.1 1019.6 
" class="s3"/><use xlink:href="#k1" x="609.111085" y="1206" class="s0"/><path d="M 615.7 1206 
L 615.7 1019.6 
" class="s3"/><use xlink:href="#k1" x="615.667986" y="1206" class="s0"/><path d="M 660.1 1206 
L 660.1 1019.6 
" class="s3"/><use xlink:href="#k1" x="660.120362" y="1206" class="s0"/><path d="M 682.7 1206 
L 682.7 1019.6 
" class="s3"/><use xlink:href="#k1" x="682.692326" y="1206" class="s0"/><path d="M 698.7 1206 
L 698.7 1019.6 
" class="s3"/><use xlink:href="#k1" x="698.70739" y="1206" class="s0"/><path d="M 711.1 1206 
L 711.1 1019.6 
" class="s3"/><use xlink:href="#k1" x="711.129638" y="1206" class="s0"/><path d="M 721.3 1206 
L 721.3 1019.6 
" class="s3"/><use xlink:href="#k1" x="721.279354" y="1206" class="s0"/><path d="M 729.9 1206 
L 729.9 1019.6 
" class="s3"/><use xlink:href="#k1" x="729.860817" y="1206" class="s0"/><path d="M 737.3 1206 
L 737.3 1019.6 
" class="s3"/><use xlink:href="#k1" x="737.294418" y="1206" class="s0"/><path d="M 743.9 1206 
L 743.9 1019.6 
" class="s3"/><use xlink:href="#k1" x="743.851319" y="1206" class="s0"/><path d="M 788.3 1206 
L 788.3 1019.6 
" class="s3"/><use xlink:href="#k1" x="788.303695" y="1206" class="s0"/><path d="M 810.9 1206 
L 810.9 1019.6 
" class="s3"/><use xlink:href="#k1" x="810.87566" y="1206" class="s0"/><path d="M 826.9 1206 
L 826.9 1019.6 
" class="s3"/><use xlink:href="#k1" x="826.890723" y="1206" class="s0"/><path d="M 839.3 1206 
L 839.3 1019.6 
" class="s3"/><use xlink:href="#k1" x="839.312972" y="1206" class="s0"/><path d="M 849.5 1206 
L 849.5 1019.6 
" class="s3"/><use xlink:href="#k1" x="849.462688" y="1206" class="s0"/><path d="M 858 1206 
L 858 1019.6 
" class="s3"/><use xlink:href="#k1" x="858.04415" y="1206" class="s0"/><path d="M 865.5 1206 
L 865.5 1019.6 
" class="s3"/><use xlink:href="#k1" x="865.477751" y="1206" class="s0"/><path d="M 872 1206 
L 872 1019.6 
" class="s3"/><use xlink:href="#k1" x="872.034652" y="1206" class="s0"/><g transform="translate(429.1625 1269.304969)"><text><tspan x="0" y="-0.921875" class="s7">p</tspan><tspan x="33.309326" y="-0.921875" class="s7">m</tspan><tspan x="72.191284" y="-0.921875" class="s7">v</tspan><tspan x="20.629883" y="-0.921875" class="s9">[</tspan><tspan x="115.687988" y="-0.921875" class="s9">]</tspan><tspan x="64.968262" y="4.492188" class="s8">i</tspan><tspan x="91.424683" y="4.492188" class="s8">p</tspan><tspan x="105.865601" y="4.492188" class="s8">t</tspan></text></g><path d="M 108.8 1206 
L 877.9 1206 
" class="s3"/><use xlink:href="#k2" x="108.8" y="1206" class="s2"/><g transform="translate(45.655 1215.38407)"><text><tspan x="0" y="-0.435938" class="s4">1</tspan><tspan x="15.746704" y="-0.435938" class="s4">0</tspan><tspan x="31.732666" y="-10.00625" class="s5">−</tspan><tspan x="46.249121" y="-10.00625" class="s5">6</tspan></text></g><path d="M 108.8 1174.9 
L 877.9 1174.9 
" class="s3"/><use xlink:href="#k2" x="108.8" y="1174.933333" class="s2"/><g transform="translate(45.655 1184.317404)"><text><tspan x="0" y="-0.676563" class="s4">1</tspan><tspan x="15.746704" y="-0.676563" class="s4">0</tspan><tspan x="31.732666" y="-10.246875" class="s5">−</tspan><tspan x="46.249121" y="-10.246875" class="s5">5</tspan></text></g><path d="M 108.8 1143.9 
L 877.9 1143.9 
" class="s3"/><use xlink:href="#k2" x="108.8" y="1143.866667" class="s2"/><g transform="translate(45.655 1153.250737)"><text><tspan x="0" y="-0.676563" class="s4">1</tspan><tspan x="15.746704" y="-0.676563" class="s4">0</tspan><tspan x="31.732666" y="-10.246875" class="s5">−</tspan><tspan x="46.249121" y="-10.246875" class="s5">4</tspan></text></g><path d="M 108.8 1112.8 
L 877.9 1112.8 
" class="s3"/><use xlink:href="#k2" x="108.8" y="1112.8" class="s2"/><g transform="translate(45.655 1122.18407)"><text><tspan x="0" y="-0.435938" class="s4">1</tspan><tspan x="15.746704" y="-0.435938" class="s4">0</tspan><tspan x="31.732666" y="-10.00625" class="s5">−</tspan><tspan x="46.249121" y="-10.00625" class="s5">3</tspan></text></g><path d="M 108.8 1081.7 
L 877.9 1081.7 
" class="s3"/><use xlink:href="#k2" x="108.8" y="1081.733333" class="s2"/><g transform="translate(45.655 1091.117404)"><text><tspan x="0" y="-0.435938" class="s4">1</tspan><tspan x="15.746704" y="-0.435938" class="s4">0</tspan><tspan x="31.732666" y="-10.00625" class="s5">−</tspan><tspan x="46.249121" y="-10.00625" class="s5">2</tspan></text></g><path d="M 108.8 1050.7 
L 877.9 1050.7 
" class="s3"/><use xlink:href="#k2" x="108.8" y="1050.666667" class="s2"/><g transform="translate(45.655 1060.050737)"><text><tspan x="0" y="-0.676563" class="s4">1</tspan><tspan x="15.746704" y="-0.676563" class="s4">0</tspan><tspan x="31.732666" y="-10.246875" class="s5">−</tspan><tspan x="46.249121" y="-10.246875" class="s5">1</tspan></text></g><path d="M 108.8 1019.6 
L 877.9 1019.6 
" class="s3"/><use xlink:href="#k2" x="108.8" y="1019.6" class="s2"/><g transform="translate(60.228 1028.98407)"><text><tspan x="0" y="-0.435938" class="s4">1</tspan><tspan x="15.746704" y="-0.435938" class="s4">0</tspan><tspan x="31.732666" y="-10.00625" class="s5">0</tspan></text></g><path d="M 108.8 1196.6 
L 877.9 1196.6 
" class="s3"/><use xlink:href="#k4" x="108.8" y="1196.648001" class="s0"/><path d="M 108.8 1191.2 
L 877.9 1191.2 
" class="s3"/><use xlink:href="#k4" x="108.8" y="1191.177433" class="s0"/><path d="M 108.8 1187.3 
L 877.9 1187.3 
" class="s3"/><use xlink:href="#k4" x="108.8" y="1187.296003" class="s0"/><path d="M 108.8 1184.3 
L 877.9 1184.3 
" class="s3"/><use xlink:href="#k4" x="108.8" y="1184.285332" class="s0"/><path d="M 108.8 1181.8 
L 877.9 1181.8 
" class="s3"/><use xlink:href="#k4" x="108.8" y="1181.825434" class="s0"/><path d="M 108.8 1179.7 
L 877.9 1179.7 
" class="s3"/><use xlink:href="#k4" x="108.8" y="1179.745621" class="s0"/><path d="M 108.8 1177.9 
L 877.9 1177.9 
" class="s3"/><use xlink:href="#k4" x="108.8" y="1177.944004" class="s0"/><path d="M 108.8 1176.4 
L 877.9 1176.4 
" class="s3"/><use xlink:href="#k4" x="108.8" y="1176.354866" class="s0"/><path d="M 108.8 1165.6 
L 877.9 1165.6 
" class="s3"/><use xlink:href="#k4" x="108.8" y="1165.581335" class="s0"/><path d="M 108.8 1160.1 
L 877.9 1160.1 
" class="s3"/><use xlink:href="#k4" x="108.8" y="1160.110766" class="s0"/><path d="M 108.8 1156.2 
L 877.9 1156.2 
" class="s3"/><use xlink:href="#k4" x="108.8" y="1156.229336" class="s0"/><path d="M 108.8 1153.2 
L 877.9 1153.2 
" class="s3"/><use xlink:href="#k4" x="108.8" y="1153.218665" class="s0"/><path d="M 108.8 1150.8 
L 877.9 1150.8 
" class="s3"/><use xlink:href="#k4" x="108.8" y="1150.758768" class="s0"/><path d="M 108.8 1148.7 
L 877.9 1148.7 
" class="s3"/><use xlink:href="#k4" x="108.8" y="1148.678954" class="s0"/><path d="M 108.8 1146.9 
L 877.9 1146.9 
" class="s3"/><use xlink:href="#k4" x="108.8" y="1146.877338" class="s0"/><path d="M 108.8 1145.3 
L 877.9 1145.3 
" class="s3"/><use xlink:href="#k4" x="108.8" y="1145.288199" class="s0"/><path d="M 108.8 1134.5 
L 877.9 1134.5 
" class="s3"/><use xlink:href="#k4" x="108.8" y="1134.514668" class="s0"/><path d="M 108.8 1129 
L 877.9 1129 
" class="s3"/><use xlink:href="#k4" x="108.8" y="1129.0441" class="s0"/><path d="M 108.8 1125.2 
L 877.9 1125.2 
" class="s3"/><use xlink:href="#k4" x="108.8" y="1125.16267" class="s0"/><path d="M 108.8 1122.2 
L 877.9 1122.2 
" class="s3"/><use xlink:href="#k4" x="108.8" y="1122.151999" class="s0"/><path d="M 108.8 1119.7 
L 877.9 1119.7 
" class="s3"/><use xlink:href="#k4" x="108.8" y="1119.692101" class="s0"/><path d="M 108.8 1117.6 
L 877.9 1117.6 
" class="s3"/><use xlink:href="#k4" x="108.8" y="1117.612288" class="s0"/><path d="M 108.8 1115.8 
L 877.9 1115.8 
" class="s3"/><use xlink:href="#k4" x="108.8" y="1115.810671" class="s0"/><path d="M 108.8 1114.2 
L 877.9 1114.2 
" class="s3"/><use xlink:href="#k4" x="108.8" y="1114.221533" class="s0"/><path d="M 108.8 1103.4 
L 877.9 1103.4 
" class="s3"/><use xlink:href="#k4" x="108.8" y="1103.448001" class="s0"/><path d="M 108.8 1098 
L 877.9 1098 
" class="s3"/><use xlink:href="#k4" x="108.8" y="1097.977433" class="s0"/><path d="M 108.8 1094.1 
L 877.9 1094.1 
" class="s3"/><use xlink:href="#k4" x="108.8" y="1094.096003" class="s0"/><path d="M 108.8 1091.1 
L 877.9 1091.1 
" class="s3"/><use xlink:href="#k4" x="108.8" y="1091.085332" class="s0"/><path d="M 108.8 1088.6 
L 877.9 1088.6 
" class="s3"/><use xlink:href="#k4" x="108.8" y="1088.625434" class="s0"/><path d="M 108.8 1086.5 
L 877.9 1086.5 
" class="s3"/><use xlink:href="#k4" x="108.8" y="1086.545621" class="s0"/><path d="M 108.8 1084.7 
L 877.9 1084.7 
" class="s3"/><use xlink:href="#k4" x="108.8" y="1084.744004" class="s0"/><path d="M 108.8 1083.2 
L 877.9 1083.2 
" class="s3"/><use xlink:href="#k4" x="108.8" y="1083.154866" class="s0"/><path d="M 108.8 1072.4 
L 877.9 1072.4 
" class="s3"/><use xlink:href="#k4" x="108.8" y="1072.381335" class="s0"/><path d="M 108.8 1066.9 
L 877.9 1066.9 
" class="s3"/><use xlink:href="#k4" x="108.8" y="1066.910766" class="s0"/><path d="M 108.8 1063 
L 877.9 1063 
" class="s3"/><use xlink:href="#k4" x="108.8" y="1063.029336" class="s0"/><path d="M 108.8 1060 
L 877.9 1060 
" class="s3"/><use xlink:href="#k4" x="108.8" y="1060.018665" class="s0"/><path d="M 108.8 1057.6 
L 877.9 1057.6 
" class="s3"/><use xlink:href="#k4" x="108.8" y="1057.558768" class="s0"/><path d="M 108.8 1055.5 
L 877.9 1055.5 
" class="s3"/><use xlink:href="#k4" x="108.8" y="1055.478954" class="s0"/><path d="M 108.8 1053.7 
L 877.9 1053.7 
" class="s3"/><use xlink:href="#k4" x="108.8" y="1053.677338" class="s0"/><path d="M 108.8 1052.1 
L 877.9 1052.1 
" class="s3"/><use xlink:href="#k4" x="108.8" y="1052.088199" class="s0"/><path d="M 108.8 1041.3 
L 877.9 1041.3 
" class="s3"/><use xlink:href="#k4" x="108.8" y="1041.314668" class="s0"/><path d="M 108.8 1035.8 
L 877.9 1035.8 
" class="s3"/><use xlink:href="#k4" x="108.8" y="1035.8441" class="s0"/><path d="M 108.8 1032 
L 877.9 1032 
" class="s3"/><use xlink:href="#k4" x="108.8" y="1031.96267" class="s0"/><path d="M 108.8 1029 
L 877.9 1029 
" class="s3"/><use xlink:href="#k4" x="108.8" y="1028.951999" class="s0"/><path d="M 108.8 1026.5 
L 877.9 1026.5 
" class="s3"/><use xlink:href="#k4" x="108.8" y="1026.492101" class="s0"/><path d="M 108.8 1024.4 
L 877.9 1024.4 
" class="s3"/><use xlink:href="#k4" x="108.8" y="1024.412288" class="s0"/><path d="M 108.8 1022.6 
L 877.9 1022.6 
" class="s3"/><use xlink:href="#k4" x="108.8" y="1022.610671" class="s0"/><path d="M 108.8 1021 
L 877.9 1021 
" class="s3"/><use xlink:href="#k4" x="108.8" y="1021.021533" class="s0"/><g transform="translate(29.43 1185.7625) rotate(-90)"><text><tspan x="0" y="-0.523438" class="s9">4</tspan><tspan x="99.780528" y="-0.523438" class="s9">(</tspan><tspan x="133.089855" y="-0.523438" class="s9">)</tspan><tspan x="20.67749" y="-0.523438" class="s7">π</tspan><tspan x="45.520735" y="-0.523438" class="s7">p</tspan><tspan x="88.338878" y="-0.523438" class="s7">f</tspan><tspan x="112.459972" y="-0.523438" class="s7">p</tspan><tspan x="67.685696" y="-13.15625" class="s8">4</tspan></text></g><path d="M193.4 1209.1l7.9-8.9 11-11.3 34.8-32.8 23.7-23.4 10.2-9.3 15-12.3 11.9-9 9.4-5.6 15-5.7 4.8-1.2 4.7-.4 8.7 .6 8.7 1.9 3.1 3.3 4 7.1 9.5 22.2 7.8 24.5 6.4 24.4 7.9 35.9" clip-path="url(#k17)" style="fill: none; stroke: #000000; stroke-width: 3.6; stroke-linecap: square"/><path d="M285.7 1209.1l3.8-4.3 5.6-5.4 20.7-16.8 8.4-7.7 56.5-59.1 10.3-10 9.4-8.1 18.8-14.6 16.9-11 10.4-5.7 15-7.1 3.8-1.5 3.8-.6 6.5 .4 5.7 1 2.8 1.7 3.8 3.3 4.7 5.1 5.6 8 4.7 7.9 2.8 6.3 3.8 12.8 3.8 17.4 5.6 29.7 7.5 48 1 4.9 1.8 5.4" clip-path="url(#k17)" style="fill: none; stroke-dasharray: 23.04,5.76,3.6,5.76; stroke-dashoffset: 0; stroke: #000000; stroke-width: 3.6"/><path d="M201.1 1209.1l12.3-15 17.1-17.7 58.7-54.4 12.4-10.6 13.2-9.4 15.2-7.6 11.4-4.6 4.7-1.1 4.7-.4 3.8 .3 4.8 1.1 13.2 4.9 19.9 10.3 17.1 6.1 23.7 6.4 26.5 5.1 11.4 3.2 8.5 4.6 14.2 10 1-.5 .9 .9 1-1.9 .9 .4 1 4.9 1.9-2.3 1.9 3.8 .9 0 1-.7 .9 .1 1.9 3 1-.9 .9 .2 .9 5.4 1 2.6 .9-2.3 2.9-1.8 .9 0 1.9 3.1 1-1.8 1.9 3.6 .9-2.3 1 .5 .9 4.9 1 .4 .9-1.6 1 1 .9-1.3 1-.4 .9 2.1 1.9-.6 .9 1.3 1.9 .8 1.9 2.4 1-.1 1.9 2.9 .9-2.4 1-.9 .9 2 3.8 1 1 1.4 .9-.8 1.9 .3 1.9 4.7 .9-3.3 1-.8 .9 2.4 1-.3 1.9 1.7 1.9 3 2.8-3.3 1 2.6 .9 .2 1 1 1.9 9.9 .9-2.7 1-1 .9 4.6 1.9 5.1 1-.6 .9 .8 1.9 4 .9 7.4 1 1.2 .9 0 1 3.9 .9 .3" clip-path="url(#k17)" class="s33"/><path d="M642 1209.4l2.8-15.6 .4-.1 2-4.7 .4-.4 .8 .4 .3-1.9 .8 1.6 .8-1.2 .8 2 .4-1.5 1.2 6.3 .4-2.3 .4 .7 .4-.1 .4-1.2 1.2 1.1 2.7-7.9 .8 1.2 1.2-4.5 .8-.8 .8-3.9 .4 1.7 .4-.5 1.1-5.7 .4 1.4 2-6.9 .4 .1 .4-1.7 .4 1.3 .8-3.7 .8 1.4 .8-2 .3 1.1 .8-3.6 .8 3 .8-2.1 .8 .5 .4-.8 .8 5.2 .8-.5 .8-2.7 .8 4.2 .3-2.1 .8 1.8 .4-.8 .4 2 .8-2.9 1.2 2.9 1.6-2.8 .8-3.7 .8 4.2 .3-3 .8-.7 .4-2.4 .8 3.3 .4-1.1 .8 1 1.2-3.7 .4 .7 .4-.4 .4 .9 .4-2.7 .7 2.2 .4-3.9 .4 .1 .4-.9 .4-3.6 .8 1 .4-.5 1.6-5.9 1.2-2.2 .4 2.2 .4 .1 .4-2.2 .3 1.7 .8-2.6 1.2 2.5 .4-1.2 .8 .8 .4 2 .8-2.3 .4 3.9 .4-.1 .8-2.9 1.1 .7 .8-3.6 1.2 3.6 .8 .1 .4-1.8 .8 4.3 .4-.5 .4 .3 .8-1.3 .4 .6 .8-3.7 .7 2.3 .8-2.2 .4 .5 .8-3.2 .4 0 .4 1 .8-3.8 .8 4.4 .4-1.8 .8 1.5 .4-1 .4 1.2 1.5 1.8 .8-7 .8 2.4 .4 .2 .4-1.1 .8 .4 .4 2.1 .4 .5 .4-.3 .8 2.6 .7-3.7 .4 2.2 .4-.5 .4-2.8 .8 4.9 .4 0 .4-1.3 .8 3.1 .4-.5 .8 1.7 .4-3.4 1.9 1 .8 2.2 1.2-4 1.2 5 1.2-3.1 .8 3.3 .8-.9 .8 3.1 .3-.8 .8 2.6 .4-.3 1.6 8.7 .8 1.8 .8-.4 .8 .7 .4 5 1.2 4 1.9 30.8 .8-.1 2-42 .4-.3 2.3 50.1 2.4-50.6 .4-1.5 1.6 22.6 .8 28.5" clip-path="url(#k17)" class="s33"/><path d="M311.3 1209.1l7.3-8.1 10.9-10.6 65.4-58.5 34.5-34.7 21.8-19.7 7.3-5.8 5.4-3.7 10.9-5.4 10.9-4.7 7.3-2.3 7.2-1.2 5.5 .3 5.4 1.2 9.1 3 10.9 5.5 3.6 .9 1.9-.1 5.4-2.1 9.1-5.9 3.6-1.8 10.9-3.8 7.3-.9 3.6 .9 5.5 3.1 10.9 7.8 10.9 9.7 5.4 3.8 18.2 8.1 3.6 .7 1.8-.6 1.8-1.9 5.5-7.7 7.3-5.6 3.6-1.8 5.4-.2 12.7 2.2 5.5-.4 3.6-1.6 10.9-7.3 10.9-5.4 5.5-1.9 3.6-.4 9.1 .5 9.1 1.1 1.8 .7 3.6 3.4 3.7 5.3 10.9 19.7 10.9 26.2 5.4 10.8 3.6 4.5 10.9 11.1 1.8 19.9 1.9 53.7" clip-path="url(#k17)" style="fill: none; stroke-dasharray: 23.04,5.76,3.6,5.76; stroke-dashoffset: 0; stroke: #ff0000; stroke-width: 3.6"/><path d="M193.4 1209.1l7.5-8.5 11.4-11.6 35.2-33.3 23.8-23.5 10.1-9.1 15.1-12.4 11.3-8.5 10.1-5.9 15-5.7 5.1-1.1 3.7-.3 5.1 .6 5 1.6 7.5 3.3 3.8 2.8 10.1 10.7 8.8 14.9 2.5 2.6 1.2 .4 3.8-.5 3.8-1.4 27.6-15 7.6-2.8 3.7-.4 3.8 .5 5 2 6.3 3.5 3.8 3.4 3.8 5 12.5 20.3 17.6 25.2 6.3 7.1 12.6 12.1 8.8 9.8 2.5 4.4 3.8 9.8" clip-path="url(#k17)" class="s34"/><path d="M654.9 1208.5l2.8-28.4 .6-1.5 1.7-13.9 1.8-5.4 .8-5.1 .6 2 .6-.8 .3 1.1 .2-2.2 .6 1.3 .3-1.2 .6 1.5 1.1-2.9 .6 3 .3-.9 .6 1 .5-1.8 .6 1.4 .3-1.8 .6 1.5 .5-4.2 .6 4.3 .3-1.7 .3-.3 .3 .3 .6-1.5 .5 3.4 .9-5 .3 1.9 .6-2.8 .5 1 .6-2.2 .9 .3 .5 .9 1.8-3.3 .3 1.4 .5-1 .6 .9 .6-3.2 .5 2.7 .9-2.9 .6 3.3 1.4-5.4 .9 3.6 .6-2.9 .2 .3 1.2-1.6 .3 1.8 .8 1.4 .9-5.5 .9 2.1 .5-3 .3 .7 .6-2.2 .3 1.5 .6-2.9 .5 .2 .9-4.8 .6 3 .3-2 .8 1 .6-5 1.1 1.3 1.2-2.7 .3 1.3 .6-2.6 .5 .3 .3 1.9 .6-1.8 .6-.4 .3 2.3 .5-3.2 .6 1.5 .3-.5 .3 .3 .3 1.1 .5-.3 .3-1.1 .6 .7 .3-.8 .6 3.6 .8-1.4 .3 1.2 .3-.1 .3-1.9 .6 2.8 1.1-.8 .6 .6 .3-.4 .5 3.7 .3-2.1 1.8 1.4 .5-.8 .3 .6 .6-1.8 .3 2.6 1.1-2.2 .6 3.1 .3-1 1.1 8.1 .3-2.8 .6 4.4 .9-2.2 .5 2.9 .3-2.6 .6 .2 .6-5.7 .3-.2 .2 1.8 .3-.8 1.2-9.5 .3-1.1 .3 1.8 3.4-20 .3 .8 .3-.2 .6-3.8 1.1 8.1 .6 1.3 2.9 21.5 .5-1.7 1.5 11.3 2.8 41.9 2 22" clip-path="url(#k17)" class="s34"/><path d="M285.7 1209.1l3.8-4.3 5.6-5.4 20.7-16.8 8.4-7.7 56.5-59.1 10.3-10 9.4-8.1 18.8-14.6 16.9-11 10.4-5.7 15-7.1 3.8-1.5 3.8-.6 6.5 .4 5.7 1 2.8 1.7 3.8 3.3 4.7 5.1 5.6 8 4.7 7.9 2.8 6.3 3.8 12.8 3.8 17.4 5.6 29.7 7.5 48 1 4.9 1.8 5.4" clip-path="url(#k17)" style="fill: none; stroke-dasharray: 21.6,9,5.4,9; stroke-dashoffset: 10.8; stroke: #0000ff; stroke-width: 3.6"/><path d="M669 1209.1l1.5-83.7 1.5-38.1 2-29.5 1.1-11.2 1.6-1.5 2.3-.6 .8 .3 .7 1.4 3.1 7.8 5 17 3.1 13.4 1.6 2.9 1.1-.6 1.2-1.8 4.6-11.9 2-3.6 6.9-6.4 2.7-1.6 2.3-.7 12.8-.1 3.4 1.2 2.7 2.2 3.5 3.9 6.2 8.2 2.7 4.4 5.8 12.3 7.3 18.9 3.5 11.5 3.9 17 1.9 18.2 1.1 50.7" clip-path="url(#k17)" style="fill: none; stroke-dasharray: 23.04,5.76,3.6,5.76; stroke-dashoffset: 0; stroke: #0000ff; stroke-width: 3.6"/><path d="M 108.8 1206 
L 108.8 1019.6 
" class="s6"/><path d="M 877.9 1206 
L 877.9 1019.6 
" class="s6"/><path d="M 108.8 1206 
L 877.9 1206 
" class="s6"/><path d="M 108.8 1019.6 
L 877.9 1019.6 
" class="s6"/><path d="M 126.4 1113.4 
L 309.6 1113.4 
Q 314.6 1113.4 314.6 1108.3 
L 314.6 1037.2 
Q 314.6 1032.2 309.6 1032.2 
L 126.4 1032.2 
Q 121.3 1032.2 121.3 1037.2 
L 121.3 1108.3 
Q 121.3 1113.4 126.4 1113.4 
z
" class="s35"/><path d="M 131.4 1052.5 
L 156.5 1052.5 
L 181.6 1052.5 
" style="fill: none; stroke-dasharray: 22.4,5.6,3.5,5.6; stroke-dashoffset: 0; stroke: #000000; stroke-width: 3.5"/><text class="s36" x="201.67" y="1061.262078">Proton</text><path d="M 131.4 1089.3 
L 156.5 1089.3 
L 181.6 1089.3 
" style="fill: none; stroke: #000000; stroke-width: 3.5; stroke-linecap: square"/><text class="s36" x="201.67" y="1098.104172">Electron</text><path d="M 821.5 1069 
L 872 1069 
L 872 1031.8 
L 821.5 1031.8 
z
" clip-path="url(#k17)" class="s14"/><text class="s15" x="846.7" y="1058.521062">(d)</text><path d="M 1224 1206 
L 1992.8 1206 
L 1992.8 1019.6 
L 1224 1019.6 
z
" class="s11"/><path d="M 1224 1206 
L 1224 1019.6 
" class="s3"/><use xlink:href="#k0" x="1224" y="1206" class="s2"/><text class="s13" x="1224" y="1230.568141">0</text><path d="M 1377.8 1206 
L 1377.8 1019.6 
" class="s3"/><use xlink:href="#k0" x="1377.76" y="1206" class="s2"/><text class="s13" x="1377.76" y="1230.568141">500</text><path d="M 1531.5 1206 
L 1531.5 1019.6 
" class="s3"/><use xlink:href="#k0" x="1531.52" y="1206" class="s2"/><text class="s13" x="1531.52" y="1230.568141">1000</text><path d="M 1685.3 1206 
L 1685.3 1019.6 
" class="s3"/><use xlink:href="#k0" x="1685.28" y="1206" class="s2"/><text class="s13" x="1685.28" y="1230.568141">1500</text><path d="M 1839 1206 
L 1839 1019.6 
" class="s3"/><use xlink:href="#k0" x="1839.04" y="1206" class="s2"/><text class="s13" x="1839.04" y="1230.568141">2000</text><path d="M 1992.8 1206 
L 1992.8 1019.6 
" class="s3"/><use xlink:href="#k0" x="1992.8" y="1206" class="s2"/><text class="s13" x="1992.8" y="1230.568141">2500</text><path d="M 1254.8 1206 
L 1254.8 1019.6 
" class="s3"/><use xlink:href="#k1" x="1254.752" y="1206" class="s0"/><path d="M 1285.5 1206 
L 1285.5 1019.6 
" class="s3"/><use xlink:href="#k1" x="1285.504" y="1206" class="s0"/><path d="M 1316.3 1206 
L 1316.3 1019.6 
" class="s3"/><use xlink:href="#k1" x="1316.256" y="1206" class="s0"/><path d="M 1347 1206 
L 1347 1019.6 
" class="s3"/><use xlink:href="#k1" x="1347.008" y="1206" class="s0"/><path d="M 1408.5 1206 
L 1408.5 1019.6 
" class="s3"/><use xlink:href="#k1" x="1408.512" y="1206" class="s0"/><path d="M 1439.3 1206 
L 1439.3 1019.6 
" class="s3"/><use xlink:href="#k1" x="1439.264" y="1206" class="s0"/><path d="M 1470 1206 
L 1470 1019.6 
" class="s3"/><use xlink:href="#k1" x="1470.016" y="1206" class="s0"/><path d="M 1500.8 1206 
L 1500.8 1019.6 
" class="s3"/><use xlink:href="#k1" x="1500.768" y="1206" class="s0"/><path d="M 1562.3 1206 
L 1562.3 1019.6 
" class="s3"/><use xlink:href="#k1" x="1562.272" y="1206" class="s0"/><path d="M 1593 1206 
L 1593 1019.6 
" class="s3"/><use xlink:href="#k1" x="1593.024" y="1206" class="s0"/><path d="M 1623.8 1206 
L 1623.8 1019.6 
" class="s3"/><use xlink:href="#k1" x="1623.776" y="1206" class="s0"/><path d="M 1654.5 1206 
L 1654.5 1019.6 
" class="s3"/><use xlink:href="#k1" x="1654.528" y="1206" class="s0"/><path d="M 1716 1206 
L 1716 1019.6 
" class="s3"/><use xlink:href="#k1" x="1716.032" y="1206" class="s0"/><path d="M 1746.8 1206 
L 1746.8 1019.6 
" class="s3"/><use xlink:href="#k1" x="1746.784" y="1206" class="s0"/><path d="M 1777.5 1206 
L 1777.5 1019.6 
" class="s3"/><use xlink:href="#k1" x="1777.536" y="1206" class="s0"/><path d="M 1808.3 1206 
L 1808.3 1019.6 
" class="s3"/><use xlink:href="#k1" x="1808.288" y="1206" class="s0"/><path d="M 1869.8 1206 
L 1869.8 1019.6 
" class="s3"/><use xlink:href="#k1" x="1869.792" y="1206" class="s0"/><path d="M 1900.5 1206 
L 1900.5 1019.6 
" class="s3"/><use xlink:href="#k1" x="1900.544" y="1206" class="s0"/><path d="M 1931.3 1206 
L 1931.3 1019.6 
" class="s3"/><use xlink:href="#k1" x="1931.296" y="1206" class="s0"/><path d="M 1962 1206 
L 1962 1019.6 
" class="s3"/><use xlink:href="#k1" x="1962.048" y="1206" class="s0"/><g transform="translate(1570.5 1264.359734)"><text><tspan x="0" y="-0.171875" class="s26">x</tspan><tspan x="38.333727" y="-0.171875" class="s26">d</tspan><tspan x="25.264147" y="-0.171875" class="s27">[</tspan><tspan x="67.043224" y="-0.171875" class="s27">]</tspan><tspan x="59.598375" y="5.40625" class="s32">i</tspan></text></g><path d="M 1224 1176.2 
L 1992.8 1176.2 
" class="s3"/><use xlink:href="#k2" x="1224" y="1176.172331" class="s2"/><g transform="translate(1203.092 1185.556401)"><text><tspan x="0" y="-0.4375" class="s4">0</tspan></text></g><path d="M 1224 1148.6 
L 1992.8 1148.6 
" class="s3"/><use xlink:href="#k2" x="1224" y="1148.572266" class="s2"/><g transform="translate(1160.855 1157.956336)"><text><tspan x="0" y="-0.676563" class="s4">1</tspan><tspan x="15.746704" y="-0.676563" class="s4">0</tspan><tspan x="31.732666" y="-10.246875" class="s5">−</tspan><tspan x="46.249121" y="-10.246875" class="s5">4</tspan></text></g><path d="M 1224 1122.8 
L 1992.8 1122.8 
" class="s3"/><use xlink:href="#k2" x="1224" y="1122.777813" class="s2"/><g transform="translate(1160.855 1132.161883)"><text><tspan x="0" y="-0.435938" class="s4">1</tspan><tspan x="15.746704" y="-0.435938" class="s4">0</tspan><tspan x="31.732666" y="-10.00625" class="s5">−</tspan><tspan x="46.249121" y="-10.00625" class="s5">3</tspan></text></g><path d="M 1224 1097 
L 1992.8 1097 
" class="s3"/><use xlink:href="#k2" x="1224" y="1096.983359" class="s2"/><g transform="translate(1160.855 1106.36743)"><text><tspan x="0" y="-0.435938" class="s4">1</tspan><tspan x="15.746704" y="-0.435938" class="s4">0</tspan><tspan x="31.732666" y="-10.00625" class="s5">−</tspan><tspan x="46.249121" y="-10.00625" class="s5">2</tspan></text></g><path d="M 1224 1071.2 
L 1992.8 1071.2 
" class="s3"/><use xlink:href="#k2" x="1224" y="1071.188906" class="s2"/><g transform="translate(1160.855 1080.572977)"><text><tspan x="0" y="-0.676563" class="s4">1</tspan><tspan x="15.746704" y="-0.676563" class="s4">0</tspan><tspan x="31.732666" y="-10.246875" class="s5">−</tspan><tspan x="46.249121" y="-10.246875" class="s5">1</tspan></text></g><path d="M 1224 1045.4 
L 1992.8 1045.4 
" class="s3"/><use xlink:href="#k2" x="1224" y="1045.394453" class="s2"/><g transform="translate(1175.428 1054.778523)"><text><tspan x="0" y="-0.435938" class="s4">1</tspan><tspan x="15.746704" y="-0.435938" class="s4">0</tspan><tspan x="31.732666" y="-10.00625" class="s5">0</tspan></text></g><path d="M 1224 1019.6 
L 1992.8 1019.6 
" class="s3"/><use xlink:href="#k2" x="1224" y="1019.6" class="s2"/><g transform="translate(1175.428 1028.98407)"><text><tspan x="0" y="-0.676563" class="s4">1</tspan><tspan x="15.746704" y="-0.676563" class="s4">0</tspan><tspan x="31.732666" y="-10.246875" class="s5">1</tspan></text></g><g transform="translate(1146.03 1179.75) rotate(-90)"><text><tspan x="0" y="-0.921875" class="s7">J</tspan><tspan x="36.630127" y="-0.921875" class="s7">e</tspan><tspan x="61.901839" y="-0.921875" class="s7">n</tspan><tspan x="103.153165" y="-0.921875" class="s7">c</tspan><tspan x="9.584961" y="4.492188" class="s8">x</tspan><tspan x="82.499983" y="4.492188" class="s8">0</tspan><tspan x="23.950684" y="-0.921875" class="s9">[</tspan><tspan x="121.021818" y="-0.921875" class="s9">]</tspan></text></g><path d="M1224 1044.1l.6 .1 .6-1.3 .6 1.3 .6-.2 1.7 1.3 .6 .1 .6-1.4 .6 .6 .6-.3 .6 1.2 1.8-2.2 1.8 2.5 1.1-.4 1.2 2.9 1.8-1.8 2.4 4.9 1.7 1 2.4-2.6 .6 1.3 1.8-1.5 .6 .6 1.1-.9 .6-1.5 .6 .4 .6-1 1.8 1.2 .6-.1 .6-1.4 1.8-.1 1.1-1.7 .6-.1 2.4 .4 1.2 .8 .6-1.2 1.2 .2 .6 1.6 1.1-.3 1.2 1.6 1.2 .2 .6-1.4 .6 .1 1.2-2.6 .6-.2 1.1 2.7 .6 .7 .6-.4 .6 .5 1.2-.5 .6-1.6 1.2 .1 .6 .8 .6 .1 .6 1.1 1.7-3 .6-.2 .6 1.6 .6-.8 .6 .6 .6-1.1 1.2 .9 1.2-.1 .6-.7 2.9 1.2 .6-.3 1.8 2 .6-.1 1.2-1.9 .5 .8 .6-.1 .6 2.1 .6-.3 1.8 1 .6-.3 1.2-2.4 .6 .7 .6-1.2 1.7 .4 1.2-.7 1.2 .5 .6-.6 1.2 1.3 1.7-.2 .6 1.1 1.8-1.4 1.2-.1 .6 1 .6 0 1.8-2.5 2.3 .8 1.8-1 .6 .1 2.4 2.8 .6-.7 .5 .7 1.2-.4 1.2 1.3 1.2 .1 1.2 1.5 1.2-.3 1.1-1.4 .6 .2 3.6 5.6 .6-.4 2.3 1 .6-.8 1.8 18.9 .6 4.2 .6 1 2.4 16.8 .6-3.2 .6-1.8 .5-.4 .6-4.4 .6 1.4 .6 .2 .6-.6 1.2-5.3 .6-.1 1.2-7.9 .6 1.9 1.1-6.2 1.2-10.5 1.8 11 1.2 2.4 1.2-1.8 .6 1.1 1.1-3.8 .6 1.9 3 24.2 3 11.2 .5-3.8 .6 2.8 .6 .5 .6-4 1.2 2.7 1.2-9.6 .6-1.1 1.2-.1 .6-3.5 1.1 .5 .6 .8 .6 5.1 .6 0 .6-4.9 .6 .1 .6 5.8 2.4-16.5 2.3 17.1 1.2-5.1 1.2 3.7 1.8-9.4 1.2 5.7 .5-1.2 1.8 3.9 .6-1.2 .6-6.9 1.2 .7 .6 1.1 .6-2.9 .6 .7 1.1 10.9 1.2-10 .6-.3 1.2 2.5 1.2 7.8 1.2 .8 1.2-1.7 .6-3.7 .5 5.3 1.2-8.1 1.2 6.9 .6-6.1 1.2 2.3 1.8-2.1 .6 3.9 1.1-4 .6 0 1.2 7.4 1.2 .6 1.2-3.7 .6 1.7 1.2 .2 1.1-7.4 .6 6 .6 1.6 .6 .1 .6 1.8 .6 .4 1.2 3.3 .6 3.6 1.2-13.3 1.1 5.5 1.2-1.5 .6 .1 1.2-1.2 1.2 4 .6-2.5 .6 4.3 1.2-4.2 1.1 .4 1.2 2 .6 0 .6-1.1 1.2-6.3 1.2 5.7 1.2-1.7 1.1 5.2 1.2-7.5 1.2 8.6 1.8-5.4 1.2 5.4 .6-1.1 .5-4.1 .6-.1 .6 1.3 1.2-2.4 .6 3.3 1.2 .6 .6-.5 .6-2.1 .6 2.8 .6-.7 .6-2.7 1.1 6.5 .6-3.8 1.2 4.2 1.2 .7 1.2 3.1 1.2-3 .6 .6 .5-.2 1.2-2.2 1.8 3.3 1.2-8.8 .6 2.7 1.2-1.6 .6 .6 1.1-1.6 .6 2.3 .6-3.5 .6 2.5 .6 .5 .6-.6 .6 1.9 1.2-2.9 1.2-1.5 .5 1.4 .6-.3 .6 2 .6 .3 1.2-.3 .6 .7 .6-2.2 .6 1.3 .6-3.2 .6-.2 .6 3.6 .6-.4 .5 1.4 .6 .2 .6-3.2 .6 2 1.2-1.3 .6-2.1 1.2-1.5 .6-3.4 1.2 6 1.1-3.1 .6 1.7 .6 0 .6 2.3 .6 .2 .6-1 .6 1.8 .6-.9 1.2-6.6 1.7 4.1 1.2-1.3 1.2 3 1.2-5.4 .6 1.9 .6 6 1.2-4.2 .5 1.6 1.2-1.4 1.2 5.6 .6-1.4 1.2-.5 1.2 .8 1.2 2.4 .6-1.4 .5 .2 .6-2.5 1.2 2.2 .6-2.8 .6-.3 .6 2.1 .6-.2 .6-1.3 .6-.2 .6 1.7 .6 .3 .5 3.5 .6 .9 .6 .3 .6-1.4 .6 1 1.2-1.6 .6 .7 .6 2.4 1.2-3.8 1.1 5.1 1.2-.6 1.2 3 1.2-5 1.8 5.7 .6-.6 .6-3 1.1 6 1.2-9 .6 1.5 1.2-3.5 1.2 5.7 .6-3.8 1.2 .1 .6-2.8 .5-.8 .6 3.9 1.2-.1 .6-2.1 .6 .8 .6 .1 .6-.6 .6 .3 .6-1.6 .6-.1 1.1-4.9 .6 0 1.2 2.2 1.2-.9 .6 .6 1.2-2.4 .6 .5 1.2-.5 1.7 4.1 .6 .4 1.2-3.3 .6 .3 1.2-5.4 .6 1.8 .6-1.5 1.1 8 .6-5.3 1.2 3.7 .6-2.1 .6 1.7 .6-.7 .6 2.2 .6 0 .6-3 .6 1.5 .6-1.2 .6-5.4 .5 .5 .6 3.5 1.2 2 .6-.3 .6-2.1 .6 .1 1.2 1.4 .6-2.5 1.2 4.2 .5-1.7 .6 1 1.2 4.6 1.2-3.7 .6 .4 .6 2.1 1.2-4.8 1.7 5.2 1.2-6.6 .6 3.7 .6 0 .6-3.6 .6-.3 1.2 7.3 .6-2.3 1.7 2.8 .6 0 1.2-3.7 1.2 4.9 .6-.8 .6-3.1 .6-.5 .6 1.2 .6 4.7 .6 1 .6-3.5 .5-.1 .6 1.1 1.2-.7 1.2-7 1.2 4.7 1.2-.2 1.2 1.7 1.1-2.1 .6 1 1.2-2.2 1.2 5.2 .6 .4 1.8-4.8 1.1 3.4 1.2-4.9 1.2 4.5 .6-3 .6-.7 1.2 4.4 1.2-4.1 .6 3 1.1 2.2 1.8-2.8 .6 2.4 .6-.2 .6-1.3 1.8 1.5 .6-3.8 .6 .3 .5 4 .6 .9 .6-2.8 1.2 3.8 .6-1.7 1.2-1 .6 .7 .6 2.6 .6 .2 .6-5 1.1 1.9 .6-1.6 .6 1 1.2-.7 .6 .6 1.8 5.3 2.3-8.1 1.2 3.1 .6-.4 .6-2.1 .6 1.9 1.2 .5 .6 1.6 .6-.3 .6 .4 .5 2.6 1.2-5.5 1.2 1.4 .6 0 .6 1.5 2.4-5.4 1.7 6.9 .6 .6 1.2-6.4 .6 3.2 .6-1.7 1.2 5.3 .6-1 1.2 2.1 .6-.7 .5-3.9 .6-.4 1.8 6.4 .6-.6 .6-3.2 .6 1.3 1.2-1.6 .6 .5 .6 2.1 .5-.1 .6 1.4 1.2-2.8 .6-.2 1.2 2.4 .6-2.9 .6 2.6 .6 .3 .6-2.9 2.9 6.3 .6-2 .6 1.3 1.2-4.8 1.2 8.8 .6-5.4 .6-1.5 1.1-.2 1.8-3.3 2.4 7 .6-.1 .6-1.5 .6-4.4 .6-.2 .5 5.3 .6 .8 .6-1 .6 .4 .6-1.5 .6-.3 .6 3.4 .6-.9 .6-3.1 .6 3.9 .6-1.7 .6-.4 1.1 4.4 1.8-5 .6 .2 .6 2.9 .6-2.3 1.2 1.4 .6-.9 .6 1.8 .5 .3 1.2-.2 1.8 1.9 1.2-1.8 1.2 1.5 .6-.5 .6-2.3 .6-.1 .5 3.7 .6 .3 1.2-2.4 .6 1.4 1.2 0 1.2-1.1 1.8 7.3 1.1-7.4 .6-.6 1.2 2.3 .6-.1 .6 .7 1.2 3.4 .6-.2 1.2-5 .5 2.5 .6 1.4 .6-.7 1.2 3.9 .6-.1 .6-1.2 .6 1 .6-1 .6 .7 1.2-2.1 .5 1.8 .6-.1 .6 1.7 .6 0 .6-2.5 1.2 5.1 1.2-2.5 .6-.1 .6-2 1.2 2.6 1.1-3.1 1.2 3.7 .6-.3 1.2 1 1.2-1.7 1.2 3.6 1.1-3.5 1.2 3 1.2 .9 .6-3.3 .6-.3 .6 5.3 1.2-4 .6 4.6 .6-.2 .5-3.2 1.2 1 .6-.3 .6 3.1 1.2-1.3 .6 1.1 1.2-4 .6 3.3 .6-1.4 .5-.1 1.8 .9 1.2-.9 .6 1.4 .6 .2 .6-2.4 .6-.2 .6 3 .6 .7 1.7-2.2 1.2 3.5 .6-1 .6 .4 .6-1.4 .6 2.4 .6 .3 .6-1.6 .6 1.8 .6-1.3 .5-4.6 .6 .3 .6 3.1 .6 .3 .6 2.5 .6 .7 .6-.9 .6-4.3 .6-.9 .6 2.3 1.2-.7 .5 2.1 .6 .6 .6-.8 .6 2.2 .6-3.5 .6 .5 .6 1.9 .6-.5 .6 .4 .6-1.9 .6 .7 .6 2.9 1.1-2.9 1.2 1.9 .6-3.4 2.4 2 1.8-4.4 .6 2.4 .5-1 .6 2.4 .6 .6 .6-.5 .6 1.4 1.2-3.8 .6-.1 1.2 4.8 1.2-.9 .5 1 1.2-4.5 1.2 6.7 .6 .3 1.2-5.3 .6 1.9 2.3-3.7 1.2 .8 1.2 3.4 .6-1.6 1.2-.9 .6 1.8 1.2-3.3 .6-.4 .6 3.7 1.1-4 1.2 3.5 1.2 2 1.2-4.3 1.2 2 .6 3 2.3-6.2 .6-.4 1.8 2.3 .6-2.3 1.8 2.4 .6-1 1.1 3.4 .6-2 1.2 3.9 1.2-3.1 1.2 0 .6 2 .6 0 .6-2.6 .5 0 1.2 3.9 .6-1.2 .6-4.1 1.2 2.6 .6-3.7 1.2 3.7 1.2 1.6 1.1-2.3 .6 .7 1.2-2.3 .6 2.6 1.2-3.6 .6 2 .6-.1 .6-1.9 .6 2.6 .6-1.9 1.1 8.1 .6-3.9 .6-1.1 .6 1.4 1.2-3.9 1.2 18.3 .6 .6 3.5 11 1.8 1.4 3.5 6.2 .6 .1 1.2 1.1 3.6 4.6 2.3 1.8 3 1.3 1.2 .3 .6-.4 .6-5.2 1.2 6.7 .5-5.1 .6 5.6 .6-5.9 .6 2 .6-3.3 .6 7.9 .6-8.3 .6 3.2 .6-5.7 .6 8.9 .6-8.5 .6 3.9 .5-.3 .6 5.2 .6-4.4 .6-.4 .6 5.1 .6 1.1 .6-1.3 .6-7.5 .6 4.4 .6-2.7 .6 2.2 .6 .6 .5-.3 .6 2.1 .6-5.5 .6 3.5 .6-.1 .6 5.4 .6-5.7 .6 3.3 .6-.6 .6-5.2 .6 7.2 1.7-7.6 .6 5.7 .6-2.9 .6 .1 1.2 8.3 .6-.8 .6-8.5 1.2 6.6 .6-2.4 1.7-2.1 .6-7.6 .6 10.2 .6-3.2 .6 3.1 .6-.5 .6 .9 .6-2.2 .6 1.1 .6-3.1 .6 .5 .5 3.7 .6-9.5 .6 10.5 1.2-11.3 .6 9.7 .6-6.9 .6-.3 1.2 11.1 .6-11.1 1.1 6.7 .6-6.2 .6 6.8 .6-6.1 .6 5.5 .6-3.7 .6 5.5 .6-2.3 .6 1.7 .6-.7 .6-3 .6 1.2 1.1-4.9 1.2 10.6 .6-5.3 1.2-4.4 1.2 .2 .6 4 .6-3 .6 7.1 .6-9.3 .5 2.9 .6-.2 .6 3 .6-1.5 .6 2.5 .6-4.2 .6 6.4 .6-7.8 .6 1.5 .6-5 .6 6.9 .6 .2 .5-.9 1.2 1 .6 3.3 .6 .1 1.2-2.8 .6 3 .6-.1 1.2-6.4 .6 3.2 1.1-4 .6 .7 .6 4 .6 0 .6 4.9 1.2-7.9 .6 5.3 .6-8.3 .6-.2 .6 6.1 .6-4.4 .5 7.9 1.8-4.8 .6 .6 .6 2.3 .6-9.5 .6 5.6 .6 0 .6-1.3 1.7 4.2 .6 3.7 .6-10.6 .6 8.1 .6 2.5 .6-2.9 .6 2.7 .6-12.1 .6 5.5 .6-3.6 .6-.1 .6 3 .5 0 .6 4.4 .6-2.2 .6 1.8 .6-2.2 .6 2.5 .6-6.7 1.2 4.7 .6 5.3 .6-8 .6-.7 1.1 7.3 1.2-7.8 .6 10 .6-8.4 .6 8" clip-path="url(#k18)" style="fill: none; stroke: #b03030; stroke-width: 3.5; stroke-linecap: square"/><path d="M1224 1043.6l.6 .1 .6-1.3 .6 1.3 .6-.1 1.7 1.2 .6 .2 .6-1.5 .6 .6 .6-.2 .6 1.2 1.8-2.2 1.8 2.5 1.1-.5 1.2 3 1.8-1.8 2.4 4.9 1.7 1 2.4-2.7 .6 1.3 1.8-1.4 .6 .6 1.1-.9 .6-1.5 .6 .4 .6-1 1.8 1.2 .6-.1 .6-1.5 1.8 0 1.1-1.7 .6-.2 2.4 .5 1.2 .8 .6-1.3 1.2 .2 .6 1.7 1.1-.4 1.2 1.6 1.2 .2 .6-1.4 .6 .1 1.2-2.6 .6-.1 1.1 2.7 .6 .6 .6-.3 .6 .5 1.2-.5 .6-1.7 1.2 .1 .6 .9 .6 0 .6 1.1 1.7-2.9 .6-.2 .6 1.5 .6-.8 .6 .7 .6-1.1 1.2 .9 1.2-.2 .6-.7 2.9 1.2 .6-.2 1.8 1.9 .6 0 1.2-2 .5 .8 .6 0 .6 2.1 .6-.3 1.8 1 .6-.3 1.2-2.4 .6 .6 .6-1.2 1.7 .5 1.2-.8 1.2 .6 .6-.6 1.2 1.3 1.7-.2 .6 1 1.8-1.3 1.2-.1 .6 .9 .6 0 1.8-2.5 2.3 .8 1.8-.9 .6 .1 2.4 2.7 .6-.6 .5 .7 1.2-.5 1.2 1.3 1.2 .2 1.2 1.4 1.2-.3 1.1-1.3 .6 .1 3.6 5.6 .6-.3 2.3 1 .6-.9 2.4 24.9 .6 1 2.4 15.4 .6-3.3 .6-1.6 .5-.1 .6-4.1 1.2 1.5 1.8-6.4 .6 .6 1.2-8.7 .6 .7 .6-2.4 1.7-12.5 3 13.8 1.2-2 .6 1.1 .6-.4 .5-2.8 .6 1.2 3 23 .6 114.3 1.2 0 .6-104.3 .6 1 .5-3.6 .6 4.2 .6 .9 .6-3.5 1.2 1 1.2-10.6 1.2-1.6 .6 1.3 .6-3.7 1.1 .4 1.2 6.4 .6-.4 .6-5.5 .6 .8 .6 6.1 2.4-16.8 2.3 16.9 1.2-5.3 1.2 4.5 .6-1.2 1.2-8 1.2 5.3 .5-1.4 1.8 5.1 1.2-8.8 1.2 2.1 .6 0 .6-3.8 .6 .5 1.1 11.5 1.2-10.1 .6-.1 1.2 2.3 .6 5.8 1.2 3.3 1.8-2.7 .6-2.9 .5 5.2 .6-2.1 .6-6.5 .6 5.3 .6 1.7 .6-5.1 .6 1.2 1.8-1.7 .6 .1 .6 3.3 .5-.6 .6-2.1 .6 .9 1.2 6.1 .6 .1 .6-.3 1.2-2.8 1.2 1.5 .6-.6 1.1-6.4 .6 5.4 .6 1.9 .6-.6 1.8 2.5 1.2 7.4 1.2-12.8 1.1 3.9 .6-.6 1.8 1.5 .6-.8 .6 2.7 .6-.4 .6-2.7 .6 3.4 1.2-4 .5 .6 .6-.5 1.2 2.7 .6 0 .6-.7 1.2-6.1 1.2 6.2 1.2-2.1 1.1 3.2 1.2-5.7 1.2 8 1.8-4.9 .6 .7 .6 2.8 .6-.6 .5-2.7 .6 .3 .6 1.4 1.2-1.1 .6 2.2 1.2 .1 1.2-3.1 .6 2.5 .6 .5 .6-2.4 1.1 5.6 .6-4.4 1.2 4.9 .6 103.5 2.4 0 .6-102.7 2.3-2 .6 0 1.2 2.3 1.2-9.3 1.2 3.9 .6-.7 .6 .9 1.1-2.2 .6 2.1 .6-3.8 1.2 4 .6-.5 .6 1.2 .6-2.1 1.2-.8 2.9 1.8 .6-1.4 1.2-.2 .6-1.2 .6 1.2 .6-2.1 .6-.5 .6 3.8 .6-.5 .5 1.2 .6 .3 .6-3.3 .6 2.1 .6-.7 1.2-3.9 1.2 .1 .6-2.3 1.2 5.9 1.1-3.4 1.8 3.2 1.2-.2 .6 1.4 .6-.9 1.2-6.8 1.1 4.2 1.2-2.4 .6 .2 1.2 3.1 1.2-6 1.2 8.5 1.2-3.8 .5 1.1 .6-1.5 .6 .4 1.2 6.4 .6-1.4 1.2-1 2.4 2.2 1.7-4.1 1.2 4.4 1.2-3.9 .6 2 1.8-1.1 1.2 1.8 1.1 4.2 1.2-1.5 1.8 .2 1.2 3.4 1.2-4.1 .6 2.4 .5 .3 .6-1.5 .6 .8 1.2 4.9 1.2-4.9 .6 .5 .6 2.7 .6 .6 .6 .3 .6-1.8 1.1 5.5 1.2-7.8 .6 1.3 1.2-3.8 1.2 4.8 .6-4.4 .6 .3 .6 1.6 .6-2.4 .5-.4 .6 2.5 .6 .2 .6-.1 .6-1.9 .6 .2 1.2-1.3 .6 1 .6-.6 .6 .2 1.1-5.6 .6-.5 1.2 2.9 1.2-1.4 .6 .7 1.2-1.8 1.2-.5 2.3 3.8 .6-.3 1.2-3.2 .6 1.3 1.2-4.8 .6 2.4 .6-1.6 1.1 6.3 .6-5.3 1.2 3.7 .6-1.8 .6 1.6 .6-1.4 .6 1.9 .6 .1 .6-1.5 .6 1.3 .6-1.7 .6-5.4 .5 .6 .6 3.8 1.2 2.3 .6-.3 .6-2.8 1.8 1.7 .6-2.1 1.2 4.5 .5-2.7 .6 .4 1.2 4.1 1.2-2.5 1.2 2.9 1.2-4.9 1.2 3.9 .5 .2 1.2-5.5 .6 3.4 .6-.6 .6-3 .6-.1 1.2 6.5 .6-1.2 1.2 1.5 1.1 .1 1.2-2.3 1.2 4.7 1.8-5.3 .6 1 .6 5 .6 .6 .6-3.2 .5-.2 1.2 .9 .6-.6 1.2-5.8 .6 3.8 .6 1 1.2-.3 1.2 .7 1.1-2.8 .6 1 .6-.7 .6 .2 1.2 5.6 .6-.3 1.8-4.9 1.1 3.7 1.2-4.2 1.2 2.8 .6-2.4 .6 .1 1.2 5 1.2-5.2 1.7 4.9 .6-.4 1.2-3 .6 1.5 .6-.4 .6-1.6 .6 .4 1.2 2.5 .6-2.8 .6 .3 .5 3.5 .6 .7 .6-2.6 1.2 4 .6-2 1.2-1.2 .6 .4 .6 3.3 .6-.5 .6-4.3 .5 .2 .6 2 .6-1.4 .6 1.2 1.2-2.4 .6 .8 1.8 6.8 2.3-8.5 1.2 3.6 1.2-3.2 1.2 2.9 .6-.7 .6 1.3 .6-1.3 .6 .6 .5 2.5 1.2-3.2 .6 1.3 .6 .2 .6-1 .6 .4 2.4-3.2 2.3 4.5 .6-3.4 .6-.4 .6 3.1 .6-1.9 1.2 5.5 .6-1.2 1.2 1.6 .6-.5 1.1-4.7 1.8 5 .6-.8 .6-2.6 .6 2.4 .6 .4 .6-1 1.2 2.2 .5 .3 .6 0 1.2-2.9 1.8 2.1 .6-2.7 1.2 3.1 .6-2.7 2.9 5.8 .6-1.3 .6 .5 .6-1.1 .6-3.5 1.2 9.2 1.2-6.9 1.1 .2 1.8-2.4 2.4 6.1 .6-.4 .6-1.9 .6-4.5 .6 1.2 .5 4.8 .6 1 .6-1.7 .6-.2 1.2-2.2 .6 4.9 .6-.4 .6-2.6 .6 2.5 .6-2.3 .6-.3 1.1 5.2 1.8-6.3 1.2 4.2 .6-2.3 1.2 .5 .6-.8 .6 1.6 1.7 1.2 .6 1.4 1.2-.3 1.2-1.3 1.2 1.3 .6 .1 .6-2.4 .6-.2 .5 3.1 .6 .5 .6-1.5 .6 0 .6 1.1 .6 .2 1.8-1.3 1.8 6.3 1.1-6.9 .6-.5 .6 1.4 1.2 .8 1.8 4.9 1.8-5.8 1.1 3.8 .6-.8 1.2 4.4 1.2-.1 1.2-1.9 1.2 .2 .6-.7 .5 1.2 .6-.4 1.2 2.4 .6-2.5 1.2 4 2.4-4.4 1.2 2.3 1.1-1.4 .6 2.6 .6 .5 .6-1.8 .6 .2 1.8 1.8 1.2 3 1.1-3.3 1.2 2.6 .6 .2 .6-.7 .6-3.4 .6 .4 .6 5.2 1.2-4.9 1.2 5.4 .5-3.7 .6 2.1 .6 .4 .6-.7 .6 2.3 1.2-.6 .6 78.2 .6 .1 .6-81.1 .6 78.5 .6-76 .5-.7 .6 77.5 .6-1.8 .6-8 .6-67 .6 .3 .6 76.3 .6-75.6 .6-2.4 .6 .8 .6 77.2 .6-74.8 .6 75.7 .5-28.6 .6 1.1 .6 15.3 .6-63.1 .6-1.5 .6 73.7 .6-10.7 .6-60.5 .6 59.2 .6-13 .6-46.8 .6 67.8 .5-71.3 .6 .4 .6 79.2 1.2-21.2 .6-54.2 .6-.5 .6 68.7 .6-73 .6 63.5 .6-61.2 .6 61 .5-59.5 1.2 72 .6-69.8 .6-2.8 .6 .3 .6 46.7 .6-46.1 .6 74.7 .6-75.6 .6 47.2 .6-44.1 .5-.4 .6-2.7 .6 74.7 .6-15.2 .6-60.8 .6 .8 .6 60 .6-58.4 .6 63.5 .6-11 .6 .8 .6 18.2 .6 3.8 1.1-76.9 .6 57.3 .6-57.4 .6 2.2 .6-2 1.2-1.4 1.2 3.5 .6-1.1 1.1 2.5 .6 74.2 .6-5.7 .6 4.9 .6-73.2 .6 57.5 .6 13.7 .6-75.7 .6 2.2 .6-.7 .6 72.2 .6 1.2 1.1-16.2 .6-58.5 1.2 3 .6-1 .6 0 .6 59 .6-58.5 .6 .5 .6-2 .6 .2 .6 51.9 .5-50.5 .6 48.2 .6 10.8 .6-59.6 1.2 1.2 .6-2.4 .6 76 .6-17 .6-57.7 .6 2.3 .6 63.7 .5-67.1 .6-.9 .6 76.2 .6-77.3 .6 52.7 .6-49.4 .6 59 .6-61.8 .6 61.7 .6-61.6 .6 73.9 .6 3.9 .5-76.2 .6 47 .6-48.1 1.2 4.7 .6-1.6 .6 64.3 .6-66.1 .6-.6 .6 1.7 .6 .4 .6-2.4 .5 47.6 .6-44.9 .6 1 .6-1.4 .6 56 .6 3.5 .6-4.2 .6-57.7 1.2 3.2 1.2 1.2 .6 58 .5-1.9 .6-59.4 .6 64.4 .6-9 .6 5.1 .6-59.8 .6-3 .6 56.6 .6-54.6 .6-1.4 .6 2 .6-1.8 1.1 7.8 .6 55.3 .6-61.1 .6 2.1 .6 69.3 1.2-69.7 .6 74.8 .6-76.1 .6-3 1.1 76.5 .6-73 .6 55.4 .6-53.2 .6 45.4 .6-45.1 .6 70.5 .6-75.8 .6 68.1 .6-10.8 .6 4.2 .6-60.5 .5 75.8 .6-72.2 .6-2.5 1.2 2.1 1.2-4.9 .6 73.9 .6-68.6 1.2-2.9 .6 1.6 .6 54.6 .5-1.5 .6-54.4 .6-3 .6 69.2 .6-68.1 .6 .5 .6 51.6 .6 3.9 .6 19.9 .6-72.6 .6 70.5 .6-70.4 .5 45.3 .6-46.5 1.2 1.3 .6 60.3 .6-60 .6 .1 .6-2 .6 .7 .6 3 .6 56.5 .6-59.1 .5 3.2 .6-3 .6-.3 .6 71.4 .6-11.3 .6-56.6 1.2-4.5 .6 54 .6-52.8 .6-.9 .6 74.2 .5-71.5 .6-3.4 .6 53.2 .6 16.3 .6-69.5 .6-.3 1.2 2.1 .6 54.6 .6-54.9 .6 .1 .6 66.9 .6-65.7 .5 49.7 .6-51.3 .6-.3 .6 2.7 .6 .4 .6-1.7 .6 .7 .6-1.8 .6 74.1 .6-15.8 .6 11.2 .6-67.4 .5 69.9 .6-70.8 .6 60.7 .6-61.8 .6 64.3 .6-63.2 .6 .7 .6-.1 .6 47.5 .6-45.4 .6-3.3 .6 63.9 .5-60.2 .6 59.9 .6-63.7 .6 5.7 .6 68.2 .6-74.7 .6 58 .6-59.5 .6 52.4 .6-50.4 .6 1.1 .6 58.3 .5 13.3 .6-27.4 .6 .9 .6 29.2 .6-10.6 .6-62 .6-1.4 .6 69.3 .6-69.5 .6 .3 .6 60.1 .6-9.7 .6 16.9 .5-71.5 .6 56.2 .6-51.9 .6 59.5 .6-62.3 .6-.3 1.2 75.8 .6-71 .6 55.7 .6-60.6 .6 71.4 .5-69.2 .6-1.2 .6 52 .6-51 .6 66.3 1.2-17.6 .6-51.9 .6 .2 .6 58.8 .6-54.8 .6-.5 .5-3.5 1.2 .5 1.2 2.8 .6-2.1 .6 3.2 .6 45.4 .6-43.1 1.2-3.7 .6 66.1 .5-65 .6 63.3 .6 8.8 .6-73.3 .6-.5 .6 46 .6-44.9 .6 58.6 .6-58.7 .6 74.4 .6-75.4 .6 57.5 .6-10.3 .5-45.1 .6 .8 1.2-1.7 1.2 2.6 .6 69.3 1.2-72.5 .6 70.1 .6-6.8 .6 10.2 .5-10.6 .6-59.4 .6 65.3 .6-67.5 1.2 73.5 .6-72.1 1.2 70.3 .6-4.1 .6-68 .6 60.9 .5-61.7 .6 57.8 .6-10.4 .6-46.8 1.2 .7 .6 71 .6-69.6 .6 49.8 .6-51.9 .6-.7 .6 73.5 .5-75.4 .6 75.6 .6-68.6 .6 46.9 .6-47.7 .6-3.4 .6 1.3" clip-path="url(#k18)" style="fill: none; stroke: #8c8c8c; stroke-width: 3.5; stroke-linecap: square"/><path d="M1224 1073.1l3-.3 .6-.5 1.7 1.3 .6-.4 1.2-.1 .6 .7 1.2-.2 1.2 .5 1.7-1 1.8 1.2 1.8 .4 .6 .7 6.5-3.3 .6 .8 1.2 .1 2.9-1.5 1.2 .7 1.8-2 1.2 1.3 1.2 .4 .5-.3 1.2 .6 1.2-.6 1.2 .6 1.8-.9 .6 .9 .6-.5 1.7 .8 .6-1.2 .6-.2 1.2 .9 1.2-1.3 1.8 1.8 1.7-1.7 1.8 1.4 1.2-1.2 1.2 .7 .6-.2 1.1-1.7 1.2 .1 .6 1.3 1.2 .9 5.9-1.4 3 .7 1.8-1.3 1.7 2.2 1.2-1 2.4 0 .6-.4 2.3 1.2 .6-.1 1.2 1.1 1.8-1.5 3 1.3 1.7-1 1.2 .1 .6-1 1.2 .3 1.8-.6 .6 1.6 .6-.5 .5 .6 1.2 0 1.8-1.4 1.8 1.7 .6 .1 2.9-.6 1.2-1.1 1.8 2.8 1.8-.4 1.1 .4 1.2-.8 2.4-.3 2.4 1.3 1.1-.8 1.2 1.2 1.8 4.8 3 15.3 3.5 2.9 1.8 2.2 .6 .1 .6-.7 2.3 .3 2.4 3 1.2 .5 1.2 2.2 4.1 2.4 2.4 2.9 1.2-1.4 1.7 1.3 1.2-1.6 1.8 2 .6-.6 .6 .3 1.8-1.4 1.2 1.7 1.7-.5 .6 .3 .6-.8 1.2-.3 1.8 .7 1.7-.9 .6 .8 .6-.5 .6 .4 .6-1 .6 .3 1.2-.6 1.8 1 .6-.3 .5 .5 2.4-.3 .6 .4 1.8-2.2 2.3 2 .6-.6 .6 .3 1.2-.5 1.8-1.2 1.8 1.3 .6-.5 .6 .7 2.3-1.1 .6 .6 .6-.1 .6-.7 2.4 .8 1.7-1.2 2.4 .9 1.8-1.7 2.3 1.3 3-.2 1.8 .4 .6-.6 .6 .1 1.7-.9 1.8 .7 1.8-1.2 3.5 .3 .6 .5 .6-.6 .6 .5 1.8-1.4 3 1.5 1.1-.8 1.8 .1 .6-.7 1.8 .5 1.2-.9 1.7 .7 .6-.8 1.8 1 1.8-1 1.2 .6 2.3-.9 1.2 1.2 1.8-1.7 1.2 .8 1.8-1.8 2.3 .7 1.8-1 1.8 1 .6-.4 .6 1.2 1.1-.2 1.2-1.2 .6 .7 1.8-1.5 1.2 .3 1.2-.5 1.1 1 1.2-1.2 1.8 .3 .6-.4 1.2 .9 2.3-1.6 1.2 0 .6 .7 2.4 .8 1.8-2.2 .6 .3 2.9-.2 .6 .6 2.4-2.1 .6 .9 1.7-.1 1.2 .7 1.2 .2 2.4-.7 .6 .6 2.3-.9 .6-.8 1.8 1.3 1.2-.9 .6 .5 1.8-.9 .5 .8 1.2-.2 .6-1 2.4 1.1 .6-.6 .6 .4 4.7-.7 1.8 .6 1.8-1.7 1.7 1.1 1.8-1.3 3.6 .4 1.1 .5 1.2-.4 1.8 1.3 .6-1.5 1.2-1.2 1.8 1.6 2.9-1.3 1.8 1.4 .6-.2 1.8-2.3 2.3 .2 3 1.1 2.3-.5 1.2-.9 1.8 .8 .6-.9 1.2 0 1.2 .5 2.3-.3 1.8 .8 1.8-1.1 .6 .4 .6-.8 1.2 .1 .5 1.3 1.8-.9 .6 .8 .6-.2 .6 .5 .6-.6 4.1 1.1 .6-.6 .6 .4 4.7-.8 1.8 1.3 2.4-1.4 1.8 1.1 .6-.7 1.7 .9 1.2-1.3 1.2-.5 .6 1.1 1.2 .6 2.3-.2 1.2-1 .6 .2 .6 1.2 1.8-.6 .6 .6 1.2 .4 .6-.3 2.3 1.3 2.4-.6 .6 .5 .6-.6 3.5 1.8 1.2-1.5 1.8 .9 1.8-.1 4.7 1.4 1.8-.8 1.7 .7 1.2-.5 2.4 1.4 1.2-1 1.8 1.5 .5-.9 1.2 .2 5.4 1.4 1.1-.3 1.8 1 1.8-.6 2.4 .9 .5-.3 .6 .2 1.8-1.3 1.8 1.4 1.8-.9 1.2 .9 1.1-.1 1.8 1.5 1.2-1.4 1.8 1.7 .6-1.3 1.1-.2 1.2 .8 .6-.5 2.4 .9 .6-.7 1.2 .1 .6 1.1 1.7-1.4 1.2 .5 .6-.3 1.2 .8 .6-.5 1.2 .6 1.7-.6 1.2 1.4 1.8-.8 1.2 .7 1.2-.3 .6-.9 .6 .7 .5-.2 .6 .9 2.4 .4 .6 .7 4.7-.3 .6 .6 1.2-.1 1.8 2.1 1.2 .5 2.3-.6 3 1.4 1.8-.3 1.1 .7 .6 1.1 1.2 .4 .6-.8 3-.3 1.8 2.4 1.1 0 1.2 .8 .6-.5 1.2 .2 1.2 .8 1.8-.5 1.7 2.3 .6-.5 1.2-.1 .6 1 1.2-.4 1.2 .9 .6 1.3 1.1-.4 .6-1.1 1.2 1 .6 1.2 3 .6 .6 .7 1.7-.5 2.4 1.5 .6 1.2 1.8 .2 2.3 2 .6-.5 2.4 .3 4.1 2 .6-.5 2.4 1.3 1.8 .6 .6-.3 1.7 1.5 1.2-1 1.8 0 1.2-.9 .6 .2 1.7 3 1.2-1 1.8 .8 .6-.3 .6 .5 1.2-.3 .6-.8 1.7 .8 1.8-1 1.2 1.2 1.8-.5 1.8 2.3 .5-1.1 1.2-.6 .6 .6 1.2-1.4 2.4 2.5 .6 0 1.1-2.2 3.6 2.5 1.2-.8 .6-1.1 .6 .6 .6-.3 .5 .8 1.2 0 .6-.5 3 1.9 1.2-1.4 1.2 1 1.1-.1 .6 1.2 1.2-.5 .6-.9 1.2 1.8 1.8-1.5 2.9 1.7 3.6-.8 .6 .6 .6-.3 .5 .3 .6-.8 .6 .9 1.2-.1 .6-1.3 1.8 2.1 1.2-1.4 .6 .2 .6-.7 2.3 1.5 1.2-1.4 1.2-.4 1.8 2.1 1.1-1.7 1.2 .1 1.2-1.2 1.2 1.2 1.8-1.6 .6 .2 .6-.4 1.7 .5 1.2-.6 1.8 1.1 1.8-.8 .6 .6 .5-.2 3 2.1 .6 1.3 1.2 .6 .6-.1 .6 1.1 .6-.1 1.7 1.1 .6-.4 .6 .3 1.2 2.1 1.2 .7 .6-.2 1.8 2.4 1.1 .4 1.8 2 .6-.1 2.4 1.8 .6 3.6 2.9 8 1.8 1.3 3.5 5.6 1.8 1.1 3.6 4.2 1.8 1.3 3.5 1.5 5.3 .8 8.3 .3 95.3 0" clip-path="url(#k18)" style="fill: none; stroke: #f5a623; stroke-width: 4.5; stroke-linecap: square"/><path d="M1224 1043.8l.6 .1 .6-1.2 .6 1.3 .6-.2 1.7 1.3 .6 .1 .6-1.5 .6 .6 .6-.2 .6 1.2 1.8-2.2 1.8 2.5 1.1-.5 1.2 3 1.8-1.8 2.4 4.9 1.7 1 2.4-2.6 .6 1.3 1.8-1.5 .6 .6 1.1-.9 .6-1.5 .6 .4 .6-1 1.8 1.2 .6-.1 .6-1.4 1.8-.1 1.1-1.7 .6-.1 2.4 .4 1.2 .8 .6-1.2 1.2 .2 .6 1.6 1.1-.3 1.2 1.5 1.2 .2 .6-1.3 .6 0 1.2-2.5 .6-.2 1.1 2.7 .6 .7 .6-.4 .6 .5 1.2-.5 .6-1.7 1.2 .2 .6 .8 .6 0 .6 1.1 1.7-2.9 .6-.2 .6 1.5 .6-.8 .6 .7 .6-1.1 1.2 .9 1.2-.1 .6-.7 2.9 1.1 .6-.2 1.8 1.9 .6 0 1.2-1.9 .5 .7 .6 0 .6 2.1 .6-.3 1.8 1 .6-.3 1.2-2.4 .6 .6 .6-1.2 1.7 .5 1.2-.8 1.2 .6 .6-.6 1.2 1.3 1.7-.2 .6 1.1 1.8-1.4 1.2-.1 .6 .9 .6 0 1.8-2.5 2.3 .8 1.8-.9 .6 .1 2.4 2.7 .6-.6 .5 .7 1.2-.5 1.2 1.3 1.2 .2 1.2 1.5 1.2-.3 1.1-1.4 .6 .1 3.6 5.6 .6-.3 2.3 1 .6-.8 1.2 5.8 1.8 19.1 2.4 17 4.7-5.5 3-14.9 3.5 9.7 3.6 5.5 1.1 .8 1.2 1.6 1.2 3.2 1.2 6.5 .6 104.1 1.8 0 .6-85.1 .5 4.7 1.2 .7 .6-.2 1.2-1.5 1.8 .7 2.9-.9 1.8 1 1.8-.7 2.4 .8 2.3-1.5 1.2 0 .6 .5 3.6-.6 1.7 .5 .6-.6 .6 .3 1.8-1.1 2.4 .2 4.1-2.7 1.8 .7 3.5-1.9 1.2 .2 1.8-1.5 .6 1 1.2-.2 .6-1.5 1.7 .6 1.8 0 1.8-2.1 .6 .3 1.7-.6 .6 .9 1.8-2 2.4 .5 1.8-1.4 1.1 .1 1.8-1.1 1.8 .6 3-1.8 2.9-.8 .6 .4 .6-.6 .6 .3 1.8-1.2 1.1 .3 14.8-2.3 3 .1 6.5-1.6 1.8 .4 2.9-1 4.2-.2 2.9-.9 11.3-1.4 5.3-1.3 4.8-.1 7.6-1.7 1.8 .2 4.2-1 2.3 .1 7.7-1.6 6.5-.4 1.8-.8 2.4 .1 5.3-1.3 2.4 .4 5.9-1.2 4.1 .1 3.6-.9 2.4 .3 5.9-1.2 1.7 .4 2.4-.3 3-.9 3.5-.2 .6 .3 3-.7 9.4-.5 1.8-.5 3.6 .4 2.9-.6 1.8 .3 2.4-.7 3.5 .3 11.3-.5 1.7 .5 1.8-.3 3 1 5.3-.1 6.5 1.2 2.4-.3 7.1 1.4 1.8-.6 1.1 .6 4.8 .8 4.1 0 3 .8 5.9 .2 3.6 .7 1.7-.2 1.8 .6 1.8-.1 9.4 1.5 2.4-.4 2.4 .7 5.3 .4 1.8 .7 2.4-.4 1.7 .9 1.8-.2 1.2 .5 5.9 .8 3-.1 2.3 .9 1.2-.5 1.8 .7 4.7 .1 10.7 1.9 8.3 .3 10.6 2 1.8-.1 1.2 .5 9.4 1.1 1.8-.2 10.1 1.7 3.5 .1 3 .8 1.8-.2 2.3 .7 1.8-.2 1.8 .7 2.9 0 2.4 1.1 7.1 1 13 3.4 3.6 .3 1.2 .6 4.1 .6 4.2 1.4 1.7-.4 4.8 1.6 2.3-.1 1.8 1.1 9.5 1.6 2.9 1.2 1.8-.3 2.4 1 1.8 .1 2.9 1 8.3 .8 3.6 1.2 5.9 .7 2.9 1.1 1.8-.1 1.8 .8 7.1 .9 1.8 .9 2.9-.9 5.9 1.3 4.8 .1 6.5 .8 1.2-.3 1.7 .6 16 .7 3 .6 1.2-.3 3.5 .7 1.8-.3 10.1 1 3.5-.5 6.5 .8 1.2-.3 4.7 .7 1.8-.4 10.1 .9 2.9-.3 7.1 .7 4.2-.4 1.2 .6 4.1 .1" clip-path="url(#k18)" style="fill: none; stroke: #2020ff; stroke-width: 3.5; stroke-linecap: square"/><path d="M 1224 1206 
L 1224 1019.6 
" class="s6"/><path d="M 1992.8 1206 
L 1992.8 1019.6 
" class="s6"/><path d="M 1224 1206 
L 1992.8 1206 
" class="s6"/><path d="M 1224 1019.6 
L 1992.8 1019.6 
" class="s6"/><path d="M 1337.2 1206 
L 1337.2 1019.6 
" clip-path="url(#k18)" class="s24"/><path d="M 1236.8 1195.5 
L 1861.1 1195.5 
Q 1864.9 1195.5 1864.9 1191.7 
L 1864.9 1162.4 
Q 1864.9 1158.6 1861.1 1158.6 
L 1236.8 1158.6 
Q 1233 1158.6 1233 1162.4 
L 1233 1191.7 
Q 1233 1195.5 1236.8 1195.5 
z
" class="s35"/><path d="M 1241.6 1176.3 
L 1260 1176.3 
L 1278.3 1176.3 
" style="fill: none; stroke: #a52a2a; stroke-opacity: 0.85; stroke-width: 4; stroke-linecap: square"/><g transform="translate(1294.2784 1182.876)"><text><tspan x="0" y="-0.15625" class="s23">J</tspan><tspan x="5.529785" y="2.960938" class="s16">x</tspan><tspan x="13.297119" y="2.960938" class="s16">i</tspan></text></g><path d="M 1348.6 1176.3 
L 1366.9 1176.3 
L 1385.3 1176.3 
" style="fill: none; stroke: #808080; stroke-opacity: 0.8; stroke-width: 4; stroke-linecap: square"/><g transform="translate(1401.2504 1182.876)"><text><tspan x="0" y="-0.15625" class="s10">−</tspan><tspan x="15.710449" y="-0.15625" class="s23">J</tspan><tspan x="21.240234" y="2.960938" class="s16">x</tspan><tspan x="29.007568" y="2.960938" class="s16">e</tspan></text></g><path d="M 1475.7 1176.3 
L 1494 1176.3 
L 1512.4 1176.3 
" style="fill: none; stroke: #ffa500; stroke-opacity: 0.85; stroke-width: 4; stroke-linecap: square"/><g transform="translate(1528.3384 1182.876)"><text><tspan x="0" y="-0.384375" class="s23">J</tspan><tspan x="24.778259" y="-0.384375" class="s23">p</tspan><tspan x="5.529785" y="2.732813" class="s16">x</tspan><tspan x="13.297119" y="2.732813" class="s16">i</tspan><tspan x="17.463196" y="-0.384375" class="s10">(</tspan><tspan x="36.456848" y="-1.234375" class="s10">̃</tspan><tspan x="40.333069" y="-0.384375" class="s10">&gt;</tspan><tspan x="59.696472" y="-0.384375" class="s10">2</tspan><tspan x="71.625793" y="-0.384375" class="s10">.</tspan><tspan x="77.585876" y="-0.384375" class="s10">0</tspan><tspan x="89.515198" y="-0.384375" class="s10">0</tspan><tspan x="101.444519" y="-0.384375" class="s10">)</tspan></text></g><path d="M 1674.2 1176.3 
L 1692.6 1176.3 
L 1710.9 1176.3 
" style="fill: none; stroke: #2020ff; stroke-opacity: 0.85; stroke-width: 4; stroke-linecap: square"/><g transform="translate(1726.8664 1182.876)"><text><tspan x="0" y="-0.384375" class="s10">−</tspan><tspan x="37.602051" y="-0.384375" class="s10">(</tspan><tspan x="56.595703" y="-1.234375" class="s10">̃</tspan><tspan x="60.471924" y="-0.384375" class="s10">&gt;</tspan><tspan x="79.835327" y="-0.384375" class="s10">0</tspan><tspan x="91.764648" y="-0.384375" class="s10">.</tspan><tspan x="97.724731" y="-0.384375" class="s10">0</tspan><tspan x="109.654053" y="-0.384375" class="s10">1</tspan><tspan x="121.583374" y="-0.384375" class="s10">)</tspan><tspan x="15.710449" y="-0.384375" class="s23">J</tspan><tspan x="44.917114" y="-0.384375" class="s23">p</tspan><tspan x="21.240234" y="2.732813" class="s16">x</tspan><tspan x="29.007568" y="2.732813" class="s16">e</tspan></text></g><path d="M 1922 1082.7 
L 1973.8 1082.7 
L 1973.8 1043.5 
L 1922 1043.5 
z
" clip-path="url(#k18)" class="s14"/><text class="s15" x="1947.9" y="1071.221063">(g)</text><path d="M 108.8 451.3 
L 108.8 264.9 
" class="s3"/><use xlink:href="#k0" x="108.8" y="451.3" class="s2"/><path d="M 262.6 451.3 
L 262.6 264.9 
" class="s3"/><use xlink:href="#k0" x="262.62" y="451.3" class="s2"/><path d="M 416.4 451.3 
L 416.4 264.9 
" class="s3"/><use xlink:href="#k0" x="416.44" y="451.3" class="s2"/><path d="M 570.3 451.3 
L 570.3 264.9 
" class="s3"/><use xlink:href="#k0" x="570.26" y="451.3" class="s2"/><path d="M 724.1 451.3 
L 724.1 264.9 
" class="s3"/><use xlink:href="#k0" x="724.08" y="451.3" class="s2"/><path d="M 877.9 451.3 
L 877.9 264.9 
" class="s3"/><use xlink:href="#k0" x="877.9" y="451.3" class="s2"/><path d="M 139.6 451.3 
L 139.6 264.9 
" class="s3"/><use xlink:href="#k1" x="139.564" y="451.3" class="s0"/><path d="M 170.3 451.3 
L 170.3 264.9 
" class="s3"/><use xlink:href="#k1" x="170.328" y="451.3" class="s0"/><path d="M 201.1 451.3 
L 201.1 264.9 
" class="s3"/><use xlink:href="#k1" x="201.092" y="451.3" class="s0"/><path d="M 231.9 451.3 
L 231.9 264.9 
" class="s3"/><use xlink:href="#k1" x="231.856" y="451.3" class="s0"/><path d="M 293.4 451.3 
L 293.4 264.9 
" class="s3"/><use xlink:href="#k1" x="293.384" y="451.3" class="s0"/><path d="M 324.1 451.3 
L 324.1 264.9 
" class="s3"/><use xlink:href="#k1" x="324.148" y="451.3" class="s0"/><path d="M 354.9 451.3 
L 354.9 264.9 
" class="s3"/><use xlink:href="#k1" x="354.912" y="451.3" class="s0"/><path d="M 385.7 451.3 
L 385.7 264.9 
" class="s3"/><use xlink:href="#k1" x="385.676" y="451.3" class="s0"/><path d="M 447.2 451.3 
L 447.2 264.9 
" class="s3"/><use xlink:href="#k1" x="447.204" y="451.3" class="s0"/><path d="M 478 451.3 
L 478 264.9 
" class="s3"/><use xlink:href="#k1" x="477.968" y="451.3" class="s0"/><path d="M 508.7 451.3 
L 508.7 264.9 
" class="s3"/><use xlink:href="#k1" x="508.732" y="451.3" class="s0"/><path d="M 539.5 451.3 
L 539.5 264.9 
" class="s3"/><use xlink:href="#k1" x="539.496" y="451.3" class="s0"/><path d="M 601 451.3 
L 601 264.9 
" class="s3"/><use xlink:href="#k1" x="601.024" y="451.3" class="s0"/><path d="M 631.8 451.3 
L 631.8 264.9 
" class="s3"/><use xlink:href="#k1" x="631.788" y="451.3" class="s0"/><path d="M 662.6 451.3 
L 662.6 264.9 
" class="s3"/><use xlink:href="#k1" x="662.552" y="451.3" class="s0"/><path d="M 693.3 451.3 
L 693.3 264.9 
" class="s3"/><use xlink:href="#k1" x="693.316" y="451.3" class="s0"/><path d="M 754.8 451.3 
L 754.8 264.9 
" class="s3"/><use xlink:href="#k1" x="754.844" y="451.3" class="s0"/><path d="M 785.6 451.3 
L 785.6 264.9 
" class="s3"/><use xlink:href="#k1" x="785.608" y="451.3" class="s0"/><path d="M 816.4 451.3 
L 816.4 264.9 
" class="s3"/><use xlink:href="#k1" x="816.372" y="451.3" class="s0"/><path d="M 847.1 451.3 
L 847.1 264.9 
" class="s3"/><use xlink:href="#k1" x="847.136" y="451.3" class="s0"/><use xlink:href="#k2" x="108.8" y="451.3" class="s2"/><text class="s12" x="103.7" y="460.68407">−0.1</text><use xlink:href="#k2" x="108.8" y="420.233333" class="s2"/><text class="s12" x="103.7" y="429.617404">0.0</text><use xlink:href="#k2" x="108.8" y="389.166667" class="s2"/><text class="s12" x="103.7" y="398.550737">0.1</text><use xlink:href="#k2" x="108.8" y="358.1" class="s2"/><text class="s12" x="103.7" y="367.48407">0.2</text><use xlink:href="#k2" x="108.8" y="327.033333" class="s2"/><text class="s12" x="103.7" y="336.417404">0.3</text><use xlink:href="#k2" x="108.8" y="295.966667" class="s2"/><text class="s12" x="103.7" y="305.350737">0.4</text><use xlink:href="#k2" x="108.8" y="264.9" class="s2"/><text class="s12" x="103.7" y="274.28407">0.5</text><g transform="translate(29.462469 389.4625) rotate(-90)"><text><tspan x="0" y="-0.9375" class="s7">v</tspan><tspan x="44.548828" y="-0.9375" class="s7">c</tspan><tspan x="19.233398" y="4.476562" class="s8">x</tspan><tspan x="33.599121" y="-0.9375" class="s9">/</tspan></text></g><path d="M 108.8 451.3 
L 108.8 264.9 
" class="s6"/><path d="M 108.8 451.3 
L 877.9 451.3 
" class="s6"/><path d="M 108.8 264.9 
L 877.9 264.9 
" class="s6"/><path d="M 807.1 315.1 
L 857.2 315.1 
L 857.2 276.1 
L 807.1 276.1 
z
" clip-path="url(#k19)" class="s14"/><text class="s15" x="832.2" y="303.771062">(b)</text><text class="s18" x="125.4" y="34.3">down-</text><text class="s18" x="125.4" y="59.2">stream</text><text class="s18" x="541.4" y="38">upstream</text><text class="s18" x="326.3" y="139.7">precursor</text><text class="s18" x="570.9" y="158.9">far upstream</text><defs><clipPath id="k6"><rect x="108.8" y="13.3" width="769.1" height="186.4"/></clipPath><clipPath id="k7"><rect x="108.8" y="264.9" width="769.1" height="186.4"/></clipPath><clipPath id="k8"><rect x="108.8" y="516.5" width="769.1" height="186.4"/></clipPath><clipPath id="k9"><rect x="108.8" y="768.1" width="769.1" height="186.4"/></clipPath><clipPath id="k10"><rect x="1224" y="13.3" width="768.8" height="186.4"/></clipPath><clipPath id="k11"><rect x="1224" y="264.9" width="768.8" height="186.4"/></clipPath><clipPath id="k12"><rect x="1224" y="516.5" width="768.8" height="186.4"/></clipPath><clipPath id="k13"><rect x="1224" y="768.1" width="768.8" height="186.4"/></clipPath><clipPath id="k14"><rect x="900.9" y="516.5" width="26.8" height="438"/></clipPath><clipPath id="k15"><rect x="2015.75" y="13.3" width="27.05" height="438"/></clipPath><clipPath id="k16"><rect x="2015.75" y="516.5" width="27.05" height="438"/></clipPath><clipPath id="k17"><rect x="108.8" y="1019.6" width="769.1" height="186.4"/></clipPath><clipPath id="k18"><rect x="1224" y="1019.6" width="768.8" height="186.4"/></clipPath><clipPath id="k19"><rect x="108.8" y="264.9" width="769.1" height="186.4"/></clipPath></defs></svg>

</body></html>
